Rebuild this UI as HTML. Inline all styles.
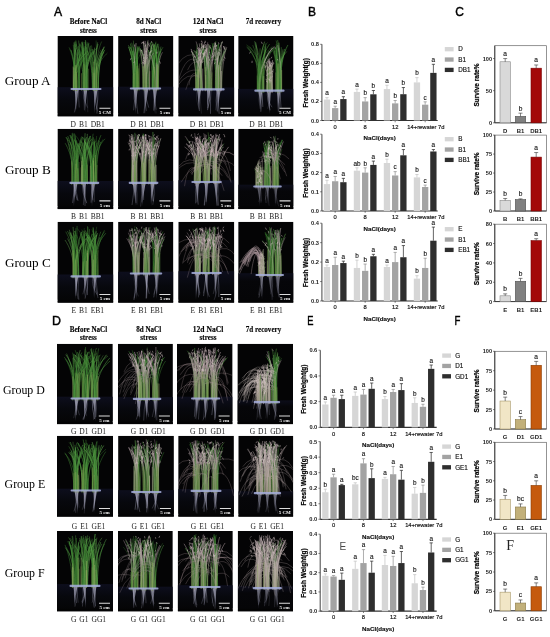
<!DOCTYPE html>
<html><head><meta charset="utf-8"><title>Figure</title>
<style>html,body{margin:0;padding:0;background:#fff;}svg{display:block;}
.s{font-family:"Liberation Sans",Arial,sans-serif}.sb{font-family:"Liberation Sans",Arial,sans-serif;font-weight:bold}
.r{font-family:"Liberation Serif","Times New Roman",serif}.rb{font-family:"Liberation Serif","Times New Roman",serif;font-weight:bold}</style>
</head><body>
<svg width="550" height="637" viewBox="0 0 550 637">
<rect width="550" height="637" fill="#fff"/>
<defs><filter id="bl" x="-5%" y="-5%" width="110%" height="110%"><feGaussianBlur stdDeviation="0.35"/></filter><linearGradient id="lw" x1="0" y1="0" x2="0" y2="1"><stop offset="0" stop-color="#0d0e1d"/><stop offset="0.5" stop-color="#07080d"/><stop offset="1" stop-color="#050506"/></linearGradient><linearGradient id="lw2" x1="0" y1="0" x2="0" y2="1"><stop offset="0" stop-color="#0c0d1a"/><stop offset="0.3" stop-color="#060609"/><stop offset="1" stop-color="#050507"/></linearGradient><linearGradient id="rg" x1="0" y1="0" x2="0" y2="1"><stop offset="0" stop-color="#d6d6ea"/><stop offset="0.5" stop-color="#a9a9c0"/><stop offset="1" stop-color="#6a6a80" stop-opacity="0.5"/></linearGradient></defs>
<text class="s" x="53.9" y="15.8" font-size="12.2" stroke="#000" stroke-width="0.4">A</text>
<text class="s" x="307.9" y="15.9" font-size="12" stroke="#000" stroke-width="0.4">B</text>
<text class="s" x="455.3" y="15.8" font-size="12" stroke="#000" stroke-width="0.4">C</text>
<text class="s" x="52.1" y="324.7" font-size="12.4" stroke="#000" stroke-width="0.4">D</text>
<text class="s" transform="translate(307.2 324.8) scale(0.74 1)" font-size="12.6" stroke="#000" stroke-width="0.4">E</text>
<text class="s" transform="translate(454.4 324.7) scale(0.78 1)" font-size="12.4" stroke="#000" stroke-width="0.4">F</text>
<text class="rb" transform="translate(88.4 24.3) scale(1 1.13)" font-size="7.1" text-anchor="middle" stroke="#000" stroke-width="0.12">Before NaCl</text>
<text class="rb" transform="translate(88.4 32.5) scale(1 1.13)" font-size="7.1" text-anchor="middle" stroke="#000" stroke-width="0.12">stress</text>
<text class="rb" transform="translate(148.7 24.3) scale(1 1.13)" font-size="7.1" text-anchor="middle" stroke="#000" stroke-width="0.12">8d NaCl</text>
<text class="rb" transform="translate(148.7 32.5) scale(1 1.13)" font-size="7.1" text-anchor="middle" stroke="#000" stroke-width="0.12">stress</text>
<text class="rb" transform="translate(208 24.3) scale(1 1.13)" font-size="7.6" text-anchor="middle" stroke="#000" stroke-width="0.12">12d NaCl</text>
<text class="rb" transform="translate(208 32.5) scale(1 1.13)" font-size="7.1" text-anchor="middle" stroke="#000" stroke-width="0.12">stress</text>
<text class="rb" transform="translate(263.5 24.3) scale(1 1.13)" font-size="7.1" text-anchor="middle" stroke="#000" stroke-width="0.12">7d recovery</text>
<text class="rb" transform="translate(88.4 331.7) scale(1 1.13)" font-size="7.1" text-anchor="middle" stroke="#000" stroke-width="0.12">Before NaCl</text>
<text class="rb" transform="translate(88.4 339.9) scale(1 1.13)" font-size="7.1" text-anchor="middle" stroke="#000" stroke-width="0.12">stress</text>
<text class="rb" transform="translate(148.7 331.7) scale(1 1.13)" font-size="7.1" text-anchor="middle" stroke="#000" stroke-width="0.12">8d NaCl</text>
<text class="rb" transform="translate(148.7 339.9) scale(1 1.13)" font-size="7.1" text-anchor="middle" stroke="#000" stroke-width="0.12">stress</text>
<text class="rb" transform="translate(208 331.7) scale(1 1.13)" font-size="7.6" text-anchor="middle" stroke="#000" stroke-width="0.12">12d NaCl</text>
<text class="rb" transform="translate(208 339.9) scale(1 1.13)" font-size="7.1" text-anchor="middle" stroke="#000" stroke-width="0.12">stress</text>
<text class="rb" transform="translate(263.5 331.7) scale(1 1.13)" font-size="7.1" text-anchor="middle" stroke="#000" stroke-width="0.12">7d recovery</text>
<text class="r" x="27.75" y="84.6" font-size="13.2" text-anchor="middle">Group A</text>
<text class="r" x="27.9" y="174" font-size="13.2" text-anchor="middle">Group B</text>
<text class="r" x="27.8" y="267.2" font-size="13.2" text-anchor="middle">Group C</text>
<text class="r" x="23.9" y="393.5" font-size="11.9" text-anchor="middle">Group D</text>
<text class="r" x="24.9" y="488" font-size="11.9" text-anchor="middle">Group E</text>
<text class="r" x="24.65" y="576.5" font-size="11.9" text-anchor="middle">Group F</text>
<clipPath id="c1"><rect x="57.45" y="36" width="55.95" height="80.5"/></clipPath>
<g clip-path="url(#c1)">
<rect x="57.45" y="36" width="55.95" height="80.5" fill="#040405"/>
<rect x="57.45" y="87.2" width="55.95" height="26.3" fill="url(#lw)"/>
<linearGradient id="g1" gradientUnits="userSpaceOnUse" x1="0" y1="89" x2="0" y2="41"><stop offset="0" stop-color="#6f9650"/><stop offset="0.4" stop-color="#8f9c78"/><stop offset="0.58" stop-color="#c2afb0"/><stop offset="1" stop-color="#b29ca4"/></linearGradient>
<g filter="url(#bl)" fill="none" stroke-linecap="round">
<path d="M74.5 89.5C75.7 95 75.1 104.8 75.7 112.8C76.3 104.8 77.3 95 78.5 89.5Z" fill="url(#rg)" stroke="none" opacity="0.6"/>
<path d="M78.6 90Q78.4 98 79.2 107.1" stroke="#b4b4cc" stroke-width="0.7" opacity="0.31"/>
<path d="M75.2 90Q76.7 98.9 75.9 108.9" stroke="#b4b4cc" stroke-width="0.5" opacity="0.41"/>
<path d="M78.5 90Q77.3 100.6 74.4 112.1" stroke="#b4b4cc" stroke-width="0.5" opacity="0.47"/>
<path d="M83.5 89.5C84.6 95 84.5 104.7 85.1 112.7C85.7 104.7 86.2 95 87.4 89.5Z" fill="url(#rg)" stroke="none" opacity="0.6"/>
<path d="M84.3 90Q83.6 99.5 84.4 109.9" stroke="#b4b4cc" stroke-width="0.6" opacity="0.31"/>
<path d="M82.9 90Q82.3 98.2 87.4 107.3" stroke="#b4b4cc" stroke-width="0.6" opacity="0.34"/>
<path d="M86.2 90Q88 100.4 87.8 111.8" stroke="#b4b4cc" stroke-width="0.4" opacity="0.32"/>
<path d="M93.3 89.5C94.6 95 93.8 105.7 94.4 113.7C95 105.7 96.4 95 97.6 89.5Z" fill="url(#rg)" stroke="none" opacity="0.6"/>
<path d="M95.5 90Q93.6 100 97.4 111" stroke="#b4b4cc" stroke-width="0.6" opacity="0.32"/>
<path d="M97.9 90Q98.6 99.1 96.2 109.2" stroke="#b4b4cc" stroke-width="0.7" opacity="0.4"/>
<path d="M96 90Q98 101.1 97 113.2" stroke="#b4b4cc" stroke-width="0.7" opacity="0.41"/>
<path d="M93.7 89C93.9 58.6 96 49.2 97.8 44.2M85.9 89C85.6 63.9 90.8 54.1 94.8 48.9" stroke="#33742c" stroke-width="0.4" opacity="0.82"/>
<path d="M78.2 89C78 63.2 79.1 54.1 79.8 49.3M76 89C75.5 61.2 72.2 52.4 69.2 47.6M86 89C85.9 63.1 85.9 49.7 85.8 42.4M75.1 89C75.1 71 78.4 58 81.1 51" stroke="#33742c" stroke-width="0.5" opacity="0.82"/>
<path d="M92.4 89C92.1 64.9 89.7 56 87.5 51.2M74.1 89C74.2 66.3 75.2 51.9 76 44.2" stroke="#4a923d" stroke-width="0.7" opacity="0.82"/>
<path d="M77.8 89C77.4 69.6 82.4 57.8 86.1 51.5M94.1 89C94.5 67.4 99.2 55.3 103.4 48.8M87 89C86.7 66.4 89 53.1 90.7 46" stroke="#4a923d" stroke-width="0.5" opacity="0.82"/>
<path d="M74.6 89C75.1 67.3 74.2 51.4 73.8 42.8M87.5 89C87.1 63.9 86 49.9 84.8 42.3" stroke="#64a651" stroke-width="0.4" opacity="0.82"/>
<path d="M75.7 89C75.3 62.1 81.6 53.5 86.4 48.8M73.9 89C74.2 69 79.9 54.4 84.8 46.5M94 89C93.8 69.8 99.9 57 104.7 50.1M76.4 89C76.5 64.1 77.9 55.4 79.2 50.7M74.1 89C74.5 73.3 81.6 60.9 87.7 54.2M96.4 89C96.2 66.6 100.4 57.1 103.7 51.9M83.5 89C83.4 64.9 90.9 53.9 97 48" stroke="#3e8631" stroke-width="0.6" opacity="0.82"/>
<path d="M93.7 89C93.3 71.2 90.3 57.9 87.6 50.7M92.9 89C92.7 68 97.2 56.3 100.8 50M96.6 89C97 57.3 96.3 46.6 96.1 40.9M86.6 89C86.3 59.2 87 49.2 87.4 43.9" stroke="#438a36" stroke-width="0.4" opacity="0.82"/>
<path d="M75.4 89C75.3 69.5 73 57.1 71.1 50.4" stroke="#438a36" stroke-width="0.7" opacity="0.82"/>
<path d="M76.3 89C76.2 65.1 75.7 54.5 75.3 48.8M73.6 89C73.8 64.7 80.5 57.3 86.1 53.3M84.5 89C84.6 67.3 83 51.3 81.7 42.7M96 89C96.4 69.8 100.3 55 103.9 47" stroke="#64a651" stroke-width="0.6" opacity="0.82"/>
<path d="M73.7 89C73.8 66.8 74.5 50.9 75.1 42.3M95.1 89C95.3 63.2 93.8 54.3 92.8 49.6" stroke="#64a651" stroke-width="0.7" opacity="0.82"/>
<path d="M83 89C82.7 60.8 80.6 51.4 78.7 46.4M82.4 89C82.1 65.9 88.7 56.3 93.8 51.1M87.5 89C87.6 67.7 84.7 51.9 82.5 43.4M86 89C86.4 56.2 85.9 46.4 85.8 41.1M98.6 89C98.6 64.1 94.4 54.2 90.9 48.8" stroke="#33742c" stroke-width="0.6" opacity="0.82"/>
<path d="M78.4 89C78.5 59.2 77 47.2 75.9 40.8M97.7 89C97.5 68 101.2 56.7 104.1 50.7" stroke="#3e8631" stroke-width="0.7" opacity="0.82"/>
<path d="M95.6 89C95.6 58.2 98.9 47.6 101.5 41.9M73.7 89C73.4 65.5 80.4 53.7 85.9 47.4M95 89C94.6 67.3 101.6 58.2 107.1 53.3M83.7 89C83.3 61.1 85.4 52.1 86.7 47.3" stroke="#57a048" stroke-width="0.4" opacity="0.82"/>
<path d="M94.4 89C94.8 65 96.1 50.5 97.6 42.7M84.8 89C85.1 68.2 90 57.5 94.3 51.8M98.4 89C98.3 64.7 101.3 56.7 103.7 52.4M85.2 89C85.1 68.9 88.6 58.4 91.5 52.7M94.2 89C94 66.3 96.2 52.2 97.9 44.6M75.2 89C75 62.5 77.8 50.7 79.9 44.3M95 89C94.6 65.3 99.3 54.9 102.9 49.3M94.4 89C94.6 68.6 94.4 55.2 94.5 48" stroke="#64a651" stroke-width="0.5" opacity="0.82"/>
<path d="M75.7 89C75.9 69 72.4 55.9 69.7 48.9M85.5 89C85.3 60.4 87.5 49.3 89.1 43.3M77.8 89C78 65.2 82.7 51.8 86.7 44.6" stroke="#3e8631" stroke-width="0.4" opacity="0.82"/>
<path d="M86.5 89C86.3 63.5 83.5 52 81 45.8" stroke="#438a36" stroke-width="0.6" opacity="0.82"/>
<path d="M84 89C84.1 67.3 82.8 52.8 81.8 45M75.7 89C75.9 67.6 74.4 53 73.3 45.2M73.4 89C73.2 60.2 74.3 48.1 75 41.5M86.9 89C86.7 68.3 80.5 52.3 75.3 43.7M84.3 89C84.2 64.5 83.6 50 83 42.2M92.4 89C92.9 61.6 92 51.4 91.6 45.9" stroke="#3e8631" stroke-width="0.5" opacity="0.82"/>
<path d="M92.7 89C93 62.8 90.1 49.6 87.9 42.6M98.2 89C98.6 60.1 101.7 51.7 104.5 47.1M83.6 89C83.7 64.6 78.8 51.9 74.8 45" stroke="#57a048" stroke-width="0.5" opacity="0.82"/>
<path d="M85.1 89C84.7 67.1 83.5 50.8 82.2 42M79.6 89C79.7 64 77.2 55.2 75.3 50.4M86.5 89C86.6 57.1 85.9 46.2 85.4 40.4" stroke="#57a048" stroke-width="0.6" opacity="0.82"/>
<path d="M79.1 89C78.7 66 81.8 54.7 84 48.7M85 89C85.4 63.6 82.1 50.6 79.8 43.6" stroke="#438a36" stroke-width="0.5" opacity="0.82"/>
<path d="M87 89C87.4 67.8 87.6 52.2 88 43.8M79.6 89C80.1 57.9 79.1 46.8 78.7 40.9" stroke="#4a923d" stroke-width="0.6" opacity="0.82"/>
<path d="M93.6 89C94.1 68.1 91.9 56.1 90.4 49.7M96.7 89C96.8 70.3 93.1 58.6 90.2 52.3" stroke="#33742c" stroke-width="0.7" opacity="0.82"/>
<path d="M76.8 90.5V74.5" stroke="#6a9142" stroke-width="0.55" opacity="0.85"/>
<path d="M76.6 90.5V65" stroke="#6a9142" stroke-width="0.55" opacity="0.85"/>
<path d="M73.9 90.5V68" stroke="#9cb068" stroke-width="0.55" opacity="0.85"/>
<path d="M75.4 90.5V65.6" stroke="#9cb068" stroke-width="0.55" opacity="0.85"/>
<path d="M76.4 90.5V72.4" stroke="#7f9f50" stroke-width="0.55" opacity="0.85"/>
<path d="M73.2 90.5V66.9" stroke="#9cb068" stroke-width="0.55" opacity="0.85"/>
<path d="M84.2 90.5V62.1" stroke="#55843c" stroke-width="0.55" opacity="0.85"/>
<path d="M88.6 90.5V69.1" stroke="#55843c" stroke-width="0.55" opacity="0.85"/>
<path d="M85.9 90.5V65.6" stroke="#55843c" stroke-width="0.55" opacity="0.85"/>
<path d="M84 90.5V64.5" stroke="#7f9f50" stroke-width="0.55" opacity="0.85"/>
<path d="M81.6 90.5V73.6" stroke="#7f9f50" stroke-width="0.55" opacity="0.85"/>
<path d="M87 90.5V69.8" stroke="#55843c" stroke-width="0.55" opacity="0.85"/>
<path d="M93.5 90.5V62.1" stroke="#7f9f50" stroke-width="0.55" opacity="0.85"/>
<path d="M96.6 90.5V66.9" stroke="#7f9f50" stroke-width="0.55" opacity="0.85"/>
<path d="M95.4 90.5V70" stroke="#55843c" stroke-width="0.55" opacity="0.85"/>
<path d="M94 90.5V73.1" stroke="#9cb068" stroke-width="0.55" opacity="0.85"/>
<path d="M92.9 90.5V67.5" stroke="#55843c" stroke-width="0.55" opacity="0.85"/>
<path d="M96.9 90.5V63.6" stroke="#7f9f50" stroke-width="0.55" opacity="0.85"/>
<rect x="70.47" y="87.9" width="31.02" height="2.2" rx="1" fill="#a6aedc" opacity="0.85"/>
</g>
<rect x="57.45" y="114.3" width="55.95" height="2.2" fill="#030304"/>
<line x1="99.4" y1="108.2" x2="110.4" y2="108.2" stroke="#dcdcdc" stroke-width="1.1"/>
<text class="rb" x="104.9" y="113.9" font-size="5" text-anchor="middle" fill="#f2f2f2">5 CM</text>
</g>
<text class="r" x="87.7" y="126.5" font-size="7.5" text-anchor="middle" fill="#222" word-spacing="1.1">D B1 DB1</text>
<clipPath id="c2"><rect x="118.1" y="36" width="55.3" height="80.5"/></clipPath>
<g clip-path="url(#c2)">
<rect x="118.1" y="36" width="55.3" height="80.5" fill="#040405"/>
<rect x="118.1" y="86.7" width="55.3" height="26.8" fill="url(#lw)"/>
<linearGradient id="g2" gradientUnits="userSpaceOnUse" x1="0" y1="88.5" x2="0" y2="41"><stop offset="0" stop-color="#6f9650"/><stop offset="0.4" stop-color="#8f9c78"/><stop offset="0.58" stop-color="#c2afb0"/><stop offset="1" stop-color="#b29ca4"/></linearGradient>
<g filter="url(#bl)" fill="none" stroke-linecap="round">
<path d="M133.6 89C134.9 94.5 134.9 105.9 135.5 113.9C136.1 105.9 136.7 94.5 138 89Z" fill="url(#rg)" stroke="none" opacity="0.6"/>
<path d="M134.4 89.5Q135.3 99.2 133.7 109.9" stroke="#b4b4cc" stroke-width="0.6" opacity="0.47"/>
<path d="M135.7 89.5Q135.9 100.9 137.8 113.4" stroke="#b4b4cc" stroke-width="0.7" opacity="0.35"/>
<path d="M134 89.5Q132.3 98.2 136.3 107.9" stroke="#b4b4cc" stroke-width="0.5" opacity="0.3"/>
<path d="M144.1 89C145.4 94.5 144.6 105.9 145.2 113.9C145.8 105.9 147.2 94.5 148.5 89Z" fill="url(#rg)" stroke="none" opacity="0.6"/>
<path d="M143.8 89.5Q144.2 99.6 146.6 110.7" stroke="#b4b4cc" stroke-width="0.5" opacity="0.4"/>
<path d="M146.2 89.5Q144.7 97.9 148.6 107.3" stroke="#b4b4cc" stroke-width="0.7" opacity="0.38"/>
<path d="M144.7 89.5Q145.8 100.7 144.1 112.8" stroke="#b4b4cc" stroke-width="0.7" opacity="0.49"/>
<path d="M153.1 89C154.3 94.5 153.9 105.6 154.5 113.6C155.1 105.6 156 94.5 157.2 89Z" fill="url(#rg)" stroke="none" opacity="0.6"/>
<path d="M153.4 89.5Q154.7 99.3 153.8 110.2" stroke="#b4b4cc" stroke-width="0.8" opacity="0.41"/>
<path d="M153.8 89.5Q154.1 99 156.1 109.4" stroke="#b4b4cc" stroke-width="0.6" opacity="0.38"/>
<path d="M154 89.5Q155.5 100.9 156 113.2" stroke="#b4b4cc" stroke-width="0.4" opacity="0.33"/>
<path d="M155.5 88.5C155.7 59.8 157.4 50.3 158.9 45.1" stroke="#64a651" stroke-width="0.4" opacity="0.82"/>
<path d="M156.8 88.5C156.8 67.8 152 56.2 148.1 49.9M136.7 88.5C136.5 61.5 133.2 52.3 130.3 47.4M145.9 88.5C145.9 57 144.6 48.1 143.6 43.3M148.8 88.5C148.7 64.7 150.2 52.5 151.3 45.9M135.3 88.5C135.4 63.4 134.2 53.1 133.3 47.5" stroke="#4a923d" stroke-width="0.6" opacity="0.82"/>
<path d="M143.2 88.5C142.8 64 141.1 55.1 139.4 50.3M145.5 88.5C145.4 63.7 146.7 49.5 147.6 41.8M135.3 88.5C135 63.2 136.8 53.3 137.9 47.9M152 88.5C152.1 59.7 153.1 50.3 154.1 45.3" stroke="#438a36" stroke-width="0.6" opacity="0.82"/>
<path d="M152 88.5C152.5 69.6 150.7 58.8 149.6 53" stroke="#33742c" stroke-width="0.6" opacity="0.82"/>
<path d="M145.6 88.5C145.6 66 149.9 53.2 153.4 46.3M137.5 88.5C137.4 69.7 134.2 58.3 131.5 52.2M146.4 88.5C146.2 60.5 142.4 51.8 139.1 47.1M152.9 88.5C152.6 68.5 158.3 54.9 162.8 47.5" stroke="#4a923d" stroke-width="0.5" opacity="0.82"/>
<path d="M133.1 88.5C132.8 64.4 136.2 54 138.8 48.4M157.4 88.5C157 66.6 155.7 52.1 154.4 44.3M136.6 88.5C136.7 67.7 137 54 137.4 46.7M138.6 88.5C138.5 65.1 136.4 53.6 134.6 47.4" stroke="#3e8631" stroke-width="0.7" opacity="0.82"/>
<path d="M135.7 88.5C135.3 69.5 132.4 56.4 129.7 49.3M147.6 88.5C147.8 63.6 150 51.8 151.9 45.4M147.2 88.5C146.9 62.8 143.4 53.4 140.3 48.3M152.8 88.5C152.7 63.3 155 55.2 156.9 50.9M138.5 88.5C138.4 63.7 135.8 55.4 133.6 51" stroke="#3e8631" stroke-width="0.6" opacity="0.82"/>
<path d="M134.1 88.5C134.2 61.6 132.2 50.5 130.7 44.6M156.5 88.5C156.1 68 158.9 54.3 160.9 46.9M135.8 88.5C136 61.1 133.5 49.4 131.7 43.1M134.3 88.5C134.2 55.4 133.8 46 133.4 41" stroke="#57a048" stroke-width="0.5" opacity="0.82"/>
<path d="M137.6 88.5C137.8 57.6 136.7 48.8 136 44M133.4 88.5C133 67.3 138.9 55.4 143.3 49.1M137.4 88.5C137.6 69.8 133.4 58.6 130.1 52.5" stroke="#3e8631" stroke-width="0.4" opacity="0.82"/>
<path d="M133.8 88.5C134.2 65.3 130.8 52.5 128.5 45.6M148.9 88.5C148.8 67.8 143.9 55.5 139.7 48.9M146.9 88.5C146.6 64.5 147.9 55.6 148.7 50.8M158.3 88.5C158.5 65.9 159.9 55 161.1 49.2" stroke="#64a651" stroke-width="0.5" opacity="0.82"/>
<path d="M158 88.5C158.3 59.9 154.6 48.2 151.8 41.9M153 88.5C152.7 62.2 155.6 50.4 157.7 44M138.2 88.5C137.8 69 136.5 55.9 135.2 48.9M134.9 88.5C135.3 70.2 133.8 57.9 132.9 51.3" stroke="#438a36" stroke-width="0.7" opacity="0.82"/>
<path d="M153.8 88.5C154.2 58.9 153.7 49.2 153.6 44" stroke="#64a651" stroke-width="0.7" opacity="0.82"/>
<path d="M154.5 88.5C154.1 66.1 152.3 53.7 150.4 47.1" stroke="#438a36" stroke-width="0.5" opacity="0.82"/>
<path d="M133.7 88.5C134.1 62.1 130.9 52.6 128.6 47.4M157.6 88.5C157.5 62 156.5 49.7 155.5 43.1M152.8 88.5C153 58.7 151.7 48.2 150.8 42.5" stroke="#57a048" stroke-width="0.6" opacity="0.82"/>
<path d="M152.5 88.5C152.3 64.7 155.6 51.4 158.1 44.3M137 88.5C137.4 62.9 133 52.6 129.8 47M158 88.5C158.3 62.8 158.4 52.6 158.8 47M155.3 88.5C155.6 62.6 152.7 50.2 150.5 43.5M155.5 88.5C155.9 71.4 158 58.3 160.1 51.3" stroke="#4a923d" stroke-width="0.7" opacity="0.82"/>
<path d="M155.5 88.5C155.9 59 155.7 48 155.9 42M132.8 88.5C132.5 59.7 131.6 49.3 130.6 43.7" stroke="#3e8631" stroke-width="0.5" opacity="0.82"/>
<path d="M136.9 88.5C136.8 66.3 137.7 53.7 138.3 47M152.9 88.5C153.4 68.9 153.9 53.5 154.8 45.2" stroke="#64a651" stroke-width="0.6" opacity="0.82"/>
<path d="M157.5 88.5C157.5 64.8 156.6 54.8 155.9 49.5" stroke="#57a048" stroke-width="0.7" opacity="0.82"/>
<path d="M134.2 88.5C134.5 64.3 137.3 52.6 139.9 46.2" stroke="#4a923d" stroke-width="0.4" opacity="0.82"/>
<path d="M146.2 88.5C146.4 61.3 145.6 48.3 145.1 41.3" stroke="url(#g2)" stroke-width="0.7" opacity="0.82"/>
<path d="M149.4 88.5C149.7 65.2 147.1 55.2 145.1 49.8M145.5 88.5C145.9 66.8 146.9 52.7 148.1 45.1" stroke="url(#g2)" stroke-width="0.4" opacity="0.82"/>
<path d="M155.8 88.5C155.3 70.3 152.3 58.6 149.3 52.4M143.2 88.5C143.1 63.5 144.5 51.2 145.6 44.6M157.5 88.5C157.3 63.4 160.1 56.4 162.3 52.6M143.4 88.5C143 67.5 146.1 51 148.3 42.2M145 88.5C144.6 63.4 146.7 52.6 148.1 46.8M146.1 88.5C146.1 68.3 149.7 52.8 152.6 44.4M145.8 88.5C145.6 66.8 149.9 57.9 153.3 53.2M146.3 88.5C146.2 65.1 144.9 50.5 143.7 42.7M147.9 88.5C148.2 68.1 147 55.3 146.3 48.3" stroke="url(#g2)" stroke-width="0.5" opacity="0.82"/>
<path d="M143.2 88.5C143.3 62.3 141.4 53.9 140 49.3M133.6 88.5C133.9 66.8 134.9 51.6 136 43.4M145.4 88.5C145.4 63.8 143.3 55.1 141.6 50.3M144.6 88.5C144.6 57.6 146.4 46.5 148 40.6M144.8 88.5C144.6 64.7 144.1 49.5 143.5 41.3" stroke="url(#g2)" stroke-width="0.6" opacity="0.82"/>
<path d="M134.5 44.9l0.1 1.5M131.1 58.3l-0.6 1.5M134.2 61.9l-0.4 0.8M143.5 60.5l0.7 0.9M142.5 62.6l-0.4 0.7M142.6 42.3l0.4 0.6M147.3 57.1l-0.6 1.5M146.6 51.1l-0.8 0.8M141.3 50.3l0.5 0.8M147.6 55l0.6 1M145.7 45.1l-0.4 1M143.9 54.3l0.2 0.8M149.1 44.9l0.7 1.5M142.2 42.4l-0.4 1.2M150.4 51.6l-0.4 1.5M143.3 42.1l0.7 1.2M151.5 41.6l0.2 0.8M143.4 62.3l0.5 1.6M148.9 43.5l-0.2 1.4M149 54.2l0.7 0.9M144.2 57.1l-0.4 1.5M157 52.1l-0.1 1.2M159.7 61.6l0.6 1.6M151.6 50.6l-0.6 1.6" stroke="#d2c2c2" stroke-width="0.7" opacity="0.7"/>
<path d="M137.4 90V71.9" stroke="#6a9142" stroke-width="0.55" opacity="0.85"/>
<path d="M137.8 90V66" stroke="#7f9f50" stroke-width="0.55" opacity="0.85"/>
<path d="M134.2 90V73.8" stroke="#7f9f50" stroke-width="0.55" opacity="0.85"/>
<path d="M136.6 90V66.2" stroke="#6a9142" stroke-width="0.55" opacity="0.85"/>
<path d="M139.3 90V63.9" stroke="#6a9142" stroke-width="0.55" opacity="0.85"/>
<path d="M138.8 90V68.8" stroke="#6a9142" stroke-width="0.55" opacity="0.85"/>
<path d="M149.8 90V71.6" stroke="#9aa07e" stroke-width="0.55" opacity="0.85"/>
<path d="M143.5 90V66.2" stroke="#55843c" stroke-width="0.55" opacity="0.85"/>
<path d="M146.4 90V72.5" stroke="#9aa07e" stroke-width="0.55" opacity="0.85"/>
<path d="M149.4 90V60.6" stroke="#a89c90" stroke-width="0.55" opacity="0.85"/>
<path d="M145.1 90V64.5" stroke="#6a9142" stroke-width="0.55" opacity="0.85"/>
<path d="M143.2 90V66.8" stroke="#9cb068" stroke-width="0.55" opacity="0.85"/>
<path d="M156.8 90V64.9" stroke="#9aa07e" stroke-width="0.55" opacity="0.85"/>
<path d="M156.4 90V63" stroke="#a89c90" stroke-width="0.55" opacity="0.85"/>
<path d="M152.6 90V70.6" stroke="#55843c" stroke-width="0.55" opacity="0.85"/>
<path d="M154.4 90V67.1" stroke="#9cb068" stroke-width="0.55" opacity="0.85"/>
<path d="M157.7 90V64.7" stroke="#9cb068" stroke-width="0.55" opacity="0.85"/>
<path d="M158.2 90V66.8" stroke="#7f9f50" stroke-width="0.55" opacity="0.85"/>
<rect x="129.8" y="87.4" width="31.36" height="2.2" rx="1" fill="#a6aedc" opacity="0.85"/>
</g>
<rect x="118.1" y="114.3" width="55.3" height="2.2" fill="#030304"/>
<line x1="159.4" y1="108.2" x2="170.4" y2="108.2" stroke="#dcdcdc" stroke-width="1.1"/>
<text class="rb" x="164.9" y="113.9" font-size="5" text-anchor="middle" fill="#f2f2f2">5 cm</text>
</g>
<text class="r" x="147.3" y="126.5" font-size="7.5" text-anchor="middle" fill="#222" word-spacing="1.1">D B1 DB1</text>
<clipPath id="c3"><rect x="178.3" y="36" width="56" height="80.5"/></clipPath>
<g clip-path="url(#c3)">
<rect x="178.3" y="36" width="56" height="80.5" fill="#040405"/>
<rect x="178.3" y="87.5" width="56" height="26" fill="url(#lw)"/>
<linearGradient id="g3" gradientUnits="userSpaceOnUse" x1="0" y1="89.3" x2="0" y2="41"><stop offset="0" stop-color="#6f9650"/><stop offset="0.4" stop-color="#8f9c78"/><stop offset="0.58" stop-color="#c2afb0"/><stop offset="1" stop-color="#b29ca4"/></linearGradient>
<g filter="url(#bl)" fill="none" stroke-linecap="round">
<path d="M197 89.8C198.2 95.3 198.3 103.8 198.9 111.8C199.5 103.8 199.8 95.3 201.1 89.8Z" fill="url(#rg)" stroke="none" opacity="0.6"/>
<path d="M199.6 90.3Q197.7 99.9 199.5 110.6" stroke="#b4b4cc" stroke-width="0.6" opacity="0.45"/>
<path d="M200.4 90.3Q200 101.2 201.4 113.2" stroke="#b4b4cc" stroke-width="0.4" opacity="0.34"/>
<path d="M196.9 90.3Q195.1 99.1 199.2 108.8" stroke="#b4b4cc" stroke-width="0.4" opacity="0.3"/>
<path d="M206.8 89.8C207.8 95.3 206.6 104.3 207.2 112.3C207.8 104.3 209.2 95.3 210.3 89.8Z" fill="url(#rg)" stroke="none" opacity="0.6"/>
<path d="M210.9 90.3Q210.4 101.4 210.5 113.4" stroke="#b4b4cc" stroke-width="0.7" opacity="0.46"/>
<path d="M209.4 90.3Q211.2 98.5 207.9 107.7" stroke="#b4b4cc" stroke-width="0.7" opacity="0.41"/>
<path d="M209.4 90.3Q210.8 99.5 207.7 109.6" stroke="#b4b4cc" stroke-width="0.7" opacity="0.44"/>
<path d="M216.5 89.8C217.8 95.3 217.2 105.6 217.8 113.6C218.4 105.6 219.5 95.3 220.8 89.8Z" fill="url(#rg)" stroke="none" opacity="0.6"/>
<path d="M218.3 90.3Q217.7 101.4 219.1 113.4" stroke="#b4b4cc" stroke-width="0.7" opacity="0.45"/>
<path d="M216.5 90.3Q217 99.5 215.6 109.8" stroke="#b4b4cc" stroke-width="0.4" opacity="0.38"/>
<path d="M216.8 90.3Q215.2 100.2 217.2 111" stroke="#b4b4cc" stroke-width="0.7" opacity="0.46"/>
<path d="M205.9 89.3C205.7 65 204.5 52.2 203.3 45.3M207.8 89.3C208 66.6 208.5 52.4 209 44.8" stroke="#64a651" stroke-width="0.5" opacity="0.82"/>
<path d="M207.4 89.3C207.2 60.9 207.2 52.8 207 48.4M215.6 89.3C215.1 64.7 215.6 49.6 215.7 41.5M217.1 89.3C217.3 60 217.7 49.8 218.1 44.3M216.9 89.3C217.2 63.7 218.9 54 220.6 48.8" stroke="#438a36" stroke-width="0.6" opacity="0.82"/>
<path d="M217.7 89.3C217.5 67.3 214.6 51.7 212.1 43.3M208.1 89.3C208.4 58 212.2 48.8 215.5 43.8M210.1 89.3C210.6 63.6 205.9 56.1 202.5 52" stroke="#3e8631" stroke-width="0.5" opacity="0.82"/>
<path d="M200 89.3C200.1 63.1 203.8 53.2 207 47.8" stroke="#4a923d" stroke-width="0.4" opacity="0.82"/>
<path d="M208.4 89.3C208.9 60.6 211.2 49.5 213.6 43.6M201.4 89.3C201.5 64.6 200.7 54.9 200.1 49.7" stroke="#57a048" stroke-width="0.6" opacity="0.82"/>
<path d="M209.5 89.3C209.3 68.9 204.4 55.7 200.2 48.6M197.2 89.3C197.5 65 195.1 56.8 193.3 52.5" stroke="#4a923d" stroke-width="0.5" opacity="0.82"/>
<path d="M201.9 89.3C202 65.9 197.6 55.9 194 50.5" stroke="#64a651" stroke-width="0.7" opacity="0.82"/>
<path d="M216.2 89.3C216.3 63.3 212.9 52.8 210.3 47.2M217.4 89.3C217.6 63.1 218 50.9 218.5 44.3M197.2 89.3C196.9 61.4 200.8 52.7 203.8 48.1" stroke="#4a923d" stroke-width="0.7" opacity="0.82"/>
<path d="M211.3 89.3C211.1 67.8 205.2 56.5 200.2 50.4M207.8 89.3C207.4 69.9 206.1 57.8 204.7 51.3" stroke="#438a36" stroke-width="0.5" opacity="0.82"/>
<path d="M207 89.3C207 63.6 208.6 51.9 209.8 45.7M197.5 89.3C197.1 71.5 197.6 58.1 197.7 50.9M206.2 89.3C206 61.6 203.7 52.7 201.7 47.9M216.9 89.3C217.1 57.5 219.7 47.5 221.9 42.2" stroke="#4a923d" stroke-width="0.6" opacity="0.82"/>
<path d="M198.3 89.3C198.3 62.8 197.2 54.9 196.4 50.7M197 89.3C196.8 70.7 194.1 58.6 191.8 52" stroke="#33742c" stroke-width="0.7" opacity="0.82"/>
<path d="M205.7 89.3C205.3 64.2 203.2 51.2 201.1 44.2M219.3 89.3C219.2 70.4 222.5 57.8 225.1 51.1" stroke="#64a651" stroke-width="0.6" opacity="0.82"/>
<path d="M198 89.3C197.7 66.2 202.7 52.8 206.5 45.6M195.9 89.3C196.3 61.2 196.6 50.5 197.1 44.7M217.6 89.3C217.9 64.9 222.4 55 226.3 49.6M218.5 89.3C219 66.1 216.5 51.9 214.9 44.2" stroke="#57a048" stroke-width="0.5" opacity="0.82"/>
<path d="M208.1 89.3C208.3 64.9 205 53 202.5 46.6" stroke="#33742c" stroke-width="0.4" opacity="0.82"/>
<path d="M200.2 89.3C199.9 70.1 198.2 57.5 196.6 50.8M219 89.3C218.8 63.9 220.4 55.2 221.6 50.5" stroke="#33742c" stroke-width="0.6" opacity="0.82"/>
<path d="M217.6 89.3C218 72.3 221.1 58.9 224 51.7M205.5 89.3C205.1 61.9 208.2 53.1 210.5 48.3M216.2 89.3C215.8 64.7 216.8 52.1 217.3 45.3" stroke="#33742c" stroke-width="0.5" opacity="0.82"/>
<path d="M216.9 89.3C216.9 69.6 221.6 55.5 225.5 47.9" stroke="#3e8631" stroke-width="0.4" opacity="0.82"/>
<path d="M196 89.3C196.2 65.8 193.4 55.1 191.2 49.3M206.2 89.3C206.4 58.6 206.6 49.5 206.9 44.6M220.8 89.3C220.7 68.2 221.1 51.6 221.4 42.6M215.9 89.3C216 59.2 218.6 50.1 220.8 45.2M201.1 89.3C201.5 65.4 200.3 55.4 199.6 50M202.1 89.3C201.9 68.6 196.2 57.4 191.4 51.3M211.4 89.3C211.6 65.8 213 53.1 214.3 46.3M198 89.3C198.3 64.6 202.9 54.2 206.9 48.5M209.9 89.3C209.9 67.5 205.3 51.9 201.4 43.5M200.5 89.3C200.2 65.5 201.5 50.1 202.2 41.9M196.7 89.3C196.2 71.8 201.9 58.7 206.2 51.6" stroke="url(#g3)" stroke-width="0.7" opacity="0.82"/>
<path d="M198.4 89.3C198.3 70.5 199.3 56.1 200 48.4M207.8 89.3C208.3 62 207.8 49.5 207.7 42.8M219.9 89.3C219.7 68.4 217 58.1 214.5 52.6M201.4 89.3C201.2 60.6 200.2 49.7 199.3 43.8M209.5 89.3C210 65.1 207.3 51.6 205.5 44.4M218.6 89.3C218.3 65.5 216.6 51.6 215 44.1M210.1 89.3C209.7 61.1 213 49.5 215.4 43.2M197.8 89.3C197.6 69.4 198.5 56.7 199.2 49.9M196.7 89.3C197.1 61 200.4 52.5 203.4 47.8" stroke="url(#g3)" stroke-width="0.6" opacity="0.82"/>
<path d="M210.4 89.3C210.3 60.6 209.4 50.1 208.5 44.5M205.8 89.3C205.5 65.8 204.2 57.8 202.9 53.4M209.4 89.3C209.6 61.8 206.7 50.8 204.5 44.9M197.3 89.3C197.2 67.1 198 54.7 198.5 48M198 89.3C198.4 70.4 203.1 56.6 207.2 49.2M221.3 89.3C221.5 62.4 223.3 52.2 224.9 46.7M216.2 89.3C216.7 64.5 215.1 52.3 214.1 45.7M217.9 89.3C217.4 66.6 222.7 54.5 226.7 47.9" stroke="url(#g3)" stroke-width="0.4" opacity="0.82"/>
<path d="M200.9 89.3C200.5 59.9 198.3 48.2 196.2 41.9M221 89.3C221.4 66.6 217.8 52.7 215.2 45.1M209.1 89.3C208.9 65.8 213.1 56.5 216.3 51.5M215.4 89.3C215 64 218.4 54.7 220.9 49.7M221.8 89.3C221.9 70.3 224.2 55.3 226.2 47.3" stroke="url(#g3)" stroke-width="0.5" opacity="0.82"/>
<path d="M200.8 63.6Q192.2 58.2 187.7 69.7M198.4 77Q191.7 67 189 84.8M198.2 61Q186.4 52.2 178.5 80.1M200.3 71Q185.2 65.3 174.2 89.5M218 60.6Q210.1 55.2 206.3 70.6M198 55.6Q186.2 51.5 178.5 63.3M199.6 77Q186.6 71.5 177.6 85.8M199.1 75.8Q190.5 71.3 185.9 89.4" stroke="#9c8c90" stroke-width="0.4" opacity="0.7"/>
<path d="M193.6 59.9l0.3 0.8M201.5 41l-0.1 0.6M200.8 55.9l-0.6 1.6M204.4 53.4l-0.1 1.2M198.6 53.9l0.1 0.7M195.8 51.5l0.7 1.6M199.8 52.7l0.8 1.4M195.7 56.5l-0.6 0.6M196.7 61.3l0.3 0.9M200.4 49.9l-0.5 1.3M201.4 47.3l-0.1 0.7M194.4 56.3l0.7 0.9M199.8 59.3l-0.3 1.1M198.2 47.7l-0.6 1.1M203.6 45.3l-0.3 1M199.2 48.6l-0.8 1.5M204.8 42.2l-0.4 1.3M204.5 55.2l-0.7 1.4M198.8 57.2l-0.5 1.4M201.4 52.2l-0.6 0.9M204.9 46.8l0 0.9M205.4 49.5l0.2 1.4M210.1 54.7l0.7 0.7M210.2 47.2l0.4 1M211.9 56.6l-0.3 0.7M203.7 45.8l-0.6 1.5M210 45.8l-0.2 1.2M209.4 59.2l0.4 1.5M205.2 41.1l0.1 1.2M202.9 53.8l0.4 1M202.9 61.4l-0.7 1.3M206.2 50.2l-0.1 0.9M209.5 52.1l0 0.9M203.9 44.4l0.2 0.9M208.4 56.9l0.4 1.1M203 46.5l0.6 0.8M204 46.2l-0.7 1.5M203.6 52.8l-0.3 1.1M205.2 52.1l-0.5 0.9M212.8 56.1l-0.3 1.1M213.4 54.9l0.5 1.1M215 42.4l-0.1 1.2M216.4 45.3l-0.2 1.4M216.5 59l-0.8 0.9M216.7 45.4l-0.3 0.7M219 52.2l0.4 0.9M223.7 59.6l0.2 0.6M218.5 42.7l0.4 1.1M215.4 48.6l-0.5 0.6M224.4 56.9l0.6 1.5M219.9 53.7l-0.5 1.6M212.9 53.3l-0.1 1.1M223.4 46.3l0.5 0.8M224.3 48l0.5 1.4M219.2 49.5l0.3 0.8M215.5 43.7l0.2 1.3M215 62.7l-0.6 1.1M223.9 46.7l0.1 1.5M222.4 41.7l0 1.3M218.4 53.2l-0.8 0.6" stroke="#d2c2c2" stroke-width="0.7" opacity="0.7"/>
<path d="M202.7 90.8V69" stroke="#b8aca4" stroke-width="0.55" opacity="0.85"/>
<path d="M197.8 90.8V68.7" stroke="#6a9142" stroke-width="0.55" opacity="0.85"/>
<path d="M199.2 90.8V69.7" stroke="#a89c90" stroke-width="0.55" opacity="0.85"/>
<path d="M200.8 90.8V66.6" stroke="#9aa07e" stroke-width="0.55" opacity="0.85"/>
<path d="M195.7 90.8V72.5" stroke="#9cb068" stroke-width="0.55" opacity="0.85"/>
<path d="M198.7 90.8V69.1" stroke="#9cb068" stroke-width="0.55" opacity="0.85"/>
<path d="M212 90.8V72.8" stroke="#7f9f50" stroke-width="0.55" opacity="0.85"/>
<path d="M211 90.8V62.8" stroke="#9aa07e" stroke-width="0.55" opacity="0.85"/>
<path d="M208.6 90.8V68.6" stroke="#9aa07e" stroke-width="0.55" opacity="0.85"/>
<path d="M205.7 90.8V75.2" stroke="#9aa07e" stroke-width="0.55" opacity="0.85"/>
<path d="M205.1 90.8V67.6" stroke="#9cb068" stroke-width="0.55" opacity="0.85"/>
<path d="M209 90.8V69" stroke="#55843c" stroke-width="0.55" opacity="0.85"/>
<path d="M217 90.8V66.6" stroke="#b8aca4" stroke-width="0.55" opacity="0.85"/>
<path d="M218 90.8V67.2" stroke="#7f9f50" stroke-width="0.55" opacity="0.85"/>
<path d="M220.6 90.8V66.7" stroke="#b8aca4" stroke-width="0.55" opacity="0.85"/>
<path d="M219.4 90.8V62.9" stroke="#6a9142" stroke-width="0.55" opacity="0.85"/>
<path d="M221.5 90.8V71.3" stroke="#b8aca4" stroke-width="0.55" opacity="0.85"/>
<path d="M218.5 90.8V65.3" stroke="#b8aca4" stroke-width="0.55" opacity="0.85"/>
<rect x="193.02" y="88.2" width="31.6" height="2.2" rx="1" fill="#a6aedc" opacity="0.85"/>
</g>
<rect x="178.3" y="114.3" width="56" height="2.2" fill="#030304"/>
<line x1="220.3" y1="108.2" x2="231.3" y2="108.2" stroke="#dcdcdc" stroke-width="1.1"/>
<text class="rb" x="225.8" y="113.9" font-size="5" text-anchor="middle" fill="#f2f2f2">5 cm</text>
</g>
<text class="r" x="206.9" y="126.5" font-size="7.5" text-anchor="middle" fill="#222" word-spacing="1.1">D B1 DB1</text>
<clipPath id="c4"><rect x="238.2" y="36" width="55.3" height="80.5"/></clipPath>
<g clip-path="url(#c4)">
<rect x="238.2" y="36" width="55.3" height="80.5" fill="#040405"/>
<rect x="238.2" y="88.9" width="55.3" height="24.6" fill="url(#lw)"/>
<linearGradient id="g4" gradientUnits="userSpaceOnUse" x1="0" y1="90.7" x2="0" y2="41"><stop offset="0" stop-color="#6f9650"/><stop offset="0.4" stop-color="#8f9c78"/><stop offset="0.58" stop-color="#c2afb0"/><stop offset="1" stop-color="#b29ca4"/></linearGradient>
<g filter="url(#bl)" fill="none" stroke-linecap="round">
<path d="M258.3 91.2C259.5 96.7 259.8 104.7 260.4 112.7C261 104.7 261.1 96.7 262.4 91.2Z" fill="url(#rg)" stroke="none" opacity="0.6"/>
<path d="M261.8 91.7Q262.5 98.6 262.8 106.5" stroke="#b4b4cc" stroke-width="0.7" opacity="0.47"/>
<path d="M259.1 91.7Q258.1 99.6 260 108.5" stroke="#b4b4cc" stroke-width="0.5" opacity="0.31"/>
<path d="M262.1 91.7Q262.5 101 260.9 111.4" stroke="#b4b4cc" stroke-width="0.8" opacity="0.31"/>
<path d="M267.2 91.2C268.4 96.7 269.1 105.9 269.7 113.9C270.3 105.9 269.9 96.7 271.1 91.2Z" fill="url(#rg)" stroke="none" opacity="0.6"/>
<path d="M268.1 91.7Q266.6 100.3 270 109.9" stroke="#b4b4cc" stroke-width="0.8" opacity="0.41"/>
<path d="M269.9 91.7Q271.3 99.5 267.9 108.3" stroke="#b4b4cc" stroke-width="0.6" opacity="0.31"/>
<path d="M267.3 91.7Q266.4 98.8 271.8 106.9" stroke="#b4b4cc" stroke-width="0.6" opacity="0.43"/>
<path d="M276.7 91.2C277.8 96.7 277.4 105.4 278 113.4C278.6 105.4 279.3 96.7 280.4 91.2Z" fill="url(#rg)" stroke="none" opacity="0.6"/>
<path d="M280.6 91.7Q279.7 101 278.5 111.4" stroke="#b4b4cc" stroke-width="0.7" opacity="0.39"/>
<path d="M279 91.7Q277 99.6 279.5 108.5" stroke="#b4b4cc" stroke-width="0.4" opacity="0.41"/>
<path d="M279.9 91.7Q280.5 99 281 107.3" stroke="#b4b4cc" stroke-width="0.7" opacity="0.42"/>
<path d="M280.7 90.7C281 66.2 279.7 51.1 278.9 43M259.6 90.7C259.6 67.1 257.4 51.3 255.7 42.7M280 90.7C280.1 72.9 282.4 59.5 284.4 52.3" stroke="#64a651" stroke-width="0.7" opacity="0.82"/>
<path d="M257.5 90.7C257.5 59.7 255.9 47.9 254.7 41.5M277.6 90.7C277.2 63.5 275.9 55.4 274.5 51.1M279.4 90.7C278.9 68 279.5 55.2 279.5 48.4M263.2 90.7C262.7 70.6 254.5 55.7 247.4 47.7M278.5 90.7C278.2 64.3 274.8 54.4 271.8 49" stroke="#57a048" stroke-width="0.5" opacity="0.82"/>
<path d="M267.6 90.7C267.8 78.9 270.1 70.9 272.1 66.6M281.1 90.7C280.9 62.3 282.1 54 282.9 49.6" stroke="#64a651" stroke-width="0.5" opacity="0.82"/>
<path d="M259.8 90.7C259.8 67 266.4 56.7 271.7 51.2M272.1 90.7C271.7 75.7 270.8 67.4 269.6 62.9" stroke="#33742c" stroke-width="0.7" opacity="0.82"/>
<path d="M262.8 90.7C262.9 69.5 259 53.5 255.9 44.9" stroke="#64a651" stroke-width="0.4" opacity="0.82"/>
<path d="M257.4 90.7C257 60.8 265.5 51.8 272.1 46.9M262 90.7C262.2 62.5 264.1 50.2 265.8 43.6M263.1 90.7C263 67.3 255.8 54.1 249.8 47M279.4 90.7C279 67.7 282.9 56.1 285.8 49.8M280.1 90.7C280 68.7 276.9 55.4 274.4 48.2" stroke="#33742c" stroke-width="0.6" opacity="0.82"/>
<path d="M278.6 90.7C278.8 66.9 283.6 52.9 287.7 45.4M258.3 90.7C258.8 64.5 264.4 51.5 269.3 44.5" stroke="#4a923d" stroke-width="0.7" opacity="0.82"/>
<path d="M278.4 90.7C278.3 58.3 277.5 47.3 276.7 41.3" stroke="#33742c" stroke-width="0.4" opacity="0.82"/>
<path d="M263.5 90.7C263.1 59.9 264.8 50.4 265.8 45.2" stroke="#438a36" stroke-width="0.4" opacity="0.82"/>
<path d="M263.2 90.7C263 66.8 268.4 55.5 272.7 49.5M260.5 90.7C260.5 68.5 256.3 53.6 252.9 45.5" stroke="#438a36" stroke-width="0.5" opacity="0.82"/>
<path d="M276.7 90.7C277 70.3 276.7 56.7 276.7 49.4M281.1 90.7C281.3 66.9 279.2 49.7 277.7 40.4M280.7 90.7C280.9 67.4 279.5 54.9 278.4 48.2M259 90.7C259.1 61.5 252.6 51.9 247.4 46.8M259.1 90.7C258.8 67.8 259.7 55.4 260.1 48.8M278.4 90.7C278.9 70.4 275.6 55.7 273.4 47.7M259.3 90.7C259.1 59.4 261.8 49.8 263.9 44.6" stroke="#438a36" stroke-width="0.6" opacity="0.82"/>
<path d="M276.2 90.7C276.6 62.5 276.2 50.9 276.2 44.6M278.1 90.7C277.8 71.6 281.7 57.1 284.6 49.3M281.1 90.7C281 60.7 281.2 52.2 281.3 47.6" stroke="#4a923d" stroke-width="0.6" opacity="0.82"/>
<path d="M277 90.7C277.4 69.5 276.8 54.4 276.6 46.2M258.4 90.7C258.3 67.1 265.9 55.1 272 48.7" stroke="#438a36" stroke-width="0.7" opacity="0.82"/>
<path d="M257.5 90.7C257.2 68.6 261.4 51.3 264.5 42M263.4 90.7C263.4 67.2 264.7 53.9 265.8 46.8M277.5 90.7C277.2 64.6 282.4 56.4 286.4 51.9" stroke="#64a651" stroke-width="0.6" opacity="0.82"/>
<path d="M280.3 90.7C280.2 68.5 277.4 55.1 275.1 47.9M271 90.7C270.8 77.8 269 71.1 267.4 67.4" stroke="#4a923d" stroke-width="0.5" opacity="0.82"/>
<path d="M276.4 90.7C276.1 67.3 274.9 55 273.6 48.3M261.8 90.7C262.1 70.1 265.7 57.5 268.9 50.8" stroke="#3e8631" stroke-width="0.5" opacity="0.82"/>
<path d="M257.7 90.7C257.9 59.7 262.9 48.7 267.2 42.8M279.3 90.7C278.9 57.7 277.6 46.6 276.1 40.7" stroke="#33742c" stroke-width="0.5" opacity="0.82"/>
<path d="M262.9 90.7C263.4 58.9 254 50 246.8 45.1" stroke="#3e8631" stroke-width="0.4" opacity="0.82"/>
<path d="M281 90.7C280.9 69 279.2 52.5 277.8 43.6" stroke="#57a048" stroke-width="0.4" opacity="0.82"/>
<path d="M260 90.7C259.8 71.8 263.1 57.5 265.6 49.9" stroke="#57a048" stroke-width="0.7" opacity="0.82"/>
<path d="M267.8 90.7C268.1 76 267.8 71.2 267.8 68.6M269.1 90.7C269.4 76.3 269.8 68.2 270.4 63.8M266.2 90.7C266.6 71.6 267.5 63.5 268.5 59.1M272 90.7C272 71.9 269.9 65 268.2 61.3M269.3 90.7C269.6 71.3 271.6 65.7 273.4 62.6M258.5 90.7C258.3 68.9 266.9 54.5 273.8 46.8M270.4 90.7C270.1 75.8 269.6 70.5 269 67.6" stroke="url(#g4)" stroke-width="0.5" opacity="0.82"/>
<path d="M259.4 90.7C259.7 68.3 266.5 55.2 272.3 48.2M269.2 90.7C269.1 73.5 269.4 63.9 269.7 58.7M268.9 90.7C269.4 81.6 267.8 74.4 267 70.6" stroke="url(#g4)" stroke-width="0.7" opacity="0.82"/>
<path d="M272.3 90.7C271.8 76.6 269.1 68.9 266.4 64.8M267.5 90.7C267.5 73.3 268 64.6 268.4 60M267.6 90.7C267.9 77.1 268.7 71.1 269.6 67.8M268.4 90.7C268 72 271.4 66.5 273.8 63.5M281.5 90.7C281.1 68.1 279.5 53.4 277.8 45.5M267.9 90.7C268.3 73.8 265.8 67.9 264 64.6M270.4 90.7C270 73 269.8 65.1 269.3 60.8M267.3 90.7C267.5 74.8 269.8 68.1 271.9 64.5M270.2 90.7C270.1 72.3 271.8 66.2 273.1 63M271.4 90.7C271.9 77.7 272.5 72.4 273.3 69.5M269.7 90.7C270 78.4 270.2 68.7 270.7 63.5M266.3 90.7C266.6 78.7 269.7 74.3 272.4 71.9M272.1 90.7C271.7 76.5 268.6 69.1 265.7 65.1" stroke="url(#g4)" stroke-width="0.6" opacity="0.82"/>
<path d="M267 90.7C266.7 73.3 268.7 65.6 270.1 61.5" stroke="url(#g4)" stroke-width="0.4" opacity="0.82"/>
<path d="M252.1 61.2l-0.1 1.4M250.4 52l-0.7 1.2M261.5 42.1l0.6 1.4M271.9 70.9l-0.5 1.4M266.6 75.1l0.3 0.6M269.4 79l0 1.4M267.3 61.6l-0.5 0.9M270.8 61.8l-0.5 1M272.4 71.1l0.4 0.7M270.5 65.2l0.2 1.4M269.7 81.6l0.3 1.2M271.5 63.3l-0.7 0.9M270.7 73.4l0.7 0.7M266 62.7l0.6 1.2M271.1 65l-0.3 0.7M268.5 66.9l-0.1 0.8M272.3 63.4l-0.8 0.8M270.3 76.7l-0.5 1.3M267 81.5l0.3 0.7M270.7 72.3l0.6 0.7M271.2 77l-0.7 1.5M272.7 62.3l-0.8 0.6M268.7 78.8l0.3 0.7M268.4 73.6l-0.3 0.7M270 68.1l-0.6 1.3M267.9 73.3l0 1.6M267.5 69.1l-0.3 1.4M269.6 79.2l0.2 1.6M266 79.2l0.6 1M270.9 80.3l0.2 0.9M272.4 60.4l0.2 1.3M271.4 62.8l-0.2 1M269.4 72.7l-0.6 1.5M268 78.7l0.8 1.3M270 65.1l-0.7 1.5M272.3 76l0.1 0.9M265.6 66.2l-0.4 1.3M266.6 81.1l0.3 0.7M270.9 79.9l-0.2 1.4M277.5 59.3l0.2 0.7M271.7 57.2l-0.4 0.9M274.8 47.1l0.8 1.3" stroke="#d2c2c2" stroke-width="0.7" opacity="0.7"/>
<path d="M261.2 92.2V74.6" stroke="#55843c" stroke-width="0.55" opacity="0.85"/>
<path d="M264.1 92.2V76.6" stroke="#55843c" stroke-width="0.55" opacity="0.85"/>
<path d="M263.4 92.2V76.4" stroke="#9aa07e" stroke-width="0.55" opacity="0.85"/>
<path d="M262.7 92.2V70.2" stroke="#6a9142" stroke-width="0.55" opacity="0.85"/>
<path d="M263.8 92.2V63.1" stroke="#55843c" stroke-width="0.55" opacity="0.85"/>
<path d="M257.2 92.2V75.8" stroke="#55843c" stroke-width="0.55" opacity="0.85"/>
<path d="M272.4 92.2V73.4" stroke="#a89c90" stroke-width="0.55" opacity="0.85"/>
<path d="M272.1 92.2V64.6" stroke="#b8aca4" stroke-width="0.55" opacity="0.85"/>
<path d="M270.2 92.2V69.6" stroke="#a89c90" stroke-width="0.55" opacity="0.85"/>
<path d="M271.6 92.2V65.7" stroke="#b8aca4" stroke-width="0.55" opacity="0.85"/>
<path d="M267.3 92.2V63.8" stroke="#b8aca4" stroke-width="0.55" opacity="0.85"/>
<path d="M268.5 92.2V69.6" stroke="#55843c" stroke-width="0.55" opacity="0.85"/>
<path d="M277.8 92.2V63.4" stroke="#6a9142" stroke-width="0.55" opacity="0.85"/>
<path d="M275.8 92.2V72.9" stroke="#7f9f50" stroke-width="0.55" opacity="0.85"/>
<path d="M277.9 92.2V67.1" stroke="#55843c" stroke-width="0.55" opacity="0.85"/>
<path d="M279.8 92.2V64" stroke="#55843c" stroke-width="0.55" opacity="0.85"/>
<path d="M281.7 92.2V70.5" stroke="#9cb068" stroke-width="0.55" opacity="0.85"/>
<path d="M278.1 92.2V64" stroke="#9cb068" stroke-width="0.55" opacity="0.85"/>
<rect x="254.32" y="89.6" width="30.25" height="2.2" rx="1" fill="#a6aedc" opacity="0.85"/>
</g>
<rect x="238.2" y="114.3" width="55.3" height="2.2" fill="#030304"/>
<line x1="279.5" y1="108.2" x2="290.5" y2="108.2" stroke="#dcdcdc" stroke-width="1.1"/>
<text class="rb" x="285" y="113.9" font-size="5" text-anchor="middle" fill="#f2f2f2">5 CM</text>
</g>
<text class="r" x="266.4" y="126.5" font-size="7.5" text-anchor="middle" fill="#222" word-spacing="1.1">D B1 DB1</text>
<clipPath id="c5"><rect x="57.45" y="128.8" width="55.95" height="80.4"/></clipPath>
<g clip-path="url(#c5)">
<rect x="57.45" y="128.8" width="55.95" height="80.4" fill="#040405"/>
<rect x="57.45" y="181" width="55.95" height="25.2" fill="url(#lw)"/>
<linearGradient id="g5" gradientUnits="userSpaceOnUse" x1="0" y1="182.8" x2="0" y2="133.8"><stop offset="0" stop-color="#6f9650"/><stop offset="0.4" stop-color="#8f9c78"/><stop offset="0.58" stop-color="#c2afb0"/><stop offset="1" stop-color="#b29ca4"/></linearGradient>
<g filter="url(#bl)" fill="none" stroke-linecap="round">
<path d="M73.3 183.3C74.5 188.8 73.3 198.5 73.9 206.5C74.5 198.5 76.2 188.8 77.4 183.3Z" fill="url(#rg)" stroke="none" opacity="0.6"/>
<path d="M76.7 183.8Q75.3 191.6 77.9 200.5" stroke="#b4b4cc" stroke-width="0.6" opacity="0.48"/>
<path d="M74.3 183.8Q74.1 192.7 72.7 202.6" stroke="#b4b4cc" stroke-width="0.8" opacity="0.4"/>
<path d="M74.1 183.8Q74.1 191.3 77.1 199.7" stroke="#b4b4cc" stroke-width="0.8" opacity="0.38"/>
<path d="M82.5 183.3C83.6 188.8 84.6 197.2 85.2 205.2C85.8 197.2 85 188.8 86.1 183.3Z" fill="url(#rg)" stroke="none" opacity="0.6"/>
<path d="M83.5 183.8Q84.8 193.8 83.4 204.7" stroke="#b4b4cc" stroke-width="0.6" opacity="0.38"/>
<path d="M85 183.8Q84.5 194.2 85 205.6" stroke="#b4b4cc" stroke-width="0.7" opacity="0.35"/>
<path d="M82.3 183.8Q81.9 192.8 86.6 202.8" stroke="#b4b4cc" stroke-width="0.8" opacity="0.42"/>
<path d="M91.5 183.3C92.6 188.8 91.4 198.7 92 206.7C92.6 198.7 94 188.8 95 183.3Z" fill="url(#rg)" stroke="none" opacity="0.6"/>
<path d="M94.3 183.8Q94.1 192.2 94.3 201.7" stroke="#b4b4cc" stroke-width="0.6" opacity="0.39"/>
<path d="M91.6 183.8Q90.9 191.4 92.9 199.9" stroke="#b4b4cc" stroke-width="0.8" opacity="0.37"/>
<path d="M92.1 183.8Q91.4 192.5 91.1 202.3" stroke="#b4b4cc" stroke-width="0.7" opacity="0.41"/>
<path d="M96 182.8C96.4 159.3 96.3 144.4 96.6 136.4M85.5 182.8C85.7 161.6 85 148.9 84.6 142.1M92.9 182.8C93.3 161.4 93.6 148.3 94.2 141.2M91.9 182.8C91.7 164.7 90 151.6 88.4 144.5M86.4 182.8C86.3 150.5 80.6 141.1 75.8 136" stroke="#33742c" stroke-width="0.5" opacity="0.82"/>
<path d="M92.1 182.8C91.8 158 95.7 146.5 98.7 140.4M82.4 182.8C82.5 162.1 85.4 149.4 87.8 142.5M86.9 182.8C87.1 159.8 83 149.9 79.8 144.5" stroke="#57a048" stroke-width="0.4" opacity="0.82"/>
<path d="M78 182.8C78.3 150 75.1 139.1 72.8 133.2M86.2 182.8C86.4 162 85.4 147.1 84.8 139.1M95.8 182.8C95.5 155.1 94 145.1 92.4 139.7M78.2 182.8C77.7 151.7 79.9 142.1 81.4 136.9M93 182.8C92.6 158 91.6 144.1 90.5 136.6" stroke="#3e8631" stroke-width="0.6" opacity="0.82"/>
<path d="M94.9 182.8C95.2 151.4 98.2 141.1 100.8 135.6" stroke="#3e8631" stroke-width="0.7" opacity="0.82"/>
<path d="M72.7 182.8C73.1 155.1 71.7 146.8 70.8 142.4M87.2 182.8C87 154 87.3 141.2 87.3 134.3M91.3 182.8C91.3 156.8 89.9 145 88.7 138.7M75.9 182.8C76.2 160.1 77.2 149.4 78.3 143.6M72.8 182.8C73.2 162.6 69.5 146.6 66.8 137.9" stroke="#64a651" stroke-width="0.6" opacity="0.82"/>
<path d="M84.5 182.8C84.8 157.8 79 146.4 74.6 140.3M87.1 182.8C86.9 155.4 84.3 147 81.9 142.5M94.1 182.8C93.8 159.1 90 148.7 86.6 143M83.7 182.8C84 158.7 84.5 142.4 85.1 133.6M83.7 182.8C83.4 153.9 85.3 143.2 86.6 137.5M85.7 182.8C86 165.4 81.7 152.1 78.5 144.9M85.2 182.8C85.2 158.9 89.5 148 93 142.1" stroke="#57a048" stroke-width="0.6" opacity="0.82"/>
<path d="M92.1 182.8C92.4 161.5 89.4 150.2 87.1 144.1M96.4 182.8C96.5 160.5 98.6 148.7 100.4 142.3M96.4 182.8C96.1 157.7 94.7 144.7 93.4 137.6M91.7 182.8C92.2 157.3 86.7 144.1 82.6 137.1M77.7 182.8C77.3 149.9 76 139.5 74.6 133.9" stroke="#4a923d" stroke-width="0.6" opacity="0.82"/>
<path d="M75 182.8C74.6 156.4 71.1 143.5 67.9 136.5" stroke="#438a36" stroke-width="0.7" opacity="0.82"/>
<path d="M78.4 182.8C78.5 154.5 76.4 141.7 74.7 134.8M87 182.8C87.4 162.2 84.1 148.2 81.7 140.6" stroke="#3e8631" stroke-width="0.4" opacity="0.82"/>
<path d="M73.4 182.8C73.7 160.9 69 149.7 65.4 143.6M78.3 182.8C77.8 156.7 74.2 142.9 70.9 135.4M77.8 182.8C78.2 160.8 74.2 145 71.2 136.5M78.3 182.8C78.6 155.4 71.5 143.6 66 137.3" stroke="#438a36" stroke-width="0.6" opacity="0.82"/>
<path d="M74.5 182.8C74.1 156 78.8 143.9 82.4 137.4M72.4 182.8C72.6 162.2 74.4 148.3 76.1 140.8" stroke="#64a651" stroke-width="0.5" opacity="0.82"/>
<path d="M81.7 182.8C81.3 153.8 87.2 144.2 91.7 139M94.6 182.8C94.1 160.4 90 150.3 86.3 144.8" stroke="#57a048" stroke-width="0.5" opacity="0.82"/>
<path d="M81.3 182.8C81.3 161.7 83.6 149.2 85.4 142.5" stroke="#64a651" stroke-width="0.7" opacity="0.82"/>
<path d="M74.2 182.8C73.7 156.1 76.3 148.2 77.9 144M95.7 182.8C95.6 155.6 99.6 145.3 102.8 139.8M93.5 182.8C94 155.8 95.1 147.8 96.4 143.5M95.9 182.8C96.1 158.8 89.6 147.1 84.4 140.7" stroke="#3e8631" stroke-width="0.5" opacity="0.82"/>
<path d="M76 182.8C76.1 155.6 79.9 144.2 83 138.1M84.7 182.8C84.7 153.8 90.7 145.5 95.7 141.1M90.2 182.8C90 159.9 98.2 146.4 104.8 139.1M82 182.8C82.4 156.8 83.9 144.7 85.4 138.3" stroke="#438a36" stroke-width="0.5" opacity="0.82"/>
<path d="M82.9 182.8C82.7 158.9 86.9 144.2 90.2 136.3M76.5 182.8C76.3 158.5 72.9 143.5 70 135.4M92.2 182.8C92.6 163.5 93.7 149.8 94.9 142.3M75.1 182.8C75.4 159.9 73.5 143 72.2 133.9" stroke="#4a923d" stroke-width="0.7" opacity="0.82"/>
<path d="M75.3 182.8C75.5 165.4 78.1 151.7 80.3 144.3M93.5 182.8C93.4 154.7 94.3 144.5 95 139.1M83.1 182.8C82.6 160.5 79.5 147.8 76.5 140.9M94.5 182.8C94.9 158.7 97.3 147.5 99.5 141.4M91 182.8C91.4 157.1 88.8 147.2 86.9 141.9" stroke="#4a923d" stroke-width="0.4" opacity="0.82"/>
<path d="M82.8 182.8C82.5 157.5 82 146.8 81.4 141.1M83.8 182.8C83.9 158 87.1 143.9 89.9 136.3M90.8 182.8C90.7 150.8 92.1 139.9 93.1 134.1" stroke="#4a923d" stroke-width="0.5" opacity="0.82"/>
<path d="M82 182.8C82 159.9 79.2 149.5 76.9 143.9M86.9 182.8C86.9 164.3 89.5 150.4 91.7 142.9" stroke="#438a36" stroke-width="0.4" opacity="0.82"/>
<path d="M74.6 182.8C75 163.3 80.6 148 85.5 139.7M91.4 182.8C91.2 157 87.6 146.8 84.5 141.3" stroke="#64a651" stroke-width="0.4" opacity="0.82"/>
<path d="M72.6 182.8C72.2 158.6 77.1 147.6 80.8 141.7" stroke="#33742c" stroke-width="0.4" opacity="0.82"/>
<path d="M72.5 182.8C72.7 160 70.7 149.6 69.2 144.1M84 182.8C84 161 79 147.2 75 139.7" stroke="#33742c" stroke-width="0.7" opacity="0.82"/>
<path d="M74.8 182.8C75 159.4 73.6 145.5 72.5 138M77.7 182.8C77.9 158.2 75.9 146.1 74.3 139.6" stroke="#33742c" stroke-width="0.6" opacity="0.82"/>
<path d="M75.8 184.3V164.4" stroke="#7f9f50" stroke-width="0.55" opacity="0.85"/>
<path d="M77.8 184.3V168.6" stroke="#7f9f50" stroke-width="0.55" opacity="0.85"/>
<path d="M79.1 184.3V162.4" stroke="#55843c" stroke-width="0.55" opacity="0.85"/>
<path d="M71.6 184.3V161.5" stroke="#6a9142" stroke-width="0.55" opacity="0.85"/>
<path d="M76.2 184.3V159.8" stroke="#7f9f50" stroke-width="0.55" opacity="0.85"/>
<path d="M71.9 184.3V162.5" stroke="#6a9142" stroke-width="0.55" opacity="0.85"/>
<path d="M87.4 184.3V164.9" stroke="#6a9142" stroke-width="0.55" opacity="0.85"/>
<path d="M84 184.3V168.6" stroke="#6a9142" stroke-width="0.55" opacity="0.85"/>
<path d="M82.2 184.3V165.3" stroke="#9cb068" stroke-width="0.55" opacity="0.85"/>
<path d="M81.7 184.3V161.3" stroke="#9cb068" stroke-width="0.55" opacity="0.85"/>
<path d="M82.2 184.3V157.3" stroke="#9cb068" stroke-width="0.55" opacity="0.85"/>
<path d="M81 184.3V167.7" stroke="#6a9142" stroke-width="0.55" opacity="0.85"/>
<path d="M93.6 184.3V158.4" stroke="#7f9f50" stroke-width="0.55" opacity="0.85"/>
<path d="M90.3 184.3V166.1" stroke="#9cb068" stroke-width="0.55" opacity="0.85"/>
<path d="M95.6 184.3V155.4" stroke="#7f9f50" stroke-width="0.55" opacity="0.85"/>
<path d="M97 184.3V165.3" stroke="#7f9f50" stroke-width="0.55" opacity="0.85"/>
<path d="M93.9 184.3V159.4" stroke="#55843c" stroke-width="0.55" opacity="0.85"/>
<path d="M93.5 184.3V161" stroke="#9cb068" stroke-width="0.55" opacity="0.85"/>
<rect x="69.35" y="181.7" width="29.9" height="2.2" rx="1" fill="#a6aedc" opacity="0.85"/>
</g>
<rect x="57.45" y="207" width="55.95" height="2.2" fill="#030304"/>
<line x1="99.4" y1="200.9" x2="110.4" y2="200.9" stroke="#dcdcdc" stroke-width="1.1"/>
<text class="rb" x="104.9" y="206.6" font-size="5" text-anchor="middle" fill="#f2f2f2">5 cm</text>
</g>
<text class="r" x="87.7" y="218.9" font-size="7.5" text-anchor="middle" fill="#222" word-spacing="1.1">B B1 BB1</text>
<clipPath id="c6"><rect x="118.1" y="128.8" width="55.3" height="80.4"/></clipPath>
<g clip-path="url(#c6)">
<rect x="118.1" y="128.8" width="55.3" height="80.4" fill="#040405"/>
<rect x="118.1" y="181" width="55.3" height="25.2" fill="url(#lw)"/>
<linearGradient id="g6" gradientUnits="userSpaceOnUse" x1="0" y1="182.8" x2="0" y2="133.8"><stop offset="0" stop-color="#6f9650"/><stop offset="0.4" stop-color="#8f9c78"/><stop offset="0.58" stop-color="#c2afb0"/><stop offset="1" stop-color="#b29ca4"/></linearGradient>
<g filter="url(#bl)" fill="none" stroke-linecap="round">
<path d="M132.6 183.3C133.9 188.8 135 198.1 135.6 206.1C136.2 198.1 135.5 188.8 136.8 183.3Z" fill="url(#rg)" stroke="none" opacity="0.6"/>
<path d="M136 183.8Q137.9 193.5 137 204.2" stroke="#b4b4cc" stroke-width="0.5" opacity="0.37"/>
<path d="M133.8 183.8Q134.1 193.7 132.1 204.6" stroke="#b4b4cc" stroke-width="0.8" opacity="0.34"/>
<path d="M137.1 183.8Q135.7 192.7 136 202.6" stroke="#b4b4cc" stroke-width="0.7" opacity="0.38"/>
<path d="M141.5 183.3C142.7 188.8 141.9 198.2 142.5 206.2C143.1 198.2 144.4 188.8 145.6 183.3Z" fill="url(#rg)" stroke="none" opacity="0.6"/>
<path d="M141.4 183.8Q142.5 194.5 140.7 206.2" stroke="#b4b4cc" stroke-width="0.6" opacity="0.36"/>
<path d="M141.9 183.8Q142.4 192.4 141.7 202" stroke="#b4b4cc" stroke-width="0.4" opacity="0.43"/>
<path d="M144.9 183.8Q142.9 191.2 143.6 199.6" stroke="#b4b4cc" stroke-width="0.5" opacity="0.48"/>
<path d="M150.3 183.3C151.6 188.8 150.5 198.2 151.1 206.2C151.7 198.2 153.2 188.8 154.4 183.3Z" fill="url(#rg)" stroke="none" opacity="0.6"/>
<path d="M154 183.8Q155.9 193.6 152.9 204.4" stroke="#b4b4cc" stroke-width="0.7" opacity="0.31"/>
<path d="M152.8 183.8Q151.5 191.9 153.4 201" stroke="#b4b4cc" stroke-width="0.7" opacity="0.4"/>
<path d="M154 183.8Q152.3 191.9 153 200.9" stroke="#b4b4cc" stroke-width="0.7" opacity="0.47"/>
<path d="M132 182.8C132.1 155.4 132.1 141.8 132.2 134.5" stroke="#57a048" stroke-width="0.5" opacity="0.82"/>
<path d="M150.9 182.8C151.2 158.7 156.2 146.2 160.5 139.5" stroke="#33742c" stroke-width="0.6" opacity="0.82"/>
<path d="M143 182.8C142.9 150.9 143.1 140.8 143.2 135.3" stroke="#33742c" stroke-width="0.5" opacity="0.82"/>
<path d="M135.8 182.8C136.1 157.8 132.6 149.4 129.9 144.9M132.1 182.8C132.2 157 136.8 148.7 140.6 144.3M151.5 182.8C151.3 155.6 147.5 145.2 144.2 139.7" stroke="#64a651" stroke-width="0.5" opacity="0.82"/>
<path d="M152.1 182.8C152.6 155.7 148.6 147.1 145.6 142.4M151.7 182.8C151.5 157.6 150.5 147.3 149.5 141.7" stroke="#4a923d" stroke-width="0.5" opacity="0.82"/>
<path d="M134.4 182.8C134.2 163.5 138.4 151 141.6 144.3" stroke="#33742c" stroke-width="0.4" opacity="0.82"/>
<path d="M152.9 182.8C153.2 157.5 152.7 147.5 152.5 142M155.3 182.8C155.5 153.1 154.9 143.1 154.5 137.7" stroke="#438a36" stroke-width="0.7" opacity="0.82"/>
<path d="M134.3 182.8C134.8 151.2 134.7 139.5 134.9 133.2M144.2 182.8C144.1 156 143.6 141.7 143.1 134" stroke="#57a048" stroke-width="0.6" opacity="0.82"/>
<path d="M135.3 182.8C134.9 153.8 133.7 144.6 132.4 139.7M135.6 182.8C136 156.8 139.4 145.3 142.5 139.1M144.7 182.8C144.2 151.6 144 140.3 143.5 134.2" stroke="#3e8631" stroke-width="0.6" opacity="0.82"/>
<path d="M144.8 182.8C144.3 161 148.3 148.6 151.2 142" stroke="#57a048" stroke-width="0.4" opacity="0.82"/>
<path d="M145.6 182.8C145.7 164.9 142.8 151.5 140.4 144.3" stroke="#438a36" stroke-width="0.6" opacity="0.82"/>
<path d="M135.7 182.8C135.5 161 137.4 144.4 138.9 135.4" stroke="#64a651" stroke-width="0.7" opacity="0.82"/>
<path d="M135.2 182.8C135.7 158.9 136.8 143.2 138.1 134.7M153.3 182.8C153.7 160.2 153.1 145.4 153 137.5" stroke="#438a36" stroke-width="0.5" opacity="0.82"/>
<path d="M153.6 182.8C153.7 159.8 153.2 141.9 152.9 132.3" stroke="#57a048" stroke-width="0.7" opacity="0.82"/>
<path d="M143.3 182.8C143.5 157.5 146.8 147.8 149.6 142.6" stroke="#3e8631" stroke-width="0.5" opacity="0.82"/>
<path d="M152.5 182.8C152.9 161.1 150.7 149.9 149.2 143.8" stroke="#4a923d" stroke-width="0.6" opacity="0.82"/>
<path d="M135.3 182.8C135.6 153.3 132.2 144.3 129.7 139.5M135.6 182.8C135.3 160.4 131.6 149 128.3 142.9M140.7 182.8C141.1 154.8 144 142 146.6 135.1M133.6 182.8C133.8 151.3 132.2 141.6 131.1 136.3M131.9 182.8C131.9 156.4 133.7 146.8 135.2 141.6M152.7 182.8C152.9 158.1 150.5 144.1 148.7 136.5M152.5 182.8C152.5 157.6 155.8 147.1 158.5 141.5M131.6 182.8C132.1 160.9 132.5 149.7 133.3 143.6M144.5 182.8C144.6 161.2 146.2 150.4 147.5 144.5M132.7 182.8C132.2 152 133.4 142.6 134.1 137.5M153 182.8C152.8 156.2 152 147.7 151.3 143.1M152.4 182.8C152.2 155.1 152.7 143.8 152.9 137.7M146 182.8C145.6 157.5 146.5 146.9 147 141.2M132.1 182.8C132.1 152.1 130.8 142.4 129.8 137.1M142.4 182.8C142.4 162.4 146.4 151.7 149.8 146M145.8 182.8C146.1 165.7 140.1 153.1 135.4 146.4M144.4 182.8C144.6 157.6 145.8 146.4 146.9 140.3" stroke="url(#g6)" stroke-width="0.5" opacity="0.82"/>
<path d="M131.8 182.8C131.8 157 136.4 145.7 140.1 139.6M134.7 182.8C134.5 160.7 139 145.3 142.6 137.1M149.2 182.8C149.5 154.9 149.7 144.7 150 139.2M134.4 182.8C134.2 155 136.3 143.2 137.9 136.9M151.7 182.8C151.8 152.6 151.4 142.3 151.2 136.8M154.9 182.8C154.6 163.2 150.4 151.1 146.6 144.6" stroke="url(#g6)" stroke-width="0.7" opacity="0.82"/>
<path d="M144.8 182.8C144.5 160.1 146.7 149 148.3 143M137.4 182.8C137.7 153.2 136.6 141.1 135.9 134.6M143.2 182.8C143.3 160.7 143 144.8 142.8 136.2M145.8 182.8C146.2 159.8 148.2 146.1 150.3 138.8" stroke="url(#g6)" stroke-width="0.4" opacity="0.82"/>
<path d="M149.9 182.8C149.8 164.7 152.7 151.4 155 144.1M145.3 182.8C144.9 154.9 145.4 142 145.4 135M142.2 182.8C141.8 155.2 143.4 142.5 144.4 135.7M153.9 182.8C153.7 158.4 156.5 145.4 158.6 138.3M143.2 182.8C142.9 159.7 138.9 151 135.3 146.3M155.1 182.8C155.3 161 149.8 145.8 145.5 137.6M149.3 182.8C149.8 154 147.6 145 146.2 140.2M143.3 182.8C143.4 150.9 140.1 141.5 137.5 136.4M151.5 182.8C151.5 165.7 155.7 152.6 159.2 145.5M143.4 182.8C143 154.8 143.2 143 143 136.6M141.2 182.8C141 152.8 143.9 143.2 146 138.1M132.8 182.8C133.2 155.2 137.9 146.1 142.2 141.2M145.5 182.8C145.6 152.3 144.3 142.2 143.4 136.8M154.7 182.8C154.4 161.7 158 146.6 160.8 138.5M144.4 182.8C144.5 161.3 146.5 150.5 148.2 144.8M142.3 182.8C142.2 155.9 141.8 147.1 141.4 142.3M134.4 182.8C134.8 158.8 132.5 144 131 136M136.9 182.8C136.5 156.5 133.9 142.1 131.5 134.4M151.6 182.8C151.3 157.6 155.1 143.4 157.9 135.7M133 182.8C132.6 158.5 133 143.3 132.9 135.1M150.9 182.8C150.5 156.2 149.2 147.9 147.8 143.3" stroke="url(#g6)" stroke-width="0.6" opacity="0.82"/>
<path d="M129.6 140.4l-0.3 1.3M139.5 147.9l0.6 0.9M139.8 145l0.4 0.8M138.5 136.6l-0.4 1.2M133.9 141.2l0.7 0.8M129.4 149.1l-0.2 0.9M139.2 134.4l-0.1 0.6M132.4 141.6l-0.5 1.5M139.9 142.8l0 0.6M133.8 148.7l-0.5 0.8M131.9 155.5l0.3 0.8M129.1 135.1l0.5 1M139 134.7l0.6 1.1M139.5 140.4l-0.3 0.8M137.4 145.3l-0.7 0.7M130.4 144.8l-0.1 1.4M135.7 151.9l0.3 0.7M135.8 147.8l0.4 0.6M134.3 152.1l-0.5 1.5M131.1 141.3l0.4 0.9M136.2 140.4l-0.7 1M133.5 155l0.4 1.1M129.9 142.7l-0.6 1.1M131.9 138.1l-0.3 1.1M140.1 153.1l0 0.7M135.8 154.7l-0.1 0.9M146.3 148.6l0.4 1.3M138.2 135l-0.7 0.8M142.7 140.4l0.2 0.8M147.6 145.5l-0.7 1.1M145.9 134.4l-0.4 1.3M139 146.6l0.4 1.1M140.6 153.8l-0.4 0.9M143.5 151.3l-0.2 1.1M141 137.2l-0.5 1.1M148.7 142.4l-0.5 1.5M139.1 139.2l-0.6 0.9M141.3 147.6l-0.2 0.7M142.9 137l-0.1 1.3M146.4 145.7l-0.5 0.8M139 147.5l-0.4 0.8M143.3 144.4l0.2 1.3M145.9 144.2l-0.1 1.4M145.7 151.1l-0.5 1M142.8 135.3l0 1.3M145.3 134.4l0.1 0.7M145.9 137.2l-0.1 1.5M147.4 142.6l-0.5 1.3M145.5 154.4l-0.4 1.2M143.7 137.6l0 1.2M148.4 135.6l0.8 0.7M138 137.7l-0.5 1.4M149.3 149.1l0.8 1.2M154.3 134.7l-0.7 1.5M153.4 149l0.7 1.2M153.1 153l0.1 0.7M148.2 146.9l-0.3 1.1M149.8 145.2l-0.1 1.2M147.4 140.3l0.7 1.3M148.5 143.9l0.1 0.6M150.6 144.8l0.7 1.5M156.9 144.6l0.5 1.1M148.5 148.7l0.1 1.5M156.4 136.4l0.6 1.4M155.9 145.5l0.2 0.9M149.6 136l0.3 0.7M155.1 144.9l-0.8 1.3M154.1 152.6l-0.4 1.5M157.1 143.1l-0.8 0.7M151.6 142.3l-0.1 1.2M148.6 152.8l0 1M154.9 138.1l0.7 1.3M148.8 152.5l-0.1 1.1M154.9 137.9l0.6 1.1M157.5 146l0.7 0.8M156 137.8l-0.8 1.5M154.2 148.6l0.4 0.7M151.1 154.8l-0.7 0.7" stroke="#d2c2c2" stroke-width="0.7" opacity="0.7"/>
<path d="M133.1 184.3V157" stroke="#b8aca4" stroke-width="0.55" opacity="0.85"/>
<path d="M136.5 184.3V161.4" stroke="#a89c90" stroke-width="0.55" opacity="0.85"/>
<path d="M134.7 184.3V161.5" stroke="#7f9f50" stroke-width="0.55" opacity="0.85"/>
<path d="M136.2 184.3V160.4" stroke="#a89c90" stroke-width="0.55" opacity="0.85"/>
<path d="M133.5 184.3V165.4" stroke="#b8aca4" stroke-width="0.55" opacity="0.85"/>
<path d="M132.5 184.3V160.4" stroke="#b8aca4" stroke-width="0.55" opacity="0.85"/>
<path d="M143.5 184.3V163.3" stroke="#9aa07e" stroke-width="0.55" opacity="0.85"/>
<path d="M144.8 184.3V159.2" stroke="#9aa07e" stroke-width="0.55" opacity="0.85"/>
<path d="M144.5 184.3V162.1" stroke="#7f9f50" stroke-width="0.55" opacity="0.85"/>
<path d="M142.3 184.3V165.1" stroke="#6a9142" stroke-width="0.55" opacity="0.85"/>
<path d="M144.4 184.3V161.8" stroke="#9aa07e" stroke-width="0.55" opacity="0.85"/>
<path d="M142.4 184.3V161.7" stroke="#7f9f50" stroke-width="0.55" opacity="0.85"/>
<path d="M148.8 184.3V159.7" stroke="#9cb068" stroke-width="0.55" opacity="0.85"/>
<path d="M156.1 184.3V165.1" stroke="#b8aca4" stroke-width="0.55" opacity="0.85"/>
<path d="M154.2 184.3V166.7" stroke="#9aa07e" stroke-width="0.55" opacity="0.85"/>
<path d="M151.4 184.3V164" stroke="#9cb068" stroke-width="0.55" opacity="0.85"/>
<path d="M153 184.3V161.6" stroke="#a89c90" stroke-width="0.55" opacity="0.85"/>
<path d="M155.8 184.3V165.4" stroke="#9aa07e" stroke-width="0.55" opacity="0.85"/>
<rect x="128.69" y="181.7" width="29.7" height="2.2" rx="1" fill="#a6aedc" opacity="0.85"/>
</g>
<rect x="118.1" y="207" width="55.3" height="2.2" fill="#030304"/>
<line x1="159.4" y1="200.9" x2="170.4" y2="200.9" stroke="#dcdcdc" stroke-width="1.1"/>
<text class="rb" x="164.9" y="206.6" font-size="5" text-anchor="middle" fill="#f2f2f2">5 cm</text>
</g>
<text class="r" x="147.3" y="218.9" font-size="7.5" text-anchor="middle" fill="#222" word-spacing="1.1">B B1 BB1</text>
<clipPath id="c7"><rect x="178.3" y="128.8" width="56" height="80.4"/></clipPath>
<g clip-path="url(#c7)">
<rect x="178.3" y="128.8" width="56" height="80.4" fill="#040405"/>
<rect x="178.3" y="180.2" width="56" height="26" fill="url(#lw)"/>
<linearGradient id="g7" gradientUnits="userSpaceOnUse" x1="0" y1="182" x2="0" y2="133.8"><stop offset="0" stop-color="#6f9650"/><stop offset="0.4" stop-color="#8f9c78"/><stop offset="0.58" stop-color="#c2afb0"/><stop offset="1" stop-color="#b29ca4"/></linearGradient>
<g filter="url(#bl)" fill="none" stroke-linecap="round">
<path d="M195.2 182.5C196.5 188 197 197.7 197.6 205.7C198.2 197.7 198.2 188 199.4 182.5Z" fill="url(#rg)" stroke="none" opacity="0.6"/>
<path d="M196.5 183Q196.4 192.5 195.5 203" stroke="#b4b4cc" stroke-width="0.8" opacity="0.31"/>
<path d="M196 183Q194.3 192.1 196.5 202.2" stroke="#b4b4cc" stroke-width="0.4" opacity="0.49"/>
<path d="M197.5 183Q197 193.1 198.3 204.3" stroke="#b4b4cc" stroke-width="0.6" opacity="0.45"/>
<path d="M204.4 182.5C205.5 188 205.9 197.2 206.5 205.2C207.1 197.2 207.1 188 208.2 182.5Z" fill="url(#rg)" stroke="none" opacity="0.6"/>
<path d="M205.3 183Q206.3 193.4 204.2 204.8" stroke="#b4b4cc" stroke-width="0.5" opacity="0.48"/>
<path d="M207.8 183Q207.7 191.8 206.1 201.5" stroke="#b4b4cc" stroke-width="0.8" opacity="0.32"/>
<path d="M206.1 183Q205.9 193.6 204.5 205.2" stroke="#b4b4cc" stroke-width="0.8" opacity="0.37"/>
<path d="M213.9 182.5C215 188 216 197.3 216.6 205.3C217.2 197.3 216.6 188 217.8 182.5Z" fill="url(#rg)" stroke="none" opacity="0.6"/>
<path d="M218.3 183Q219.7 193.6 217.7 205.1" stroke="#b4b4cc" stroke-width="0.5" opacity="0.32"/>
<path d="M215.6 183Q215.9 193.7 216.9 205.4" stroke="#b4b4cc" stroke-width="0.6" opacity="0.45"/>
<path d="M217.7 183Q216.1 193.6 218.3 205.2" stroke="#b4b4cc" stroke-width="0.7" opacity="0.43"/>
<path d="M214.8 182C215 158.3 208.5 150.4 203.3 146.1M209.4 182C209.3 149.4 208.7 138.6 208.2 132.8M194.2 182C193.7 160 199.9 147.8 204.6 141.3" stroke="#64a651" stroke-width="0.5" opacity="0.82"/>
<path d="M214.4 182C214.7 161.4 211.7 145.7 209.4 137.3" stroke="#4a923d" stroke-width="0.6" opacity="0.82"/>
<path d="M199.4 182C199.8 158.2 203.7 146 207.3 139.5M213.4 182C213.9 158 216.3 145.5 218.6 138.7" stroke="#438a36" stroke-width="0.5" opacity="0.82"/>
<path d="M204.1 182C203.7 154.2 210.9 145.9 216.5 141.4" stroke="#3e8631" stroke-width="0.5" opacity="0.82"/>
<path d="M208.1 182C207.8 159.2 211.2 149.8 213.7 144.7" stroke="#33742c" stroke-width="0.5" opacity="0.82"/>
<path d="M209.5 182C209.1 155 202 147.3 195.9 143.2M213.2 182C213.2 158.8 208.8 145.5 205.2 138.4" stroke="#4a923d" stroke-width="0.4" opacity="0.82"/>
<path d="M194.5 182C194.8 155.2 202.7 143.6 209.4 137.3" stroke="#57a048" stroke-width="0.6" opacity="0.82"/>
<path d="M214.9 182C214.7 151.9 216.6 142.6 218.1 137.6" stroke="#57a048" stroke-width="0.5" opacity="0.82"/>
<path d="M215.4 182C215 157.1 215.1 146.4 214.8 140.6" stroke="#33742c" stroke-width="0.7" opacity="0.82"/>
<path d="M199.5 182C199.2 154.7 192.4 144.9 186.6 139.6" stroke="#3e8631" stroke-width="0.4" opacity="0.82"/>
<path d="M200.2 182C200.1 156.1 200.4 145.4 200.6 139.6" stroke="#64a651" stroke-width="0.6" opacity="0.82"/>
<path d="M214.2 182C213.8 163.7 219.5 150.8 223.8 143.8" stroke="#33742c" stroke-width="0.6" opacity="0.82"/>
<path d="M198.5 182C198.1 158.6 191.3 144.2 185.3 136.5M216 182C216.3 156.9 215.8 144.9 215.6 138.5M216.5 182C216.4 159.7 216.1 148.1 215.7 141.9M209.1 182C209.3 153.2 212 145 214.3 140.6M197.8 182C198.1 158.7 191.5 149.5 186.4 144.5M194.5 182C194.9 161 198 145 200.8 136.3M208.5 182C208.7 159.5 213.2 146.4 217.2 139.3M208.7 182C208.7 159.1 204 148.3 200.1 142.6M207 182C206.5 154.8 206.5 145.9 206.1 141M205.9 182C205.6 157.1 205.4 142.3 205 134.4M207.5 182C207.8 160.3 201.8 149.3 197 143.3M195.3 182C195.4 162.7 192.3 151.5 189.8 145.4M205.2 182C205.6 163.2 201.6 151.4 198.6 145M199.2 182C199 158.8 198.3 144.6 197.6 136.9M199.1 182C199.4 159.7 191.3 151.6 184.9 147.2M196.1 182C196.5 149.2 195.4 139.1 194.8 133.6M195.9 182C196 159 202.5 148.1 208 142.2M194.2 182C194.5 158 199.8 145 204.3 138M215.2 182C214.9 157.9 218.6 148.9 221.4 144.1M212.9 182C212.6 154.4 214.5 141.1 215.9 134M200.3 182C200.5 158.9 204.5 149.2 208 144M198.1 182C197.7 152.7 198.7 144.1 199.3 139.5M218.6 182C218.4 159.9 220.5 147 222.1 140" stroke="url(#g7)" stroke-width="0.5" opacity="0.82"/>
<path d="M215.7 182C215.3 158.4 210 149.2 205.3 144.2M216.1 182C216.6 156 214.7 142.6 213.5 135.4M203.3 182C203.7 163.6 198.2 152.6 194.1 146.8M206 182C206 152.1 204.8 140 203.8 133.5M197.9 182C198 158.2 203.4 148.2 207.9 142.8M203.3 182C203.7 161.3 199.1 147.2 195.7 139.7M205.5 182C205.8 162.1 200.1 147 195.6 138.8" stroke="url(#g7)" stroke-width="0.4" opacity="0.82"/>
<path d="M200.5 182C200.5 152.7 199.9 141.8 199.4 135.9M205.5 182C205.5 160.8 199.1 148.6 193.8 142M199.6 182C199.9 161 204.8 149.5 209 143.2M217.6 182C217.8 164.5 223.6 153.3 228.4 147.2M208.7 182C208.6 160.2 211.3 144.5 213.3 136M215.3 182C215.1 164.2 213.1 150.9 211.3 143.8M215.7 182C215.4 154.5 216.3 144.4 216.8 139M208.9 182C209.2 160.4 212.9 145.1 216.1 136.9M205.2 182C205 151.1 205.8 140.8 206.2 135.3M216.5 182C216.3 154.6 216.5 143.8 216.5 138M200.5 182C200.6 157.2 192.8 148.5 186.5 143.8M200.2 182C200.4 153 203.8 144.8 206.8 140.4M216.3 182C216.7 155.3 216.7 147 216.9 142.5M208.9 182C208.6 157.5 201.4 144.2 195.3 137M214.7 182C214.2 158 219.1 149.3 222.8 144.5M214.5 182C214.3 156.7 218.8 149.4 222.3 145.5" stroke="url(#g7)" stroke-width="0.6" opacity="0.82"/>
<path d="M217.8 182C218.3 158.5 212.4 148.9 207.9 143.7M209.3 182C209.1 162.5 211.4 149.6 213.2 142.7M206 182C205.7 160.7 203.9 149.4 202.2 143.4M213.4 182C213.6 157.2 217.3 144.9 220.4 138.2M203.8 182C204 155.4 208.8 142.7 212.9 135.9M198.7 182C199.1 156.5 197.2 144.3 196 137.7M208.8 182C209.2 158.7 202.4 144.5 197.2 136.9M195.9 182C195.6 157.3 193.8 146.9 192.1 141.3M197.6 182C197.4 156.7 202.9 145.9 207.2 140.2M213.5 182C213.1 159.9 216.6 144.2 219.2 135.7" stroke="url(#g7)" stroke-width="0.7" opacity="0.82"/>
<path d="M215.7 160.8Q225.4 153.3 231 182.1M207 152.5Q214.3 146.9 217.5 163.3M207.8 149Q199.3 141.8 194.7 171M199.3 150.7Q212.5 145.8 221.8 162.8M204.8 163.2Q219.4 155.9 230.1 180.1M198 164.1Q210.9 155.1 219.8 182.9M204.6 168.7Q216.3 163 224 190.4M199.3 152.5Q207.3 146.9 211.2 174.2M198 148.8Q210.6 141.7 219.2 160.4M216.3 149.5Q204.8 139.8 197.4 169.9M195.8 169.4Q188.2 161.7 184.6 185.8M215.8 157.6Q204.2 147.6 196.7 170.9M207.5 166.9Q192.4 161.1 181.4 181.9M208.2 170Q220 160.9 227.8 177.3M217.6 153.5Q230.3 147.5 239.1 160.8M195.8 161Q182.6 155.4 173.4 174.7M214.9 162.1Q227.9 156.9 236.9 168.5M217.6 157.6Q206.2 151.2 198.8 160.5M197.6 150.9Q189.6 144.5 185.7 159.2M216 168.1Q203.7 158.5 195.5 185.5M215.5 152.8Q201.7 145.5 192 174.7M216.8 156.2Q225.6 146.5 230.3 170.6M216.1 163.1Q201.4 153.8 190.7 172.7M215.3 153.8Q230.4 147.6 241.6 161.1M198.9 164.3Q185.2 158.4 175.4 172.3M208.2 151Q216.7 146.4 221.2 156M196.7 166.9Q211.3 158.1 222 175.4M206.9 165.8Q214.8 157.9 218.7 172.2M215.9 166.3Q201.6 159.7 191.3 173.6M206.1 153.3Q218.3 145.2 226.4 164.1" stroke="#a89498" stroke-width="0.4" opacity="0.7"/>
<path d="M192.1 153.4l0.6 1.3M197.3 146.8l0.4 0.7M204.2 155.6l-0.3 1.1M202.7 140l-0.2 1.4M195.3 153.7l-0.3 1.5M192.5 137l0.6 0.8M197.2 137.9l-0.6 1.1M189.1 153.5l-0.7 1.5M198.3 133.9l-0.5 0.9M193 148.1l-0.7 0.7M202.7 144.4l0.7 1.4M203.6 138.3l-0.7 1.1M191.8 146.5l0.6 1M191.7 144.1l-0.3 1.6M205.8 138.7l0.5 0.6M200 142.9l-0.2 1.1M197 143.5l0.6 0.7M190.9 144.9l0.2 0.7M189.8 141.3l-0.5 1.2M200.8 148.2l0.6 1.4M204.7 141.8l0.3 0.8M196.4 138.1l0 0.8M199.9 153.4l-0.2 1.3M201.8 146.4l0.3 1M191.7 148.3l-0.5 1.1M193.7 145l-0.1 1.5M191.6 134.6l-0.4 1.3M197.5 148.1l-0.7 0.7M190 141.5l-0.2 1M189.3 145.5l-0.5 1.5M198 148.2l-0.3 0.7M189 153.6l0 0.7M203.7 148.3l-0.7 1.2M206.9 145.7l0 1.5M210.8 154.1l-0.6 0.6M212.3 150.9l-0.8 1.1M212.6 154.1l0.2 1.1M214.4 140l0.8 0.8M210.9 138.3l0.7 0.9M198.6 151.9l0.3 0.9M210.6 153.9l-0.5 1.1M204.8 154.6l-0.2 0.6M213.8 150.5l0.7 0.7M213.8 155.1l-0.2 1.2M198.1 148.3l-0.8 1.4M203.6 150l-0.2 1.5M201.7 143.7l-0.4 1.3M200.5 155.5l0.5 1.5M200.4 141l0.4 0.8M197.9 143.2l-0.1 0.9M202.5 141.5l-0.1 0.9M210.7 134.5l0.2 1.3M209.7 140.1l0.7 0.6M204.6 142.9l0.7 1.5M202.8 149.8l0.8 1.4M206.2 144.1l0 0.8M202.4 145.1l0.1 1M209.6 147l0.8 0.7M208 153.8l-0.2 1.5M197.7 149.5l0.5 1.4M211.7 149.1l-0.8 1.5M200.8 148.4l0.2 0.6M197.4 138.3l0.7 0.7M204 145.9l-0.8 1M223.1 147.2l-0.5 0.9M211.6 150.7l-0.2 0.7M219.9 152.6l0.4 0.9M211.5 135.8l0.6 1.5M212.2 140.3l0.3 0.9M213.8 153.3l0.3 1.4M224.6 136l0.1 0.8M207.9 143.5l0.2 1.5M219.5 138.9l0.4 1.5M213.1 148.7l0.6 1.6M223.1 153.3l-0.3 0.8M210.8 140.8l-0.5 1M223.9 151.2l0.5 1.2M221.5 149.2l0.1 1.5M210.2 137.9l0.4 0.8M213.9 144.8l-0.7 0.9M211.7 151.3l-0.5 1.3M218 154.5l-0.5 1M220.2 147.6l0.1 1M218.9 136.7l0.1 1M217.4 154l0 1.4M218.3 154.7l0.7 0.7M216.3 135l0.4 1.5M217.8 139l0.4 0.7M224.8 153.1l-0.3 1.1M217.3 151.6l-0.4 0.8M219.6 134.4l-0.4 0.8M211 134.5l-0.6 0.7M217.4 135.2l-0.2 0.6M207.9 151.7l-0.5 1.6M208.5 142.7l0.4 1.5M223.8 134.4l0.4 0.8" stroke="#d2c2c2" stroke-width="0.7" opacity="0.7"/>
<path d="M199.4 183.5V162.5" stroke="#b8aca4" stroke-width="0.55" opacity="0.85"/>
<path d="M196.6 183.5V155.9" stroke="#9cb068" stroke-width="0.55" opacity="0.85"/>
<path d="M195.7 183.5V161.1" stroke="#b8aca4" stroke-width="0.55" opacity="0.85"/>
<path d="M194.6 183.5V167.4" stroke="#a89c90" stroke-width="0.55" opacity="0.85"/>
<path d="M199.8 183.5V157.7" stroke="#9aa07e" stroke-width="0.55" opacity="0.85"/>
<path d="M198.1 183.5V164.5" stroke="#9cb068" stroke-width="0.55" opacity="0.85"/>
<path d="M204.4 183.5V156.8" stroke="#9cb068" stroke-width="0.55" opacity="0.85"/>
<path d="M208.2 183.5V163.2" stroke="#9aa07e" stroke-width="0.55" opacity="0.85"/>
<path d="M209.1 183.5V155.5" stroke="#9aa07e" stroke-width="0.55" opacity="0.85"/>
<path d="M206.9 183.5V162" stroke="#a89c90" stroke-width="0.55" opacity="0.85"/>
<path d="M205.8 183.5V165.9" stroke="#7f9f50" stroke-width="0.55" opacity="0.85"/>
<path d="M207.3 183.5V165" stroke="#9aa07e" stroke-width="0.55" opacity="0.85"/>
<path d="M215.5 183.5V157" stroke="#b8aca4" stroke-width="0.55" opacity="0.85"/>
<path d="M213.5 183.5V161.4" stroke="#b8aca4" stroke-width="0.55" opacity="0.85"/>
<path d="M216.4 183.5V164.7" stroke="#9cb068" stroke-width="0.55" opacity="0.85"/>
<path d="M219.2 183.5V164.1" stroke="#a89c90" stroke-width="0.55" opacity="0.85"/>
<path d="M214.4 183.5V163.8" stroke="#a89c90" stroke-width="0.55" opacity="0.85"/>
<path d="M218.7 183.5V167.7" stroke="#9aa07e" stroke-width="0.55" opacity="0.85"/>
<rect x="191.34" y="180.9" width="30.48" height="2.2" rx="1" fill="#a6aedc" opacity="0.85"/>
</g>
<rect x="178.3" y="207" width="56" height="2.2" fill="#030304"/>
<line x1="220.3" y1="200.9" x2="231.3" y2="200.9" stroke="#dcdcdc" stroke-width="1.1"/>
<text class="rb" x="225.8" y="206.6" font-size="5" text-anchor="middle" fill="#f2f2f2">5 cm</text>
</g>
<text class="r" x="206.9" y="218.9" font-size="7.5" text-anchor="middle" fill="#222" word-spacing="1.1">B B1 BB1</text>
<clipPath id="c8"><rect x="238.2" y="128.8" width="55.3" height="80.4"/></clipPath>
<g clip-path="url(#c8)">
<rect x="238.2" y="128.8" width="55.3" height="80.4" fill="#040405"/>
<rect x="238.2" y="184.7" width="55.3" height="21.5" fill="url(#lw2)"/>
<linearGradient id="g8" gradientUnits="userSpaceOnUse" x1="0" y1="186.5" x2="0" y2="133.8"><stop offset="0" stop-color="#6f9650"/><stop offset="0.4" stop-color="#8f9c78"/><stop offset="0.58" stop-color="#c2afb0"/><stop offset="1" stop-color="#b29ca4"/></linearGradient>
<g filter="url(#bl)" fill="none" stroke-linecap="round">
<path d="M257.1 187C258.4 192.5 259.2 198.5 259.8 206.5C260.4 198.5 260 192.5 261.3 187Z" fill="url(#rg)" stroke="none" opacity="0.36"/>
<path d="M260.5 187.5Q261.2 193.8 261.5 201.1" stroke="#b4b4cc" stroke-width="0.8" opacity="0.21"/>
<path d="M261 187.5Q261.6 194.1 258.6 201.7" stroke="#b4b4cc" stroke-width="0.4" opacity="0.24"/>
<path d="M257.9 187.5Q259.4 194.5 261 202.5" stroke="#b4b4cc" stroke-width="0.5" opacity="0.26"/>
<path d="M265.8 187C266.8 192.5 267.6 198.7 268.2 206.7C268.8 198.7 268.2 192.5 269.2 187Z" fill="url(#rg)" stroke="none" opacity="0.36"/>
<path d="M268.5 187.5Q267.5 192.9 265.4 199.3" stroke="#b4b4cc" stroke-width="0.7" opacity="0.21"/>
<path d="M266.2 187.5Q264.5 194.5 266 202.6" stroke="#b4b4cc" stroke-width="0.8" opacity="0.26"/>
<path d="M267.4 187.5Q267.5 195.9 269.3 205.4" stroke="#b4b4cc" stroke-width="0.4" opacity="0.2"/>
<path d="M273.9 187C275.1 192.5 275.2 198.3 275.8 206.3C276.4 198.3 276.5 192.5 277.7 187Z" fill="url(#rg)" stroke="none" opacity="0.36"/>
<path d="M273.7 187.5Q275.3 194.6 275.4 202.7" stroke="#b4b4cc" stroke-width="0.5" opacity="0.23"/>
<path d="M276.5 187.5Q274.9 196.2 278.5 206" stroke="#b4b4cc" stroke-width="0.6" opacity="0.22"/>
<path d="M275.8 187.5Q275.1 195.2 277.1 203.8" stroke="#b4b4cc" stroke-width="0.4" opacity="0.2"/>
<path d="M265.7 186.5C265.9 161.6 269.5 150.1 272.7 144" stroke="#33742c" stroke-width="0.7" opacity="0.82"/>
<path d="M269.3 186.5C269.5 164.2 270.4 155.3 271.2 150.5M268.3 186.5C268.7 163.5 266.1 153.2 264.3 147.7M277.3 186.5C277.6 165.6 272.2 154.4 268.1 148.3" stroke="#4a923d" stroke-width="0.5" opacity="0.82"/>
<path d="M268.6 186.5C268.5 156.6 268.8 146.4 268.9 140.9" stroke="#33742c" stroke-width="0.4" opacity="0.82"/>
<path d="M275.3 186.5C274.9 159.2 277.9 148.5 280.1 142.8M277.7 186.5C277.9 160.3 274.8 152.2 272.4 147.9M269.7 186.5C270 164.9 268.6 151.7 267.6 144.6" stroke="#438a36" stroke-width="0.6" opacity="0.82"/>
<path d="M274.7 186.5C275.2 167.1 271.6 154 269 146.9M269.6 186.5C269.1 158.4 269.1 147 268.8 140.8" stroke="#64a651" stroke-width="0.6" opacity="0.82"/>
<path d="M277.5 186.5C277.3 165.9 279.8 155.1 281.8 149.3M268.4 186.5C268.1 164.5 269.2 149.6 269.9 141.6" stroke="#3e8631" stroke-width="0.5" opacity="0.82"/>
<path d="M266.7 186.5C266.5 162.5 265 150.1 263.6 143.4M264.4 186.5C264.9 165.8 266.8 150.2 268.8 141.8" stroke="#57a048" stroke-width="0.7" opacity="0.82"/>
<path d="M266.7 186.5C267 168.2 264.5 159.1 262.7 154.2M265 186.5C265.1 166.4 265.5 152.5 266 145M267.5 186.5C268 168.3 266.8 156.8 266.2 150.7M264.6 186.5C264.6 160.6 266 147.8 267.1 140.9M269.4 186.5C269.4 165 267.2 155.3 265.4 150M278.9 186.5C279.2 161.8 276 145.8 273.6 137.1" stroke="#438a36" stroke-width="0.5" opacity="0.82"/>
<path d="M274.9 186.5C274.9 160.6 279 147.5 282.4 140.4" stroke="#57a048" stroke-width="0.6" opacity="0.82"/>
<path d="M258.1 186.5C258.5 177.6 256.3 172.7 254.7 170M277.6 186.5C277.1 158.3 276.4 150.2 275.4 145.8" stroke="#438a36" stroke-width="0.4" opacity="0.82"/>
<path d="M275 186.5C274.6 162.3 278.8 147.7 281.9 139.9M276.3 186.5C276.7 163.9 275.8 145.9 275.3 136.2M276.1 186.5C276.3 167.1 272.1 152.7 268.8 144.9" stroke="#57a048" stroke-width="0.4" opacity="0.82"/>
<path d="M269.1 186.5C269.4 163 267.5 152.4 266.1 146.6" stroke="#33742c" stroke-width="0.6" opacity="0.82"/>
<path d="M265.2 186.5C265.4 168.3 266.4 155.7 267.4 148.8M259.3 186.5C259.5 175.9 259.8 172.7 260.2 171" stroke="#3e8631" stroke-width="0.6" opacity="0.82"/>
<path d="M268.1 186.5C267.8 166.1 266.7 150.7 265.4 142.3" stroke="#64a651" stroke-width="0.4" opacity="0.82"/>
<path d="M276.5 186.5C276.2 165.7 279.3 149.7 281.5 141" stroke="#33742c" stroke-width="0.5" opacity="0.82"/>
<path d="M278 186.5C278.1 159.9 277.9 148.7 277.7 142.7" stroke="#4a923d" stroke-width="0.4" opacity="0.82"/>
<path d="M261.6 186.5C261.2 176.6 259.4 173.4 257.6 171.7M260.1 186.5C260.5 177.4 258.5 173.6 257.2 171.5M274 186.5C274.2 160.2 273.6 147 273.4 140M270 186.5C270.2 162.6 268.1 152.4 266.6 146.8M256.3 186.5C256.6 174.9 256.9 167.9 257.5 164.2M265.2 186.5C264.8 163.9 264.8 156.5 264.4 152.5M266 186.5C265.9 169.3 267.2 156.3 268.1 149.4M278 186.5C278.4 164.8 274.7 149.5 272.1 141.3M264.7 186.5C264.5 166.5 267.7 154 270.2 147.3" stroke="url(#g8)" stroke-width="0.4" opacity="0.82"/>
<path d="M267.2 186.5C267.3 165.1 268.2 151.5 269 144.2M256.4 186.5C256.7 172.9 258.8 168.2 260.7 165.7M260 186.5C260.4 173.7 259 168.9 258.1 166.3M256.3 186.5C256.6 174.7 258 170.9 259.5 168.8M259.6 186.5C259.5 174.9 258.3 171.6 257.3 169.9M261.6 186.5C261.3 174.6 257.8 170.7 254.7 168.5M260.4 186.5C260 174.7 259 167.6 257.8 163.8M262.4 186.5C262.2 177.7 262 171.5 261.7 168.2M261.8 186.5C261.9 177.1 258.2 172.1 255.2 169.4M270.1 186.5C269.6 165.1 268.9 149.8 267.9 141.5M260.9 186.5C261.1 176.3 260.7 170.5 260.5 167.4M257.1 186.5C257.4 174 258.5 168.6 259.6 165.8" stroke="url(#g8)" stroke-width="0.5" opacity="0.82"/>
<path d="M267.7 186.5C267.5 169.2 265 157.9 262.8 151.8M278.4 186.5C278.2 155.2 275.8 143.2 273.7 136.7M258.2 186.5C258.4 176 259.5 170.9 260.6 168.2M256.8 186.5C256.9 173.7 258.2 164.7 259.3 159.8M274 186.5C274.1 157.7 275.8 149.2 277.2 144.6M275.7 186.5C275.7 164.6 279.8 149.9 283.2 141.9M260.6 186.5C261 177.2 259.2 171 258 167.7M257.7 186.5C257.9 178.6 259.8 174.1 261.5 171.7M275 186.5C274.6 160.1 275.7 150.1 276.2 144.7M261.6 186.5C262.1 176.6 258.7 171.9 256.2 169.4M275 186.5C275.4 159.5 273.7 148.5 272.6 142.6M273.2 186.5C273.1 167.9 272.2 154.5 271.3 147.2M261.4 186.5C261.5 179.2 258.5 174.9 256.1 172.6M274.7 186.5C274.9 160.3 272.5 149.8 270.7 144.2M256.1 186.5C255.8 169.2 257.4 164 258.4 161.2M261.6 186.5C261.4 173.3 260.8 166.9 260.1 163.4" stroke="url(#g8)" stroke-width="0.6" opacity="0.82"/>
<path d="M258.5 186.5C258.4 177.7 260.5 172.9 262.2 170.4M276.8 186.5C276.9 168.2 272.8 155.1 269.6 148M273.3 186.5C273.7 159.9 276.9 151.5 279.9 147" stroke="url(#g8)" stroke-width="0.7" opacity="0.82"/>
<path d="M260.9 159.1Q274.9 152 284.9 164.6M266.3 164.8Q275.3 156.7 280.3 178.8M260 157.3Q274.3 151.1 284.7 171.9M258.5 171.8Q267.9 165 273.4 188.8M268.7 154.5Q280.8 149.8 288.9 158.8M273.9 153.7Q265.6 148.8 261.3 157.5M267 155.4Q278.8 149.9 286.6 175.8M257.6 174.5Q265.8 166.6 269.9 177.8" stroke="#a89498" stroke-width="0.4" opacity="0.7"/>
<path d="M257.9 182.4l0 0.8M256.8 182.3l0.1 0.8M257.4 177.2l-0.3 0.7M257 170l0.4 1.5M259.8 180.8l-0.7 0.9M262.3 172.8l0 1M260.7 172.8l0.6 1M258.1 168.4l-0.4 1.3M260.2 178.8l-0.7 1.3M259.5 173.6l-0.6 1M257.9 164.7l0.5 0.8M260.9 177.8l0.2 1.4M261.2 172.9l0.3 0.7M259.6 181l0.4 1.2M257.3 170.5l0 1.3M260 161.7l0 1.3M257.7 182.3l0.8 0.7M260.1 181.5l0.4 1.1M261.6 172.4l0.5 1.6M259.4 179.5l0 1.6M258.8 166.1l0.6 0.9M257.5 175.6l0.3 1.1M256.6 167.8l0.7 0.8M261 174.4l-0.7 1.5M260.5 170.3l0.2 1.3M261.8 181.9l-0.8 0.8M258.3 176.3l-0.1 1.3M256.2 168.5l-0.7 0.8M258.8 162.9l0.1 1.3M259.6 175.9l0.8 1.2M261.7 172.8l0.6 1.5M260.9 177.3l-0.6 1.6M262 161l-0.2 0.6M256.4 167.3l0.6 1.3M264.4 161.6l0.6 0.6M265.4 155.8l-0.5 0.8M267 153.2l0 0.7M268.9 147.1l-0.3 1.5M266.3 160.2l-0.4 0.8M266.4 156l0.3 1.5M271.1 156.2l-0.6 1M265.1 159.7l0 1.5M268.6 156l0.2 1M268 160.6l0.3 1.4M268.6 148l0.3 0.9M270.4 160.5l-0.2 0.9M270.7 149.3l0.5 1.3M269.4 145.3l0.5 0.7M267.8 153.1l0.8 1M264 155.5l0.6 0.7M270.9 152.6l0.2 0.9M264.6 141.7l-0.6 1.4M271.1 146.8l0.1 1.3M270.4 156.7l-0.7 1.3M269.6 141.7l-0.1 1.2M269.2 159l0.6 1.1M270 156.6l0.3 1.5M265.5 144.1l-0.3 1.1M270 146.7l-0.1 1.3M268.5 148.4l-0.3 1.6M279.9 153.5l0.7 1.4M280.4 145.3l0.3 1.5M278.9 156.2l0.7 0.8M276.5 146.6l-0.6 1.6M271 141.7l-0.1 0.8M273.3 154.1l0.4 0.6M276.4 141.8l0.5 1.1M275.7 148l0.4 1.3M278.7 145.5l-0.5 0.7M278.3 144.2l-0.8 0.9M271 149.7l0.6 1.3M276 152.4l0.1 0.9M274.5 140.8l0.5 0.7M271.8 157.4l0.4 1.4M270.5 137.2l0.8 0.8M277.9 138.5l-0.1 0.7" stroke="#d2c2c2" stroke-width="0.7" opacity="0.7"/>
<path d="M262.2 188V159.2" stroke="#b8aca4" stroke-width="0.55" opacity="0.85"/>
<path d="M258.2 188V166.7" stroke="#b8aca4" stroke-width="0.55" opacity="0.85"/>
<path d="M255.8 188V166.9" stroke="#9aa07e" stroke-width="0.55" opacity="0.85"/>
<path d="M260.8 188V167.2" stroke="#b8aca4" stroke-width="0.55" opacity="0.85"/>
<path d="M262.8 188V167.2" stroke="#9aa07e" stroke-width="0.55" opacity="0.85"/>
<path d="M256.3 188V165.9" stroke="#a89c90" stroke-width="0.55" opacity="0.85"/>
<path d="M267.8 188V160.2" stroke="#55843c" stroke-width="0.55" opacity="0.85"/>
<path d="M270.3 188V168.1" stroke="#9aa07e" stroke-width="0.55" opacity="0.85"/>
<path d="M266.3 188V169.6" stroke="#55843c" stroke-width="0.55" opacity="0.85"/>
<path d="M270.9 188V166.3" stroke="#b8aca4" stroke-width="0.55" opacity="0.85"/>
<path d="M263.8 188V170.1" stroke="#a89c90" stroke-width="0.55" opacity="0.85"/>
<path d="M265.5 188V170.6" stroke="#6a9142" stroke-width="0.55" opacity="0.85"/>
<path d="M272.5 188V164.4" stroke="#9aa07e" stroke-width="0.55" opacity="0.85"/>
<path d="M274.3 188V164.9" stroke="#7f9f50" stroke-width="0.55" opacity="0.85"/>
<path d="M275.5 188V162" stroke="#55843c" stroke-width="0.55" opacity="0.85"/>
<path d="M277.6 188V167" stroke="#9aa07e" stroke-width="0.55" opacity="0.85"/>
<path d="M273.7 188V166.2" stroke="#6a9142" stroke-width="0.55" opacity="0.85"/>
<path d="M277.9 188V165.8" stroke="#6a9142" stroke-width="0.55" opacity="0.85"/>
<rect x="253.21" y="185.4" width="28.59" height="2.2" rx="1" fill="#a6aedc" opacity="0.85"/>
</g>
<rect x="238.2" y="207" width="55.3" height="2.2" fill="#030304"/>
<line x1="279.5" y1="200.9" x2="290.5" y2="200.9" stroke="#dcdcdc" stroke-width="1.1"/>
<text class="rb" x="285" y="206.6" font-size="5" text-anchor="middle" fill="#f2f2f2">5 cm</text>
</g>
<text class="r" x="266.4" y="218.9" font-size="7.5" text-anchor="middle" fill="#222" word-spacing="1.1">B B1 BB1</text>
<clipPath id="c9"><rect x="57.45" y="221.8" width="55.95" height="81"/></clipPath>
<g clip-path="url(#c9)">
<rect x="57.45" y="221.8" width="55.95" height="81" fill="#040405"/>
<rect x="57.45" y="274.5" width="55.95" height="25.3" fill="url(#lw)"/>
<linearGradient id="g9" gradientUnits="userSpaceOnUse" x1="0" y1="276.3" x2="0" y2="226.8"><stop offset="0" stop-color="#6f9650"/><stop offset="0.4" stop-color="#8f9c78"/><stop offset="0.58" stop-color="#c2afb0"/><stop offset="1" stop-color="#b29ca4"/></linearGradient>
<g filter="url(#bl)" fill="none" stroke-linecap="round">
<path d="M74.5 276.8C75.7 282.3 74.9 291.4 75.5 299.4C76.1 291.4 77.2 282.3 78.4 276.8Z" fill="url(#rg)" stroke="none" opacity="0.6"/>
<path d="M76.3 277.3Q77.1 285.8 76.1 295.3" stroke="#b4b4cc" stroke-width="0.6" opacity="0.42"/>
<path d="M76.3 277.3Q75.7 287.5 78 298.7" stroke="#b4b4cc" stroke-width="0.5" opacity="0.5"/>
<path d="M78.8 277.3Q77.5 288 78.8 299.6" stroke="#b4b4cc" stroke-width="0.5" opacity="0.42"/>
<path d="M83.6 276.8C84.7 282.3 84 289.8 84.6 297.8C85.2 289.8 86.1 282.3 87.2 276.8Z" fill="url(#rg)" stroke="none" opacity="0.6"/>
<path d="M87 277.3Q88.2 287.2 85.2 298.2" stroke="#b4b4cc" stroke-width="0.7" opacity="0.4"/>
<path d="M87.9 277.3Q87.5 285.5 87.3 294.7" stroke="#b4b4cc" stroke-width="0.7" opacity="0.48"/>
<path d="M85 277.3Q86 285.1 83 293.9" stroke="#b4b4cc" stroke-width="0.5" opacity="0.41"/>
<path d="M93.1 276.8C94.2 282.3 93.5 290.3 94.1 298.3C94.7 290.3 95.7 282.3 96.7 276.8Z" fill="url(#rg)" stroke="none" opacity="0.6"/>
<path d="M92.7 277.3Q90.9 285.7 97.4 295.1" stroke="#b4b4cc" stroke-width="0.8" opacity="0.3"/>
<path d="M95.8 277.3Q96.5 284.9 97.6 293.5" stroke="#b4b4cc" stroke-width="0.7" opacity="0.36"/>
<path d="M94.1 277.3Q95.2 287 97.9 297.6" stroke="#b4b4cc" stroke-width="0.7" opacity="0.34"/>
<path d="M74.2 276.3C73.8 250.6 71.5 237.3 69.4 230.1M93.1 276.3C93.4 255.8 96.8 243.9 99.9 237.5M74 276.3C74.5 256.8 69.1 246 65.2 240.3M74.8 276.3C75.1 255.6 70.9 244.7 67.7 238.9M91.9 276.3C92 250.9 90.3 242.4 89 237.9" stroke="#64a651" stroke-width="0.5" opacity="0.82"/>
<path d="M75.3 276.3C75.5 246.2 75.5 234.8 75.8 228.6M95.7 276.3C96.2 251.3 100.5 237.8 104.3 230.5M93.9 276.3C94 254 95.2 241.7 96.4 235.1M96.7 276.3C96.9 251.8 89.7 238.7 84 231.6M83.6 276.3C84.1 253.4 78.8 239.1 74.8 231.4M94.8 276.3C94.7 251.6 90.2 239.5 86.4 233M85 276.3C85.2 256.7 86.1 243.5 87.1 236.4" stroke="#33742c" stroke-width="0.6" opacity="0.82"/>
<path d="M96 276.3C95.6 249.4 90.6 240 86.1 235M78.3 276.3C78 247.4 76.2 237 74.5 231.4M77.7 276.3C77.4 252.7 82 241.1 85.6 234.9M75 276.3C75 252.9 70 239.3 65.9 232M97.1 276.3C97.3 254.6 95 239.5 93.2 231.4M82.3 276.3C82.6 257.3 88.4 244.8 93.4 238M88.5 276.3C88.2 253 89.1 237.6 89.6 229.3M94.6 276.3C94.4 252.3 97.9 239.1 100.7 232M97.7 276.3C98 253.3 91.1 239 85.8 231.4" stroke="#4a923d" stroke-width="0.5" opacity="0.82"/>
<path d="M93.8 276.3C94.1 249.6 100.2 239.2 105.5 233.6M86.4 276.3C86.1 252.1 90.6 242.9 94 237.9M92.7 276.3C92.7 255 89 240.8 86 233.2" stroke="#4a923d" stroke-width="0.7" opacity="0.82"/>
<path d="M94.6 276.3C94.7 256.5 93 242 91.7 234.2M73.4 276.3C73.7 250.2 74 240.3 74.5 234.9M78.6 276.3C78.4 247.1 75.6 238.2 73.2 233.3M86.6 276.3C86.7 251.5 84.5 238.2 82.8 231M98.1 276.3C98.5 252.4 94.8 237.7 92.1 229.7" stroke="#3e8631" stroke-width="0.5" opacity="0.82"/>
<path d="M76.5 276.3C76.4 251.6 82 242.7 86.5 237.9" stroke="#64a651" stroke-width="0.4" opacity="0.82"/>
<path d="M87.3 276.3C87.2 243.1 81.9 233.8 77.5 228.8M86.6 276.3C86.8 250.9 91.5 239.1 95.4 232.8" stroke="#4a923d" stroke-width="0.4" opacity="0.82"/>
<path d="M95.6 276.3C95.5 252.5 91.8 241.2 88.7 235.2M75.7 276.3C75.4 254.2 78.8 240.1 81.4 232.5" stroke="#57a048" stroke-width="0.7" opacity="0.82"/>
<path d="M83.9 276.3C84.3 249.7 86.6 241.7 88.9 237.3M82.4 276.3C82.7 249 83.9 237 85.1 230.6M73.5 276.3C73.9 255.6 72.2 240.8 71 232.9M74.2 276.3C74.2 245.1 73.6 233.5 73.1 227.3M83 276.3C83.2 257.3 90.3 242.9 96.3 235.1M74.5 276.3C74.2 251.4 81.8 242 87.8 237" stroke="#64a651" stroke-width="0.6" opacity="0.82"/>
<path d="M76.5 276.3C76.8 252.3 76.8 235.4 77.1 226.3M83.4 276.3C83.5 256.5 84 242.1 84.5 234.3M85.4 276.3C85.4 252.4 82.9 242.8 80.9 237.7" stroke="#3e8631" stroke-width="0.6" opacity="0.82"/>
<path d="M82.5 276.3C82.9 245.2 83.5 234.3 84.3 228.4M85.2 276.3C85.6 248.9 82.4 239 80.2 233.6M87.4 276.3C87.1 253 84.4 237.9 81.9 229.7" stroke="#33742c" stroke-width="0.4" opacity="0.82"/>
<path d="M87 276.3C87.3 252.8 90 243.1 92.4 237.8" stroke="#33742c" stroke-width="0.5" opacity="0.82"/>
<path d="M75.7 276.3C76 247.1 72.2 238.3 69.4 233.6" stroke="#57a048" stroke-width="0.4" opacity="0.82"/>
<path d="M94.7 276.3C94.3 250.4 93.8 235.9 93.1 228.1M87.2 276.3C87.5 251.8 87.4 235.4 87.6 226.6" stroke="#4a923d" stroke-width="0.6" opacity="0.82"/>
<path d="M85.4 276.3C85.3 247.6 89.5 238.6 92.9 233.8" stroke="#3e8631" stroke-width="0.7" opacity="0.82"/>
<path d="M95.3 276.3C95.5 244.4 94.1 233.6 93.2 227.7M84.8 276.3C84.8 255.3 83 241.7 81.5 234.3M76.7 276.3C76.7 253 71.7 238.9 67.6 231.3" stroke="#438a36" stroke-width="0.6" opacity="0.82"/>
<path d="M75 276.3C75 251.5 72.5 242.5 70.5 237.7M92.3 276.3C92.3 251.2 94.8 240.8 96.9 235.2M83.5 276.3C83.9 251.7 82.7 242 82 236.7M87.2 276.3C87.1 251.9 91.9 243.3 95.7 238.7" stroke="#57a048" stroke-width="0.5" opacity="0.82"/>
<path d="M85.9 276.3C85.4 253.5 83.3 239.5 81.2 231.9M88.4 276.3C88.8 242.7 88.2 232.9 88 227.6M95.6 276.3C96 251.2 91.6 241.8 88.3 236.8M95.1 276.3C95 246.8 100.2 237 104.5 231.8M73.7 276.3C73.6 248.3 74.7 237.2 75.5 231.2M79 276.3C78.8 250.9 75.3 241.1 72.3 235.8" stroke="#438a36" stroke-width="0.5" opacity="0.82"/>
<path d="M78.5 276.3C78.9 250.2 73.8 238.8 69.9 232.6M92.3 276.3C92.6 247.5 95.2 238.4 97.5 233.5M95.1 276.3C95.2 255.9 95.7 239.9 96.2 231.3M73.8 276.3C73.5 258.4 80.9 246.1 86.8 239.4M94 276.3C93.8 252.4 89.9 243.7 86.6 239" stroke="#57a048" stroke-width="0.6" opacity="0.82"/>
<path d="M93.1 276.3C93.1 248.1 95 234.5 96.7 227.1M73.5 276.3C73.7 250.2 73.8 240.9 74.1 236" stroke="#3e8631" stroke-width="0.4" opacity="0.82"/>
<path d="M74 276.3C74 247.9 75.3 240 76.3 235.8" stroke="#33742c" stroke-width="0.7" opacity="0.82"/>
<path d="M73.7 277.8V250.8" stroke="#7f9f50" stroke-width="0.55" opacity="0.85"/>
<path d="M72.8 277.8V250.8" stroke="#6a9142" stroke-width="0.55" opacity="0.85"/>
<path d="M76.9 277.8V250.5" stroke="#7f9f50" stroke-width="0.55" opacity="0.85"/>
<path d="M73 277.8V253.7" stroke="#7f9f50" stroke-width="0.55" opacity="0.85"/>
<path d="M76.2 277.8V260.3" stroke="#6a9142" stroke-width="0.55" opacity="0.85"/>
<path d="M75.4 277.8V259.9" stroke="#7f9f50" stroke-width="0.55" opacity="0.85"/>
<path d="M83 277.8V261.9" stroke="#7f9f50" stroke-width="0.55" opacity="0.85"/>
<path d="M87.4 277.8V253.2" stroke="#9cb068" stroke-width="0.55" opacity="0.85"/>
<path d="M87.6 277.8V250.9" stroke="#9cb068" stroke-width="0.55" opacity="0.85"/>
<path d="M87.1 277.8V261.5" stroke="#55843c" stroke-width="0.55" opacity="0.85"/>
<path d="M86.3 277.8V261.2" stroke="#9cb068" stroke-width="0.55" opacity="0.85"/>
<path d="M85.1 277.8V259.7" stroke="#55843c" stroke-width="0.55" opacity="0.85"/>
<path d="M92.2 277.8V250.7" stroke="#9cb068" stroke-width="0.55" opacity="0.85"/>
<path d="M95.5 277.8V254.5" stroke="#55843c" stroke-width="0.55" opacity="0.85"/>
<path d="M94.1 277.8V250.5" stroke="#55843c" stroke-width="0.55" opacity="0.85"/>
<path d="M93.6 277.8V260" stroke="#9cb068" stroke-width="0.55" opacity="0.85"/>
<path d="M95.2 277.8V255.2" stroke="#7f9f50" stroke-width="0.55" opacity="0.85"/>
<path d="M98 277.8V250.8" stroke="#6a9142" stroke-width="0.55" opacity="0.85"/>
<rect x="70.47" y="275.2" width="30.46" height="2.2" rx="1" fill="#a6aedc" opacity="0.85"/>
</g>
<rect x="57.45" y="300.6" width="55.95" height="2.2" fill="#030304"/>
<line x1="99.4" y1="294.5" x2="110.4" y2="294.5" stroke="#dcdcdc" stroke-width="1.1"/>
<text class="rb" x="104.9" y="300.2" font-size="5" text-anchor="middle" fill="#f2f2f2">5 cm</text>
</g>
<text class="r" x="87.7" y="312.6" font-size="7.5" text-anchor="middle" fill="#222" word-spacing="1.1">E B1 EB1</text>
<clipPath id="c10"><rect x="118.1" y="221.8" width="55.3" height="81"/></clipPath>
<g clip-path="url(#c10)">
<rect x="118.1" y="221.8" width="55.3" height="81" fill="#040405"/>
<rect x="118.1" y="271.7" width="55.3" height="28.1" fill="url(#lw)"/>
<linearGradient id="g10" gradientUnits="userSpaceOnUse" x1="0" y1="273.5" x2="0" y2="226.8"><stop offset="0" stop-color="#6f9650"/><stop offset="0.4" stop-color="#8f9c78"/><stop offset="0.58" stop-color="#c2afb0"/><stop offset="1" stop-color="#b29ca4"/></linearGradient>
<g filter="url(#bl)" fill="none" stroke-linecap="round">
<path d="M134 274C135.1 279.5 135.8 291.6 136.4 299.6C137 291.6 136.5 279.5 137.6 274Z" fill="url(#rg)" stroke="none" opacity="0.6"/>
<path d="M134.3 274.5Q133 284.8 138.3 296" stroke="#b4b4cc" stroke-width="0.5" opacity="0.3"/>
<path d="M137.1 274.5Q138.4 285.7 134.3 297.9" stroke="#b4b4cc" stroke-width="0.5" opacity="0.47"/>
<path d="M136.2 274.5Q135.8 286.5 134 299.5" stroke="#b4b4cc" stroke-width="0.7" opacity="0.45"/>
<path d="M144.3 274C145.5 279.5 146.5 290.7 147.1 298.7C147.7 290.7 147.1 279.5 148.3 274Z" fill="url(#rg)" stroke="none" opacity="0.6"/>
<path d="M146.1 274.5Q147.6 285.8 146 298.1" stroke="#b4b4cc" stroke-width="0.7" opacity="0.38"/>
<path d="M147.4 274.5Q145.5 283.5 149.1 293.5" stroke="#b4b4cc" stroke-width="0.7" opacity="0.35"/>
<path d="M147.5 274.5Q145.6 285.8 146.5 298" stroke="#b4b4cc" stroke-width="0.8" opacity="0.41"/>
<path d="M154.3 274C155.5 279.5 156.1 291.1 156.7 299.1C157.3 291.1 157.1 279.5 158.2 274Z" fill="url(#rg)" stroke="none" opacity="0.6"/>
<path d="M158.7 274.5Q157.5 283.8 153.8 294.2" stroke="#b4b4cc" stroke-width="0.4" opacity="0.42"/>
<path d="M158.4 274.5Q157.8 283.4 156.8 293.3" stroke="#b4b4cc" stroke-width="0.6" opacity="0.36"/>
<path d="M156.7 274.5Q156.4 285.2 153.8 297" stroke="#b4b4cc" stroke-width="0.6" opacity="0.46"/>
<path d="M132.9 273.5C132.7 241 134 231.6 134.9 226.6" stroke="#3e8631" stroke-width="0.4" opacity="0.82"/>
<path d="M153.2 273.5C152.9 253.4 158.5 239.4 162.9 231.9" stroke="#4a923d" stroke-width="0.5" opacity="0.82"/>
<path d="M156.8 273.5C156.8 251 156.7 236 156.5 227.9" stroke="#438a36" stroke-width="0.6" opacity="0.82"/>
<path d="M138.3 273.5C138.3 247.4 137.2 234.4 136.3 227.4" stroke="#3e8631" stroke-width="0.5" opacity="0.82"/>
<path d="M144.6 273.5C144.6 248.6 144.2 235.6 143.8 228.5M145.4 273.5C145 249.5 141.9 240.8 139 236.1M158.7 273.5C158.3 247.5 157.2 235.3 156 228.7" stroke="#64a651" stroke-width="0.5" opacity="0.82"/>
<path d="M145.2 273.5C145.6 249.5 143.1 238.8 141.5 233.1M134 273.5C134.5 248.6 131.2 241.6 128.9 237.8M147.8 273.5C148.2 244.1 149 233.3 149.9 227.5M146.7 273.5C147.2 253.5 142.2 243 138.6 237.3" stroke="#4a923d" stroke-width="0.6" opacity="0.82"/>
<path d="M153.1 273.5C152.7 247.4 152.7 239.5 152.4 235.3M154.5 273.5C154.4 249.1 155.5 234.9 156.3 227.2" stroke="#438a36" stroke-width="0.4" opacity="0.82"/>
<path d="M138 273.5C138.2 254.3 133.3 242.4 129.5 236M146.8 273.5C146.9 250.5 143.5 237.5 140.8 230.6M157.5 273.5C157.2 251.9 157 240.9 156.6 235M154.6 273.5C154.9 255.5 152.8 243.4 151.4 236.9" stroke="#3e8631" stroke-width="0.6" opacity="0.82"/>
<path d="M133.2 273.5C132.9 250 132.7 236.2 132.2 228.9M155.1 273.5C154.7 257.8 160 245.9 164 239.5" stroke="#57a048" stroke-width="0.6" opacity="0.82"/>
<path d="M159.3 273.5C159.7 245.8 157.5 237.4 156 232.9M157.3 273.5C157.7 247.9 152.6 240.4 148.7 236.3M133.7 273.5C133.6 248.8 139.4 240.3 144 235.8" stroke="#4a923d" stroke-width="0.7" opacity="0.82"/>
<path d="M146.3 273.5C146.5 254 142.4 240 139.2 232.5" stroke="#33742c" stroke-width="0.5" opacity="0.82"/>
<path d="M146.4 273.5C146.5 253 148.6 242.6 150.3 237" stroke="#4a923d" stroke-width="0.4" opacity="0.82"/>
<path d="M158.1 273.5C158.4 256.5 160.8 243.7 163 236.8" stroke="#438a36" stroke-width="0.5" opacity="0.82"/>
<path d="M153.3 273.5C153.7 254.5 154 242.3 154.6 235.8" stroke="#3e8631" stroke-width="0.7" opacity="0.82"/>
<path d="M148.5 273.5C148.1 247 147.1 234.3 145.9 227.5" stroke="#33742c" stroke-width="0.7" opacity="0.82"/>
<path d="M155.6 273.5C155.1 249.5 159.3 241 162.4 236.4" stroke="#57a048" stroke-width="0.5" opacity="0.82"/>
<path d="M144.1 273.5C144.6 252.1 148.3 238.9 151.7 231.7" stroke="#64a651" stroke-width="0.4" opacity="0.82"/>
<path d="M145.6 273.5C145.4 253.3 148.1 238.5 150 230.6" stroke="#438a36" stroke-width="0.7" opacity="0.82"/>
<path d="M134.6 273.5C134.5 243 137.2 234.5 139.3 229.9M146.4 273.5C146.1 252.7 143.1 243.3 140.4 238.2M134.6 273.5C134.8 257.7 131.3 245.6 128.7 239.1M133.9 273.5C134 250.7 139.1 239.5 143.4 233.5M155.8 273.5C155.8 251.4 158.6 239.8 161 233.5M134.2 273.5C134 254.7 135.6 242.5 136.7 235.9" stroke="url(#g10)" stroke-width="0.7" opacity="0.82"/>
<path d="M149.2 273.5C149.4 249.4 148.2 236.8 147.4 230M134.8 273.5C134.9 253.6 132.6 241.3 130.7 234.6M133.5 273.5C133.8 248.1 131.4 236.2 129.6 229.7M157.3 273.5C157.3 244.9 159.3 235.8 161 230.9M145.5 273.5C145.9 249.2 150.7 238.8 155 233.2M136 273.5C135.9 251.4 135.1 239.8 134.5 233.5M157.7 273.5C158 250.8 157.7 236.7 157.8 229.1M138.6 273.5C138.8 254.2 140.3 240.3 141.6 232.8M148.9 273.5C149 252.1 143.8 243.6 139.6 239M144.5 273.5C144.9 248.8 145.7 234.9 146.6 227.4M135.5 273.5C136 247.8 138.9 239.8 141.7 235.5M135.1 273.5C135.4 248.7 134.1 241.3 133.2 237.3M156.1 273.5C156.2 251.1 159.9 242.6 163.1 238M148.6 273.5C148.9 245.6 149.1 236 149.4 230.9M138.4 273.5C138.7 244.2 136.8 234.9 135.4 229.9M155.5 273.5C155.4 244.5 155.8 233.2 156.1 227.2M133.9 273.5C134.1 249.2 131 238.8 128.6 233.1M158.6 273.5C158.8 248.6 154.4 239.4 150.9 234.5M134.9 273.5C134.9 253.7 130.5 244 126.9 238.7" stroke="url(#g10)" stroke-width="0.5" opacity="0.82"/>
<path d="M157.2 273.5C157.5 248.2 155.6 235 154.3 227.9M148.2 273.5C148.1 250.4 147 235.6 146 227.7M138.7 273.5C138.4 250.6 134.7 242.3 131.5 237.8M144.8 273.5C144.7 255.2 144.8 242.6 144.7 235.8M136.6 273.5C136.5 254.2 141.1 239 144.8 230.8M137.5 273.5C137.6 254 136.1 242.4 135 236.1M154.8 273.5C155.1 252.7 160 240.4 164.3 233.8M138.8 273.5C138.9 248.6 141.6 239.6 143.9 234.7M148.3 273.5C148 251.5 148.4 236.2 148.6 227.9M143.7 273.5C144.1 250.5 150 237.7 155.2 230.8" stroke="url(#g10)" stroke-width="0.6" opacity="0.82"/>
<path d="M146.3 273.5C146.7 245.6 149.5 235.4 152 230M145.3 273.5C144.9 247.2 148.8 238.5 151.6 233.9M137 273.5C137.4 252.2 134.5 237.7 132.4 229.9M156.9 273.5C156.7 247.4 154.5 239.1 152.6 234.7M147.2 273.5C146.7 250.4 149.4 238.5 151.1 232.1M158.1 273.5C158.2 254 161.8 242.7 164.9 236.6M156.7 273.5C157.1 253.5 154.2 239.5 152.1 232" stroke="url(#g10)" stroke-width="0.4" opacity="0.82"/>
<path d="M133.8 235.7l-0.3 1.5M132.9 238.8l0.3 1.1M141.8 227.1l-0.3 1.1M134.8 229.4l-0.4 1.1M135.6 232.5l-0.1 0.8M140.6 239.4l-0.8 1.1M131.1 230.2l0.6 0.7M130.2 230.4l-0.6 0.7M136.1 242.5l-0.3 1.5M139.8 231.1l0.1 0.7M131.8 238.7l-0.5 1.6M132.9 234.7l-0.3 0.8M137.4 241.9l-0.1 1.1M136.7 227.8l0.6 1.2M132.9 245.2l-0.4 0.9M136.3 232.2l-0.3 1.6M140.1 241.3l0.3 1.1M131.9 228.7l0 1.3M137.8 230.1l-0.2 0.9M130.7 235.4l-0.3 1.4M136.9 241.6l-0.3 0.6M133.1 244.8l0.3 1.1M140.9 242.1l-0.5 1M135.1 242l-0.1 0.8M145 228.6l0.2 1M142.6 247.3l0.7 0.6M144.5 243.7l-0.2 1.3M146.5 244l-0.2 0.6M144.7 247.1l0 1M143.4 243.7l-0.1 1M151.7 247.1l0 0.8M152.2 235.2l0.3 0.9M140.4 236.9l0.8 0.7M143.8 241.7l-0.8 1M142.7 246l0.6 1M149.1 233.1l0.8 1.5M148.8 230.2l0.7 1.2M148.4 233.1l0 0.6M144.5 246.6l0.7 1M142.3 233.3l-0.3 0.6M147.5 240.1l0.3 1.5M146.7 238.8l0.5 1M151.9 233.3l0.6 1.3M147.3 232.1l0.4 0.7M150.1 248.2l-0.5 1.6M150.1 234.1l-0.3 0.8M145.2 230l0.1 0.6M140.7 236.8l0.6 1.3M155.9 239.9l0 1.2M161.6 234.1l-0.7 1.1M157.7 229.1l0.5 1.5M154.3 236.3l-0.4 1.2M151.8 237.7l0.1 1M152.7 233.8l0.5 1.5M159.1 235.9l0.8 0.7M156.6 234.5l-0.2 1M162.5 237.9l-0.7 1.2M150.5 245.1l0.1 1.5M160.3 242.6l-0.3 1.4M154.4 248.2l0.6 0.8M161.9 245.4l-0.1 1M159.5 240.2l-0.5 1.2M158.2 231.8l0.8 0.7M151.4 240.2l0.7 1.2M152.7 239l-0.6 1.1M159.3 232.7l0.2 0.9M156.5 245.5l0.6 1.5M157.4 243.9l-0.1 1.5M152.3 236.4l-0.1 1.3M160.8 233.8l0.7 0.9M155.3 232.3l0.2 1M151.1 241.2l-0.1 0.8" stroke="#d2c2c2" stroke-width="0.7" opacity="0.7"/>
<path d="M135.1 275V247.7" stroke="#9aa07e" stroke-width="0.55" opacity="0.85"/>
<path d="M135.5 275V252.4" stroke="#b8aca4" stroke-width="0.55" opacity="0.85"/>
<path d="M139.1 275V252" stroke="#9cb068" stroke-width="0.55" opacity="0.85"/>
<path d="M137.2 275V252.8" stroke="#9aa07e" stroke-width="0.55" opacity="0.85"/>
<path d="M138.1 275V255.6" stroke="#a89c90" stroke-width="0.55" opacity="0.85"/>
<path d="M138.9 275V253.3" stroke="#b8aca4" stroke-width="0.55" opacity="0.85"/>
<path d="M149 275V257.3" stroke="#9aa07e" stroke-width="0.55" opacity="0.85"/>
<path d="M149.7 275V246.4" stroke="#b8aca4" stroke-width="0.55" opacity="0.85"/>
<path d="M144.9 275V253.6" stroke="#6a9142" stroke-width="0.55" opacity="0.85"/>
<path d="M143.6 275V258.2" stroke="#55843c" stroke-width="0.55" opacity="0.85"/>
<path d="M143.6 275V252.5" stroke="#b8aca4" stroke-width="0.55" opacity="0.85"/>
<path d="M146.9 275V251" stroke="#55843c" stroke-width="0.55" opacity="0.85"/>
<path d="M155.4 275V257.1" stroke="#6a9142" stroke-width="0.55" opacity="0.85"/>
<path d="M158.1 275V257.8" stroke="#a89c90" stroke-width="0.55" opacity="0.85"/>
<path d="M159.9 275V253.3" stroke="#55843c" stroke-width="0.55" opacity="0.85"/>
<path d="M155.9 275V245.9" stroke="#7f9f50" stroke-width="0.55" opacity="0.85"/>
<path d="M155.4 275V250.6" stroke="#b8aca4" stroke-width="0.55" opacity="0.85"/>
<path d="M155.7 275V254.4" stroke="#6a9142" stroke-width="0.55" opacity="0.85"/>
<rect x="129.8" y="272.4" width="32.46" height="2.2" rx="1" fill="#a6aedc" opacity="0.85"/>
</g>
<rect x="118.1" y="300.6" width="55.3" height="2.2" fill="#030304"/>
<line x1="159.4" y1="294.5" x2="170.4" y2="294.5" stroke="#dcdcdc" stroke-width="1.1"/>
<text class="rb" x="164.9" y="300.2" font-size="5" text-anchor="middle" fill="#f2f2f2">5 cm</text>
</g>
<text class="r" x="147.3" y="312.6" font-size="7.5" text-anchor="middle" fill="#222" word-spacing="1.1">E B1 EB1</text>
<clipPath id="c11"><rect x="178.3" y="221.8" width="56" height="81"/></clipPath>
<g clip-path="url(#c11)">
<rect x="178.3" y="221.8" width="56" height="81" fill="#040405"/>
<rect x="178.3" y="271.2" width="56" height="28.6" fill="url(#lw)"/>
<linearGradient id="g11" gradientUnits="userSpaceOnUse" x1="0" y1="273" x2="0" y2="226.8"><stop offset="0" stop-color="#6f9650"/><stop offset="0.4" stop-color="#8f9c78"/><stop offset="0.58" stop-color="#c2afb0"/><stop offset="1" stop-color="#b29ca4"/></linearGradient>
<g filter="url(#bl)" fill="none" stroke-linecap="round">
<path d="M195.2 273.5C196.5 279 195.4 291.7 196 299.7C196.6 291.7 198.2 279 199.5 273.5Z" fill="url(#rg)" stroke="none" opacity="0.6"/>
<path d="M196.8 274Q197.9 283 199.8 293" stroke="#b4b4cc" stroke-width="0.7" opacity="0.36"/>
<path d="M197.9 274Q197.6 284 199.6 294.9" stroke="#b4b4cc" stroke-width="0.8" opacity="0.32"/>
<path d="M197.2 274Q199.1 285 198.5 297" stroke="#b4b4cc" stroke-width="0.7" opacity="0.38"/>
<path d="M204.5 273.5C205.6 279 206.9 291.5 207.5 299.5C208.1 291.5 207 279 208.1 273.5Z" fill="url(#rg)" stroke="none" opacity="0.6"/>
<path d="M206.3 274Q204.8 284.7 209.2 296.5" stroke="#b4b4cc" stroke-width="0.6" opacity="0.45"/>
<path d="M205.9 274Q205.5 284.3 203.6 295.7" stroke="#b4b4cc" stroke-width="0.7" opacity="0.44"/>
<path d="M206.6 274Q205 282.9 203.5 292.9" stroke="#b4b4cc" stroke-width="0.4" opacity="0.42"/>
<path d="M213.9 273.5C215 279 214.7 290.6 215.3 298.6C215.9 290.6 216.6 279 217.8 273.5Z" fill="url(#rg)" stroke="none" opacity="0.6"/>
<path d="M218 274Q219.4 286.2 214.3 299.5" stroke="#b4b4cc" stroke-width="0.5" opacity="0.36"/>
<path d="M217.9 274Q219.5 284.8 218.8 296.7" stroke="#b4b4cc" stroke-width="0.8" opacity="0.37"/>
<path d="M215.7 274Q216.8 283.4 213.3 293.7" stroke="#b4b4cc" stroke-width="0.5" opacity="0.34"/>
<path d="M213.3 273C213.3 251.9 215.8 241.5 217.8 235.9" stroke="#57a048" stroke-width="0.4" opacity="0.82"/>
<path d="M203.8 273C203.3 248.3 209.7 241.1 214.4 237.3M203.7 273C203.3 246.6 206.5 235.3 208.9 229.1M199.9 273C199.8 248.7 199.8 239.1 199.6 233.9M207.6 273C207.5 251.9 207.8 238.8 208 231.7M213.5 273C213 252.3 213.1 236.2 212.8 227.5" stroke="#4a923d" stroke-width="0.6" opacity="0.82"/>
<path d="M198.1 273C198 249.8 195.3 236.4 193 229.2M216.1 273C216.2 249 210.2 237.3 205.4 231M204.7 273C204.5 242.8 205.3 233.9 205.8 229.1M215.6 273C215.6 255.9 214.4 242.6 213.4 235.5M198.1 273C198.6 245 201.1 237.2 203.5 232.9" stroke="#4a923d" stroke-width="0.5" opacity="0.82"/>
<path d="M214.4 273C214.1 251.8 210.4 238.5 207.1 231.3" stroke="#57a048" stroke-width="0.6" opacity="0.82"/>
<path d="M215.2 273C214.8 243.2 214.9 232.5 214.6 226.7M204.7 273C204.3 253.8 201.6 241.7 199.1 235.2M198.7 273C199 245.8 200.1 238.1 201.2 233.9" stroke="#438a36" stroke-width="0.5" opacity="0.82"/>
<path d="M213.2 273C213.1 252.2 211 242 209.2 236.6M196 273C196.5 253.9 200.4 240.5 204 233.3" stroke="#3e8631" stroke-width="0.6" opacity="0.82"/>
<path d="M196.1 273C195.8 246.1 195.4 235.7 194.9 230.2" stroke="#33742c" stroke-width="0.4" opacity="0.82"/>
<path d="M218 273C218.1 247.2 211 236.5 205.3 230.7M205.6 273C205.4 246.5 207 238 208.1 233.4" stroke="#64a651" stroke-width="0.4" opacity="0.82"/>
<path d="M205.9 273C205.7 253.7 209.3 238.6 212 230.4" stroke="#438a36" stroke-width="0.6" opacity="0.82"/>
<path d="M198.4 273C198.3 247.5 197.7 234.8 197.1 228" stroke="#64a651" stroke-width="0.5" opacity="0.82"/>
<path d="M208.8 273C208.8 247.5 208 239.8 207.3 235.7" stroke="#64a651" stroke-width="0.6" opacity="0.82"/>
<path d="M213.1 273C213.1 243.6 214.6 233.3 215.8 227.8" stroke="#4a923d" stroke-width="0.7" opacity="0.82"/>
<path d="M216.1 273C215.8 244.9 211.2 235.1 207.2 229.8" stroke="#57a048" stroke-width="0.5" opacity="0.82"/>
<path d="M197.1 273C197 254.2 201.7 239.4 205.5 231.4M200.4 273C200.7 246.9 202 236 203.3 230.1M212.9 273C213.3 245.9 215.6 238.3 217.8 234.2M203.7 273C203.5 254.2 202.5 242.3 201.6 235.9M195.7 273C195.2 249 190.7 240.8 186.6 236.4M204.7 273C204.9 249 204.3 237.7 203.9 231.6M197.6 273C197.2 250.7 200.5 236.3 203 228.6M213.8 273C213.8 253 216.5 239.9 218.6 232.8M205.9 273C205.4 253.4 208.4 241 210.5 234.3M200.2 273C200.1 245.8 204.1 237.1 207.3 232.4M197.6 273C197.5 253.3 191.4 242 186.3 235.9M197.6 273C197.6 249.8 193.9 238.2 190.8 231.9M208.4 273C208.4 251.3 209.3 235.7 209.9 227.2M203.5 273C203.2 250.1 208.1 242.1 211.9 237.8" stroke="url(#g11)" stroke-width="0.6" opacity="0.82"/>
<path d="M197.4 273C197.4 254.1 191.9 240.3 187.3 232.9M208.8 273C209 252.4 207.6 236.5 206.6 228M206.1 273C206.2 250.5 209 242.2 211.4 237.8M196.7 273C196.5 252.1 203.5 242.4 209 237.2M204.3 273C204.7 248.8 204.7 239.8 205.1 234.9M215.9 273C215.9 254.1 213 242 210.7 235.5M208.9 273C208.8 251.3 202.2 241.8 196.6 236.8M214.5 273C214.1 253.4 217.9 239.3 220.7 231.7M195.9 273C195.7 249.5 195.8 236.3 195.7 229.3M196.1 273C196 252.6 191.6 242.9 187.9 237.7M204.7 273C204.4 250.8 209 239.7 212.5 233.7M216.7 273C216.8 243.6 214.8 233.9 213.2 228.7M197.8 273C197.5 248.6 201.3 241.8 204.1 238.1" stroke="url(#g11)" stroke-width="0.4" opacity="0.82"/>
<path d="M212.8 273C212.8 251.3 209.2 242.7 206.2 238.1M204.1 273C204.5 252.5 203.5 239.1 202.9 231.8M218.5 273C218.6 246.4 218.4 233.8 218.3 227M214.6 273C214.2 249.8 213 241.7 211.8 237.3M199.6 273C199.3 249.2 196.2 237.5 193.4 231.1M203.6 273C203.2 243.4 204.7 233 205.6 227.3M199.7 273C199.8 245.6 198.3 235.4 197.2 230M206.1 273C206.1 250 207.8 238.8 209.1 232.7M213.9 273C213.4 252.9 213.5 241.8 213.2 235.8M196.1 273C196 252.2 198.9 240.4 201.2 234.1M205.2 273C205.3 254.3 211.6 243.6 216.7 237.8" stroke="url(#g11)" stroke-width="0.5" opacity="0.82"/>
<path d="M217.1 273C216.9 253.9 219.3 242.6 221 236.4M208.9 273C208.6 249.3 210.9 238.2 212.6 232.2M203.8 273C203.3 255 207 243.1 209.6 236.7M213.1 273C213.5 252.4 213.7 237.3 214.1 229.2M213.5 273C213.2 249.9 218.1 239.5 221.9 233.9M195.8 273C195.4 246.4 196 236.4 196.1 231M218.1 273C217.8 252.5 220.5 243.7 222.5 238.9M195.2 273C195.6 244.9 198.4 234.8 201 229.4M213.1 273C213 250.1 213.2 240 213.4 234.6" stroke="url(#g11)" stroke-width="0.7" opacity="0.82"/>
<path d="M199.1 256.2Q205.5 251.4 207.8 270.6M214 249.3Q206.7 244.4 203.5 251.5M205.8 254.2Q219 245.1 228.3 273.8M205.6 245Q194.2 237.8 186.7 258.8M197.7 242.4Q188.2 237 182.7 263.1M205.9 258.7Q216.3 249.9 222.6 271.7M216.7 251Q227.9 243.9 235.1 255.4M198.9 243.6Q185.4 239.1 175.9 262.1M196.8 243.2Q186.9 239.1 181 251.6M205.9 240.4Q194.7 235.1 187.5 262.4M196.2 250.3Q207.8 241.9 215.3 267.6M195.9 241.6Q188.7 236 185.6 250.5M204.7 241.4Q191.7 234.2 182.8 250M207.9 243.7Q219.5 236.5 227.1 247.2M206.6 247.6Q214.8 243.1 219 249.9M216.1 257.1Q203.6 250.8 195 275.8M217.8 255.6Q207.6 249.5 201.3 261.6M214.8 256.9Q229.1 250.7 239.4 272.4M198.2 259.5Q210.9 251.3 219.5 272.8M214.2 261Q222.4 257 226.7 269.2M199.2 241.2Q183.7 234.7 172.3 248.4M205.4 240.2Q195.6 231.2 189.8 246M206.4 255.9Q195.2 250.9 188 260.1M206.7 255.5Q195 245.9 187.4 277.2M208.3 257.6Q193.8 251.2 183.4 262M205.4 239.9Q219.3 231.1 229.1 242.9M205.2 239.2Q193.7 230.1 186.3 248M205.4 257.2Q213.6 247.9 217.8 271.8M207.2 257.5Q196.2 247.8 189.2 264M205 243.6Q215.2 238.2 221.4 256.8" stroke="#a89498" stroke-width="0.4" opacity="0.7"/>
<path d="M193.1 235.9l-0.3 1.5M192.1 236.9l0.7 1.2M199.9 241.3l0.3 0.6M202 227.8l0.2 1.5M199.4 239.8l0 1.5M190.8 245.5l0.3 1.1M201.5 229.6l0.7 1.5M199.7 228.4l-0.4 1.3M190.5 236l-0.6 1.4M191.2 234l-0.2 1M195.5 237.2l0.6 1.2M201.5 239l-0.5 1.5M193.7 241.6l-0.5 1.2M198.5 237.1l0.7 0.8M196.8 244.9l-0.3 1M196 229l-0.5 1.3M200.6 237.1l0.7 0.8M196.6 245.3l-0.2 1.1M205.2 245.1l0.7 1.6M195.6 241.2l0 1.1M202.2 229l0.6 1.6M194.3 230.3l0.8 0.6M200.4 228.4l0.4 1.5M189.3 229.8l0.2 0.9M192.6 248.7l-0.6 0.7M196.3 228.9l-0.2 1.2M209.2 239.2l0.4 1.4M200.9 228.6l0.8 1.5M212 242l0.6 1M208 239.7l-0.6 0.9M209.1 240.5l-0.3 1.1M202.6 230.5l0.2 0.7M202.4 243l0.7 1.1M200.3 241.3l0.1 1.4M210.7 243.4l0 0.7M206.5 248.6l-0.3 1.1M208.6 238.8l0.5 1.4M202.7 242.1l0.1 1.3M209.4 228.2l0.1 1.6M203.9 239l0.5 1.4M205 240.3l-0.1 1.3M210.3 229.6l-0.6 1.6M205 239.6l0.3 1.3M201.9 248.8l-0.3 1.6M210.9 246.6l-0.7 1.5M199.5 237.3l-0.6 1.3M199.6 234.3l-0.7 1.5M202.7 234.2l0.4 0.9M203.5 237.8l0.6 0.8M214 227.2l0.2 1.3M214 240.4l0.7 0.8M206.4 243.6l-0.6 1M220.8 230.2l-0.1 1.3M217 239.1l-0.1 1.1M213.9 227.9l0.6 1.3M223.1 229.5l0.6 1.4M223.2 230.3l0.6 1M213.9 243.6l0.3 0.6M218.4 236.7l0.5 1.5M215.6 237.1l-0.1 0.8M214.5 243.8l-0.4 1.4M216.5 238.4l0.2 0.9M211.1 233.2l-0.5 0.8M220.8 246.8l0 1M223.6 227.1l-0.6 1.1M213.3 234.5l0.8 1.2M219.7 235.4l-0.3 1.4M211 230.2l-0.1 1.2M215.5 234l0.7 0.7M209.5 234.7l-0.6 1.2M217.6 227.8l-0.1 0.8M221.8 236l-0.2 1.6M213.2 244.2l0.4 1.3M216.4 237.4l-0.6 0.8M210.5 247.9l0.1 1.2M221 244.9l-0.7 1M221.7 246.3l0.1 0.8M209.5 239.8l0.3 0.9" stroke="#d2c2c2" stroke-width="0.7" opacity="0.7"/>
<path d="M199.5 274.5V257.9" stroke="#a89c90" stroke-width="0.55" opacity="0.85"/>
<path d="M198.6 274.5V255.2" stroke="#9aa07e" stroke-width="0.55" opacity="0.85"/>
<path d="M200.2 274.5V258.7" stroke="#a89c90" stroke-width="0.55" opacity="0.85"/>
<path d="M195.9 274.5V254.5" stroke="#a89c90" stroke-width="0.55" opacity="0.85"/>
<path d="M199.7 274.5V258.1" stroke="#b8aca4" stroke-width="0.55" opacity="0.85"/>
<path d="M195.1 274.5V258.1" stroke="#a89c90" stroke-width="0.55" opacity="0.85"/>
<path d="M202.8 274.5V247.1" stroke="#b8aca4" stroke-width="0.55" opacity="0.85"/>
<path d="M208.9 274.5V245.7" stroke="#9aa07e" stroke-width="0.55" opacity="0.85"/>
<path d="M208.8 274.5V258.9" stroke="#7f9f50" stroke-width="0.55" opacity="0.85"/>
<path d="M205.2 274.5V248.6" stroke="#b8aca4" stroke-width="0.55" opacity="0.85"/>
<path d="M204.8 274.5V254.1" stroke="#6a9142" stroke-width="0.55" opacity="0.85"/>
<path d="M208.1 274.5V248.1" stroke="#55843c" stroke-width="0.55" opacity="0.85"/>
<path d="M219.2 274.5V256.3" stroke="#9aa07e" stroke-width="0.55" opacity="0.85"/>
<path d="M218.4 274.5V253" stroke="#b8aca4" stroke-width="0.55" opacity="0.85"/>
<path d="M216.9 274.5V249.8" stroke="#a89c90" stroke-width="0.55" opacity="0.85"/>
<path d="M212.5 274.5V253.2" stroke="#a89c90" stroke-width="0.55" opacity="0.85"/>
<path d="M218.4 274.5V251.5" stroke="#a89c90" stroke-width="0.55" opacity="0.85"/>
<path d="M213.1 274.5V249.1" stroke="#b8aca4" stroke-width="0.55" opacity="0.85"/>
<rect x="191.34" y="271.9" width="30.48" height="2.2" rx="1" fill="#a6aedc" opacity="0.85"/>
</g>
<rect x="178.3" y="300.6" width="56" height="2.2" fill="#030304"/>
<line x1="220.3" y1="294.5" x2="231.3" y2="294.5" stroke="#dcdcdc" stroke-width="1.1"/>
<text class="rb" x="225.8" y="300.2" font-size="5" text-anchor="middle" fill="#f2f2f2">5 cm</text>
</g>
<text class="r" x="206.9" y="312.6" font-size="7.5" text-anchor="middle" fill="#222" word-spacing="1.1">E B1 EB1</text>
<clipPath id="c12"><rect x="238.2" y="221.8" width="55.3" height="81"/></clipPath>
<g clip-path="url(#c12)">
<rect x="238.2" y="221.8" width="55.3" height="81" fill="#040405"/>
<rect x="238.2" y="273.2" width="55.3" height="26.6" fill="url(#lw2)"/>
<linearGradient id="g12" gradientUnits="userSpaceOnUse" x1="0" y1="275" x2="0" y2="226.8"><stop offset="0" stop-color="#6f9650"/><stop offset="0.4" stop-color="#8f9c78"/><stop offset="0.58" stop-color="#c2afb0"/><stop offset="1" stop-color="#b29ca4"/></linearGradient>
<g filter="url(#bl)" fill="none" stroke-linecap="round">
<path d="M259.6 275.5C260.7 281 261.5 291.8 262.1 299.8C262.7 291.8 262.2 281 263.3 275.5Z" fill="url(#rg)" stroke="none" opacity="0.42"/>
<path d="M262.1 276Q260.4 284.9 258.6 294.8" stroke="#b4b4cc" stroke-width="0.7" opacity="0.24"/>
<path d="M262.9 276Q261.8 286.1 259 297.2" stroke="#b4b4cc" stroke-width="0.8" opacity="0.33"/>
<path d="M262.4 276Q263.5 285.5 261.6 295.9" stroke="#b4b4cc" stroke-width="0.7" opacity="0.23"/>
<path d="M268.4 275.5C269.5 281 270.8 290.5 271.4 298.5C272 290.5 271 281 272.1 275.5Z" fill="url(#rg)" stroke="none" opacity="0.42"/>
<path d="M268.7 276Q269.3 285.9 272.9 296.7" stroke="#b4b4cc" stroke-width="0.6" opacity="0.23"/>
<path d="M272.6 276Q274 284.5 270.6 293.9" stroke="#b4b4cc" stroke-width="0.5" opacity="0.23"/>
<path d="M272 276Q273.2 287.2 272.1 299.4" stroke="#b4b4cc" stroke-width="0.6" opacity="0.28"/>
<path d="M275.8 275.5C277.1 281 277.7 290.7 278.3 298.7C278.9 290.7 278.9 281 280.2 275.5Z" fill="url(#rg)" stroke="none" opacity="0.42"/>
<path d="M279.3 276Q277.4 286 279.5 297" stroke="#b4b4cc" stroke-width="0.7" opacity="0.22"/>
<path d="M277 276Q275.3 286 279.2 297.1" stroke="#b4b4cc" stroke-width="0.5" opacity="0.33"/>
<path d="M275.8 276Q276.9 283.9 278.2 292.9" stroke="#b4b4cc" stroke-width="0.6" opacity="0.24"/>
<path d="M281.1 275C280.9 245.7 278.6 235.6 276.5 230.1M275.5 275C275.7 248.9 278.2 235.8 280.3 228.8M273 275C273.2 243.5 271.5 234.3 270.2 229.4" stroke="#4a923d" stroke-width="0.5" opacity="0.82"/>
<path d="M276.7 275C276.6 245.6 277.9 235.7 278.9 230.4M275.8 275C276.2 249.4 276 241.4 276.1 237M271.4 275C271.3 257 269.5 243.3 268 236" stroke="#33742c" stroke-width="0.4" opacity="0.82"/>
<path d="M277.7 275C277.7 254.6 280 244.1 281.8 238.4M279.1 275C279.2 257.4 276.4 245.2 274.1 238.6" stroke="#57a048" stroke-width="0.7" opacity="0.82"/>
<path d="M275 275C275 255.9 276.3 241.5 277.3 233.8M277.2 275C277.1 256.3 274.3 245.4 272 239.6" stroke="#57a048" stroke-width="0.4" opacity="0.82"/>
<path d="M269.8 275C269.5 252.8 267.2 239.7 265.1 232.7M272.7 275C272.2 246.6 272.5 236.9 272.4 231.7" stroke="#33742c" stroke-width="0.6" opacity="0.82"/>
<path d="M270.5 275C270.6 253.4 271.7 243.4 272.6 238M280.1 275C280 253.4 276.5 237.8 273.6 229.5M278.2 275C278.3 250.2 275.4 242.2 273.2 237.9" stroke="#438a36" stroke-width="0.6" opacity="0.82"/>
<path d="M280.3 275C280 250.6 277.2 238.1 274.6 231.4M272.3 275C272.5 255.7 273.7 241.2 274.8 233.4" stroke="#438a36" stroke-width="0.4" opacity="0.82"/>
<path d="M271.9 275C272.4 252.1 271.9 242.4 271.9 237.3M273.4 275C273.3 247.4 270.1 238.7 267.4 234M272.2 275C272.5 254.1 269.8 238.6 267.8 230.2M269.7 275C269.6 250.2 272.7 242.9 275.1 239M273.3 275C273.2 253.1 270.1 242 267.4 236.1" stroke="#33742c" stroke-width="0.5" opacity="0.82"/>
<path d="M276.6 275C276.3 257.6 273.8 245.7 271.6 239.3" stroke="#64a651" stroke-width="0.5" opacity="0.82"/>
<path d="M271 275C271.4 252.1 268.1 239.4 265.7 232.5" stroke="#3e8631" stroke-width="0.4" opacity="0.82"/>
<path d="M277.2 275C276.7 251.7 278 240.3 278.6 234.2M268 275C268 244.9 269.4 234.3 270.4 228.5M272.8 275C272.8 247.2 274 238.1 274.9 233.1" stroke="#33742c" stroke-width="0.7" opacity="0.82"/>
<path d="M273.1 275C272.9 251.7 271.2 235.9 269.7 227.5" stroke="#57a048" stroke-width="0.5" opacity="0.82"/>
<path d="M277.1 275C277.2 256.1 281.7 241.8 285.4 234.1" stroke="#64a651" stroke-width="0.6" opacity="0.82"/>
<path d="M279 275C278.7 256.7 279.6 243.6 280.1 236.6M271.5 275C272 252.6 266.6 244.8 262.5 240.7" stroke="#3e8631" stroke-width="0.6" opacity="0.82"/>
<path d="M271.7 275C272.2 254.8 274.7 242.7 277.1 236.2" stroke="#4a923d" stroke-width="0.6" opacity="0.82"/>
<path d="M273.3 275C273.4 252.3 269.2 240.4 265.8 234" stroke="#3e8631" stroke-width="0.7" opacity="0.82"/>
<path d="M261.8 275C262.1 264.7 261.5 256.8 261.2 252.5M259.3 275C259.2 264.9 262.2 259.5 264.5 256.6M272 275C272.1 247.2 275.1 238.2 277.6 233.4M259.7 275C259.7 264.7 261.4 258.7 262.7 255.5M278.6 275C278.2 253.6 282.1 243.4 285 237.8M276.6 275C276.7 247.9 277.8 237.9 278.7 232.6M280 275C280.2 255.8 279.3 240.7 278.7 232.6M277.3 275C277.5 247.4 277.7 236.8 278 231.1M261.4 275C261.3 269.7 259.9 267 258.7 265.6M264.4 275C264.8 267.4 260.8 264.3 257.9 262.7M262.1 275C262.4 266.9 260.2 263.3 258.6 261.4M259.8 275C260.1 265.9 260.6 262.2 261.2 260.1M269.6 275C270.1 245.7 270.7 234.1 271.5 227.9M259 275C259.4 263.2 259.9 256.8 260.6 253.3" stroke="url(#g12)" stroke-width="0.5" opacity="0.82"/>
<path d="M264.6 275C264.4 260.2 262.9 255.6 261.6 253.1M258.6 275C258.5 267 258.6 264.1 258.6 262.5M259 275C258.6 267.1 260.7 264.2 262.2 262.6M278.4 275C278.3 244.9 279.7 234.2 280.7 228.4M260.7 275C260.7 267.1 261.3 263.3 261.8 261.2M260.2 275C260.2 267.8 260.4 264.5 260.6 262.7M260.3 275C260.7 268.8 260.8 264.5 261.3 262.2" stroke="url(#g12)" stroke-width="0.7" opacity="0.82"/>
<path d="M260.7 275C260.6 267.5 261 262.3 261.3 259.4M260.5 275C260.6 267.2 262.7 261.7 264.5 258.7M261.8 275C261.8 268.5 263.6 264.8 265 262.8M281.1 275C280.7 244.5 277.9 235.6 275.2 230.8M263.6 275C263.2 270.8 264.4 268.5 265.1 267.2M259.7 275C259.6 268.3 261.3 265.8 262.7 264.5M273.4 275C273.6 254.1 267.4 246 262.5 241.6M262.6 275C262.8 266.8 260.8 263 259.3 261M260.8 275C260.4 266.5 262.6 261.2 264.1 258.4" stroke="url(#g12)" stroke-width="0.6" opacity="0.82"/>
<path d="M275.5 275C275.7 250.1 273.3 239.5 271.5 233.7M268.5 275C268.8 252.3 272.7 239.5 276.2 232.5M260.2 275C260.5 269.9 258.8 266.9 257.7 265.3" stroke="url(#g12)" stroke-width="0.4" opacity="0.82"/>
<path d="M263.4 275C264 245.2 254.4 244 243.3 263.2M261.1 275C261.6 248.9 252.1 247.9 242.9 261.3M260.7 275C261 242.7 251.7 241.4 240.3 269.4M262 275C261.9 239.6 253 238.1 247.9 261.9M262.1 275C261.6 247.4 253.1 246.3 242.9 263.9M263.3 275C262.9 247.2 254.3 246.1 246.4 265.3M260.4 275C261.2 246.9 251.4 245.7 246.9 265.9M261.6 275C261.3 244.3 252.6 243.1 244.8 262M260.6 275C261.2 247.1 251.6 246 239.7 273.4M263.9 275C263.3 240.2 254.9 238.8 244.9 265.1M262.6 275C263 245.8 253.6 244.6 241.7 261.7M259.3 275C258.5 245.5 250.3 244.3 244.6 264.7M263 275C263.9 242.3 254 241 248 266.7M259.9 275C260.3 241 250.9 239.6 240.1 269.3M263 275C262.7 249 254 248 248.3 261.4M259.2 275C259.5 242.6 250.2 241.3 239 270.5M263.1 275C262.6 241.9 254.1 240.6 243.5 262.7M260.2 275C260 241.6 251.2 240.2 248.1 261M262.5 275C263.1 248.2 253.5 247.2 250.1 261.2M261.2 275C260.9 242.9 252.2 241.6 240.2 262.5M259.7 275C260.5 246.8 250.7 245.7 244.4 263.4M263.9 275C264.8 243.1 254.9 241.8 251.2 273.7" stroke="#a89498" stroke-width="0.5" opacity="0.8"/>
<path d="M260.7 262.5l-0.5 1.3M259.6 261.5l0.3 1.4M260.2 261.3l-0.8 1.3M259.2 256.4l0.7 1.6M263.6 262.7l0.2 1.5M263.2 274.1l0.5 1.4M263.4 258.6l-0.2 1.1M260.8 255l-0.7 0.7M262.8 268.4l0.3 1.5M263.6 261.3l0.3 1.4M263 266.4l0.5 1.3M260 266.9l0.1 0.9M262.8 255.2l-0.1 1.5M260.6 253.8l0.3 1.1M260.4 268.2l-0.5 0.7M262.2 257.8l0.1 0.9M263.1 260.6l0.7 0.9M261.7 263.4l0.3 0.8M261.1 257l0.4 1.5M263.1 256.7l0.4 1M261.8 253.9l-0.2 0.8M260.7 273.7l0.2 1M262 255.1l0.2 1.1M259.3 275.7l0.1 1.5M259.7 263.2l-0.3 1.6M263.5 266.1l0.3 1.2M260.1 257.6l-0.2 1.6M264.1 270.8l-0.4 1.4M262.6 267.6l0.6 1.2M263 255.9l-0.3 1M259.5 263.4l-0.7 0.7M259.1 262.6l-0.2 1.2M260.9 272.5l0.1 1M262.8 253.8l-0.7 1.4M259.7 270.3l0.7 1.4M262.1 266.6l0.6 0.9M260.9 268.3l0.7 0.9M262.6 254.8l-0.4 0.6M261.4 265.2l-0.4 1.5M260.8 270.7l0.8 0.6M268.5 231.5l0.3 1.5M266 242.5l0.7 1.3M265.6 228l0.7 1.4M275.7 230.4l0.4 0.7M272.3 243l-0.4 0.7M272.7 234l0.8 1.1M271.1 243.7l-0.3 1.6M268.8 237.7l0.2 1.6M265.6 244l-0.3 1.5M267.6 246.8l0.3 0.6M277.8 230l0.4 1.6M281.6 235.4l0.5 0.8M274.8 249.1l0.6 1.2M277.6 246.8l0.4 1.5M275.1 232.6l0.1 1.4M276.2 238.4l-0.8 0.9M277.8 242.2l-0.5 1.1M281.2 249.5l-0.2 0.6M277.7 242.6l-0.6 1M279.6 243l0 1.5" stroke="#d2c2c2" stroke-width="0.7" opacity="0.7"/>
<path d="M263.3 276.5V249.4" stroke="#b8aca4" stroke-width="0.55" opacity="0.85"/>
<path d="M263.7 276.5V259.2" stroke="#9aa07e" stroke-width="0.55" opacity="0.85"/>
<path d="M261.6 276.5V258.8" stroke="#9aa07e" stroke-width="0.55" opacity="0.85"/>
<path d="M260.8 276.5V260.6" stroke="#9aa07e" stroke-width="0.55" opacity="0.85"/>
<path d="M260.2 276.5V253" stroke="#a89c90" stroke-width="0.55" opacity="0.85"/>
<path d="M262.6 276.5V250.9" stroke="#9aa07e" stroke-width="0.55" opacity="0.85"/>
<path d="M268.8 276.5V250.3" stroke="#b8aca4" stroke-width="0.55" opacity="0.85"/>
<path d="M267.3 276.5V261" stroke="#a89c90" stroke-width="0.55" opacity="0.85"/>
<path d="M272.8 276.5V249.9" stroke="#9aa07e" stroke-width="0.55" opacity="0.85"/>
<path d="M269.9 276.5V257.6" stroke="#6a9142" stroke-width="0.55" opacity="0.85"/>
<path d="M271.4 276.5V259" stroke="#55843c" stroke-width="0.55" opacity="0.85"/>
<path d="M267.6 276.5V249.8" stroke="#7f9f50" stroke-width="0.55" opacity="0.85"/>
<path d="M280.9 276.5V255.7" stroke="#a89c90" stroke-width="0.55" opacity="0.85"/>
<path d="M277.5 276.5V248.3" stroke="#a89c90" stroke-width="0.55" opacity="0.85"/>
<path d="M275.3 276.5V250.5" stroke="#6a9142" stroke-width="0.55" opacity="0.85"/>
<path d="M280.2 276.5V256.4" stroke="#a89c90" stroke-width="0.55" opacity="0.85"/>
<path d="M277.1 276.5V255.6" stroke="#6a9142" stroke-width="0.55" opacity="0.85"/>
<path d="M281 276.5V253.7" stroke="#6a9142" stroke-width="0.55" opacity="0.85"/>
<rect x="255.43" y="273.9" width="28.59" height="2.2" rx="1" fill="#a6aedc" opacity="0.85"/>
</g>
<rect x="238.2" y="300.6" width="55.3" height="2.2" fill="#030304"/>
<line x1="279.5" y1="294.5" x2="290.5" y2="294.5" stroke="#dcdcdc" stroke-width="1.1"/>
<text class="rb" x="285" y="300.2" font-size="5" text-anchor="middle" fill="#f2f2f2">5 cm</text>
</g>
<text class="r" x="266.4" y="312.6" font-size="7.5" text-anchor="middle" fill="#222" word-spacing="1.1">E B1 EB1</text>
<clipPath id="c13"><rect x="57" y="343.8" width="55.8" height="80.5"/></clipPath>
<g clip-path="url(#c13)">
<rect x="57" y="343.8" width="55.8" height="80.5" fill="#040405"/>
<rect x="57" y="396.7" width="55.8" height="24.6" fill="url(#lw)"/>
<linearGradient id="g13" gradientUnits="userSpaceOnUse" x1="0" y1="398.5" x2="0" y2="348.8"><stop offset="0" stop-color="#6f9650"/><stop offset="0.4" stop-color="#8f9c78"/><stop offset="0.58" stop-color="#c2afb0"/><stop offset="1" stop-color="#b29ca4"/></linearGradient>
<g filter="url(#bl)" fill="none" stroke-linecap="round">
<path d="M74.4 399C75.7 404.5 75.1 413.2 75.7 421.2C76.3 413.2 77.4 404.5 78.7 399Z" fill="url(#rg)" stroke="none" opacity="0.6"/>
<path d="M76.1 399.5Q75.9 406.7 79.4 414.9" stroke="#b4b4cc" stroke-width="0.6" opacity="0.32"/>
<path d="M75.5 399.5Q77 406.6 76.3 414.7" stroke="#b4b4cc" stroke-width="0.7" opacity="0.45"/>
<path d="M77.2 399.5Q76.8 408.1 73.7 417.8" stroke="#b4b4cc" stroke-width="0.5" opacity="0.31"/>
<path d="M83.3 399C84.6 404.5 83.7 412.7 84.3 420.7C84.9 412.7 86.3 404.5 87.6 399Z" fill="url(#rg)" stroke="none" opacity="0.6"/>
<path d="M87 399.5Q88.3 408.8 83 419.1" stroke="#b4b4cc" stroke-width="0.7" opacity="0.42"/>
<path d="M86.7 399.5Q87.9 409 83.6 419.4" stroke="#b4b4cc" stroke-width="0.6" opacity="0.41"/>
<path d="M84.1 399.5Q84.2 407.1 86.6 415.8" stroke="#b4b4cc" stroke-width="0.4" opacity="0.37"/>
<path d="M92.4 399C93.6 404.5 94.8 413.5 95.4 421.5C96 413.5 95.2 404.5 96.3 399Z" fill="url(#rg)" stroke="none" opacity="0.6"/>
<path d="M94.3 399.5Q96.3 408.9 93.7 419.4" stroke="#b4b4cc" stroke-width="0.6" opacity="0.35"/>
<path d="M92.2 399.5Q92 408.6 94.4 418.6" stroke="#b4b4cc" stroke-width="0.8" opacity="0.49"/>
<path d="M95.9 399.5Q97.1 407.7 95.8 416.8" stroke="#b4b4cc" stroke-width="0.8" opacity="0.34"/>
<path d="M74.5 398.5C74.7 376 77.6 359.4 80.1 350.4M86.6 398.5C86.2 378.9 79.5 365.6 73.8 358.5" stroke="#64a651" stroke-width="0.6" opacity="0.82"/>
<path d="M91.6 398.5C91.3 380.8 101.6 368.1 109.7 361.3M84.7 398.5C85 372.4 93.3 361.2 100.3 355.2M96 398.5C95.5 367 97.5 355.1 98.6 348.8M86.9 398.5C86.6 369 86.7 360.6 86.6 356" stroke="#3e8631" stroke-width="0.6" opacity="0.82"/>
<path d="M92.7 398.5C92.9 371.4 88.5 360.6 85.1 354.8M94.1 398.5C94.5 373.8 100.8 361.6 106.3 355.1M87.4 398.5C87 369.5 86.8 360 86.3 355M77.9 398.5C77.6 377.6 78.3 364.8 78.6 358M74.5 398.5C74.7 368.4 69.8 359.7 66 355M86.6 398.5C87 370.1 80.1 360.2 74.8 354.8" stroke="#64a651" stroke-width="0.7" opacity="0.82"/>
<path d="M94.4 398.5C94.4 378.1 86.6 363 80.3 354.8M91.8 398.5C91.3 370.6 100.5 361.3 107.6 356.3M74.5 398.5C74.1 372 69.1 362.6 64.6 357.6M94.3 398.5C94.6 374 92.8 357.5 91.6 348.7" stroke="#4a923d" stroke-width="0.6" opacity="0.82"/>
<path d="M83.2 398.5C83.2 372.3 80.2 359.6 77.8 352.7M95.5 398.5C95.5 378.7 103.2 365.3 109.6 358.2M88.5 398.5C88.6 375.5 91.3 364.2 93.6 358.1M77.6 398.5C77.6 379 76.5 363.7 75.6 355.4M76.8 398.5C77 377.4 78.7 365.3 80.2 358.7M82.3 398.5C82.5 377 85.6 364.8 88.4 358.2M78.5 398.5C78 379.8 75.8 365.2 73.6 357.3" stroke="#57a048" stroke-width="0.6" opacity="0.82"/>
<path d="M79.4 398.5C79 374.5 84.1 360.2 88 352.5M84.5 398.5C84.9 374.5 87.6 362.2 90.2 355.5M74 398.5C74.4 372.3 78.2 359.7 81.6 352.9" stroke="#3e8631" stroke-width="0.7" opacity="0.82"/>
<path d="M94.3 398.5C94.1 370.1 91.6 358.3 89.4 352M87.9 398.5C87.4 371.9 87.7 359.3 87.5 352.6M78.3 398.5C78.5 377.5 76 363.3 74.1 355.7M95.4 398.5C95.3 375.1 93.6 362.2 92.1 355.2M77.7 398.5C77.7 374.8 83.8 362.7 88.8 356.2" stroke="#4a923d" stroke-width="0.5" opacity="0.82"/>
<path d="M87.2 398.5C87 375.9 86.5 362.4 85.9 355.1M75.8 398.5C75.6 375.3 74.1 360.8 72.7 353M95.4 398.5C95.8 371.2 93 357.5 91 350.2M74.2 398.5C74.5 378 76.8 365.1 79 358.2" stroke="#3e8631" stroke-width="0.5" opacity="0.82"/>
<path d="M92.7 398.5C92.4 378.2 93.6 362.8 94.3 354.6M73.9 398.5C74.3 379.8 69.8 367.3 66.5 360.5M88.3 398.5C87.9 371.8 85.6 362 83.5 356.7M84.8 398.5C84.4 372.4 83.5 363.7 82.3 359M78.1 398.5C77.9 375.5 84.2 363.2 89.3 356.5" stroke="#33742c" stroke-width="0.5" opacity="0.82"/>
<path d="M74.8 398.5C74.9 377.8 81.2 365.3 86.5 358.7M85.3 398.5C85.2 373.3 91.6 364.7 96.9 360.1M76.9 398.5C76.8 375.4 72.2 364.9 68.4 359.2" stroke="#438a36" stroke-width="0.5" opacity="0.82"/>
<path d="M95.2 398.5C95.2 375 92.6 364.3 90.4 358.6" stroke="#438a36" stroke-width="0.4" opacity="0.82"/>
<path d="M96.5 398.5C96.5 371.3 87 360.8 79.2 355.2M92.8 398.5C93 375.7 98.6 365.1 103.3 359.5" stroke="#33742c" stroke-width="0.4" opacity="0.82"/>
<path d="M91.6 398.5C91.1 379.5 88.7 365.1 86.3 357.4M82.9 398.5C82.7 375.4 78.7 359.2 75.3 350.5M75.6 398.5C76 377.8 70 365.7 65.4 359.2M91.5 398.5C91.2 367.5 92.7 355.9 93.7 349.7M76.3 398.5C76.4 377.5 76.7 361.2 77.1 352.4M73.9 398.5C74.1 379.2 73.3 365.6 72.7 358.3" stroke="#33742c" stroke-width="0.6" opacity="0.82"/>
<path d="M96.8 398.5C96.7 376.6 94.3 361.1 92.3 352.8M97.3 398.5C97.1 374.1 98.3 361.9 99.1 355.4" stroke="#438a36" stroke-width="0.7" opacity="0.82"/>
<path d="M83.7 398.5C84.1 369.9 84.6 356.4 85.3 349.1M88.1 398.5C88.6 378 93 363.9 96.9 356.4M75.3 398.5C75 377.8 70.6 362.3 66.8 353.9M78.2 398.5C78.5 376.6 80.2 362.8 81.9 355.4M73.9 398.5C73.4 378.7 83.9 367.2 92.1 361.1M91.9 398.5C91.4 378.8 95.2 366 97.9 359.1" stroke="#57a048" stroke-width="0.5" opacity="0.82"/>
<path d="M96.9 398.5C96.7 368.8 96.4 357.7 96 351.7M88.5 398.5C88.8 379.5 91.8 364.9 94.4 357.1M94.7 398.5C94.6 375.9 92.6 358.6 90.9 349.3" stroke="#64a651" stroke-width="0.5" opacity="0.82"/>
<path d="M95.2 398.5C95.2 370.3 99.5 360.7 103.1 355.6M82.9 398.5C82.8 371.3 86.1 358.7 88.8 351.9M85.8 398.5C86.2 373.3 79.4 361.5 74.1 355.1" stroke="#57a048" stroke-width="0.4" opacity="0.82"/>
<path d="M83 398.5C83.5 363.6 84.5 353.1 85.6 347.4M85 398.5C84.8 377 85.6 360.1 86 351M91.5 398.5C91.2 364.8 94.1 354.2 96.3 348.4M88.5 398.5C89 375.9 92.6 361.4 96 353.5M73.8 398.5C73.3 373 73.7 360.9 73.7 354.3" stroke="#438a36" stroke-width="0.6" opacity="0.82"/>
<path d="M88 398.5C88.4 372.8 89.7 362.2 91.1 356.5" stroke="#3e8631" stroke-width="0.4" opacity="0.82"/>
<path d="M78.6 400V373.4" stroke="#6a9142" stroke-width="0.55" opacity="0.85"/>
<path d="M72.7 400V376.9" stroke="#9cb068" stroke-width="0.55" opacity="0.85"/>
<path d="M79.6 400V372.5" stroke="#7f9f50" stroke-width="0.55" opacity="0.85"/>
<path d="M76.1 400V373.2" stroke="#7f9f50" stroke-width="0.55" opacity="0.85"/>
<path d="M77 400V374.5" stroke="#7f9f50" stroke-width="0.55" opacity="0.85"/>
<path d="M73.1 400V377.4" stroke="#55843c" stroke-width="0.55" opacity="0.85"/>
<path d="M82.1 400V373.4" stroke="#6a9142" stroke-width="0.55" opacity="0.85"/>
<path d="M83.2 400V370.9" stroke="#7f9f50" stroke-width="0.55" opacity="0.85"/>
<path d="M87.7 400V375.3" stroke="#9cb068" stroke-width="0.55" opacity="0.85"/>
<path d="M89 400V381.7" stroke="#55843c" stroke-width="0.55" opacity="0.85"/>
<path d="M84 400V372.9" stroke="#55843c" stroke-width="0.55" opacity="0.85"/>
<path d="M87.8 400V374.7" stroke="#7f9f50" stroke-width="0.55" opacity="0.85"/>
<path d="M91.9 400V372.5" stroke="#9cb068" stroke-width="0.55" opacity="0.85"/>
<path d="M92.8 400V374.7" stroke="#7f9f50" stroke-width="0.55" opacity="0.85"/>
<path d="M97 400V382.9" stroke="#6a9142" stroke-width="0.55" opacity="0.85"/>
<path d="M97.5 400V382.4" stroke="#6a9142" stroke-width="0.55" opacity="0.85"/>
<path d="M98.1 400V376.4" stroke="#9cb068" stroke-width="0.55" opacity="0.85"/>
<path d="M91 400V375.6" stroke="#7f9f50" stroke-width="0.55" opacity="0.85"/>
<rect x="70.53" y="397.4" width="29.86" height="2.2" rx="1" fill="#a6aedc" opacity="0.85"/>
</g>
<rect x="57" y="422.1" width="55.8" height="2.2" fill="#030304"/>
<line x1="98.8" y1="416" x2="109.8" y2="416" stroke="#dcdcdc" stroke-width="1.1"/>
<text class="rb" x="104.3" y="421.7" font-size="5" text-anchor="middle" fill="#f2f2f2">5 cm</text>
</g>
<text class="r" x="88.5" y="433.6" font-size="7.5" text-anchor="middle" fill="#222" word-spacing="1.1">G D1 GD1</text>
<clipPath id="c14"><rect x="117.9" y="343.8" width="55" height="80.5"/></clipPath>
<g clip-path="url(#c14)">
<rect x="117.9" y="343.8" width="55" height="80.5" fill="#040405"/>
<rect x="117.9" y="397.1" width="55" height="24.2" fill="url(#lw)"/>
<linearGradient id="g14" gradientUnits="userSpaceOnUse" x1="0" y1="398.9" x2="0" y2="348.8"><stop offset="0" stop-color="#6f9650"/><stop offset="0.4" stop-color="#8f9c78"/><stop offset="0.58" stop-color="#c2afb0"/><stop offset="1" stop-color="#b29ca4"/></linearGradient>
<g filter="url(#bl)" fill="none" stroke-linecap="round">
<path d="M136.6 399.4C137.9 404.9 138.7 412.3 139.3 420.3C139.9 412.3 139.7 404.9 141 399.4Z" fill="url(#rg)" stroke="none" opacity="0.6"/>
<path d="M140.8 399.9Q139 407.6 139.8 416.3" stroke="#b4b4cc" stroke-width="0.6" opacity="0.41"/>
<path d="M137.9 399.9Q136.7 407.4 138 415.9" stroke="#b4b4cc" stroke-width="0.8" opacity="0.49"/>
<path d="M138.6 399.9Q140.5 409 136.4 419.2" stroke="#b4b4cc" stroke-width="0.6" opacity="0.42"/>
<path d="M144.6 399.4C145.7 404.9 146 412.8 146.6 420.8C147.2 412.8 147.3 404.9 148.4 399.4Z" fill="url(#rg)" stroke="none" opacity="0.6"/>
<path d="M145.7 399.9Q143.8 409.5 143.7 420.1" stroke="#b4b4cc" stroke-width="0.5" opacity="0.5"/>
<path d="M146.3 399.9Q145.7 407 148.3 415.1" stroke="#b4b4cc" stroke-width="0.5" opacity="0.38"/>
<path d="M146.1 399.9Q147.5 407.8 148.5 416.7" stroke="#b4b4cc" stroke-width="0.5" opacity="0.35"/>
<path d="M153.5 399.4C154.6 404.9 155 413 155.6 421C156.2 413 156 404.9 157.1 399.4Z" fill="url(#rg)" stroke="none" opacity="0.6"/>
<path d="M157.2 399.9Q156.3 409.4 156.8 419.9" stroke="#b4b4cc" stroke-width="0.6" opacity="0.4"/>
<path d="M157.5 399.9Q157 408.1 154.6 417.3" stroke="#b4b4cc" stroke-width="0.5" opacity="0.34"/>
<path d="M153.7 399.9Q155.5 407.8 152.4 416.7" stroke="#b4b4cc" stroke-width="0.5" opacity="0.41"/>
<path d="M144.7 398.9C144.9 380.4 143.9 366.5 143.1 359M148.5 398.9C148.1 376.1 147 362.7 145.8 355.4" stroke="#57a048" stroke-width="0.4" opacity="0.82"/>
<path d="M147.3 398.9C147.5 371.1 144.7 357.3 142.6 349.9M155.9 398.9C155.9 369.9 160.6 361.8 164.5 357.4M140.9 398.9C141.2 376.7 136.1 359.7 132.3 350.6M148.8 398.9C148.9 374.6 153.6 365.6 157.6 360.7" stroke="#33742c" stroke-width="0.6" opacity="0.82"/>
<path d="M155.3 398.9C155.7 380.4 159.5 366.1 163 358.4" stroke="#57a048" stroke-width="0.7" opacity="0.82"/>
<path d="M141.3 398.9C140.9 377.5 138.2 364.7 135.6 357.9M140.1 398.9C140.4 374.6 134 359.7 129 351.6M156.1 398.9C156.2 372.1 152.3 359.6 149.1 352.9M154.6 398.9C154.8 378.3 157.3 366.2 159.6 359.7" stroke="#3e8631" stroke-width="0.6" opacity="0.82"/>
<path d="M139.1 398.9C138.8 380.5 142.7 367 145.6 359.8M143.9 398.9C143.8 379.2 139.6 368.2 136 362.3" stroke="#33742c" stroke-width="0.4" opacity="0.82"/>
<path d="M139 398.9C138.9 378.2 138.4 364.8 137.8 357.6M139.5 398.9C139.8 368.4 135.8 358.3 132.8 352.9" stroke="#3e8631" stroke-width="0.5" opacity="0.82"/>
<path d="M147.9 398.9C147.7 377 142.7 366.3 138.5 360.6M156.4 398.9C156.8 368.9 152.4 360.2 149.1 355.5" stroke="#438a36" stroke-width="0.6" opacity="0.82"/>
<path d="M157.8 398.9C157.8 366.5 158.1 357.5 158.4 352.6M157.4 398.9C157.5 370.9 150.4 362.8 144.7 358.5" stroke="#33742c" stroke-width="0.5" opacity="0.82"/>
<path d="M147.2 398.9C147.5 375.3 147.3 357.3 147.3 347.7" stroke="#3e8631" stroke-width="0.4" opacity="0.82"/>
<path d="M141.9 398.9C141.4 367.7 145.9 358.7 149.2 353.9M139.8 398.9C139.7 377.9 144.2 366 147.8 359.5" stroke="#64a651" stroke-width="0.5" opacity="0.82"/>
<path d="M147 398.9C146.8 371.4 143.7 362.5 141 357.7" stroke="#57a048" stroke-width="0.5" opacity="0.82"/>
<path d="M141.6 398.9C141.2 368.6 146 358.3 149.5 352.7M140.4 398.9C140.1 374.2 138.5 360.1 137 352.5" stroke="#4a923d" stroke-width="0.5" opacity="0.82"/>
<path d="M154.7 398.9C154.6 373.9 148.9 364.3 144.1 359.2M143.4 398.9C143.6 378.4 144 362.8 144.5 354.5M146.3 398.9C146.2 372.5 145.3 362.7 144.5 357.4M156.9 398.9C156.8 377.1 161.6 366.9 165.3 361.4" stroke="#438a36" stroke-width="0.5" opacity="0.82"/>
<path d="M157.2 398.9C157.6 380.3 151 367.8 145.9 361M141.3 398.9C141.4 376.7 141.1 363.4 141 356.2M153.8 398.9C154.1 372.6 155.9 358.3 157.6 350.6" stroke="#57a048" stroke-width="0.6" opacity="0.82"/>
<path d="M138.9 398.9C139 371.2 136.7 363.3 134.8 359.1" stroke="#64a651" stroke-width="0.7" opacity="0.82"/>
<path d="M148.1 398.9C148.5 378.8 142.3 364.1 137.6 356.2" stroke="#3e8631" stroke-width="0.7" opacity="0.82"/>
<path d="M152.6 398.9C152.2 369.1 156.6 360 159.8 355.1" stroke="#64a651" stroke-width="0.4" opacity="0.82"/>
<path d="M139.1 398.9C139.5 374.2 133.1 361.2 128.2 354.1M154.5 398.9C154.5 376.3 150.7 364.3 147.5 357.9M146.7 398.9C146.8 371.6 150.4 363.4 153.4 359M144.2 398.9C143.9 376.8 141.4 360.3 139 351.4M145 398.9C145.2 373.8 144.5 360.4 144 353.1M153.4 398.9C153 367.9 156.4 357.5 158.8 352M144.1 398.9C143.9 378.2 143.3 364.8 142.6 357.5M155.5 398.9C155.5 370.3 155 361.4 154.6 356.6M148.2 398.9C147.9 374.8 147.6 358 147.1 349M141.6 398.9C141.9 369.1 135.4 359.3 130.2 354M157.1 398.9C157.3 371.4 150.8 362 145.7 356.9M145.5 398.9C145.6 375.3 150 362.3 153.7 355.3M141.3 398.9C141.6 372.8 134.7 364.3 129.4 359.7M155 398.9C154.6 374.2 155.3 360.7 155.5 353.4M147.3 398.9C146.9 371.7 144 359.3 141.3 352.6" stroke="url(#g14)" stroke-width="0.5" opacity="0.82"/>
<path d="M140.8 398.9C140.7 378.2 134.4 363.9 129.2 356.3M144.4 398.9C144.1 369.4 140.5 358.3 137.3 352.3M157.9 398.9C157.9 372.7 153.6 358.5 150.1 350.9M156.8 398.9C157 375.7 152 363.2 148 356.4M153.2 398.9C152.9 378.6 148.3 367 144.3 360.7" stroke="url(#g14)" stroke-width="0.4" opacity="0.82"/>
<path d="M143.8 398.9C144.1 376.2 142.5 359.7 141.5 350.9M142 398.9C141.7 370.8 135.9 359.3 130.9 353.2M156.6 398.9C156.6 374.3 150.1 360.5 144.8 353.1M136.6 398.9C136.4 373.3 139.4 359 141.7 351.3M149.1 398.9C148.8 373.5 148.5 359.1 148 351.3M139.1 398.9C139.1 376 136.6 360.6 134.6 352.3M140.8 398.9C140.6 373.4 136.2 360.9 132.4 354.2M153.1 398.9C153.1 379.4 157.1 364.4 160.5 356.3" stroke="url(#g14)" stroke-width="0.7" opacity="0.82"/>
<path d="M144.5 398.9C144.5 377 149.6 364.7 153.7 358.1M155.9 398.9C156.1 364.4 155.9 353.3 155.9 347.4M138.5 398.9C138.4 372 143.7 360.1 147.9 353.7M141.3 398.9C141 377.9 135.2 362 130.1 353.5M144.9 398.9C145.1 371.5 143.3 363.4 142.1 359M138.8 398.9C138.3 381.3 145.1 367.5 150.3 360.1M156.1 398.9C156.2 376.9 151.4 364.1 147.4 357.1M146.3 398.9C146.3 369.8 142.8 361 139.9 356.3M139.1 398.9C139.5 373.5 136.6 364.1 134.5 359" stroke="url(#g14)" stroke-width="0.6" opacity="0.82"/>
<path d="M138.9 381.6Q123.9 373.1 112.9 395.3M155.3 375.1Q147.7 370.6 144.2 385.8M140.4 384.8Q130.2 378.8 124 398.6M146.5 372.9Q133.2 363 123.8 387.1M145.6 381.9Q132.5 371.9 123.3 396.2M153.5 378.1Q141.9 372.9 134.4 396.2M146 372.1Q132.5 366.8 123 391.9M145.1 368.1Q132.7 361.1 124.3 373.2M137.2 378.5Q126.5 372.3 119.7 387.5M156.9 372.5Q141.7 366.9 130.6 394.5M138.9 365.5Q129.6 356.8 124.2 371.5M147.7 381.3Q139.6 373.5 135.5 384.9M148.4 382.8Q139.9 373.1 135.4 403.7M145.1 375.2Q134.4 370.9 127.8 385.4M144.8 376Q135.7 368.9 130.6 392.4M144.9 366.9Q137.1 357.5 133.2 387.7M155.1 366.8Q147.3 362.3 143.5 379.3M147.2 371.1Q137.4 365.4 131.6 377.8M139.9 369.7Q125.3 365.4 114.8 388.7M137.6 372.7Q126.7 364.6 119.7 394" stroke="#9c8c90" stroke-width="0.4" opacity="0.7"/>
<path d="M136.3 365l0.6 1.3M145.1 368.1l0.1 0.9M141.5 364.6l0.7 0.7M146.5 370.5l-0.5 1.3M133.3 364.8l0.1 1.4M130.8 356.8l-0.3 1M132.4 363.8l0.5 1.2M141.9 351.4l0.1 0.7M141.2 355l-0.2 1.6M139.7 369.5l-0.5 0.6M146.7 356.1l0 1.3M133.3 365l-0.4 1.2M140.7 364.4l-0.4 1.1M135.2 354.5l0.8 1M146.9 365.1l0.7 1.4M131.8 358.1l0.6 1.3M145.7 369.9l-0.5 0.9M153.4 355.2l-0.4 1M151.6 354.2l0.4 1M142.5 359.6l0.2 1.4M151 359.7l0.3 1.6M145.2 366.4l0.3 1.5M143.3 363.9l-0.2 1.5M150.7 361l-0.7 1.6M143.7 359.9l0.1 1.1M149.6 352.5l-0.1 1.6M144.6 359.8l0.1 0.9M152.5 351.2l0.4 1.2M151.8 369.3l-0.3 1.1M152.7 353.8l-0.2 1.1M151.1 362.9l-0.7 1.3M138.7 357.6l0.1 1.4M153 356.8l-0.7 1.2M161.5 359.5l0.6 1M161.9 354.2l-0.2 1.4M150.1 365.7l0.3 0.7M162.5 355.6l0.1 1.4M155.5 362.9l-0.7 0.7M159.6 367.5l-0.7 1.4M160.7 352.9l-0.4 1.1M149.2 363.4l0.3 0.7M151.2 357.8l0.5 1.4M154.3 364.1l0.3 1M151 353.6l0 1.3M161.3 352.1l-0.8 1.2M157.6 362.3l-0.1 1.3M159.4 353.2l0.5 0.9M155.7 359.7l-0.4 1.6" stroke="#d2c2c2" stroke-width="0.7" opacity="0.7"/>
<path d="M141.7 400.4V382.7" stroke="#9aa07e" stroke-width="0.55" opacity="0.85"/>
<path d="M142 400.4V379.4" stroke="#6a9142" stroke-width="0.55" opacity="0.85"/>
<path d="M139.6 400.4V375.9" stroke="#6a9142" stroke-width="0.55" opacity="0.85"/>
<path d="M140.1 400.4V376" stroke="#7f9f50" stroke-width="0.55" opacity="0.85"/>
<path d="M138.6 400.4V377" stroke="#b8aca4" stroke-width="0.55" opacity="0.85"/>
<path d="M139.3 400.4V380.9" stroke="#9cb068" stroke-width="0.55" opacity="0.85"/>
<path d="M149.5 400.4V378.4" stroke="#9cb068" stroke-width="0.55" opacity="0.85"/>
<path d="M146.4 400.4V371" stroke="#a89c90" stroke-width="0.55" opacity="0.85"/>
<path d="M143.9 400.4V378.5" stroke="#9aa07e" stroke-width="0.55" opacity="0.85"/>
<path d="M147.3 400.4V379.8" stroke="#b8aca4" stroke-width="0.55" opacity="0.85"/>
<path d="M144.5 400.4V379.8" stroke="#6a9142" stroke-width="0.55" opacity="0.85"/>
<path d="M143.3 400.4V383.5" stroke="#55843c" stroke-width="0.55" opacity="0.85"/>
<path d="M159 400.4V384" stroke="#9cb068" stroke-width="0.55" opacity="0.85"/>
<path d="M153.8 400.4V377.3" stroke="#55843c" stroke-width="0.55" opacity="0.85"/>
<path d="M155.9 400.4V375.7" stroke="#55843c" stroke-width="0.55" opacity="0.85"/>
<path d="M152.9 400.4V378.3" stroke="#7f9f50" stroke-width="0.55" opacity="0.85"/>
<path d="M154.6 400.4V371.5" stroke="#9aa07e" stroke-width="0.55" opacity="0.85"/>
<path d="M157.9 400.4V383.7" stroke="#9cb068" stroke-width="0.55" opacity="0.85"/>
<rect x="132.8" y="397.8" width="28.5" height="2.2" rx="1" fill="#a6aedc" opacity="0.85"/>
</g>
<rect x="117.9" y="422.1" width="55" height="2.2" fill="#030304"/>
<line x1="158.9" y1="416" x2="169.9" y2="416" stroke="#dcdcdc" stroke-width="1.1"/>
<text class="rb" x="164.4" y="421.7" font-size="5" text-anchor="middle" fill="#f2f2f2">5 cm</text>
</g>
<text class="r" x="148.2" y="433.6" font-size="7.5" text-anchor="middle" fill="#222" word-spacing="1.1">G D1 GD1</text>
<clipPath id="c15"><rect x="177" y="343.8" width="55.6" height="80.5"/></clipPath>
<g clip-path="url(#c15)">
<rect x="177" y="343.8" width="55.6" height="80.5" fill="#040405"/>
<rect x="177" y="396.7" width="55.6" height="24.6" fill="url(#lw)"/>
<linearGradient id="g15" gradientUnits="userSpaceOnUse" x1="0" y1="398.5" x2="0" y2="348.8"><stop offset="0" stop-color="#6f9650"/><stop offset="0.4" stop-color="#8f9c78"/><stop offset="0.58" stop-color="#c2afb0"/><stop offset="1" stop-color="#b29ca4"/></linearGradient>
<g filter="url(#bl)" fill="none" stroke-linecap="round">
<path d="M195.3 399C196.3 404.5 196 412.6 196.6 420.6C197.2 412.6 197.7 404.5 198.7 399Z" fill="url(#rg)" stroke="none" opacity="0.6"/>
<path d="M198.6 399.5Q199.7 408.8 198.5 419.1" stroke="#b4b4cc" stroke-width="0.6" opacity="0.4"/>
<path d="M196.9 399.5Q195 407.5 194.4 416.4" stroke="#b4b4cc" stroke-width="0.5" opacity="0.45"/>
<path d="M195.4 399.5Q194.7 408.4 195.3 418.4" stroke="#b4b4cc" stroke-width="0.5" opacity="0.48"/>
<path d="M203.5 399C204.6 404.5 205 412.9 205.6 420.9C206.2 412.9 206.1 404.5 207.2 399Z" fill="url(#rg)" stroke="none" opacity="0.6"/>
<path d="M207.6 399.5Q208.4 409.4 202.8 420.2" stroke="#b4b4cc" stroke-width="0.5" opacity="0.3"/>
<path d="M207.2 399.5Q208.2 407.8 205.2 417.2" stroke="#b4b4cc" stroke-width="0.5" opacity="0.46"/>
<path d="M205.4 399.5Q204.3 408.8 203.4 419" stroke="#b4b4cc" stroke-width="0.5" opacity="0.36"/>
<path d="M212.4 399C213.5 404.5 214.7 412.6 215.3 420.6C215.9 412.6 215 404.5 216.1 399Z" fill="url(#rg)" stroke="none" opacity="0.6"/>
<path d="M216.3 399.5Q216.3 409 214.7 419.5" stroke="#b4b4cc" stroke-width="0.8" opacity="0.38"/>
<path d="M215.3 399.5Q214.8 408.3 214.8 418" stroke="#b4b4cc" stroke-width="0.7" opacity="0.46"/>
<path d="M211.8 399.5Q213.7 406.6 211.9 414.7" stroke="#b4b4cc" stroke-width="0.6" opacity="0.5"/>
<path d="M195.1 398.5C195.4 373.2 192 361.9 189.5 355.8" stroke="#4a923d" stroke-width="0.6" opacity="0.82"/>
<path d="M197.6 398.5C197.2 366.4 192 356.5 187.5 351.1" stroke="#57a048" stroke-width="0.5" opacity="0.82"/>
<path d="M208.1 398.5C207.8 378.4 199.5 364.9 192.5 357.6M205.2 398.5C205.7 373.3 202.9 359.8 201.1 352.5" stroke="#64a651" stroke-width="0.4" opacity="0.82"/>
<path d="M212.8 398.5C212.4 376.1 220.1 365 226.1 359" stroke="#438a36" stroke-width="0.4" opacity="0.82"/>
<path d="M204.3 398.5C204.2 369.1 202 359.3 200.1 354M195.8 398.5C195.9 374.8 195.2 357.6 194.7 348.3M196.1 398.5C195.7 374.6 200.8 365 204.7 359.9" stroke="#57a048" stroke-width="0.6" opacity="0.82"/>
<path d="M216.5 398.5C216.1 370.8 213.6 362.1 211.3 357.3" stroke="#33742c" stroke-width="0.4" opacity="0.82"/>
<path d="M207.1 398.5C206.8 372.3 208.2 361 209.2 354.9" stroke="#33742c" stroke-width="0.7" opacity="0.82"/>
<path d="M216 398.5C216.4 374.9 209.2 365.4 203.7 360.3" stroke="#3e8631" stroke-width="0.6" opacity="0.82"/>
<path d="M203.1 398.5C203.3 376.6 211.3 364.8 217.9 358.5" stroke="#438a36" stroke-width="0.7" opacity="0.82"/>
<path d="M214.1 398.5C213.6 372.4 215.7 363.5 217 358.7" stroke="#4a923d" stroke-width="0.5" opacity="0.82"/>
<path d="M204.3 398.5C204.3 377.9 197.8 364.9 192.5 357.9" stroke="#57a048" stroke-width="0.4" opacity="0.82"/>
<path d="M196.7 398.5C196.5 372.8 201.6 363 205.6 357.7" stroke="#33742c" stroke-width="0.5" opacity="0.82"/>
<path d="M212.2 398.5C212.3 374.9 214.9 358.8 217.2 350.1" stroke="#438a36" stroke-width="0.5" opacity="0.82"/>
<path d="M214.8 398.5C214.4 375.5 221.5 364 227.1 357.9" stroke="#438a36" stroke-width="0.6" opacity="0.82"/>
<path d="M199.5 398.5C199.9 371.2 196.7 359.4 194.4 353" stroke="#64a651" stroke-width="0.5" opacity="0.82"/>
<path d="M207.1 398.5C207.6 369.1 201.7 358.5 197.3 352.9" stroke="#3e8631" stroke-width="0.7" opacity="0.82"/>
<path d="M207.5 398.5C207.7 376 212.8 364.9 217 358.9M195.8 398.5C195.8 379.9 193.4 366.3 191.3 359M213.2 398.5C213.1 371.6 210.5 358.8 208.3 351.9M211.9 398.5C212 372.1 218 361.7 223 356.2M196.4 398.5C196.4 365.6 197.5 354.4 198.5 348.3M214.5 398.5C214.2 375.4 215 357.6 215.4 348M198.4 398.5C198.7 376 194.6 360.6 191.5 352.3M213.8 398.5C213.6 369.5 213 361.3 212.3 356.8M212.1 398.5C212.6 374.3 219.5 364.2 225.6 358.7M207 398.5C206.7 379.1 206.9 364.3 206.7 356.3M198.3 398.5C198.6 378.1 200.2 364.4 201.8 357M195.2 398.5C195.4 367.4 194.8 356.8 194.5 351.1M214.4 398.5C214.5 374.3 212.1 358.5 210.2 350M211.2 398.5C210.9 373.5 212.9 356.9 214.2 348M212.7 398.5C212.3 376.6 213.7 364 214.4 357.2M194.9 398.5C195.2 374.8 195.1 361 195.3 353.6" stroke="url(#g15)" stroke-width="0.6" opacity="0.82"/>
<path d="M211.3 398.5C211.1 375.2 218.2 364.8 223.7 359.1M199.3 398.5C199.5 371.1 204.4 361.2 208.6 355.9M203.7 398.5C204.2 378.8 198.6 366.2 194.4 359.5M211.6 398.5C211.3 380.4 208.5 367.7 206 360.8M206.8 398.5C207.1 366.4 204 356.1 201.8 350.5M206.9 398.5C206.8 373.9 209.2 364.1 211.1 358.8M204.8 398.5C204.6 372.1 199.4 360.3 194.9 354M198.5 398.5C198.4 374.1 204.7 359.9 209.8 352.2M194.2 398.5C194.3 380.2 202.2 368.4 208.7 362.1M202.4 398.5C202.6 374.3 197.8 365.2 194 360.2M216.7 398.5C216.3 377.4 221.5 363.7 225.4 356.3M196.9 398.5C197.2 377.3 192.2 361.5 188.4 353M205 398.5C204.7 365.8 203.6 354.5 202.5 348.4M194.9 398.5C194.5 375.7 192.4 361.3 190.3 353.6M200.2 398.5C200.1 374.2 203.7 364.9 206.6 359.9M211.8 398.5C212.1 370.3 216.5 360.5 220.3 355.3M203.1 398.5C202.7 366.9 197.3 357.7 192.6 352.8M198.9 398.5C198.6 370.7 200.7 358.2 202.1 351.5M204.3 398.5C204.1 373.5 202.1 362.2 200.3 356.2M207.2 398.5C207.3 376.4 206.6 360.4 206 351.8M196 398.5C195.8 371.6 198.2 357.5 200.1 349.9M199 398.5C199.4 367.5 198 356.5 197.1 350.7M203.3 398.5C203 376.3 207.7 360.4 211.3 351.8M214.2 398.5C213.8 376.4 212.1 364.1 210.4 357.4" stroke="url(#g15)" stroke-width="0.5" opacity="0.82"/>
<path d="M202.6 398.5C202.8 364.2 204.2 353.1 205.5 347.2M195.2 398.5C195.5 378.6 200.8 363.8 205.5 355.8M214.9 398.5C215.1 371.5 219.7 362.7 223.7 358M207.5 398.5C207.7 371.3 207.2 360.8 207 355.1M213.7 398.5C213.8 368.9 217.4 358.2 220.4 352.5M204 398.5C203.8 374.4 210.3 362.5 215.4 356.1M202.9 398.5C203.1 371.6 206.4 363.6 209.3 359.2M213.9 398.5C213.7 378.2 210 365.6 206.8 358.8M211.8 398.5C211.9 373.8 210 358 208.5 349.5M196.1 398.5C195.6 374.3 193.9 364.1 192.1 358.6" stroke="url(#g15)" stroke-width="0.7" opacity="0.82"/>
<path d="M194.5 398.5C194.6 377.9 196.4 362.6 197.9 354.3M215.9 398.5C216.1 372 208.8 360.1 202.9 353.7M207.5 398.5C207.8 371.8 202.7 361 198.8 355.1" stroke="url(#g15)" stroke-width="0.4" opacity="0.82"/>
<path d="M215.3 374.4Q227.9 370 236.5 378.7M196.8 365.7Q183.1 358.7 173.4 375.9M198.3 382.4Q188.2 376.4 182.1 398.4M206.9 378.8Q194.4 374.1 185.9 392.2M204 371.8Q194.4 365.1 188.8 386.2M197.1 375.5Q183 369.5 172.8 389M197 369.1Q210.9 359.9 220.8 385.4M195.9 382.9Q187.2 376.7 182.4 392.3M214 379.2Q199.9 370.5 189.9 391.5M195.4 368.6Q186.2 360.7 180.9 388.9M196.7 371.8Q206.4 363.7 212.1 382.7M205.1 383.7Q216.1 375.4 223.1 403M212.7 365.9Q222.5 356.6 228.2 383M216 366.8Q206.6 360.8 201.1 370.1M197.3 367.5Q183.2 360.2 173.1 370.5M213.2 385.9Q226.4 378.2 235.6 403.2M213.8 366.7Q203 358.3 196.2 376.6M196.8 365.4Q185.8 359.1 178.8 370.4M196.6 385.3Q182.8 379.2 173 401.5M214.4 378.6Q222.7 371.7 226.9 397M205.4 365.6Q190.9 356.9 180.3 374.5M197.2 366.7Q207.6 361.8 214.1 380.4M206 383.4Q220.4 378.3 230.8 396.9M212.9 381.3Q222.3 372.3 227.6 400.3M215.3 364.8Q223.3 355.6 227.3 384.4M195.8 377.3Q207.3 372.5 214.9 390M213.8 367.6Q221 359.3 224.3 374.7M196 374.9Q205.7 369.6 211.4 379.4M212.6 368.8Q203.6 359.7 198.5 379.3M213.6 376.4Q202.7 367.2 195.8 381.6" stroke="#a89498" stroke-width="0.4" opacity="0.7"/>
<path d="M190 356.5l-0.5 1.4M200.5 361.8l0.3 1.1M201.3 349l-0.6 0.6M194.2 358.3l-0.8 1M197.1 361.8l0.3 0.7M198.8 364.9l0.4 1.5M197.8 360.3l0.3 1.3M195.6 369.1l0 1.4M202.2 351.5l0 0.6M189.7 352.9l0.1 1.1M192.9 352.8l-0.6 1.4M194.6 368.5l-0.7 1.6M203.7 370l-0.1 1M199.1 365.5l0.4 1.3M197.6 369.2l0.7 1.4M205.7 350.7l0.8 1.2M197.3 351.4l0.8 1.4M194 352.7l0.5 1M202.6 369.2l0.2 0.8M199.3 365.3l0 1.4M194.1 357.2l-0.7 1.4M199.2 355.6l-0.5 1.5M201.9 368.7l0.6 1.5M192.9 349.7l-0.7 1.3M204.2 353.1l0 1.5M205.1 348.8l0.7 1.5M205.6 369.5l0.1 1.3M209.8 366.5l0.3 0.8M197.5 370.3l-0.2 1M203.8 364.2l0.2 1.1M202.1 369.4l0.3 1.4M202.6 370.8l0.2 1M197.6 357.6l0.5 1M196.5 358.3l-0.5 1.3M205.1 350.4l-0.3 0.7M212.2 351.8l0.6 1.6M208.9 350.9l0.6 1.5M211.9 362.7l0.6 0.9M212.5 365l-0.5 1.2M197.8 359.7l-0.1 0.6M212.3 355.3l-0.2 1.5M203.5 369.4l-0.2 1.3M212.6 362.7l-0.2 0.9M207.2 358.5l0.7 1.1M208.9 354.3l0.4 0.8M206.8 361.2l-0.7 0.9M200.1 363.1l-0.7 1.1M196.6 353.5l-0.8 1.6M197.4 369.2l-0.4 0.8M203 355.8l0.3 1.3M198.7 351.7l0.2 0.8M196.9 355.8l-0.8 0.9M218.1 360.2l-0.7 0.8M214.5 350l-0.6 0.9M212.7 359.7l0 1.6M214 351.9l0 1.3M213.9 363.3l0.5 1.4M212.7 366l0.1 1.1M222.4 363.3l-0.4 1.2M216 365.1l0 0.8M206.5 350.1l-0.7 1.2M213 355.7l-0.3 1.4M209.4 350.1l0.6 1.1M206.5 356.4l-0.4 1.2M211.7 365.4l-0.8 1M213.3 360.2l-0.2 1.6M219.6 366.3l0 1.4M215.5 355.5l-0.5 1M218.5 349.4l0.2 1M217.3 360.9l0.7 1.1M210.2 359.9l-0.3 1.6M217.8 350.5l0.8 1.4M205.7 356.4l0.8 0.7M213.7 370.5l0.4 0.9M209 349.9l-0.7 0.6M213.7 351.3l0.7 1.4M213.3 348.9l0 1.5M219.5 367.6l-0.2 0.6" stroke="#d2c2c2" stroke-width="0.7" opacity="0.7"/>
<path d="M199.2 400V384.1" stroke="#b8aca4" stroke-width="0.55" opacity="0.85"/>
<path d="M193.8 400V376.2" stroke="#b8aca4" stroke-width="0.55" opacity="0.85"/>
<path d="M197.1 400V381.3" stroke="#9aa07e" stroke-width="0.55" opacity="0.85"/>
<path d="M199.3 400V375.7" stroke="#9aa07e" stroke-width="0.55" opacity="0.85"/>
<path d="M199.8 400V380.7" stroke="#9aa07e" stroke-width="0.55" opacity="0.85"/>
<path d="M198.2 400V377.9" stroke="#a89c90" stroke-width="0.55" opacity="0.85"/>
<path d="M202.6 400V371.9" stroke="#9cb068" stroke-width="0.55" opacity="0.85"/>
<path d="M207.8 400V375" stroke="#7f9f50" stroke-width="0.55" opacity="0.85"/>
<path d="M201.9 400V379.1" stroke="#55843c" stroke-width="0.55" opacity="0.85"/>
<path d="M201.7 400V371.3" stroke="#9aa07e" stroke-width="0.55" opacity="0.85"/>
<path d="M208.6 400V379.7" stroke="#7f9f50" stroke-width="0.55" opacity="0.85"/>
<path d="M207.1 400V377.4" stroke="#6a9142" stroke-width="0.55" opacity="0.85"/>
<path d="M212.5 400V383" stroke="#b8aca4" stroke-width="0.55" opacity="0.85"/>
<path d="M216.7 400V371.9" stroke="#b8aca4" stroke-width="0.55" opacity="0.85"/>
<path d="M216.4 400V376" stroke="#b8aca4" stroke-width="0.55" opacity="0.85"/>
<path d="M214.6 400V376" stroke="#9aa07e" stroke-width="0.55" opacity="0.85"/>
<path d="M215.4 400V379.3" stroke="#b8aca4" stroke-width="0.55" opacity="0.85"/>
<path d="M217.2 400V379.2" stroke="#6a9142" stroke-width="0.55" opacity="0.85"/>
<rect x="191.02" y="397.4" width="29.24" height="2.2" rx="1" fill="#a6aedc" opacity="0.85"/>
</g>
<rect x="177" y="422.1" width="55.6" height="2.2" fill="#030304"/>
<line x1="218.6" y1="416" x2="229.6" y2="416" stroke="#dcdcdc" stroke-width="1.1"/>
<text class="rb" x="224.1" y="421.7" font-size="5" text-anchor="middle" fill="#f2f2f2">5 cm</text>
</g>
<text class="r" x="207.6" y="433.6" font-size="7.5" text-anchor="middle" fill="#222" word-spacing="1.1">G D1 GD1</text>
<clipPath id="c16"><rect x="237.4" y="343.8" width="55.6" height="80.5"/></clipPath>
<g clip-path="url(#c16)">
<rect x="237.4" y="343.8" width="55.6" height="80.5" fill="#040405"/>
<rect x="237.4" y="400.4" width="55.6" height="20.9" fill="url(#lw2)"/>
<linearGradient id="g16" gradientUnits="userSpaceOnUse" x1="0" y1="402.2" x2="0" y2="348.8"><stop offset="0" stop-color="#a09c86"/><stop offset="0.35" stop-color="#bcb0a8"/><stop offset="1" stop-color="#c4b2b6"/></linearGradient>
<g filter="url(#bl)" fill="none" stroke-linecap="round">
<path d="M257.7 402.7C258.9 408.2 259 412.7 259.6 420.7C260.2 412.7 260.4 408.2 261.5 402.7Z" fill="url(#rg)" stroke="none" opacity="0.36"/>
<path d="M258.5 403.2Q257.4 409.7 257.9 417.1" stroke="#b4b4cc" stroke-width="0.6" opacity="0.28"/>
<path d="M257.9 403.2Q259.5 410.4 261.1 418.6" stroke="#b4b4cc" stroke-width="0.8" opacity="0.28"/>
<path d="M258.9 403.2Q257 410.8 256.7 419.4" stroke="#b4b4cc" stroke-width="0.4" opacity="0.26"/>
<path d="M264.7 402.7C266 408.2 266.8 412.2 267.4 420.2C268 412.2 267.7 408.2 269 402.7Z" fill="url(#rg)" stroke="none" opacity="0.36"/>
<path d="M267.7 403.2Q268.7 408.4 269.5 414.6" stroke="#b4b4cc" stroke-width="0.7" opacity="0.19"/>
<path d="M265.7 403.2Q267.6 410.1 266 418" stroke="#b4b4cc" stroke-width="0.4" opacity="0.24"/>
<path d="M269.3 403.2Q270.1 408.3 269.1 414.4" stroke="#b4b4cc" stroke-width="0.5" opacity="0.23"/>
<path d="M271.9 402.7C273.2 408.2 275 411.7 275.6 419.7C276.2 411.7 275 408.2 276.3 402.7Z" fill="url(#rg)" stroke="none" opacity="0.36"/>
<path d="M276 403.2Q276.8 410.7 274.6 419.2" stroke="#b4b4cc" stroke-width="0.8" opacity="0.29"/>
<path d="M273.3 403.2Q273.6 409.3 276.9 416.3" stroke="#b4b4cc" stroke-width="0.6" opacity="0.21"/>
<path d="M275.9 403.2Q276.9 409.7 274.8 417.1" stroke="#b4b4cc" stroke-width="0.7" opacity="0.23"/>
<path d="M264.6 402.2C265 389.7 264.4 379.8 264.3 374.4M275.2 402.2C275.1 379.6 276.6 362.8 277.7 353.8" stroke="#64a651" stroke-width="0.6" opacity="0.82"/>
<path d="M261.8 402.2C261.9 383.4 260.1 377.1 258.8 373.8M273.6 402.2C274.1 372.7 277.9 363.6 281.4 358.6" stroke="#33742c" stroke-width="0.6" opacity="0.82"/>
<path d="M275.7 402.2C275.8 376.8 276.3 364.2 276.8 357.4M266 402.2C266.3 380.7 267.4 370 268.6 364.2M275.8 402.2C275.9 378.2 271.4 363.3 267.8 355.2" stroke="#3e8631" stroke-width="0.5" opacity="0.82"/>
<path d="M274.2 402.2C274.2 375.9 275.2 364.4 276 358.2M275 402.2C274.7 371.1 276.4 359.1 277.5 352.7" stroke="#64a651" stroke-width="0.5" opacity="0.82"/>
<path d="M273.4 402.2C273.4 368.8 274.2 358.4 274.8 352.7M272.7 402.2C272.7 377.6 275.3 363 277.5 355.1" stroke="#4a923d" stroke-width="0.4" opacity="0.82"/>
<path d="M275.3 402.2C275.1 375.2 277.8 363.9 279.9 357.8" stroke="#4a923d" stroke-width="0.5" opacity="0.82"/>
<path d="M271.2 402.2C271.3 375.6 275.4 363.2 278.8 356.5M277.1 402.2C277.1 380.7 274.6 366 272.5 358.1" stroke="#438a36" stroke-width="0.6" opacity="0.82"/>
<path d="M274.7 402.2C274.7 381.9 277 366.3 278.8 357.9M275.9 402.2C276.4 370.4 274.7 357.9 273.7 351.1" stroke="#33742c" stroke-width="0.5" opacity="0.82"/>
<path d="M272.3 402.2C272.2 376.6 270.3 360.2 268.6 351.4M273.3 402.2C273.3 379.2 276.4 364.7 278.9 356.9" stroke="#4a923d" stroke-width="0.6" opacity="0.82"/>
<path d="M274.5 402.2C274.4 374.2 274 362 273.6 355.4M274.5 402.2C274.5 370.5 270.1 361.6 266.4 356.9" stroke="#57a048" stroke-width="0.6" opacity="0.82"/>
<path d="M274.3 402.2C274.4 365 275.4 354.7 276.3 349.1M263.8 402.2C264.1 385.9 266.4 376 268.4 370.7" stroke="#3e8631" stroke-width="0.7" opacity="0.82"/>
<path d="M276 402.2C276.2 373 271.4 363.7 267.6 358.7" stroke="#438a36" stroke-width="0.7" opacity="0.82"/>
<path d="M264.6 402.2C264.8 385.5 266.2 374.5 267.5 368.7" stroke="#438a36" stroke-width="0.4" opacity="0.82"/>
<path d="M262.8 402.2C263 387.3 263.7 378.5 264.5 373.8M276.4 402.2C276.1 375.6 274 358.3 272 348.9" stroke="#64a651" stroke-width="0.4" opacity="0.82"/>
<path d="M264.5 402.2C264.9 382.3 267.6 373.1 270.2 368.1" stroke="#3e8631" stroke-width="0.6" opacity="0.82"/>
<path d="M276.7 402.2C276.3 377.5 277.6 364.3 278.4 357.2M261.7 402.2C261.5 386.5 259 380.4 256.8 377.1" stroke="#57a048" stroke-width="0.7" opacity="0.82"/>
<path d="M266.6 402.2C266.7 386.1 263.8 377.2 261.6 372.5M264.5 402.2C264.6 380.4 264.9 374 265.2 370.5M266.7 402.2C266.5 387.2 266.3 377.3 265.9 371.9M257.3 402.2C256.8 388.7 257.8 380.5 258.3 376.2M260.9 402.2C261 389.9 256.7 380.2 253.2 375M263.8 402.2C263.8 380.9 268.3 371.3 272 366.2M261.3 402.2C261.3 388.1 258.8 381.8 256.7 378.4M259.4 402.2C258.9 389.7 256.8 385 254.7 382.4M259.6 402.2C259.5 390 258.1 384.5 256.8 381.5M266.8 402.2C266.6 389.3 269.7 379.4 272.1 374.1M269 402.2C268.6 386.5 270 378 270.8 373.4M274.1 402.2C273.8 376.3 277.9 366.2 281 360.7M262.8 402.2C262.9 386.1 261.6 381.6 260.6 379.1M262.1 402.2C262.2 388.1 259.2 381.4 256.8 377.8M268.9 402.2C269.2 385.4 270.1 374.1 271.1 368M273.1 402.2C272.8 371.4 269.9 358.6 267.3 351.7" stroke="url(#g16)" stroke-width="0.5" opacity="0.82"/>
<path d="M261.6 402.2C261.3 386.3 258.8 378.9 256.5 374.9M269.8 402.2C270.1 380.8 267.6 370.4 265.8 364.7M257.9 402.2C258 383.7 256.3 377.2 254.9 373.7M260.7 402.2C261.1 389.5 263.2 382.4 265.2 378.6M265.8 402.2C265.9 385.3 264.8 371.9 263.9 364.7M269.3 402.2C269.4 386.6 266 374.8 263.3 368.5" stroke="url(#g16)" stroke-width="0.4" opacity="0.82"/>
<path d="M261 402.2C261.4 385.2 259.6 375.2 258.5 369.9M269.1 402.2C269.4 381.2 268.3 372.1 267.6 367.2M257.8 402.2C257.5 385.8 258 377.5 258.2 373.1M259.1 402.2C258.7 391.1 259.9 383.5 260.6 379.3M259.8 402.2C259.9 390.5 262 384.9 263.9 381.9M275.9 402.2C275.8 372.2 270.9 360.9 266.8 354.8M260.2 402.2C259.9 383.4 259.9 377.2 259.7 373.8M258.4 402.2C258.3 390.6 262.4 382.9 265.7 378.7M265.7 402.2C265.5 389.5 264 379.8 262.6 374.5M266.9 402.2C267 384.4 262.7 373.8 259.3 368.1M257.9 402.2C258.3 392.1 258.2 384.4 258.4 380.2M269.1 402.2C268.8 388.8 264.2 379.7 260.3 374.8M266.2 402.2C266.4 384.7 264.3 372.1 262.7 365.4M265.7 402.2C265.6 381.8 270.6 372.7 274.6 367.8M267.5 402.2C267.5 386 270.9 375.9 273.7 370.4" stroke="url(#g16)" stroke-width="0.6" opacity="0.82"/>
<path d="M269.1 402.2C269.1 378.3 271.1 371 272.7 367.1M258.1 402.2C257.9 380.7 260.1 374.3 261.8 370.9M266.3 402.2C266.3 382.2 267 370.4 267.5 364M257.6 402.2C257.8 387.5 262 381.5 265.5 378.2M260.8 402.2C260.9 387.2 263.8 378.2 266.3 373.4M257 402.2C257.5 386.3 257.4 376 257.6 370.5" stroke="url(#g16)" stroke-width="0.7" opacity="0.82"/>
<path d="M258.5 381.4Q249.4 376.8 244.4 392.6M266.8 376.9Q258.2 367.7 253.6 386.7M259.7 371.4Q249.8 365.1 243.9 386.2M259.9 383.7Q252 377.2 248 398.5M274.9 383.4Q267.2 374.7 263.6 398.8M266.9 381.4Q252 374.5 241 393M259.9 389.4Q249.9 381.2 243.8 401M258.3 382.9Q246.1 374.3 237.8 396.4M266 388.2Q254.6 382.5 247.3 392M275.2 378.3Q262.7 368.4 254.1 392.7M261.3 377.2Q248.3 373.1 239.3 384.9M275.3 373.7Q264.7 367.2 258.1 387.3M272.2 379.1Q263.5 374.7 258.7 382.9M266.3 387.1Q258.1 382 254 400.2M259.6 374.7Q249.4 368 243.2 383.3M266.7 379.6Q254.9 372.1 247.1 387M268.7 387Q260.7 380.4 256.8 408.1M274.9 378.8Q263.6 370.2 256.4 396.5M275.6 372.2Q266.5 367.4 261.4 375.5M259.4 371.1Q249 365.3 242.7 379.5M267 384.1Q257.6 374.9 252.2 402.3M259.1 389.2Q249.3 382.6 243.5 395.2M273.2 390Q262.2 383.5 255.2 401.4M272.7 387.4Q266.4 377.9 264.1 395.6M259.4 383.2Q251 377.9 246.6 386.4M258.6 374Q250.9 369.2 247.1 395.3M258 383.2Q250 375.4 245.9 400.4M266.3 384.1Q254.5 375.8 246.8 402.7M274.8 390.2Q267.2 382.4 263.6 393.5M273.6 368.6Q264.3 360.2 259 371.9M275.1 376.3Q259.8 371.7 248.5 380.3M260.6 382.7Q248 374.6 239.5 402.7M274.7 386.9Q265.4 379.2 260.2 408.5M265.3 381.6Q251.8 374.1 242.4 395.9M273.6 373.4Q261.1 365.3 252.6 377.9M272.8 380.6Q264.2 372.5 259.6 388.8M258.8 385.9Q247 381 239.1 392.7M273.6 372.7Q260.5 365.9 251.3 376.4M266.7 373.1Q252.4 363.9 242.1 378M260 380.7Q249.9 375.7 243.9 401.5M275.4 372.2Q267.6 366.2 263.8 387.7M272.3 375.1Q261.9 368.4 255.5 394.7M259.3 379.4Q245.2 374 235.1 388.2M274.5 380Q263.5 374.1 256.6 388M260.6 382Q250.2 374.2 243.9 394.9M267.7 388.4Q258.6 379.9 253.5 408.4M260.9 381.3Q247.4 376.6 238 399.1M266.3 384.7Q258.3 375.7 254.3 404.7M274.8 380.9Q262.2 373.5 253.5 394.1M268 369.3Q256.2 362.3 248.3 374.2M258.6 379.9Q249.1 372.2 243.7 394.5M273 385.7Q259 375.9 249.1 389.2M260.2 371Q251.5 361.8 246.8 385.4M268.7 376Q255 370.7 245.3 391.5M257.9 381.4Q248.8 374.8 243.7 397.3M267.4 379.5Q259.3 374.1 255.1 382.4M275.4 387.9Q263.4 380.3 255.4 395.9M260.1 378.5Q248.6 373.2 241.1 391M273.7 370.9Q259.5 364.8 249.2 392.4M259.2 383.5Q249.2 376.2 243.2 401.1" stroke="#c0b2b0" stroke-width="0.4" opacity="0.7"/>
<path d="M264.6 392.7l0 1M264.7 391.9l-0.6 0.8M263.9 386l0.7 1.3M261 389.8l-0.3 1M256.6 386.6l-0.3 0.6M264.5 392.6l-0.3 1M257.8 376.5l0.8 1.2M254.7 385.5l0.5 1.4M254.9 391.8l-0.3 0.7M257.6 386.2l0.5 1M257.6 382.2l-0.6 0.9M264.7 377.8l-0.3 0.9M254.7 383.6l-0.5 0.8M264.6 380.1l0 1M256.5 379.9l0.1 1M258 373.8l-0.6 1M256.9 375.3l0.4 1.3M264.3 390.9l-0.5 0.8M265 390.8l0.6 0.8M256.5 389.5l0.7 1M261.4 374.2l-0.5 0.8M259.2 378.2l-0.6 1.4M255.4 391.2l0 1.3M259.4 371l0.4 1.5M255.5 392l-0.4 0.7M263.1 389l0.5 1M254.5 392.4l-0.7 1.2M258.2 375.2l-0.7 0.8M262 377l0.3 0.7M261.4 387.6l0.3 0.7M254.6 382l0 0.7M262.3 385.8l-0.2 0.8M264.1 373.6l-0.5 1.6M261.9 375.1l0.3 1M263.1 384.8l-0.5 1M264.4 382.6l0.3 1.5M269.3 368.5l-0.8 1.1M268.5 381.2l0.5 0.9M263 374.4l-0.2 1.3M264 372.8l0.5 0.8M269.9 365.2l-0.6 1.4M268.1 380.1l-0.2 0.7M271.7 383.1l0.7 0.9M261.8 385.6l0.2 1.2M261.6 375.1l0.4 1.3M261.5 380.6l-0.3 0.8M262.6 381.7l-0.6 1.2M267.4 384l-0.1 1.6M263.3 378l0.8 1.1M271.5 374.7l0.4 1.3M268.2 369.2l-0.1 1.6M266.8 374.9l-0.4 0.8M265.1 381.8l0.2 0.9M271.1 365.2l-0.2 1.6M264.4 381l0.6 1.6M271.5 382.2l0 0.8M267.1 366.7l0.3 0.8M270.4 370.6l-0.3 1.2M262.9 381.4l-0.5 1.2M261.7 383.4l-0.6 1.4M261.8 366.9l0.4 1.5M266.8 367.4l-0.2 1M263.5 367.6l-0.5 0.9M271.9 380.3l0.5 0.7M269 375.3l0.6 1.4M264.4 383.9l0 1.2M265.7 382.9l0.7 1M265.2 366.7l0.1 1M276.5 362.4l-0.6 1.5M271.9 364.5l-0.6 1.3M278 364.3l-0.4 1.6M272.6 349.8l0.4 0.7M278.6 360.5l0.5 1.2M269 370.3l-0.1 1.2" stroke="#d2c2c2" stroke-width="0.7" opacity="0.7"/>
<path d="M259.9 403.7V379.2" stroke="#9aa07e" stroke-width="0.55" opacity="0.85"/>
<path d="M260.3 403.7V375.9" stroke="#a89c90" stroke-width="0.55" opacity="0.85"/>
<path d="M256.8 403.7V385.4" stroke="#a89c90" stroke-width="0.55" opacity="0.85"/>
<path d="M259.4 403.7V381.7" stroke="#b8aca4" stroke-width="0.55" opacity="0.85"/>
<path d="M259.8 403.7V379.6" stroke="#9aa07e" stroke-width="0.55" opacity="0.85"/>
<path d="M260.5 403.7V375.4" stroke="#55843c" stroke-width="0.55" opacity="0.85"/>
<path d="M270.4 403.7V387.9" stroke="#a89c90" stroke-width="0.55" opacity="0.85"/>
<path d="M269.3 403.7V381" stroke="#b8aca4" stroke-width="0.55" opacity="0.85"/>
<path d="M269.7 403.7V386.9" stroke="#b8aca4" stroke-width="0.55" opacity="0.85"/>
<path d="M268.6 403.7V387.4" stroke="#b8aca4" stroke-width="0.55" opacity="0.85"/>
<path d="M263.4 403.7V382.6" stroke="#b8aca4" stroke-width="0.55" opacity="0.85"/>
<path d="M263.6 403.7V386.4" stroke="#a89c90" stroke-width="0.55" opacity="0.85"/>
<path d="M274.5 403.7V381.3" stroke="#7f9f50" stroke-width="0.55" opacity="0.85"/>
<path d="M276.9 403.7V387.7" stroke="#7f9f50" stroke-width="0.55" opacity="0.85"/>
<path d="M275.5 403.7V387.3" stroke="#7f9f50" stroke-width="0.55" opacity="0.85"/>
<path d="M271.9 403.7V386.8" stroke="#7f9f50" stroke-width="0.55" opacity="0.85"/>
<path d="M274.5 403.7V379" stroke="#7f9f50" stroke-width="0.55" opacity="0.85"/>
<path d="M274.7 403.7V374.6" stroke="#55843c" stroke-width="0.55" opacity="0.85"/>
<rect x="253.64" y="401.1" width="26.46" height="2.2" rx="1" fill="#a6aedc" opacity="0.85"/>
</g>
<rect x="237.4" y="422.1" width="55.6" height="2.2" fill="#030304"/>
<line x1="279" y1="416" x2="290" y2="416" stroke="#dcdcdc" stroke-width="1.1"/>
<text class="rb" x="284.5" y="421.7" font-size="5" text-anchor="middle" fill="#f2f2f2">5 cm</text>
</g>
<text class="r" x="267.2" y="433.6" font-size="7.5" text-anchor="middle" fill="#222" word-spacing="1.1">G D1 GD1</text>
<clipPath id="c17"><rect x="57" y="435.8" width="56" height="81"/></clipPath>
<g clip-path="url(#c17)">
<rect x="57" y="435.8" width="56" height="81" fill="#040405"/>
<rect x="57" y="488.7" width="56" height="25.1" fill="url(#lw)"/>
<linearGradient id="g17" gradientUnits="userSpaceOnUse" x1="0" y1="490.5" x2="0" y2="440.8"><stop offset="0" stop-color="#6f9650"/><stop offset="0.4" stop-color="#8f9c78"/><stop offset="0.58" stop-color="#c2afb0"/><stop offset="1" stop-color="#b29ca4"/></linearGradient>
<g filter="url(#bl)" fill="none" stroke-linecap="round">
<path d="M74.4 491C75.7 496.5 77.2 506.2 77.8 514.2C78.4 506.2 77.5 496.5 78.8 491Z" fill="url(#rg)" stroke="none" opacity="0.6"/>
<path d="M77.7 491.5Q77.9 500.8 74.1 511.1" stroke="#b4b4cc" stroke-width="0.7" opacity="0.37"/>
<path d="M77.4 491.5Q77.5 498.9 79.1 507.3" stroke="#b4b4cc" stroke-width="0.4" opacity="0.34"/>
<path d="M75.4 491.5Q76.1 501.4 75.7 512.4" stroke="#b4b4cc" stroke-width="0.6" opacity="0.38"/>
<path d="M83.2 491C84.3 496.5 83.9 504.1 84.5 512.1C85.1 504.1 85.7 496.5 86.8 491Z" fill="url(#rg)" stroke="none" opacity="0.6"/>
<path d="M84.7 491.5Q86.1 501.8 84.3 513" stroke="#b4b4cc" stroke-width="0.4" opacity="0.34"/>
<path d="M85.1 491.5Q83.4 499.4 84.4 508.3" stroke="#b4b4cc" stroke-width="0.7" opacity="0.45"/>
<path d="M86.9 491.5Q86.3 499.9 82.4 509.4" stroke="#b4b4cc" stroke-width="0.5" opacity="0.38"/>
<path d="M93.1 491C94.3 496.5 93.4 505.3 94 513.3C94.6 505.3 95.9 496.5 97.1 491Z" fill="url(#rg)" stroke="none" opacity="0.6"/>
<path d="M95.6 491.5Q94.9 500.9 92.9 511.2" stroke="#b4b4cc" stroke-width="0.6" opacity="0.49"/>
<path d="M95.6 491.5Q94.6 499.9 94 509.4" stroke="#b4b4cc" stroke-width="0.6" opacity="0.45"/>
<path d="M95.3 491.5Q94.8 498.9 93.3 507.4" stroke="#b4b4cc" stroke-width="0.4" opacity="0.49"/>
<path d="M87.7 490.5C88 465 86.7 448.8 85.9 440.1M87 490.5C86.9 464.7 84.9 448.5 83.2 439.8M95.6 490.5C95.5 470.1 91.6 454.1 88.4 445.5M92.3 490.5C92.3 459.5 94.7 448.4 96.7 442.4M82.2 490.5C82.2 472.1 89.7 459.5 95.7 452.7M97 490.5C97.1 468.1 95.4 453.8 94.1 446.1M73.9 490.5C73.9 470.4 69 459.2 65 453.1" stroke="#438a36" stroke-width="0.6" opacity="0.82"/>
<path d="M74.4 490.5C74.5 468.6 73.6 451.4 73 442.1" stroke="#64a651" stroke-width="0.4" opacity="0.82"/>
<path d="M85.3 490.5C85 469 90.8 456.6 95.3 449.9M96.5 490.5C96.3 461 95.9 452 95.4 447.2" stroke="#4a923d" stroke-width="0.4" opacity="0.82"/>
<path d="M85.9 490.5C85.6 466.4 88.9 456.7 91.3 451.5M95.6 490.5C95.5 467 96.4 450.3 97 441.3" stroke="#33742c" stroke-width="0.7" opacity="0.82"/>
<path d="M82.7 490.5C82.6 467.3 78.5 457.3 75.1 451.8M95.4 490.5C94.9 467.6 98.8 453.1 101.6 445.3M87.4 490.5C87.2 471 81.9 455.7 77.4 447.5M82.9 490.5C82.6 471.7 79 457.7 75.9 450.1" stroke="#4a923d" stroke-width="0.7" opacity="0.82"/>
<path d="M95.5 490.5C95.9 462.5 93.3 450.6 91.4 444.2M94.9 490.5C94.9 471.8 100.8 458.9 105.6 451.9M76.2 490.5C76.4 468.4 72.6 457.7 69.6 452" stroke="#33742c" stroke-width="0.6" opacity="0.82"/>
<path d="M95.4 490.5C95.4 465.1 89.1 452.3 84 445.5M75.9 490.5C75.7 466.6 80.7 453.5 84.7 446.4" stroke="#64a651" stroke-width="0.5" opacity="0.82"/>
<path d="M97.6 490.5C97.6 463.8 92.4 455.4 88.1 450.9M78 490.5C77.8 470.5 74.2 457.2 71.1 450M85.5 490.5C85.1 460.4 89.3 451.2 92.4 446.3M87.9 490.5C88.4 467.3 92.6 456 96.4 449.9M93.1 490.5C92.7 470.8 94.9 456.1 96.3 448.2" stroke="#438a36" stroke-width="0.4" opacity="0.82"/>
<path d="M92.6 490.5C92.2 462.3 89.8 450.4 87.5 443.9" stroke="#3e8631" stroke-width="0.7" opacity="0.82"/>
<path d="M74.4 490.5C74.8 468.2 75.1 455.8 75.6 449.1M83 490.5C83.3 466.1 84.1 451.1 84.9 443M84.4 490.5C84 472.4 78.7 459 74 451.7M85.7 490.5C85.7 467.8 90 453.4 93.5 445.7M73.6 490.5C73.4 468.5 74.7 455.3 75.6 448.1M76.1 490.5C76.3 463.7 78.6 455.9 80.6 451.8" stroke="#4a923d" stroke-width="0.5" opacity="0.82"/>
<path d="M85.3 490.5C84.9 472.5 79.4 459.7 74.6 452.8M93.8 490.5C94.2 462 95.1 453.4 96.2 448.7M75.7 490.5C75.4 464.3 80.5 455.1 84.5 450.1M79.7 490.5C79.8 459.7 74 448.6 69.3 442.6" stroke="#57a048" stroke-width="0.4" opacity="0.82"/>
<path d="M97.1 490.5C96.9 462.3 94.5 449.4 92.3 442.5M92.5 490.5C92.7 467.4 98.6 453.4 103.5 445.9" stroke="#64a651" stroke-width="0.7" opacity="0.82"/>
<path d="M83.8 490.5C84.1 469.1 84.8 456.7 85.6 450M83.9 490.5C83.9 467.2 84.2 451.7 84.4 443.4M95.7 490.5C95.9 469.4 94.8 456.7 94.2 449.9" stroke="#3e8631" stroke-width="0.6" opacity="0.82"/>
<path d="M84.2 490.5C84.7 463.7 88.2 453.8 91.5 448.4M77 490.5C77 467.6 73.4 457.5 70.5 452.1M78.6 490.5C79 464.6 73.3 456.9 69 452.8" stroke="#64a651" stroke-width="0.6" opacity="0.82"/>
<path d="M95.1 490.5C95.1 465.2 94.4 452.4 93.7 445.5M97.9 490.5C98.3 462.5 98 453.1 98.1 448M75.2 490.5C74.7 469.1 73.1 457.5 71.4 451.2M77.6 490.5C77.6 468 73.7 451.3 70.5 442.4M86.7 490.5C87 459.6 81.6 448.5 77.4 442.5M87.9 490.5C87.8 472.1 91.9 458.3 95.1 450.8" stroke="#4a923d" stroke-width="0.6" opacity="0.82"/>
<path d="M87.8 490.5C87.8 465.3 82.6 451.2 78.3 443.7M76.2 490.5C75.8 464.3 79.4 456.3 81.9 452.1" stroke="#438a36" stroke-width="0.7" opacity="0.82"/>
<path d="M92 490.5C91.8 463 99.6 454.1 105.7 449.4M76.1 490.5C75.7 461.8 77.3 449.8 78.4 443.4" stroke="#33742c" stroke-width="0.5" opacity="0.82"/>
<path d="M83 490.5C83.4 468.4 88.3 452.4 92.6 443.8" stroke="#33742c" stroke-width="0.4" opacity="0.82"/>
<path d="M78.1 490.5C78.6 466.2 73.1 453.5 68.9 446.7M73.8 490.5C74 460.6 75.4 449.3 76.7 443.2M77 490.5C76.6 458.2 82.1 448.7 86.3 443.6" stroke="#3e8631" stroke-width="0.5" opacity="0.82"/>
<path d="M83.1 490.5C82.9 469.3 89.1 456.7 94.1 449.9M74.9 490.5C74.7 464.8 76.8 454.9 78.4 449.6" stroke="#3e8631" stroke-width="0.4" opacity="0.82"/>
<path d="M82.7 490.5C82.5 461.1 85.8 452 88.4 447.2M95 490.5C95.5 465.3 93.9 455.8 93 450.7M75.3 490.5C75.3 464.5 75.1 452 74.9 445.2" stroke="#57a048" stroke-width="0.5" opacity="0.82"/>
<path d="M85.6 490.5C85.3 460.6 87.9 450.3 89.7 444.8M98.1 490.5C98.4 463.1 98.6 451.8 99 445.8M96.9 490.5C97 466.8 90.2 455.6 84.7 449.6" stroke="#57a048" stroke-width="0.7" opacity="0.82"/>
<path d="M76.9 490.5C76.6 464.6 80.1 452 82.6 445.2M75.4 490.5C75.4 461.3 75.4 452.4 75.5 447.6M94.8 490.5C94.8 463.9 93.5 454 92.4 448.7" stroke="#57a048" stroke-width="0.6" opacity="0.82"/>
<path d="M95 490.5C94.7 463.4 95.2 453.7 95.4 448.4M76.5 490.5C76 470.3 70.6 459.9 65.7 454.3" stroke="#438a36" stroke-width="0.5" opacity="0.82"/>
<path d="M75.7 492V472.5" stroke="#9cb068" stroke-width="0.55" opacity="0.85"/>
<path d="M78 492V468.5" stroke="#6a9142" stroke-width="0.55" opacity="0.85"/>
<path d="M78.3 492V475.3" stroke="#9cb068" stroke-width="0.55" opacity="0.85"/>
<path d="M77.5 492V473.9" stroke="#7f9f50" stroke-width="0.55" opacity="0.85"/>
<path d="M75 492V470.1" stroke="#6a9142" stroke-width="0.55" opacity="0.85"/>
<path d="M73.9 492V473.5" stroke="#7f9f50" stroke-width="0.55" opacity="0.85"/>
<path d="M81.8 492V473" stroke="#7f9f50" stroke-width="0.55" opacity="0.85"/>
<path d="M83.1 492V464.7" stroke="#7f9f50" stroke-width="0.55" opacity="0.85"/>
<path d="M83.8 492V468" stroke="#7f9f50" stroke-width="0.55" opacity="0.85"/>
<path d="M83.2 492V464.9" stroke="#6a9142" stroke-width="0.55" opacity="0.85"/>
<path d="M85.9 492V467.6" stroke="#6a9142" stroke-width="0.55" opacity="0.85"/>
<path d="M81.9 492V470.3" stroke="#7f9f50" stroke-width="0.55" opacity="0.85"/>
<path d="M92.8 492V468.7" stroke="#6a9142" stroke-width="0.55" opacity="0.85"/>
<path d="M97 492V474.8" stroke="#55843c" stroke-width="0.55" opacity="0.85"/>
<path d="M94.3 492V475.3" stroke="#7f9f50" stroke-width="0.55" opacity="0.85"/>
<path d="M97.8 492V476.3" stroke="#6a9142" stroke-width="0.55" opacity="0.85"/>
<path d="M93.6 492V469" stroke="#55843c" stroke-width="0.55" opacity="0.85"/>
<path d="M92.6 492V467.6" stroke="#7f9f50" stroke-width="0.55" opacity="0.85"/>
<rect x="70.6" y="489.4" width="30.48" height="2.2" rx="1" fill="#a6aedc" opacity="0.85"/>
</g>
<rect x="57" y="514.6" width="56" height="2.2" fill="#030304"/>
<line x1="99" y1="508.5" x2="110" y2="508.5" stroke="#dcdcdc" stroke-width="1.1"/>
<text class="rb" x="104.5" y="514.2" font-size="5" text-anchor="middle" fill="#f2f2f2">5 cm</text>
</g>
<text class="r" x="88.5" y="528.6" font-size="7.5" text-anchor="middle" fill="#222" word-spacing="1.1">G E1 GE1</text>
<clipPath id="c18"><rect x="118.1" y="435.8" width="55.8" height="81"/></clipPath>
<g clip-path="url(#c18)">
<rect x="118.1" y="435.8" width="55.8" height="81" fill="#040405"/>
<rect x="118.1" y="490.2" width="55.8" height="23.6" fill="url(#lw)"/>
<linearGradient id="g18" gradientUnits="userSpaceOnUse" x1="0" y1="492" x2="0" y2="440.8"><stop offset="0" stop-color="#6f9650"/><stop offset="0.4" stop-color="#8f9c78"/><stop offset="0.58" stop-color="#c2afb0"/><stop offset="1" stop-color="#b29ca4"/></linearGradient>
<g filter="url(#bl)" fill="none" stroke-linecap="round">
<path d="M134.9 492.5C136.2 498 137.3 504.3 137.9 512.3C138.5 504.3 137.9 498 139.2 492.5Z" fill="url(#rg)" stroke="none" opacity="0.6"/>
<path d="M139.4 493Q138.6 500.7 137 509.5" stroke="#b4b4cc" stroke-width="0.7" opacity="0.33"/>
<path d="M137 493Q136.3 500.6 135.1 509.3" stroke="#b4b4cc" stroke-width="0.8" opacity="0.45"/>
<path d="M135.4 493Q137.3 501.8 139.8 511.6" stroke="#b4b4cc" stroke-width="0.7" opacity="0.39"/>
<path d="M144.4 492.5C145.7 498 147.4 506.2 148 514.2C148.6 506.2 147.4 498 148.7 492.5Z" fill="url(#rg)" stroke="none" opacity="0.6"/>
<path d="M145.5 493Q147.3 502 146.5 512" stroke="#b4b4cc" stroke-width="0.5" opacity="0.46"/>
<path d="M146.7 493Q145.5 499.9 146.4 507.8" stroke="#b4b4cc" stroke-width="0.5" opacity="0.41"/>
<path d="M147.9 493Q147.4 499.9 146.9 507.9" stroke="#b4b4cc" stroke-width="0.7" opacity="0.46"/>
<path d="M153.3 492.5C154.6 498 155 505.5 155.6 513.5C156.2 505.5 156.3 498 157.6 492.5Z" fill="url(#rg)" stroke="none" opacity="0.6"/>
<path d="M157.1 493Q157.5 500.1 152.5 508.1" stroke="#b4b4cc" stroke-width="0.8" opacity="0.31"/>
<path d="M156.2 493Q156.1 501.1 154.2 510.1" stroke="#b4b4cc" stroke-width="0.5" opacity="0.44"/>
<path d="M154.2 493Q154.6 500.3 158.4 508.7" stroke="#b4b4cc" stroke-width="0.5" opacity="0.37"/>
<path d="M149.6 492C150.1 464.8 143.9 455.2 139.3 450M157 492C156.6 463.1 156.8 453.7 156.6 448.6M133.9 492C134.1 470.3 134.4 455.1 134.9 446.9" stroke="#3e8631" stroke-width="0.7" opacity="0.82"/>
<path d="M144.6 492C144.4 467.3 141.5 457.7 139 452.5M139.9 492C139.5 467.1 135.7 452.7 132.3 444.9M154.8 492C154.4 469.8 151 455.5 148 447.8" stroke="#4a923d" stroke-width="0.5" opacity="0.82"/>
<path d="M145.3 492C145.4 465.5 148.3 455.6 150.7 450.4M149.3 492C149 467.8 146.1 455.3 143.5 448.6M154.9 492C154.5 461 157.3 451.9 159.3 447" stroke="#57a048" stroke-width="0.5" opacity="0.82"/>
<path d="M153.1 492C153 470.1 153 456.4 152.9 449M147.9 492C147.7 459.8 147.7 448.7 147.5 442.7M155.5 492C155.8 456.9 156.2 446.6 156.8 441.1M137 492C136.6 460.6 139.3 451.5 141.3 446.6M157.8 492C157.8 469 158.5 452.9 159 444.2" stroke="#438a36" stroke-width="0.5" opacity="0.82"/>
<path d="M144.8 492C145 456 146.6 445.6 148.1 440" stroke="#33742c" stroke-width="0.7" opacity="0.82"/>
<path d="M147.9 492C147.5 460.5 143 449.7 139 443.9M156.6 492C157 472.1 152.5 458.9 149.2 451.8M155.9 492C155.6 466 158.2 456.9 160.2 451.9M155 492C154.7 463.5 155 451.4 155 444.8" stroke="#438a36" stroke-width="0.4" opacity="0.82"/>
<path d="M138 492C138.1 464.3 137.5 452.4 137.1 445.9M136.2 492C136 465.1 135.7 449.2 135.2 440.7" stroke="#64a651" stroke-width="0.7" opacity="0.82"/>
<path d="M149.6 492C149.1 463.5 147.6 452.2 146.1 446.1M137.8 492C138.2 466.4 136.7 452.7 135.8 445.3M149.3 492C149.5 463.3 145.6 449.6 142.6 442.3" stroke="#438a36" stroke-width="0.6" opacity="0.82"/>
<path d="M149 492C148.6 465.2 147.1 455.2 145.5 449.8M140.1 492C140.5 473.5 141.6 459 142.7 451.2" stroke="#64a651" stroke-width="0.5" opacity="0.82"/>
<path d="M148.2 492C148.3 468.5 148 454.3 147.9 446.6M136.6 492C137 468.1 133.7 455.6 131.3 448.9M137.2 492C137.6 470.6 139.1 456.3 140.6 448.6" stroke="#4a923d" stroke-width="0.4" opacity="0.82"/>
<path d="M144.9 492C144.9 472.2 145.1 457.1 145.3 448.9" stroke="#3e8631" stroke-width="0.6" opacity="0.82"/>
<path d="M154.5 492C154 469.2 155.6 452.8 156.6 443.9M138.8 492C139.3 471 138.2 455.2 137.8 446.7" stroke="#64a651" stroke-width="0.6" opacity="0.82"/>
<path d="M139.1 492C139.2 469.5 139.9 453.9 140.5 445.4M148.1 492C148.5 471.8 144.5 458.9 141.6 451.9M156.2 492C156.2 471.8 160.3 459.3 163.7 452.6" stroke="#33742c" stroke-width="0.6" opacity="0.82"/>
<path d="M137 492C136.9 460 136.9 448.8 136.8 442.8" stroke="#33742c" stroke-width="0.4" opacity="0.82"/>
<path d="M158.6 492C158.1 464.2 159.5 454.7 160.2 449.7M136.5 492C136 464.8 140.8 457.1 144.3 452.9" stroke="#57a048" stroke-width="0.4" opacity="0.82"/>
<path d="M156.9 492C156.9 459.2 155.1 448.9 153.6 443.3" stroke="#33742c" stroke-width="0.5" opacity="0.82"/>
<path d="M158.6 492C158.4 463.5 156.4 448.1 154.5 439.8M146.4 492C146.9 464.6 147.4 450.9 148.2 443.5M146.7 492C147.1 463.2 146.4 447.7 146.2 439.3M156.2 492C156.2 462.4 157.5 452.8 158.6 447.6M143.6 492C143.6 463.4 149.3 455.4 153.9 451" stroke="url(#g18)" stroke-width="0.4" opacity="0.82"/>
<path d="M134.4 492C133.9 467.3 137.9 451.7 140.8 443.2M147.9 492C147.4 467 144.4 456.3 141.5 450.6M134.4 492C134.7 465.2 135.1 454.9 135.7 449.4M145.1 492C145.1 469.2 141.4 455.1 138.3 447.5M155.3 492C155.7 465.5 158.5 454.6 161.1 448.7M136.6 492C136.9 466.3 134.2 454.8 132.2 448.5M135.8 492C136 464.7 139.3 453.6 142.2 447.6M143.5 492C143.2 466.1 141 453 139 445.9M144.8 492C144.4 472.9 142.8 458.6 141.2 450.9M157 492C156.7 464.3 154.4 455.2 152.3 450.3M149.4 492C149.8 465.8 145.7 452.7 142.7 445.6" stroke="url(#g18)" stroke-width="0.6" opacity="0.82"/>
<path d="M135.4 492C135.5 460.8 137.1 448.3 138.5 441.5M139.3 492C139.3 462.9 134.9 454.7 131.3 450.3M149.5 492C149.3 469.2 143.5 458.1 138.5 452.2M158.6 492C159 469.3 157.4 457 156.5 450.4M138.4 492C138.1 465.4 133.2 453.7 128.9 447.4M152.8 492C152.8 462.6 154.5 451.1 155.8 445M139.6 492C139.8 464.5 134.9 454.7 131.1 449.4M148.4 492C148.1 462.3 147.7 448.3 147 440.8M152.8 492C153.3 470.7 153.3 457.2 153.7 449.9M157.4 492C157.6 463.2 153.2 452.5 149.8 446.8M136.3 492C136.1 466.8 137.6 451.9 138.6 443.8" stroke="url(#g18)" stroke-width="0.5" opacity="0.82"/>
<path d="M136.7 492C136.3 465.4 137.6 451.6 138.2 444.2M137.7 492C137.5 470 132.8 455.7 128.8 448M157.8 492C158 470.3 158.7 453.2 159.4 444M158.2 492C158.7 460.3 158.9 450.2 159.5 444.8M147.2 492C147.6 472.6 150.6 460.1 153.3 453.4M156.8 492C156.4 470.4 157.6 453.5 158.2 444.5" stroke="url(#g18)" stroke-width="0.7" opacity="0.82"/>
<path d="M139.3 451.9l0.7 1.1M138.2 441l-0.3 1.4M141.5 446.9l0.1 1.4M141.3 450.6l0.4 1.4M141.9 461.5l-0.2 1.6M141.4 456.7l-0.3 1.2M134.1 446.5l0.8 1M132.1 453.3l-0.2 1.5M131.9 446.9l0 1.2M137.4 440.8l-0.1 0.9M141.1 446.1l0.5 1.1M136.4 462.7l-0.5 1M139.3 454.3l-0.2 1M137.2 462.6l0.6 0.7M140.1 460.1l0.8 1.1M138.9 453.5l-0.2 0.8M136.6 457.9l0.7 0.7M134 447.4l0.6 1M142.7 457.9l-0.3 1.5M142.8 456.4l-0.5 1.5M148.6 452.2l0.4 0.8M151.9 453.4l0.3 0.9M151.1 441.3l-0.2 0.7M148.2 445.9l0.8 0.7M147.8 450.7l-0.3 1M142.7 453.6l-0.7 1.1M147.6 442.3l-0.5 1.4M151.2 444.5l-0.2 1.2M144.7 460.8l-0.4 0.6M150.5 458.8l0.5 1.1M143 456.8l-0.1 1.2M144.4 444.8l0 1.1M145 455.8l0.5 0.8M143.3 442.1l0.3 0.7M148.9 460l0 1.6M152.2 453.1l-0.1 1.2M156.3 447.2l-0.7 1.4M152 446.7l0.3 0.9M157.5 448.9l0.5 1.1M159.8 460.7l0.5 1.4M150.3 451.6l-0.2 1.5M156.2 447.6l-0.7 1.3M156.6 452.2l0.4 0.9M156.6 452.4l0.8 0.9M158.9 461.7l0.5 1.3M151.3 461.4l-0.1 1M160.5 455.4l-0.4 0.7M161.1 452.1l0.4 1.4M160.8 447.6l0.3 1.2M153.3 445.2l0.2 1.2M151.9 446.1l-0.4 1.4M151 456.8l0.4 0.7M151.4 443.4l-0.2 1.3M151.3 460.3l0.4 1.1" stroke="#d2c2c2" stroke-width="0.7" opacity="0.7"/>
<path d="M134.7 493.5V468.7" stroke="#55843c" stroke-width="0.55" opacity="0.85"/>
<path d="M137.1 493.5V466.8" stroke="#a89c90" stroke-width="0.55" opacity="0.85"/>
<path d="M133.8 493.5V466.5" stroke="#a89c90" stroke-width="0.55" opacity="0.85"/>
<path d="M138.6 493.5V468.1" stroke="#55843c" stroke-width="0.55" opacity="0.85"/>
<path d="M138.7 493.5V473" stroke="#6a9142" stroke-width="0.55" opacity="0.85"/>
<path d="M134.7 493.5V471" stroke="#a89c90" stroke-width="0.55" opacity="0.85"/>
<path d="M143.9 493.5V466.9" stroke="#6a9142" stroke-width="0.55" opacity="0.85"/>
<path d="M146.1 493.5V470.9" stroke="#55843c" stroke-width="0.55" opacity="0.85"/>
<path d="M149.7 493.5V476" stroke="#9cb068" stroke-width="0.55" opacity="0.85"/>
<path d="M148.7 493.5V465.5" stroke="#55843c" stroke-width="0.55" opacity="0.85"/>
<path d="M143 493.5V467.7" stroke="#6a9142" stroke-width="0.55" opacity="0.85"/>
<path d="M149.5 493.5V476.1" stroke="#b8aca4" stroke-width="0.55" opacity="0.85"/>
<path d="M152.3 493.5V467.2" stroke="#b8aca4" stroke-width="0.55" opacity="0.85"/>
<path d="M156.8 493.5V477" stroke="#55843c" stroke-width="0.55" opacity="0.85"/>
<path d="M156.1 493.5V464.3" stroke="#6a9142" stroke-width="0.55" opacity="0.85"/>
<path d="M154.1 493.5V469" stroke="#9aa07e" stroke-width="0.55" opacity="0.85"/>
<path d="M157.7 493.5V468.2" stroke="#55843c" stroke-width="0.55" opacity="0.85"/>
<path d="M157.8 493.5V467.9" stroke="#9cb068" stroke-width="0.55" opacity="0.85"/>
<rect x="131.07" y="490.9" width="30.41" height="2.2" rx="1" fill="#a6aedc" opacity="0.85"/>
</g>
<rect x="118.1" y="514.6" width="55.8" height="2.2" fill="#030304"/>
<line x1="159.9" y1="508.5" x2="170.9" y2="508.5" stroke="#dcdcdc" stroke-width="1.1"/>
<text class="rb" x="165.4" y="514.2" font-size="5" text-anchor="middle" fill="#f2f2f2">5 cm</text>
</g>
<text class="r" x="148.2" y="528.6" font-size="7.5" text-anchor="middle" fill="#222" word-spacing="1.1">G E1 GE1</text>
<clipPath id="c19"><rect x="178.2" y="435.8" width="55.7" height="81"/></clipPath>
<g clip-path="url(#c19)">
<rect x="178.2" y="435.8" width="55.7" height="81" fill="#040405"/>
<rect x="178.2" y="489.1" width="55.7" height="24.7" fill="url(#lw)"/>
<linearGradient id="g19" gradientUnits="userSpaceOnUse" x1="0" y1="490.9" x2="0" y2="440.8"><stop offset="0" stop-color="#6f9650"/><stop offset="0.4" stop-color="#8f9c78"/><stop offset="0.58" stop-color="#c2afb0"/><stop offset="1" stop-color="#b29ca4"/></linearGradient>
<g filter="url(#bl)" fill="none" stroke-linecap="round">
<path d="M194.7 491.4C195.8 496.9 194.6 505.3 195.2 513.3C195.8 505.3 197.3 496.9 198.5 491.4Z" fill="url(#rg)" stroke="none" opacity="0.6"/>
<path d="M197.9 491.9Q196.2 502.1 197 513.2" stroke="#b4b4cc" stroke-width="0.4" opacity="0.46"/>
<path d="M196.6 491.9Q196 501.5 196.2 512.2" stroke="#b4b4cc" stroke-width="0.4" opacity="0.47"/>
<path d="M194.4 491.9Q195.3 500.7 193.7 510.5" stroke="#b4b4cc" stroke-width="0.6" opacity="0.38"/>
<path d="M203.4 491.4C204.7 496.9 206.2 505.3 206.8 513.3C207.4 505.3 206.3 496.9 207.6 491.4Z" fill="url(#rg)" stroke="none" opacity="0.6"/>
<path d="M204.7 491.9Q204.4 501.1 204 511.4" stroke="#b4b4cc" stroke-width="0.8" opacity="0.48"/>
<path d="M204.4 491.9Q205 500.2 207.2 509.5" stroke="#b4b4cc" stroke-width="0.6" opacity="0.33"/>
<path d="M207.1 491.9Q206.2 499.5 202.8 508.1" stroke="#b4b4cc" stroke-width="0.5" opacity="0.4"/>
<path d="M213.5 491.4C214.7 496.9 214.5 505.4 215.1 513.4C215.7 505.4 216.3 496.9 217.6 491.4Z" fill="url(#rg)" stroke="none" opacity="0.6"/>
<path d="M215.6 491.9Q217.6 500.3 213.8 509.7" stroke="#b4b4cc" stroke-width="0.6" opacity="0.32"/>
<path d="M214.7 491.9Q213 498.9 214.9 506.9" stroke="#b4b4cc" stroke-width="0.5" opacity="0.44"/>
<path d="M215.5 491.9Q216.1 499.7 216.5 508.5" stroke="#b4b4cc" stroke-width="0.5" opacity="0.43"/>
<path d="M204.4 490.9C204.6 470.3 208.9 455.7 212.6 447.8" stroke="#438a36" stroke-width="0.6" opacity="0.82"/>
<path d="M212.8 490.9C212.9 460.7 209.7 450.3 207.1 444.7M217.9 490.9C218.2 461.9 216.8 453 215.9 448.3M195.5 490.9C195.8 461.7 192.4 450.6 189.8 444.6M195.5 490.9C195.2 465.2 197.4 449.7 199 441.4" stroke="#4a923d" stroke-width="0.5" opacity="0.82"/>
<path d="M208.5 490.9C208.6 462.6 206.4 450.2 204.7 443.6M202.7 490.9C203 464.3 205.6 452.5 208 446.1" stroke="#3e8631" stroke-width="0.5" opacity="0.82"/>
<path d="M214.1 490.9C214.5 458.2 219.4 448.2 223.8 442.8" stroke="#64a651" stroke-width="0.6" opacity="0.82"/>
<path d="M196 490.9C196.5 459.9 192.8 448.8 190.2 442.9M215.6 490.9C215.2 463.4 213.6 453.5 212.1 448.2" stroke="#57a048" stroke-width="0.7" opacity="0.82"/>
<path d="M216 490.9C215.7 465.2 214.3 454.6 212.9 448.8M216.3 490.9C216 463.2 211.4 450.6 207.4 443.9" stroke="#3e8631" stroke-width="0.4" opacity="0.82"/>
<path d="M206.5 490.9C206.1 467 204.1 451.9 202.2 443.7M195.2 490.9C195.2 458.2 196.4 446.9 197.4 440.9M204.9 490.9C205.1 470.5 208.2 457.3 210.9 450.2M197.9 490.9C197.5 466.9 195.1 456.8 192.9 451.3" stroke="#64a651" stroke-width="0.5" opacity="0.82"/>
<path d="M217.4 490.9C217.8 467.1 218.3 454.5 219 447.8M217.9 490.9C217.5 470.9 211.2 456.9 205.6 449.3" stroke="#4a923d" stroke-width="0.6" opacity="0.82"/>
<path d="M204.6 490.9C204.7 467.4 209.2 456 212.9 449.8" stroke="#3e8631" stroke-width="0.6" opacity="0.82"/>
<path d="M217.5 490.9C217.9 465 217.4 455.4 217.3 450.3M215.4 490.9C214.9 466.7 213.9 450.7 212.7 442.1" stroke="#438a36" stroke-width="0.5" opacity="0.82"/>
<path d="M203.6 490.9C203.7 466.3 198.8 451.7 194.9 443.8M215.7 490.9C216 463 216.1 449.4 216.4 442.1" stroke="#64a651" stroke-width="0.4" opacity="0.82"/>
<path d="M208.3 490.9C208.2 466.8 210.9 454 213 447.1" stroke="#64a651" stroke-width="0.7" opacity="0.82"/>
<path d="M196.5 490.9C196.2 466.2 196.7 453.7 196.9 447" stroke="#33742c" stroke-width="0.6" opacity="0.82"/>
<path d="M204.3 490.9C203.9 463.7 202.8 451.6 201.7 445.1" stroke="#57a048" stroke-width="0.4" opacity="0.82"/>
<path d="M199.1 490.9C199.6 465.4 201.6 457 203.6 452.5" stroke="#33742c" stroke-width="0.5" opacity="0.82"/>
<path d="M205.2 490.9C205.5 463.6 209.2 454.4 212.4 449.5" stroke="#4a923d" stroke-width="0.4" opacity="0.82"/>
<path d="M196.5 490.9C196.5 468.6 194.7 452.7 193.1 444.1" stroke="#33742c" stroke-width="0.7" opacity="0.82"/>
<path d="M216.9 490.9C217.4 470.9 220.2 455.6 222.8 447.4" stroke="#57a048" stroke-width="0.6" opacity="0.82"/>
<path d="M203.5 490.9C203.7 470.3 208.9 455.5 213.3 447.5M216.8 490.9C217.1 471.5 214 457.7 211.7 450.3M196.7 490.9C196.8 462.3 197.1 450.6 197.5 444.2M196.9 490.9C196.4 464 199.9 456.2 202.4 452M208.7 490.9C208.4 467 208.5 456.3 208.3 450.5M217 490.9C217.2 468.9 215.6 456.7 214.5 450.2M213.7 490.9C213.8 465.7 218.1 456.3 221.7 451.2M198.3 490.9C198 461.3 201.7 452.8 204.5 448.3M217.9 490.9C218 462.2 215.7 453.2 214 448.5M193.9 490.9C193.7 469.8 193.8 454.5 193.8 446.3M195.3 490.9C194.9 467.6 193.3 455.2 191.7 448.5M207 490.9C207.2 464.5 203 450.6 199.7 443.2M205.2 490.9C205.4 462.7 201.1 454.4 197.8 450M206.5 490.9C206.4 460.5 204.1 448.4 202.2 441.9" stroke="url(#g19)" stroke-width="0.6" opacity="0.82"/>
<path d="M194.9 490.9C195.1 457.9 195.5 446.7 196.1 440.7M216.5 490.9C216.3 465 215.9 449.2 215.5 440.6M202.6 490.9C202.7 461.8 199 452.1 196.2 446.9M198.9 490.9C198.4 469.4 193.1 458.9 188.5 453.3M194.3 490.9C194.7 466.5 194.2 450.3 194 441.5M215.6 490.9C215.9 471.3 212.8 458.6 210.6 451.8M214.6 490.9C215 464.7 219.1 455.9 222.7 451.2M207.8 490.9C207.6 470.7 212.4 456.4 216.3 448.7M199 490.9C198.7 473.4 204 461.2 208.1 454.6M196.4 490.9C196.3 465.9 202.4 456 207.3 450.7" stroke="url(#g19)" stroke-width="0.4" opacity="0.82"/>
<path d="M208.3 490.9C208.3 467 209.6 457 210.6 451.7M215.2 490.9C215.3 469.8 211.5 456.5 208.5 449.4M213 490.9C213.1 464.8 212.9 453.4 212.9 447.3M205.5 490.9C205.6 471.3 202.1 459.2 199.2 452.6M198.1 490.9C198 466 196.4 449.6 195.1 440.7M213.2 490.9C213.5 460.8 215.6 448.7 217.5 442.1M204.7 490.9C204.7 467.7 203.4 453.4 202.4 445.7M199 490.9C199 457.1 194.9 447.7 191.6 442.7M196.7 490.9C196.5 459.4 196.2 447.5 195.8 441.1M207.4 490.9C207.4 465.5 202.7 456.2 198.9 451.2M203.9 490.9C204.3 469 199.2 457.7 195.3 451.6M194 490.9C193.8 466.1 201.6 457 207.8 452.1M214.2 490.9C214.1 461.5 217.5 450 220.2 443.8M202.4 490.9C202.9 461.8 205.4 452.6 207.8 447.7M195.9 490.9C195.5 463.4 191.4 454 187.8 448.9M199.2 490.9C199.3 469.3 195.9 454.4 193.2 446.3" stroke="url(#g19)" stroke-width="0.5" opacity="0.82"/>
<path d="M214.4 490.9C214.6 472 210.6 458.2 207.5 450.8M204.7 490.9C205.1 466.4 203.4 456.6 202.3 451.3" stroke="url(#g19)" stroke-width="0.7" opacity="0.82"/>
<path d="M196.1 475.9Q183 470.3 173.9 496.8M206 474.5Q192.4 470.3 182.8 483.8M215 478.5Q205.3 470.4 199.5 496.3M204.5 461.1Q192.1 451.8 183.7 476.1M216.4 474.3Q227 467.2 233.6 495.5M204.5 473.7Q197.2 469.5 193.9 495.3M195.7 462.2Q181.8 455.1 172 472.2M197.7 457.6Q209 449.4 216.4 474.3M195.6 468.3Q189.1 462.5 186.6 472.4M216.4 461.8Q202.5 452 192.6 477.4M195.5 470.2Q186.8 464.9 182 476.7M205.2 463.3Q217.3 454.8 225.4 468.2M196.3 472.7Q187.6 467.3 182.8 490.9M205.1 459.9Q216.3 451.2 223.4 474.5M215.5 469.4Q208.3 462.7 205.2 483.6M195.6 458Q206.3 450.8 213 475.6M214.9 463Q204.7 453.3 198.6 466.5M215.4 460.6Q229.7 455.8 240 463.7M194.8 475Q188 468.2 185.2 492.2M196 475.3Q183.8 467.9 175.6 488.3M214.1 457Q200.5 447.3 191 459.9M206 465.5Q197 457.5 192 468M204.1 469.9Q195.2 463.3 190.3 475.6M197.2 465.9Q185.6 458.9 177.9 484.9M197.4 465.4Q204.7 459.9 208 470.6" stroke="#a89498" stroke-width="0.4" opacity="0.7"/>
<path d="M189.5 452.8l0.3 1M194 445l0 0.8M201.9 452.3l0.7 1M192.6 442.3l0.3 0.7M203.1 446.9l0.3 0.6M201.4 462.7l-0.1 1.6M196.8 451.5l-0.3 0.8M194.8 444.1l0.2 1.3M198 447.6l-0.1 0.7M189 459.8l0.7 1M197.9 461.6l0.3 1.1M204.3 453.4l-0.4 0.8M196.9 453.3l-0.2 1M197.2 448.2l0.4 0.9M196.5 449.2l-0.7 0.8M203.9 444.3l0.7 0.9M202.2 447.5l-0.2 1.2M192.8 453.4l0.6 1.2M189.9 461.8l-0.6 1.3M193.9 458.7l-0.7 1.5M194.4 450l-0.8 0.7M198.7 447.8l0.4 1M204.4 453l-0.1 1.3M201.6 445.3l-0.5 1.1M202.3 451.4l-0.1 1.5M213 448.1l0.4 1.1M209.6 462.4l-0.2 1.3M207.6 441.6l0.4 1.1M213.4 446.4l-0.1 1.2M205.3 456.5l0 1.6M205.5 446.3l-0.5 1.1M201.3 459l-0.4 1.4M209.5 462.6l-0.7 1.1M206.8 461.9l-0.4 1.2M210.4 442.3l0 0.6M199.2 455.3l0.4 0.8M208.1 452.5l0.2 0.7M198.1 443.5l0.7 1.4M203.2 460.4l-0.6 0.6M204.8 455.9l-0.2 1.4M206.9 462.6l0.1 1.3M210.7 442.5l-0.6 1.3M211.8 456.5l0.4 0.7M209.3 449.9l0.6 1.1M203.3 453.7l-0.1 1.5M211.5 441.8l0.3 1.3M210.5 452.5l0.4 0.7M206.2 449l0.3 1M212.2 455.7l0 0.7M209.6 442.6l-0.5 1.3M222.7 442.4l-0.6 0.6M211.1 456.9l-0.2 1.5M208.7 448.3l0.6 1M222.5 457.9l0.7 1.2M218.7 444.3l0 1.4M210.3 452.3l-0.2 0.7M218.2 442.7l0.3 0.8M214 445.5l0.1 1.5M210.8 455.4l-0.5 0.8M220.2 462.6l-0.7 1.3M216.7 444.4l-0.5 1.3M208.9 460.6l-0.7 1.3M221.5 456.3l-0.7 0.7M215.8 445.6l0.2 1.4M211.5 455.3l0.2 0.7M219.2 451.8l-0.5 1.5M215 448l-0.8 1.5M219.8 451.1l0.7 1M207.5 451.6l0.5 1.4M217.4 444.1l-0.7 0.7M217.4 457.6l-0.5 1M213.5 443.6l-0.4 1.4" stroke="#d2c2c2" stroke-width="0.7" opacity="0.7"/>
<path d="M199.3 492.4V464.1" stroke="#9aa07e" stroke-width="0.55" opacity="0.85"/>
<path d="M197 492.4V465.9" stroke="#9aa07e" stroke-width="0.55" opacity="0.85"/>
<path d="M199 492.4V464.2" stroke="#7f9f50" stroke-width="0.55" opacity="0.85"/>
<path d="M197.7 492.4V474.2" stroke="#55843c" stroke-width="0.55" opacity="0.85"/>
<path d="M197.2 492.4V464.9" stroke="#6a9142" stroke-width="0.55" opacity="0.85"/>
<path d="M193.3 492.4V466" stroke="#9cb068" stroke-width="0.55" opacity="0.85"/>
<path d="M204.5 492.4V463.5" stroke="#55843c" stroke-width="0.55" opacity="0.85"/>
<path d="M205 492.4V473.8" stroke="#b8aca4" stroke-width="0.55" opacity="0.85"/>
<path d="M207.8 492.4V462.9" stroke="#b8aca4" stroke-width="0.55" opacity="0.85"/>
<path d="M208.8 492.4V463.4" stroke="#9cb068" stroke-width="0.55" opacity="0.85"/>
<path d="M206.5 492.4V470.2" stroke="#55843c" stroke-width="0.55" opacity="0.85"/>
<path d="M206.3 492.4V475.4" stroke="#a89c90" stroke-width="0.55" opacity="0.85"/>
<path d="M215.3 492.4V469.5" stroke="#55843c" stroke-width="0.55" opacity="0.85"/>
<path d="M211.7 492.4V476.3" stroke="#9aa07e" stroke-width="0.55" opacity="0.85"/>
<path d="M213.7 492.4V463.2" stroke="#b8aca4" stroke-width="0.55" opacity="0.85"/>
<path d="M216.5 492.4V470.1" stroke="#6a9142" stroke-width="0.55" opacity="0.85"/>
<path d="M212.9 492.4V473.8" stroke="#6a9142" stroke-width="0.55" opacity="0.85"/>
<path d="M215.7 492.4V465.9" stroke="#a89c90" stroke-width="0.55" opacity="0.85"/>
<rect x="190.58" y="489.8" width="30.94" height="2.2" rx="1" fill="#a6aedc" opacity="0.85"/>
</g>
<rect x="178.2" y="514.6" width="55.7" height="2.2" fill="#030304"/>
<line x1="219.9" y1="508.5" x2="230.9" y2="508.5" stroke="#dcdcdc" stroke-width="1.1"/>
<text class="rb" x="225.4" y="514.2" font-size="5" text-anchor="middle" fill="#f2f2f2">5 cm</text>
</g>
<text class="r" x="207.6" y="528.6" font-size="7.5" text-anchor="middle" fill="#222" word-spacing="1.1">G E1 GE1</text>
<clipPath id="c20"><rect x="238.3" y="435.8" width="55" height="81"/></clipPath>
<g clip-path="url(#c20)">
<rect x="238.3" y="435.8" width="55" height="81" fill="#040405"/>
<rect x="238.3" y="491.3" width="55" height="22.5" fill="url(#lw2)"/>
<linearGradient id="g20" gradientUnits="userSpaceOnUse" x1="0" y1="493.1" x2="0" y2="440.8"><stop offset="0" stop-color="#a09c86"/><stop offset="0.35" stop-color="#bcb0a8"/><stop offset="1" stop-color="#c4b2b6"/></linearGradient>
<g filter="url(#bl)" fill="none" stroke-linecap="round">
<path d="M257.7 493.6C258.9 499.1 258.8 505.9 259.4 513.9C260 505.9 260.6 499.1 261.8 493.6Z" fill="url(#rg)" stroke="none" opacity="0.42"/>
<path d="M258.9 494.1Q257.4 500 260.2 506.9" stroke="#b4b4cc" stroke-width="0.7" opacity="0.25"/>
<path d="M259.2 494.1Q257.9 502.6 258.1 512.1" stroke="#b4b4cc" stroke-width="0.7" opacity="0.34"/>
<path d="M261.3 494.1Q261.2 501.8 257.3 510.5" stroke="#b4b4cc" stroke-width="0.4" opacity="0.23"/>
<path d="M265.5 493.6C266.7 499.1 266.4 504.6 267 512.6C267.6 504.6 268.2 499.1 269.4 493.6Z" fill="url(#rg)" stroke="none" opacity="0.42"/>
<path d="M265.9 494.1Q267.4 502.5 268.5 512" stroke="#b4b4cc" stroke-width="0.5" opacity="0.3"/>
<path d="M267.4 494.1Q266 500.3 268.6 507.5" stroke="#b4b4cc" stroke-width="0.5" opacity="0.21"/>
<path d="M268.3 494.1Q269.2 502.4 265.8 511.6" stroke="#b4b4cc" stroke-width="0.5" opacity="0.32"/>
<path d="M273.2 493.6C274.4 499.1 274.6 505.7 275.2 513.7C275.8 505.7 275.9 499.1 277.1 493.6Z" fill="url(#rg)" stroke="none" opacity="0.42"/>
<path d="M275.6 494.1Q273.9 503.1 277.6 513.1" stroke="#b4b4cc" stroke-width="0.6" opacity="0.27"/>
<path d="M274.1 494.1Q273.3 501.7 276.1 510.4" stroke="#b4b4cc" stroke-width="0.6" opacity="0.31"/>
<path d="M276.6 494.1Q274.7 500.5 276.3 507.9" stroke="#b4b4cc" stroke-width="0.5" opacity="0.23"/>
<path d="M262.9 493.1C263.1 466.5 260.2 454.9 257.9 448.6M276.6 493.1C276.4 465.5 275.5 452.3 274.5 445.2" stroke="#57a048" stroke-width="0.6" opacity="0.82"/>
<path d="M273.1 493.1C272.9 459 273.7 448 274.2 442.1M276.5 493.1C276.7 462.6 278.1 451.3 279.4 445.3" stroke="#4a923d" stroke-width="0.5" opacity="0.82"/>
<path d="M276.9 493.1C276.5 470.2 269.5 454.6 263.4 446.3M262.3 493.1C262.3 462.9 260.6 450.5 259.2 443.9" stroke="#57a048" stroke-width="0.5" opacity="0.82"/>
<path d="M256.8 493.1C256.8 462.1 258.4 447.2 259.7 439.2" stroke="#33742c" stroke-width="0.4" opacity="0.82"/>
<path d="M272.1 493.1C272 466.9 270.4 451.3 269.1 442.9" stroke="#57a048" stroke-width="0.7" opacity="0.82"/>
<path d="M259 493.1C259.2 471 261.5 458.1 263.6 451.1" stroke="#438a36" stroke-width="0.5" opacity="0.82"/>
<path d="M275.2 493.1C275.2 472.5 276.3 457.6 277.2 449.5" stroke="#64a651" stroke-width="0.6" opacity="0.82"/>
<path d="M277.3 493.1C277.3 470.2 272.4 458.6 268.4 452.3" stroke="#57a048" stroke-width="0.4" opacity="0.82"/>
<path d="M272.1 493.1C271.8 462.6 271.5 451.1 270.9 444.9" stroke="#438a36" stroke-width="0.6" opacity="0.82"/>
<path d="M274.9 493.1C274.7 462 269.9 451.2 265.8 445.4" stroke="#3e8631" stroke-width="0.5" opacity="0.82"/>
<path d="M264.3 493.1C263.9 461.1 266.3 450.9 268 445.4" stroke="#33742c" stroke-width="0.6" opacity="0.82"/>
<path d="M276.5 493.1C276.8 465.7 270.8 450.9 266.2 442.9" stroke="#64a651" stroke-width="0.5" opacity="0.82"/>
<path d="M259.1 493.1C258.9 461.5 260 451 260.7 445.3" stroke="#4a923d" stroke-width="0.4" opacity="0.82"/>
<path d="M268.3 493.1C268.2 461.4 269.8 450.3 271 444.3M268.5 493.1C268 466.6 262.1 455.7 257 449.8M258.9 493.1C258.7 464.6 261.8 453.4 264.2 447.3M257.3 493.1C257 466.7 262.1 450.5 266.1 441.8M266.2 493.1C266.5 461.6 268.8 450.7 270.9 444.8M273.6 493.1C273.7 470 268.8 454.3 264.9 445.8M276.5 493.1C276.3 461.1 282 451 286.5 445.6M261.8 493.1C261.8 468.2 255.9 458 251.1 452.5M278.2 493.1C277.7 469.8 273 458.2 268.8 452M268.9 493.1C269.3 463.1 266.1 453.4 263.9 448.1M267.9 493.1C268.3 464.8 260.7 453.3 254.8 447.2M261 493.1C261.1 459 259.3 447.5 257.9 441.3M270.3 493.1C270.2 467.9 268.9 452.5 267.7 444.1M267.3 493.1C266.9 462 270.1 448.5 272.4 441.2M257.3 493.1C256.8 469.5 257.1 454.7 257 446.8M274.6 493.1C274.2 467.5 271.2 455.9 268.5 449.7M256.6 493.1C256.4 465.4 258.4 451 259.9 443.2M262.7 493.1C263.1 470.7 258.6 453.8 255.1 444.8" stroke="url(#g20)" stroke-width="0.5" opacity="0.82"/>
<path d="M270.1 493.1C270.6 462.8 273.2 451.3 275.7 445.1M257.4 493.1C257.7 471 264.8 456.6 270.9 448.9M266.3 493.1C266.4 466 267.3 454.4 268 448.2M268 493.1C267.6 472.3 265.4 458.7 263.3 451.4M257.7 493.1C257.6 473.2 252.4 457.5 248.1 449M256.6 493.1C256.5 466.7 259.7 454.6 262.3 448.1M262.1 493.1C262.5 472.2 254 457.3 247.4 449.4" stroke="url(#g20)" stroke-width="0.4" opacity="0.82"/>
<path d="M264.5 493.1C264.3 472.5 267.6 458.1 270.2 450.4M274.5 493.1C274 460.2 276.3 449.8 277.8 444.3M277.4 493.1C277.2 460 276.7 450.1 276.1 444.8M266.4 493.1C266 468.9 262.8 454.7 259.8 447M270.4 493.1C270.5 466.9 262.6 453.4 256.2 446.2M261.3 493.1C261.7 463.3 259.9 452.2 258.7 446.2M257.4 493.1C256.9 468.3 260.5 452.5 263.1 444M260.1 493.1C260 463 260.9 451.9 261.5 445.9M274.7 493.1C274.2 467.5 275.2 451 275.5 442.2M269.5 493.1C269.7 461.8 265.1 451.3 261.6 445.7M264.9 493.1C265.1 464.8 264.7 449.9 264.6 441.8M275.8 493.1C275.6 465.8 272.5 449.9 269.7 441.3M267.7 493.1C267.5 465.5 265.8 453.2 264.2 446.6M274 493.1C273.6 466.7 270.8 452 268.2 444.1M261 493.1C261.3 463.6 265.1 454.9 268.3 450.2M265.3 493.1C265 469.7 264.9 457 264.5 450.2M273.5 493.1C273.2 462.7 279.9 452.6 285 447.1M275.1 493.1C274.7 465.4 274.2 453 273.5 446.3M259.8 493.1C260.2 466.1 256 456.7 252.9 451.6M269.5 493.1C269.3 463 268.5 451.4 267.7 445.1M264.9 493.1C264.8 466.7 265.1 455.9 265.3 450.1M262.8 493.1C262.6 461.6 260.8 450 259.1 443.7M267.1 493.1C266.9 473.2 269.1 458.4 270.7 450.5M267.5 493.1C267.3 459.7 272.5 449.4 276.6 443.8M273.7 493.1C273.3 466.1 275.3 452 276.7 444.5M258.4 493.1C257.9 463.6 260.8 449.2 262.7 441.4M262.9 493.1C262.7 470.5 264.4 456.9 265.5 449.6" stroke="url(#g20)" stroke-width="0.6" opacity="0.82"/>
<path d="M270.6 493.1C270.9 467.8 269.8 454.3 269.2 447M269.1 493.1C269.2 465.6 264 451.7 259.9 444.2M272.6 493.1C272.4 462.8 272.7 452.4 272.8 446.8M273.4 493.1C273.8 469.5 269.4 458.1 266.1 451.9" stroke="url(#g20)" stroke-width="0.7" opacity="0.82"/>
<path d="M268.6 478.1Q277.6 471 282.6 482.5M268.1 463Q282.7 455.8 293.2 482.7M274.6 469.7Q260.1 465.3 249.6 485.9M266 479.8Q280.7 472.9 291.5 491.9M268.5 479.9Q258 475.4 251.6 493.4M267 467.9Q277.7 462.2 284.4 485.8M268.5 462.4Q260.6 458 256.6 475.8M275 472.9Q265.4 463.9 259.9 485.6M275.7 468.2Q289.6 458.8 299.5 479.1M267.7 464.4Q255.3 454.5 247 481.8M277 466Q262 458.6 251 479.9M277.1 470.7Q262.6 465.1 252 474M258.6 471.6Q249.3 462.1 244.1 490.6M276.6 468.5Q264.7 460.9 256.7 485.1M259.3 463.5Q267.4 458.5 271.5 472.7M260.8 467.3Q249.9 458.7 242.9 475.7M269.2 460.1Q280.2 453.6 287.2 473.1M266.2 475.1Q255 465.8 247.9 488.6M275.4 461.1Q285.9 455.5 292.3 467.4M274.2 467.4Q282.1 460.4 286 489M268.1 465Q256.7 459.4 249.2 475.3M261.4 460.8Q248.9 454.4 240.3 481.4M265.6 465.3Q259.2 456.3 256.9 470.6M265.6 464.9Q256 455.6 250.3 469.7M260.3 460.9Q249.7 456.2 243.1 466.3M259.5 479.6Q252.5 475 249.5 485.3M269.4 477.3Q276.9 467.9 280.3 496.2M268.5 467.2Q275 462.6 277.6 486.4M259.6 469.4Q246.7 462.1 237.7 472.9M260.3 477.3Q271.2 471.3 278.1 487.7M267.8 477Q255.8 468 247.9 494.5M265.5 461.4Q255.5 453 249.6 466.2M259.5 468.4Q248.6 460.6 241.8 476.5M266.6 474.7Q255.8 465.5 248.9 490.4M259 479Q252.1 469.7 249.2 483.3M268.1 477.8Q278.3 471.6 284.5 484M275.5 478.7Q267.1 470.5 262.7 488.8M259.1 471.2Q267.2 461.8 271.3 490.7M274.3 474.3Q288.7 465 299 495.1M260.4 477.4Q247.8 472.3 239.2 494.7M267.3 461.4Q275.3 452.7 279.2 477.5M269 479.8Q253.6 471.7 242.2 496.2M274.1 469.3Q287.7 464.8 297.3 488.2M274.1 460.4Q265.8 452.1 261.5 470.1M269.4 469.3Q278.3 459.5 283.2 486.9" stroke="#b0a0a0" stroke-width="0.4" opacity="0.7"/>
<path d="M263.8 461.8l0.1 1.1M256.2 446.4l-0.5 0.8M264.8 455.8l-0.2 1.6M258.8 442.9l0 1.5M258.1 444.4l0.4 1.6M262.9 458.8l-0.5 1.2M251.4 452.6l-0.5 1.6M255.7 457.4l-0.3 0.8M253.6 459.7l0.1 0.9M264.9 444.6l0.4 1.2M257.8 458.7l-0.4 1.4M260.9 459l0 1.6M261.2 450.6l-0.2 0.8M251.9 455.1l0.4 0.8M265.8 446.3l0.6 0.9M267.8 444.6l0.8 1.2M255.7 456.9l-0.1 1M253.1 458.4l0.5 1.3M256.6 441.9l-0.5 0.9M260.9 460.1l-0.5 0.9M255.9 450l0.5 1M255.2 456.7l-0.2 0.8M259.9 455.6l-0.3 1.3M261.3 456.2l-0.1 1M258.1 447.8l-0.6 1.6M253.6 457.3l0.1 1.5M268.4 457.4l0.6 1.1M267.8 461.7l0.7 0.9M264.8 451.8l0.3 1.4M256.2 456.8l0.6 1.3M271.3 447.2l-0.1 0.8M260.3 445.5l-0.1 1.6M264.5 452.5l-0.2 0.7M266.4 441.3l-0.7 0.8M265.6 450.1l0.1 0.7M258.5 442.5l0.6 1.3M269.3 453.8l-0.3 0.9M274.4 441.7l0.2 0.7M275.4 459.1l-0.1 0.8M274.3 444l0.4 0.7M267.7 446.9l-0.3 1.5M261.8 459.1l-0.6 1.4M268.2 447.4l0.6 0.9M263.7 449.2l0.6 1.6M267.2 455l-0.4 0.9M259.5 455.2l0.5 1.6M263.5 459.9l-0.4 1.6M273.2 447.7l0.1 1.5M261.7 461.5l0.4 1.3M269.1 446.4l0.5 1.2M263.7 459.3l0.3 0.6M259.1 455.3l-0.4 1M265.6 449.8l0.2 1M266.7 443l0 1.5M271.4 451.5l0.3 1M270.9 453.2l-0.7 1.4M267.9 458.6l-0.2 0.9M270 453.6l0.8 1.3M263.6 459.8l-0.4 0.7M269.5 461.5l-0.3 0.8M280.3 445.7l-0.3 0.9M275.3 456.7l0.6 1.3M271.1 457.6l-0.1 1.5M274.4 446.2l-0.2 1.6M275.1 454.7l0.2 1M269.1 460.7l-0.3 1.1M281.2 452.8l-0.5 1M269.9 447.7l0.3 1.6M267.1 460.8l0.8 1.1M273.1 440.8l0.6 1.4M274.4 443.1l0.2 1.4M270.4 442.4l0.3 1.2M283.4 457.8l-0.5 0.8M277.2 456l0.4 0.9M280 458.8l-0.1 1.5M271.8 444.2l-0.8 0.9M270.7 449.3l0.7 1.1M277.5 445.1l0.3 0.7M275 459.4l0.8 0.6M278.3 445.4l-0.1 1.2M270.9 447l0.7 0.8M273 451.6l0.1 1M281.2 449l-0.1 0.9M271.7 455.6l0.1 1.3M272.7 459.8l-0.6 1.1M268.1 445.4l-0.6 1.3M270 460l-0.6 0.7M277.5 456.1l-0.7 1.5M269.8 456.1l-0.3 1M267.6 457.4l0.8 1.5" stroke="#d2c2c2" stroke-width="0.7" opacity="0.7"/>
<path d="M260.5 494.6V474.4" stroke="#b8aca4" stroke-width="0.55" opacity="0.85"/>
<path d="M257.6 494.6V467.5" stroke="#b8aca4" stroke-width="0.55" opacity="0.85"/>
<path d="M263.5 494.6V474.4" stroke="#6a9142" stroke-width="0.55" opacity="0.85"/>
<path d="M260.9 494.6V476.1" stroke="#b8aca4" stroke-width="0.55" opacity="0.85"/>
<path d="M262.2 494.6V468.4" stroke="#b8aca4" stroke-width="0.55" opacity="0.85"/>
<path d="M261.1 494.6V475" stroke="#a89c90" stroke-width="0.55" opacity="0.85"/>
<path d="M266.3 494.6V465.7" stroke="#a89c90" stroke-width="0.55" opacity="0.85"/>
<path d="M270 494.6V469" stroke="#9cb068" stroke-width="0.55" opacity="0.85"/>
<path d="M269.8 494.6V467.3" stroke="#a89c90" stroke-width="0.55" opacity="0.85"/>
<path d="M266.3 494.6V473.1" stroke="#a89c90" stroke-width="0.55" opacity="0.85"/>
<path d="M268.5 494.6V477.4" stroke="#55843c" stroke-width="0.55" opacity="0.85"/>
<path d="M268.2 494.6V465.3" stroke="#a89c90" stroke-width="0.55" opacity="0.85"/>
<path d="M272 494.6V475.6" stroke="#7f9f50" stroke-width="0.55" opacity="0.85"/>
<path d="M278.8 494.6V466.4" stroke="#a89c90" stroke-width="0.55" opacity="0.85"/>
<path d="M274.7 494.6V466.8" stroke="#55843c" stroke-width="0.55" opacity="0.85"/>
<path d="M276.8 494.6V468.2" stroke="#b8aca4" stroke-width="0.55" opacity="0.85"/>
<path d="M275.4 494.6V476.1" stroke="#a89c90" stroke-width="0.55" opacity="0.85"/>
<path d="M276.8 494.6V476" stroke="#b8aca4" stroke-width="0.55" opacity="0.85"/>
<rect x="253.75" y="492" width="27.4" height="2.2" rx="1" fill="#a6aedc" opacity="0.85"/>
</g>
<rect x="238.3" y="514.6" width="55" height="2.2" fill="#030304"/>
<line x1="279.3" y1="508.5" x2="290.3" y2="508.5" stroke="#dcdcdc" stroke-width="1.1"/>
<text class="rb" x="284.8" y="514.2" font-size="5" text-anchor="middle" fill="#f2f2f2">5 CM</text>
</g>
<text class="r" x="267.2" y="528.6" font-size="7.5" text-anchor="middle" fill="#222" word-spacing="1.1">G E1 GE1</text>
<clipPath id="c21"><rect x="57" y="531" width="56" height="80.5"/></clipPath>
<g clip-path="url(#c21)">
<rect x="57" y="531" width="56" height="80.5" fill="#040405"/>
<rect x="57" y="584.1" width="56" height="24.4" fill="url(#lw)"/>
<linearGradient id="g21" gradientUnits="userSpaceOnUse" x1="0" y1="585.9" x2="0" y2="536"><stop offset="0" stop-color="#6f9650"/><stop offset="0.4" stop-color="#8f9c78"/><stop offset="0.58" stop-color="#c2afb0"/><stop offset="1" stop-color="#b29ca4"/></linearGradient>
<g filter="url(#bl)" fill="none" stroke-linecap="round">
<path d="M73.5 586.4C74.7 591.9 73.8 599.3 74.4 607.3C75 599.3 76.3 591.9 77.5 586.4Z" fill="url(#rg)" stroke="none" opacity="0.6"/>
<path d="M77.6 586.9Q77.7 596.1 75.1 606.3" stroke="#b4b4cc" stroke-width="0.6" opacity="0.34"/>
<path d="M76.3 586.9Q77.2 594.1 78.1 602.3" stroke="#b4b4cc" stroke-width="0.7" opacity="0.3"/>
<path d="M74 586.9Q73.4 594.3 76.5 602.6" stroke="#b4b4cc" stroke-width="0.6" opacity="0.4"/>
<path d="M82.7 586.4C83.7 591.9 85.2 600.3 85.8 608.3C86.4 600.3 85.1 591.9 86.2 586.4Z" fill="url(#rg)" stroke="none" opacity="0.6"/>
<path d="M85.1 586.9Q86 593.8 82 601.8" stroke="#b4b4cc" stroke-width="0.5" opacity="0.47"/>
<path d="M82.7 586.9Q83.9 596 82.5 606.1" stroke="#b4b4cc" stroke-width="0.5" opacity="0.45"/>
<path d="M84.7 586.9Q86.4 594.4 82.3 602.9" stroke="#b4b4cc" stroke-width="0.8" opacity="0.37"/>
<path d="M92.7 586.4C93.8 591.9 94.5 598.9 95.1 606.9C95.7 598.9 95.3 591.9 96.4 586.4Z" fill="url(#rg)" stroke="none" opacity="0.6"/>
<path d="M92.8 586.9Q94 595.9 95.5 606" stroke="#b4b4cc" stroke-width="0.7" opacity="0.45"/>
<path d="M95.7 586.9Q95.6 594.1 92.2 602.4" stroke="#b4b4cc" stroke-width="0.4" opacity="0.48"/>
<path d="M92.8 586.9Q91.5 596.6 94.2 607.2" stroke="#b4b4cc" stroke-width="0.7" opacity="0.43"/>
<path d="M97.6 585.9C97.2 558.3 91.1 546.3 85.8 539.9M76.8 585.9C76.8 559.1 74.5 544.2 72.6 536.2M83.7 585.9C83.6 559.8 83.6 543.9 83.5 535.4M96.4 585.9C96.7 561.2 91.3 546.9 87.2 539.3M86.2 585.9C86.1 559.7 88.7 549.3 90.7 543.7M75.1 585.9C74.6 560.1 71.9 549.2 69.4 543.4M93.7 585.9C93.7 561.7 93.8 548.8 94 541.9M72.4 585.9C72.1 565.1 78.5 549.2 83.4 540.7M86.7 585.9C86.7 555.3 83.7 543.4 81.3 536.9M96.4 585.9C96.7 563.2 97.6 551 98.6 544.4" stroke="#33742c" stroke-width="0.5" opacity="0.82"/>
<path d="M84.3 585.9C84.1 554 86 542.3 87.3 535.9M82.7 585.9C82.9 562.1 85.2 546.9 87.4 538.7M82.1 585.9C82.6 562.5 81.9 545.6 81.7 536.5M85.8 585.9C86.3 564.5 79.8 552.3 74.8 545.8M95.5 585.9C95.3 560.8 98.3 549 100.6 542.6" stroke="#57a048" stroke-width="0.7" opacity="0.82"/>
<path d="M93.5 585.9C93.7 560.8 98.1 550 101.8 544.2M72.7 585.9C72.6 554.3 72.5 542.8 72.3 536.6M97 585.9C96.5 564.2 93.4 551.5 90.4 544.7" stroke="#57a048" stroke-width="0.5" opacity="0.82"/>
<path d="M77.5 585.9C77.8 554.1 72.8 543.6 68.9 537.9M73.1 585.9C72.8 560.8 71.8 551 70.8 545.8M94.3 585.9C94.3 556.4 91.2 544.9 88.8 538.6" stroke="#4a923d" stroke-width="0.7" opacity="0.82"/>
<path d="M87.3 585.9C86.9 555.1 86.3 543.1 85.5 536.6M87.3 585.9C87.2 559.6 88.6 551.4 89.6 547" stroke="#64a651" stroke-width="0.6" opacity="0.82"/>
<path d="M82.9 585.9C83.3 559.2 84 546.5 84.9 539.7M83.7 585.9C83.8 562.2 88.7 549.6 92.9 542.9M92.9 585.9C92.5 557.7 92.5 545.6 92.1 539.1M76.2 585.9C75.9 561.1 75.8 544.6 75.6 535.7" stroke="#4a923d" stroke-width="0.5" opacity="0.82"/>
<path d="M78.4 585.9C77.9 553 74.1 543.6 70.6 538.6" stroke="#3e8631" stroke-width="0.5" opacity="0.82"/>
<path d="M96.1 585.9C95.6 563.1 100.7 550.8 104.5 544.1M94.3 585.9C94.4 562.9 89.7 549.2 86 541.7M76.7 585.9C76.4 565.3 77.8 550.5 78.6 542.5M77.1 585.9C77.5 555.9 76.7 544.5 76.3 538.4M85.6 585.9C85.6 559 90.4 548.9 94.4 543.5M86.7 585.9C86.9 563.2 89.2 548.5 91.2 540.6M75.9 585.9C76.1 563.1 73.5 551.7 71.6 545.6M92.1 585.9C91.7 561.7 93.7 544 94.9 534.5M93.8 585.9C94.2 562.2 92.5 552 91.5 546.4M74.8 585.9C74.7 561.4 71.8 549 69.3 542.2" stroke="#438a36" stroke-width="0.6" opacity="0.82"/>
<path d="M72.5 585.9C72.1 566.6 68.4 552.7 65.1 545.2M81.8 585.9C81.4 562.3 87 551.4 91.3 545.6M82.9 585.9C82.6 559.6 86.1 548 88.7 541.8" stroke="#33742c" stroke-width="0.7" opacity="0.82"/>
<path d="M75.6 585.9C75.7 554.9 79.9 543.9 83.4 538M73.3 585.9C73.4 559.4 69.3 551.6 66 547.3" stroke="#33742c" stroke-width="0.6" opacity="0.82"/>
<path d="M97.3 585.9C97.2 561.2 96.4 547 95.7 539.4M92.7 585.9C92.3 556.8 94.1 542.2 95.3 534.4M93.3 585.9C92.9 561.2 91.1 545.4 89.3 536.8M74.1 585.9C74.3 560.3 71.3 548 69 541.4M83.9 585.9C83.6 559.8 87.8 549.9 91.1 544.5M97.4 585.9C97.6 558.6 102.3 546.2 106.2 539.5" stroke="#57a048" stroke-width="0.6" opacity="0.82"/>
<path d="M84.6 585.9C84.2 563.5 89.1 551 92.9 544.3M97.1 585.9C97.2 563.7 90.1 551.2 84.4 544.5M87.4 585.9C87 561.3 86.5 550.8 85.7 545.2M94.2 585.9C94.3 567.1 90.4 552.8 87.3 545.1" stroke="#4a923d" stroke-width="0.4" opacity="0.82"/>
<path d="M94.5 585.9C94.2 557.1 95.7 544.7 96.8 538M92.8 585.9C92.3 553.4 97.7 543.5 101.8 538.1M74.1 585.9C74.5 561.1 69.4 552.6 65.5 548.1" stroke="#64a651" stroke-width="0.5" opacity="0.82"/>
<path d="M84.8 585.9C84.5 564.2 82.1 547.5 79.9 538.5M87.6 585.9C87.9 558.7 91.8 546.3 95.3 539.6" stroke="#64a651" stroke-width="0.7" opacity="0.82"/>
<path d="M76.4 585.9C76.4 558.6 71.5 547.4 67.4 541.5M87.3 585.9C87.5 552.5 83.5 542.3 80.4 536.8M81.5 585.9C81.9 562 81.4 547.4 81.2 539.4" stroke="#33742c" stroke-width="0.4" opacity="0.82"/>
<path d="M83.7 585.9C84 565.7 89.8 554.9 94.7 549.2M78.4 585.9C78.8 564.2 76.6 551.1 75.1 544.1" stroke="#64a651" stroke-width="0.4" opacity="0.82"/>
<path d="M78.4 585.9C77.9 559.6 81.5 549.7 84 544.3M78 585.9C78.1 565.6 78.4 553.2 78.8 546.5M73.9 585.9C74.2 565.4 71.3 550 69.2 541.7" stroke="#3e8631" stroke-width="0.6" opacity="0.82"/>
<path d="M96 585.9C96.2 568.1 90 554.9 85.1 547.8M85.4 585.9C85.7 561.5 84.5 546.2 83.8 538" stroke="#438a36" stroke-width="0.7" opacity="0.82"/>
<path d="M92.9 585.9C93.2 557.3 94.5 548 95.8 543.1" stroke="#438a36" stroke-width="0.4" opacity="0.82"/>
<path d="M78.4 585.9C78.1 558.6 78.4 549 78.4 543.8" stroke="#57a048" stroke-width="0.4" opacity="0.82"/>
<path d="M97.1 585.9C97.6 567.7 92.6 554.2 89 546.8M75.5 585.9C75.7 559 77.7 547 79.5 540.5" stroke="#4a923d" stroke-width="0.6" opacity="0.82"/>
<path d="M79.2 587.4V569.1" stroke="#6a9142" stroke-width="0.55" opacity="0.85"/>
<path d="M73.2 587.4V568.1" stroke="#7f9f50" stroke-width="0.55" opacity="0.85"/>
<path d="M72.1 587.4V564.9" stroke="#55843c" stroke-width="0.55" opacity="0.85"/>
<path d="M72.7 587.4V563.8" stroke="#7f9f50" stroke-width="0.55" opacity="0.85"/>
<path d="M78.1 587.4V558.2" stroke="#9cb068" stroke-width="0.55" opacity="0.85"/>
<path d="M72.6 587.4V567.5" stroke="#9cb068" stroke-width="0.55" opacity="0.85"/>
<path d="M81.1 587.4V558.5" stroke="#9cb068" stroke-width="0.55" opacity="0.85"/>
<path d="M81 587.4V566.8" stroke="#6a9142" stroke-width="0.55" opacity="0.85"/>
<path d="M86.5 587.4V561.3" stroke="#9cb068" stroke-width="0.55" opacity="0.85"/>
<path d="M86 587.4V570.6" stroke="#7f9f50" stroke-width="0.55" opacity="0.85"/>
<path d="M84.9 587.4V560.7" stroke="#55843c" stroke-width="0.55" opacity="0.85"/>
<path d="M86.6 587.4V570.5" stroke="#9cb068" stroke-width="0.55" opacity="0.85"/>
<path d="M92.3 587.4V570.1" stroke="#55843c" stroke-width="0.55" opacity="0.85"/>
<path d="M95.9 587.4V570.1" stroke="#9cb068" stroke-width="0.55" opacity="0.85"/>
<path d="M92.2 587.4V567.7" stroke="#7f9f50" stroke-width="0.55" opacity="0.85"/>
<path d="M94.5 587.4V565.4" stroke="#9cb068" stroke-width="0.55" opacity="0.85"/>
<path d="M93.7 587.4V558.4" stroke="#9cb068" stroke-width="0.55" opacity="0.85"/>
<path d="M91.6 587.4V561.9" stroke="#55843c" stroke-width="0.55" opacity="0.85"/>
<rect x="69.48" y="584.8" width="31.04" height="2.2" rx="1" fill="#a6aedc" opacity="0.85"/>
</g>
<rect x="57" y="609.3" width="56" height="2.2" fill="#030304"/>
<line x1="99" y1="603.2" x2="110" y2="603.2" stroke="#dcdcdc" stroke-width="1.1"/>
<text class="rb" x="104.5" y="608.9" font-size="5" text-anchor="middle" fill="#f2f2f2">5 cm</text>
</g>
<text class="r" x="88.5" y="621.7" font-size="7.5" text-anchor="middle" fill="#222" word-spacing="1.1">G G1 GG1</text>
<clipPath id="c22"><rect x="118" y="531" width="54.8" height="80.5"/></clipPath>
<g clip-path="url(#c22)">
<rect x="118" y="531" width="54.8" height="80.5" fill="#040405"/>
<rect x="118" y="586.7" width="54.8" height="21.8" fill="url(#lw)"/>
<linearGradient id="g22" gradientUnits="userSpaceOnUse" x1="0" y1="588.5" x2="0" y2="536"><stop offset="0" stop-color="#6f9650"/><stop offset="0.4" stop-color="#8f9c78"/><stop offset="0.58" stop-color="#c2afb0"/><stop offset="1" stop-color="#b29ca4"/></linearGradient>
<g filter="url(#bl)" fill="none" stroke-linecap="round">
<path d="M132.4 589C133.6 594.5 133 600.7 133.6 608.7C134.2 600.7 135.2 594.5 136.5 589Z" fill="url(#rg)" stroke="none" opacity="0.6"/>
<path d="M133.9 589.5Q134.2 597.9 133.8 607.3" stroke="#b4b4cc" stroke-width="0.6" opacity="0.33"/>
<path d="M133.6 589.5Q132.4 597.3 136.1 606.2" stroke="#b4b4cc" stroke-width="0.6" opacity="0.37"/>
<path d="M133.1 589.5Q132.3 596.5 135.6 604.6" stroke="#b4b4cc" stroke-width="0.5" opacity="0.42"/>
<path d="M141.8 589C143 594.5 142.8 600 143.4 608C144 600 144.5 594.5 145.7 589Z" fill="url(#rg)" stroke="none" opacity="0.6"/>
<path d="M145.5 589.5Q145.4 595.7 146 602.8" stroke="#b4b4cc" stroke-width="0.7" opacity="0.35"/>
<path d="M141.7 589.5Q142.4 595.9 141.7 603.3" stroke="#b4b4cc" stroke-width="0.5" opacity="0.33"/>
<path d="M142.7 589.5Q144.5 598.2 141.6 607.9" stroke="#b4b4cc" stroke-width="0.7" opacity="0.36"/>
<path d="M150.8 589C151.8 594.5 152.9 600.9 153.5 608.9C154.1 600.9 153.2 594.5 154.3 589Z" fill="url(#rg)" stroke="none" opacity="0.6"/>
<path d="M150.1 589.5Q151.9 595.9 154.1 603.4" stroke="#b4b4cc" stroke-width="0.4" opacity="0.39"/>
<path d="M154.9 589.5Q153.5 595.9 150.6 603.3" stroke="#b4b4cc" stroke-width="0.6" opacity="0.33"/>
<path d="M150.9 589.5Q151.7 596.8 153.3 605.1" stroke="#b4b4cc" stroke-width="0.5" opacity="0.32"/>
<path d="M141.3 588.5C141.6 562 145.2 545.6 148.4 536.8M132.5 588.5C132.4 564.5 138.6 548.7 143.6 540.2M141 588.5C141.4 565.3 144.3 552.6 147.1 545.7M150.2 588.5C149.9 559.8 150.4 545.3 150.6 537.5" stroke="#438a36" stroke-width="0.6" opacity="0.82"/>
<path d="M131.6 588.5C131.2 566.1 131.9 548.5 132.1 539M135.6 588.5C135.8 563.5 136.5 547.6 137.3 539.1M150.1 588.5C149.8 566.4 151.3 550.4 152.2 541.8" stroke="#57a048" stroke-width="0.5" opacity="0.82"/>
<path d="M154.9 588.5C155.2 558.4 159.2 548.8 162.6 543.6M137.5 588.5C138 558.7 140.4 547.1 142.8 540.9M132.3 588.5C132.7 554.2 134.7 544 136.6 538.5" stroke="#438a36" stroke-width="0.4" opacity="0.82"/>
<path d="M155.3 588.5C155.6 563.8 159.8 551.8 163.6 545.3M149.5 588.5C149.7 565.1 148.6 549.1 147.8 540.4" stroke="#4a923d" stroke-width="0.6" opacity="0.82"/>
<path d="M144.1 588.5C144.1 565.2 144.4 548.6 144.6 539.7M136.5 588.5C136.9 557.5 134.1 547.9 132.1 542.7M146.8 588.5C146.5 559.6 146.2 550.7 145.7 545.9M144.8 588.5C144.7 564.8 139.3 548.5 134.9 539.7M134.6 588.5C134.1 552.5 134 542.1 133.5 536.5" stroke="#438a36" stroke-width="0.5" opacity="0.82"/>
<path d="M143.7 588.5C143.9 567.5 147.9 552.1 151.3 543.8M153.6 588.5C153.2 565.5 152.5 552.1 151.6 544.8M131.3 588.5C131.6 560.7 136.3 549.7 140.4 543.7M134.2 588.5C133.9 561.8 134.9 545.4 135.5 536.6" stroke="#4a923d" stroke-width="0.5" opacity="0.82"/>
<path d="M135.8 588.5C135.7 556.9 132.6 546.7 129.9 541.2M153.7 588.5C153.3 560.8 150.4 548 147.8 541.1M141 588.5C141.4 562.8 143.9 548 146.2 540" stroke="#57a048" stroke-width="0.6" opacity="0.82"/>
<path d="M143.9 588.5C143.9 557.2 143.5 548.3 143.2 543.5M131.6 588.5C131.2 562.5 138.7 553.2 144.5 548.2" stroke="#438a36" stroke-width="0.7" opacity="0.82"/>
<path d="M136.8 588.5C137 568.9 129.5 554.8 123.5 547.2M152.1 588.5C152.4 555.8 152.9 546.1 153.6 540.9M135.4 588.5C135.1 561 141.3 551.7 146.1 546.8" stroke="#33742c" stroke-width="0.4" opacity="0.82"/>
<path d="M152.5 588.5C152.8 567.4 154.9 551.5 156.9 542.9" stroke="#4a923d" stroke-width="0.7" opacity="0.82"/>
<path d="M144.8 588.5C145.2 564.6 139.5 549.1 135.3 540.8M137.5 588.5C137.3 558.9 140.3 547.9 142.6 541.9" stroke="#3e8631" stroke-width="0.4" opacity="0.82"/>
<path d="M143.7 588.5C143.8 564.9 138.8 551.2 134.8 543.8M149.5 588.5C149.6 559.7 146.8 547.1 144.7 540.3M135.7 588.5C136 559.8 130.3 547.6 125.8 541M155.7 588.5C155.8 566.8 153.1 552.3 150.9 544.5" stroke="#3e8631" stroke-width="0.6" opacity="0.82"/>
<path d="M135.7 588.5C135.8 559.7 130.9 549.6 126.9 544.1" stroke="#4a923d" stroke-width="0.4" opacity="0.82"/>
<path d="M146.9 588.5C147.2 562.3 147.8 552.5 148.4 547.3M155.7 588.5C155.3 558.7 152.8 548.6 150.4 543.2M152 588.5C152.2 565.7 147.8 552.4 144.3 545.3" stroke="#64a651" stroke-width="0.5" opacity="0.82"/>
<path d="M151.4 588.5C151.4 563 153.3 550.7 154.9 544" stroke="#57a048" stroke-width="0.4" opacity="0.82"/>
<path d="M145.9 588.5C145.6 566.7 148.6 550.3 150.8 541.4" stroke="#64a651" stroke-width="0.6" opacity="0.82"/>
<path d="M135.1 588.5C134.8 563 132.9 552 131 546.1" stroke="#3e8631" stroke-width="0.5" opacity="0.82"/>
<path d="M153.6 588.5C153.8 565.2 148.8 550.7 144.8 542.8" stroke="#33742c" stroke-width="0.5" opacity="0.82"/>
<path d="M136.4 588.5C136.3 567.5 138.5 552 140.1 543.6M154.4 588.5C154.5 563.7 153.3 550.1 152.4 542.8" stroke="#33742c" stroke-width="0.6" opacity="0.82"/>
<path d="M152.2 588.5C152.4 562.6 156.3 551.4 159.7 545.4M153.6 588.5C153.3 564.7 150 548.6 147.1 539.9M142.4 588.5C142.8 566.8 145.5 550.8 148 542.2M132.9 588.5C132.8 562.3 127.9 548.2 123.7 540.7M150 588.5C149.7 562.6 146 552.8 142.7 547.5M133.2 588.5C133 558.1 134.4 547.4 135.3 541.7M140.6 588.5C140.3 563.6 144.5 550 147.7 542.7M137.3 588.5C137 565.2 131 548.6 125.7 539.6M143.2 588.5C143.6 557.9 138.6 547.3 134.9 541.6" stroke="url(#g22)" stroke-width="0.5" opacity="0.82"/>
<path d="M132.2 588.5C132.4 564.7 131.2 548 130.5 539M141.9 588.5C141.5 558 140.7 547.8 139.7 542.3M143.3 588.5C143.8 563.1 144.6 550 145.6 542.9M144.2 588.5C144.1 566 141 549.5 138.3 540.7M132.9 588.5C133.4 560.9 134.6 549.6 135.9 543.5M134.7 588.5C134.3 556.2 137.5 545 139.8 539M141.7 588.5C141.2 567.9 141.3 552.2 141 543.8M152.9 588.5C153.1 563.5 157 552.4 160.4 546.4M151.3 588.5C151.7 566.1 147.7 549.6 144.8 540.7M144.5 588.5C144.7 562.4 147.7 551.2 150.4 545.2" stroke="url(#g22)" stroke-width="0.6" opacity="0.82"/>
<path d="M141.5 588.5C141.4 561.4 138.6 551.6 136.2 546.3M152.7 588.5C153.2 563.6 147.2 548.6 142.7 540.6M154.8 588.5C154.8 570.3 147.3 556.3 141.1 548.8" stroke="url(#g22)" stroke-width="0.4" opacity="0.82"/>
<path d="M142.7 588.5C142.4 558 141.2 545.4 140.1 538.7M154.5 588.5C154.1 562.1 151.6 544.9 149.3 535.7M141 588.5C140.5 563.8 140.6 551.8 140.3 545.3M143.3 588.5C143.1 563.3 146.4 546 148.9 536.6" stroke="url(#g22)" stroke-width="0.7" opacity="0.82"/>
<path d="M151.3 567.9Q140.4 563.7 133.5 579.6M132.7 571.9Q123.9 563.2 119 582.7M134.6 556.4Q121.8 551.4 113.1 569.1M132.8 554.9Q121.9 550.3 115.1 573M133.4 560.6Q119.7 552.9 110.1 579.4M144.2 556.9Q132.3 547.3 124.5 575.1M135.2 576.3Q120.2 571.5 109.3 578.5M150.6 566.1Q137.7 556.3 128.7 587.7M150.9 571.6Q143.4 566.4 139.9 586.1M152.5 556.8Q141.1 551.7 133.6 571.7M133.4 571.5Q125.7 563 122 579.2M153 573.4Q141.4 564 133.8 578.9M134.9 568.4Q126.4 564.4 121.8 581.4M154.4 566.1Q138.6 556.1 126.9 588M143.7 557.1Q132.5 547.7 125.2 578M154 563.9Q140.6 554.1 131.2 575M142.1 575.3Q128.9 570.4 119.8 592.6M134 557.7Q120.6 549.1 111.1 571M151.6 563.9Q140.8 555.5 134.1 572.6M151.5 555.7Q141.2 547.9 134.9 568.7" stroke="#9c8c90" stroke-width="0.4" opacity="0.7"/>
<path d="M129.9 544.3l0.8 1.1M138.9 548.7l0 0.9M132.8 554.5l0.6 0.9M135.2 552.6l0.7 1.3M138.6 537.4l-0.7 1.2M131.6 551.7l0.5 1.4M127.9 550.7l0.2 0.9M135.5 555.8l0.5 0.7M138.5 551.5l0.8 1.6M127 545.2l0.6 1M128.3 557.5l0.6 1.4M133.8 554.9l0 1.1M128.2 547.7l-0.1 1.3M133.1 552.1l0.8 1M135.8 536.3l0.6 0.9M145 547.6l0.7 0.7M150.6 543.7l-0.7 1.3M144.8 554.4l-0.4 1.3M139.6 546.7l-0.1 0.8M144.2 540.5l-0.4 0.6M139.7 552.1l-0.5 1.4M136.7 540.2l0.7 0.6M145.3 549.6l-0.4 1.6M145.7 544.9l0.1 1.1M148.3 545.5l-0.5 1M140 552.8l-0.8 1.5M148.6 540.5l-0.6 1M151.7 543.2l-0.4 1.4M149 536.8l0 0.7M155.5 537.6l0.2 0.8M144.6 536.6l0.3 1.4M149.7 552.4l-0.7 1.6M148.6 544.2l-0.1 1.3M156 553.7l-0.2 1.4M148 542.7l-0.2 1.1M155.5 550.6l-0.3 0.6M152.2 555.3l0.4 0.6M149.5 551.7l0.3 0.8M150.6 540.9l-0.6 1.5M159.6 536.2l-0.5 1.3M156.4 542.5l0.5 0.9M146 544.9l0.5 1.5" stroke="#d2c2c2" stroke-width="0.7" opacity="0.7"/>
<path d="M138.2 590V572.3" stroke="#9cb068" stroke-width="0.55" opacity="0.85"/>
<path d="M131.7 590V568.4" stroke="#6a9142" stroke-width="0.55" opacity="0.85"/>
<path d="M137.5 590V572" stroke="#7f9f50" stroke-width="0.55" opacity="0.85"/>
<path d="M134.9 590V570.6" stroke="#7f9f50" stroke-width="0.55" opacity="0.85"/>
<path d="M132.5 590V572.3" stroke="#6a9142" stroke-width="0.55" opacity="0.85"/>
<path d="M130.8 590V572.5" stroke="#55843c" stroke-width="0.55" opacity="0.85"/>
<path d="M143.5 590V566.8" stroke="#b8aca4" stroke-width="0.55" opacity="0.85"/>
<path d="M141.4 590V572.3" stroke="#9cb068" stroke-width="0.55" opacity="0.85"/>
<path d="M143 590V565.3" stroke="#55843c" stroke-width="0.55" opacity="0.85"/>
<path d="M146.1 590V573.7" stroke="#7f9f50" stroke-width="0.55" opacity="0.85"/>
<path d="M145.6 590V562.7" stroke="#9cb068" stroke-width="0.55" opacity="0.85"/>
<path d="M145.3 590V572.2" stroke="#6a9142" stroke-width="0.55" opacity="0.85"/>
<path d="M152.3 590V567.3" stroke="#9aa07e" stroke-width="0.55" opacity="0.85"/>
<path d="M152.6 590V571.3" stroke="#55843c" stroke-width="0.55" opacity="0.85"/>
<path d="M149.2 590V572.8" stroke="#55843c" stroke-width="0.55" opacity="0.85"/>
<path d="M152.5 590V563.2" stroke="#9cb068" stroke-width="0.55" opacity="0.85"/>
<path d="M150.8 590V573" stroke="#b8aca4" stroke-width="0.55" opacity="0.85"/>
<path d="M151.9 590V562.3" stroke="#7f9f50" stroke-width="0.55" opacity="0.85"/>
<rect x="128.44" y="587.4" width="30.08" height="2.2" rx="1" fill="#a6aedc" opacity="0.85"/>
</g>
<rect x="118" y="609.3" width="54.8" height="2.2" fill="#030304"/>
<line x1="158.8" y1="603.2" x2="169.8" y2="603.2" stroke="#dcdcdc" stroke-width="1.1"/>
<text class="rb" x="164.3" y="608.9" font-size="5" text-anchor="middle" fill="#f2f2f2">5 cm</text>
</g>
<text class="r" x="148.2" y="621.7" font-size="7.5" text-anchor="middle" fill="#222" word-spacing="1.1">G G1 GG1</text>
<clipPath id="c23"><rect x="177.7" y="531" width="55.1" height="80.5"/></clipPath>
<g clip-path="url(#c23)">
<rect x="177.7" y="531" width="55.1" height="80.5" fill="#040405"/>
<rect x="177.7" y="585.2" width="55.1" height="23.3" fill="url(#lw)"/>
<linearGradient id="g23" gradientUnits="userSpaceOnUse" x1="0" y1="587" x2="0" y2="536"><stop offset="0" stop-color="#6f9650"/><stop offset="0.4" stop-color="#8f9c78"/><stop offset="0.58" stop-color="#c2afb0"/><stop offset="1" stop-color="#b29ca4"/></linearGradient>
<g filter="url(#bl)" fill="none" stroke-linecap="round">
<path d="M193.6 587.5C194.7 593 194.3 598.9 194.9 606.9C195.5 598.9 196 593 197 587.5Z" fill="url(#rg)" stroke="none" opacity="0.6"/>
<path d="M193.6 588Q195.1 595.2 193.6 603.4" stroke="#b4b4cc" stroke-width="0.8" opacity="0.32"/>
<path d="M193.1 588Q192.9 596.9 196.4 606.9" stroke="#b4b4cc" stroke-width="0.7" opacity="0.41"/>
<path d="M194.2 588Q194.8 596 196.8 604.9" stroke="#b4b4cc" stroke-width="0.7" opacity="0.38"/>
<path d="M203 587.5C204 593 203.5 598.8 204.1 606.8C204.7 598.8 205.4 593 206.4 587.5Z" fill="url(#rg)" stroke="none" opacity="0.6"/>
<path d="M206.5 588Q206.5 595.7 204.1 604.4" stroke="#b4b4cc" stroke-width="0.7" opacity="0.4"/>
<path d="M203.6 588Q205.4 595.2 201.7 603.3" stroke="#b4b4cc" stroke-width="0.6" opacity="0.38"/>
<path d="M205.2 588Q207.1 594.7 207.1 602.3" stroke="#b4b4cc" stroke-width="0.7" opacity="0.41"/>
<path d="M212.5 587.5C213.8 593 215.1 599.8 215.7 607.8C216.3 599.8 215.5 593 216.7 587.5Z" fill="url(#rg)" stroke="none" opacity="0.6"/>
<path d="M214.5 588Q215 597.6 215 608.2" stroke="#b4b4cc" stroke-width="0.6" opacity="0.38"/>
<path d="M212.2 588Q211 596.5 213.5 606" stroke="#b4b4cc" stroke-width="0.6" opacity="0.49"/>
<path d="M213.7 588Q214.2 594.9 212.2 602.8" stroke="#b4b4cc" stroke-width="0.4" opacity="0.37"/>
<path d="M201.7 587C201.3 559.3 203.9 550.3 205.6 545.4M215.9 587C215.5 561.9 211.2 546 207.3 537.5" stroke="#438a36" stroke-width="0.4" opacity="0.82"/>
<path d="M215.2 587C215 565.6 217.2 552 218.8 544.7M197 587C197.3 563.9 199.9 547.4 202.2 538.6M205 587C205.3 558.3 206.8 547.6 208.3 541.8" stroke="#57a048" stroke-width="0.5" opacity="0.82"/>
<path d="M217.4 587C217 561.8 217.7 550.8 217.9 544.9M204.5 587C204.3 557.5 205.2 547.9 205.8 542.8M194.3 587C194 564.1 195.7 550.3 196.8 542.9" stroke="#4a923d" stroke-width="0.5" opacity="0.82"/>
<path d="M196.3 587C196.2 566.7 190.3 554.9 185.5 548.5M217.3 587C216.9 561.6 216 545.3 215 536.6M216.5 587C216.3 562.8 215.3 550.1 214.3 543.2" stroke="#4a923d" stroke-width="0.7" opacity="0.82"/>
<path d="M198.3 587C198.1 557.9 198.3 546.1 198.3 539.7M196.7 587C196.4 563.4 195.8 546 195.1 536.6M203.1 587C202.8 559.7 208.4 550.9 212.8 546.2" stroke="#64a651" stroke-width="0.6" opacity="0.82"/>
<path d="M205 587C205.1 561.7 205.9 549.9 206.6 543.6M216.8 587C217.1 559.3 215 544 213.6 535.8M213.2 587C213.1 559.7 214.8 543.8 216.1 535.2" stroke="#33742c" stroke-width="0.7" opacity="0.82"/>
<path d="M217.7 587C217.2 560.3 215.2 550.8 213.2 545.7M195.9 587C195.8 559.4 199.8 548.7 203 542.9" stroke="#438a36" stroke-width="0.5" opacity="0.82"/>
<path d="M203.4 587C203.4 565 205.1 549.6 206.4 541.3M205.2 587C205.2 559.8 199.9 551.7 195.6 547.3" stroke="#33742c" stroke-width="0.5" opacity="0.82"/>
<path d="M193.2 587C193.6 554 194.7 541.5 195.9 534.7" stroke="#438a36" stroke-width="0.6" opacity="0.82"/>
<path d="M193.9 587C194 564.5 195.7 550.4 197.1 542.8M202.7 587C202.4 565.9 198.8 554.5 195.5 548.4M198 587C197.8 562.8 196 548.8 194.3 541.3M207.1 587C207.2 560.6 202.9 548.2 199.4 541.5" stroke="#3e8631" stroke-width="0.6" opacity="0.82"/>
<path d="M192.4 587C192.3 562.7 193.5 545 194.4 535.4M194.7 587C194.5 564.4 191.7 552.9 189.3 546.8" stroke="#57a048" stroke-width="0.6" opacity="0.82"/>
<path d="M201.7 587C201.4 556.2 203.1 546.5 204.3 541.3M216.1 587C216.2 550.4 215 540 214.1 534.5" stroke="#438a36" stroke-width="0.7" opacity="0.82"/>
<path d="M213 587C213.2 560.9 209.3 551 206.4 545.6M216 587C215.5 561.4 214.5 546.6 213.3 538.6M198 587C198.2 567.8 202.2 555.2 205.5 548.4" stroke="#57a048" stroke-width="0.4" opacity="0.82"/>
<path d="M212.9 587C212.6 559.3 216.2 551.3 219 546.9" stroke="#64a651" stroke-width="0.5" opacity="0.82"/>
<path d="M216.3 587C216.7 561.5 214.2 546.1 212.5 537.8M194 587C193.9 563.7 188.6 550.9 184.2 544.1M195.7 587C195.7 562 199.8 548.5 203.2 541.2M197.8 587C198.3 555.9 198.5 544.1 199 537.7M216.3 587C216.7 559.1 221 548.8 224.9 543.3M197.6 587C197.3 561.7 193 550.5 189.3 544.4M215.5 587C215 555.4 217.7 543.8 219.5 537.5M215.5 587C216 565.2 213.9 551.1 212.5 543.5M202.6 587C202.6 565 204.8 552.6 206.7 545.9M195.8 587C195.9 562.6 200.9 551.2 205.1 545" stroke="url(#g23)" stroke-width="0.6" opacity="0.82"/>
<path d="M206.7 587C206.8 554.3 205.1 541.7 203.7 534.9M216.5 587C216.2 557.6 216.5 549 216.5 544.4M214.2 587C213.8 561.1 210.4 548.5 207.3 541.7M201.9 587C202 554.4 202.6 541.9 203.1 535.2M195.6 587C196 561.4 200.6 547.9 204.6 540.6M215.2 587C215.2 558.7 218.3 550.2 220.8 545.6M203.8 587C203.4 567.6 209.9 552.2 214.9 543.9M196.7 587C196.3 558.1 202.3 549 206.9 544.1M216.2 587C216.3 565.9 212.8 550.8 209.9 542.7M212.4 587C212.5 565.4 208.1 553.2 204.6 546.6M194.4 587C194.5 561.2 197.6 549.4 200.2 543.1M195.8 587C196.2 565 193.8 552.4 192.1 545.6M215.3 587C215.1 560.6 212.7 546 210.5 538.1M214.6 587C214.2 562.9 213.7 546.7 212.9 537.9M202 587C202.3 562.4 205.7 548.3 208.7 540.7M192.7 587C193.1 564.9 192.6 550.9 192.5 543.3" stroke="url(#g23)" stroke-width="0.5" opacity="0.82"/>
<path d="M201.9 587C201.5 562.2 202.9 547.7 203.6 539.9M205.4 587C205.2 564.1 208.6 549 211.2 540.8M217 587C216.8 561.7 218.8 550.6 220.3 544.6M202.7 587C202.3 564 203.3 549.2 203.7 541.2M204.4 587C204.1 563.4 204.8 547.3 205.1 538.6M196.2 587C196.4 558.5 195.9 545.5 195.7 538.5" stroke="url(#g23)" stroke-width="0.4" opacity="0.82"/>
<path d="M204 587C203.6 565.6 198.7 549.3 194.3 540.6M205.3 587C205.2 560.2 208.7 547 211.5 539.9M197.7 587C198.1 567.9 193.9 553.9 190.9 546.3M207.6 587C207.6 559.7 210.8 550.4 213.5 545.4M207.6 587C207.9 562.7 202.3 552.3 198 546.7M203.8 587C203.5 566.6 201.8 553.7 200.2 546.8" stroke="url(#g23)" stroke-width="0.7" opacity="0.82"/>
<path d="M215.8 564.1Q227.6 554.5 235.3 578M214.4 560.6Q225.6 551.1 232.9 566.1M214.5 553.4Q228 545.2 237.4 564M206.4 572Q214 567.5 217.6 575.3M215.9 557.9Q227.2 552.2 234.5 576.5M216.3 571.1Q202.9 561.3 193.5 591.2M215.2 554.1Q229.3 548.8 239.4 575.7M204 574.2Q211.5 567 215.1 583.9M205.4 561.7Q192.1 556.7 182.8 570.7M197.2 563.7Q186.5 553.8 179.8 584.9M205.7 571.1Q190.5 565.3 179.2 584.2M214.4 563.2Q201.9 553.2 193.5 584.3M214 560.5Q228.1 551.1 238.2 565.2M206.1 560.6Q214.9 554.4 219.7 566M204.2 572.5Q193 568 185.7 583.8M193.4 557.5Q203.1 553.1 208.9 575M204.9 555.2Q193.2 547.4 185.5 561.1M196 556.3Q183.4 549 174.8 559.4M196.5 567.7Q208.4 563.3 216.3 583.1M203.9 567.7Q195.4 559.5 190.9 577.6M195.1 559.7Q180.4 553.4 169.7 571.2M195.1 568.5Q185.6 561.5 180.1 581.2M215.5 574.8Q224.3 570.4 229.1 576.8M213 560Q227.8 553.6 238.6 562M194.1 563.3Q205.7 554.9 213.3 572.3M196.5 558.7Q185.2 554.3 177.8 565.8M206.6 553.7Q196.8 544.9 191.1 569.8M206.1 557.2Q194.8 548.1 187.6 568.9M204.9 556.7Q192.7 550.5 184.5 569.2M214.6 563.8Q223 556.1 227.5 585.6" stroke="#a89498" stroke-width="0.4" opacity="0.7"/>
<path d="M189.4 542.7l0.4 1M191.6 538.3l-0.4 1M196.3 540l-0.8 1.5M195.4 537.7l-0.8 1.5M190.8 552.9l0 1.1M200.1 552.9l-0.1 0.7M193.4 556.8l0.5 1.5M190.9 546.7l0.8 1.3M193 556.6l-0.1 1M198.2 539.9l-0.1 1.3M191.9 543.3l0.2 1M197.9 551l-0.6 1.5M198 550.2l0.1 0.6M199.1 556.6l-0.5 1.5M202 550.2l-0.7 0.6M198.6 536.4l-0.2 0.7M190.2 540l-0.5 0.7M187.7 550l-0.3 0.7M189.5 551.7l0.7 1.1M193.5 547.9l-0.4 1.2M194.5 552.1l-0.4 1.1M190.9 547.4l-0.5 1.4M190.7 543.1l0.3 0.9M192.7 537.4l0.3 1.6M205.2 557l-0.3 1.2M200.7 552.7l0.4 1.6M199.1 543.6l-0.1 1.6M197.7 551.2l-0.4 1.1M207.6 542.9l0.5 1.5M203.2 557.9l0.7 1M199.1 543.8l0.5 1.1M197.9 548.6l-0.1 1.3M201.3 541.6l-0.5 1.2M205.6 549l-0.3 1.6M197.8 553.3l-0.8 1.3M203.7 548.1l0.7 0.7M202.5 541l-0.1 1M204 538l-0.1 1.1M207.6 549.1l0 0.8M201.4 539.4l0 1.1M211.1 548.5l0.2 1.1M196.8 538.2l-0.3 1.1M205.5 538.4l0.4 0.7M196.9 556.5l0.5 1.2M204.5 536.3l0.3 0.9M204.9 543.8l0.3 1.3M203.2 557.1l0.2 0.8M210 540.6l0.5 1.1M214.6 555.6l-0.1 1.3M222.3 550.4l0.3 1.1M219.4 553.5l-0.5 1.3M210.2 554.6l0.6 1M214 554.8l0.4 0.7M220 548l-0.2 1.3M207.6 555.1l-0.8 1.3M213.7 554.8l0.2 1M215.3 555l-0.6 1.2M210.7 552.6l-0.6 1.4M213.3 555.3l-0.3 1.3M218.3 550.2l0.7 1.1M211 548.3l0.6 1M212 539.3l0.1 1.3M207 538.2l0.1 0.7M210.4 544.3l0.3 1.2M210.3 538.6l0.1 1.4M215.3 544l0.5 0.6M209.1 557.4l-0.4 1M212 544.4l0.7 1.5M219.6 550.4l0.6 0.9M206.6 543.5l-0.2 1.5M210.9 539.4l0.8 1.1M208.8 544.8l0 0.9" stroke="#d2c2c2" stroke-width="0.7" opacity="0.7"/>
<path d="M191.6 588.5V563.8" stroke="#9aa07e" stroke-width="0.55" opacity="0.85"/>
<path d="M195.3 588.5V562.5" stroke="#55843c" stroke-width="0.55" opacity="0.85"/>
<path d="M193.1 588.5V571.1" stroke="#a89c90" stroke-width="0.55" opacity="0.85"/>
<path d="M192.8 588.5V560.6" stroke="#55843c" stroke-width="0.55" opacity="0.85"/>
<path d="M191.8 588.5V563.7" stroke="#6a9142" stroke-width="0.55" opacity="0.85"/>
<path d="M195.8 588.5V563.6" stroke="#b8aca4" stroke-width="0.55" opacity="0.85"/>
<path d="M202.8 588.5V569.5" stroke="#6a9142" stroke-width="0.55" opacity="0.85"/>
<path d="M205.3 588.5V568.3" stroke="#55843c" stroke-width="0.55" opacity="0.85"/>
<path d="M201 588.5V560.1" stroke="#6a9142" stroke-width="0.55" opacity="0.85"/>
<path d="M201.2 588.5V559.5" stroke="#a89c90" stroke-width="0.55" opacity="0.85"/>
<path d="M203.8 588.5V562.7" stroke="#9aa07e" stroke-width="0.55" opacity="0.85"/>
<path d="M203.6 588.5V569" stroke="#9aa07e" stroke-width="0.55" opacity="0.85"/>
<path d="M216.4 588.5V573" stroke="#9aa07e" stroke-width="0.55" opacity="0.85"/>
<path d="M215.8 588.5V562.3" stroke="#b8aca4" stroke-width="0.55" opacity="0.85"/>
<path d="M213.6 588.5V572" stroke="#55843c" stroke-width="0.55" opacity="0.85"/>
<path d="M211.5 588.5V567.1" stroke="#b8aca4" stroke-width="0.55" opacity="0.85"/>
<path d="M216.9 588.5V564" stroke="#6a9142" stroke-width="0.55" opacity="0.85"/>
<path d="M211.4 588.5V562.8" stroke="#55843c" stroke-width="0.55" opacity="0.85"/>
<rect x="189.33" y="585.9" width="31.29" height="2.2" rx="1" fill="#a6aedc" opacity="0.85"/>
</g>
<rect x="177.7" y="609.3" width="55.1" height="2.2" fill="#030304"/>
<line x1="218.8" y1="603.2" x2="229.8" y2="603.2" stroke="#dcdcdc" stroke-width="1.1"/>
<text class="rb" x="224.3" y="608.9" font-size="5" text-anchor="middle" fill="#f2f2f2">5 cm</text>
</g>
<text class="r" x="207.6" y="621.7" font-size="7.5" text-anchor="middle" fill="#222" word-spacing="1.1">G G1 GG1</text>
<clipPath id="c24"><rect x="237.7" y="531" width="55.3" height="80.5"/></clipPath>
<g clip-path="url(#c24)">
<rect x="237.7" y="531" width="55.3" height="80.5" fill="#040405"/>
<rect x="237.7" y="586.3" width="55.3" height="22.2" fill="url(#lw2)"/>
<linearGradient id="g24" gradientUnits="userSpaceOnUse" x1="0" y1="588.1" x2="0" y2="536"><stop offset="0" stop-color="#a09c86"/><stop offset="0.35" stop-color="#bcb0a8"/><stop offset="1" stop-color="#c4b2b6"/></linearGradient>
<g filter="url(#bl)" fill="none" stroke-linecap="round">
<path d="M256.6 588.6C257.9 594.1 257.7 601 258.3 609C258.9 601 259.5 594.1 260.8 588.6Z" fill="url(#rg)" stroke="none" opacity="0.42"/>
<path d="M258.4 589.1Q257.4 595.1 259.8 602" stroke="#b4b4cc" stroke-width="0.7" opacity="0.29"/>
<path d="M260.1 589.1Q261.3 596.5 258.5 604.9" stroke="#b4b4cc" stroke-width="0.7" opacity="0.29"/>
<path d="M258 589.1Q256.1 595.9 258.5 603.6" stroke="#b4b4cc" stroke-width="0.4" opacity="0.3"/>
<path d="M265 588.6C266.2 594.1 265.4 598.9 266 606.9C266.6 598.9 267.8 594.1 269 588.6Z" fill="url(#rg)" stroke="none" opacity="0.42"/>
<path d="M266 589.1Q264.9 596.9 264.5 605.8" stroke="#b4b4cc" stroke-width="0.7" opacity="0.26"/>
<path d="M268.7 589.1Q270.3 596.9 268.9 605.6" stroke="#b4b4cc" stroke-width="0.5" opacity="0.27"/>
<path d="M268.7 589.1Q269.8 595.4 264.7 602.7" stroke="#b4b4cc" stroke-width="0.5" opacity="0.33"/>
<path d="M274.1 588.6C275.1 594.1 275.6 600 276.2 608C276.8 600 276.6 594.1 277.6 588.6Z" fill="url(#rg)" stroke="none" opacity="0.42"/>
<path d="M276.2 589.1Q277.3 597.2 277.5 606.2" stroke="#b4b4cc" stroke-width="0.5" opacity="0.26"/>
<path d="M278.2 589.1Q276.4 596.2 277.5 604.3" stroke="#b4b4cc" stroke-width="0.8" opacity="0.35"/>
<path d="M274.8 589.1Q274.1 597.4 274.7 606.8" stroke="#b4b4cc" stroke-width="0.6" opacity="0.27"/>
<path d="M269.8 588.1C269.6 559.1 263.5 547.6 258.4 541.4" stroke="#438a36" stroke-width="0.5" opacity="0.82"/>
<path d="M273.4 588.1C273.1 564.7 277.5 548.2 280.8 539.3" stroke="#64a651" stroke-width="0.6" opacity="0.82"/>
<path d="M278.4 588.1C278.4 564.4 270.8 551.3 264.5 544.2" stroke="#4a923d" stroke-width="0.6" opacity="0.82"/>
<path d="M267.3 588.1C267.2 566.8 262.8 551.3 259.2 543" stroke="#57a048" stroke-width="0.6" opacity="0.82"/>
<path d="M267 588.1C266.5 562.9 271.6 550 275.5 543.1" stroke="#3e8631" stroke-width="0.6" opacity="0.82"/>
<path d="M274.6 588.1C274.6 560.7 278.9 548.8 282.4 542.3" stroke="#64a651" stroke-width="0.5" opacity="0.82"/>
<path d="M275.9 588.1C275.4 566.6 271.7 554.2 268.4 547.5M275.6 588.1C275.4 563.5 273.9 550.5 272.5 543.6" stroke="#4a923d" stroke-width="0.5" opacity="0.82"/>
<path d="M257.3 588.1C257.7 564 264.8 553.1 271 547.2" stroke="#57a048" stroke-width="0.5" opacity="0.82"/>
<path d="M272.8 588.1C273 557.5 277.6 548 281.6 542.9" stroke="#438a36" stroke-width="0.6" opacity="0.82"/>
<path d="M267.2 588.1C266.8 564.1 267 547.2 266.9 538.2M268.6 588.1C268.5 552.6 269.2 541.9 269.6 536.2M261.4 588.1C261.3 558.3 263.1 548.1 264.5 542.6M257.9 588.1C258.2 561 265.2 548.8 271.2 542.3M258.4 588.1C258.6 567 262 550.7 264.9 541.9M260.9 588.1C261.1 552.7 261 542.5 261.1 537M268 588.1C268 564.3 272.3 553.7 275.8 548M264.6 588.1C265.1 562 266.4 550.2 267.8 543.8M273.9 588.1C273.6 561.9 280.4 549.3 285.8 542.5M273.5 588.1C273.4 564.4 271.8 551.2 270.3 544.1M255.9 588.1C256.3 559.6 257.1 547.7 258.1 541.3M258.9 588.1C259.2 558.1 257.4 547 256.2 541.1M276.2 588.1C275.8 560.4 272.7 550.1 269.8 544.6M259.5 588.1C259.4 563.5 254.2 547.5 249.9 538.9M274.7 588.1C274.8 564.4 274 550.3 273.3 542.7M259 588.1C258.7 557.5 259.3 543.2 259.5 535.6M266.6 588.1C266.2 563.9 267.1 545.1 267.6 535M274.1 588.1C274.4 567.6 281 552.1 286.6 543.7M259.2 588.1C258.8 554.9 260.5 544 261.6 538.1" stroke="url(#g24)" stroke-width="0.5" opacity="0.82"/>
<path d="M257.1 588.1C257.3 560.1 256.6 549.6 256.1 544M274.4 588.1C274.6 565.6 278.9 548 282.6 538.5M260.3 588.1C260.3 560.7 259.8 549 259.3 542.7M268.1 588.1C268.4 559.9 274.3 550.8 279.4 545.9M266.1 588.1C266.5 560.3 259.9 547.1 254.9 539.9M275.7 588.1C276.1 562.8 280.7 549.1 284.8 541.7M267 588.1C266.7 567.5 273.3 552.1 278.4 543.7M275.8 588.1C276.2 560.3 280.9 547.2 285 540.2" stroke="url(#g24)" stroke-width="0.7" opacity="0.82"/>
<path d="M266.2 588.1C265.9 557.2 264.2 547.3 262.5 542M256.9 588.1C256.8 562.8 259.6 549.7 261.8 542.6M257.8 588.1C257.4 556.3 261.1 545.3 263.7 539.3M278.7 588.1C278.3 564.4 273.4 550.1 269.1 542.3M275.6 588.1C276.1 561.8 269.5 548.6 264.4 541.4M258.4 588.1C258.6 554.7 260.3 542.3 261.8 535.7M263.9 588.1C263.5 554.3 269.4 543.2 274 537.2M255.9 588.1C255.4 569.3 261.3 555 265.7 547.3M267.9 588.1C267.9 553.8 267.7 543.9 267.6 538.5M258.9 588.1C258.9 566 256.9 549.8 255.3 541.1M274.9 588.1C275.3 561.6 281.1 551.8 286.2 546.5M267.2 588.1C267.1 557.7 265.1 544.7 263.4 537.7M277.9 588.1C277.7 557 273.7 544.7 270.3 538.1M260.6 588.1C261 557.6 258.7 547 257.2 541.2M266.8 588.1C267 564.2 263.4 547 260.7 537.7M258.6 588.1C258.1 561.5 261.2 551.4 263.3 546.1M276.7 588.1C276.8 562.9 281.6 548.1 285.7 540.2M263.9 588.1C264.4 560.6 264.7 544.7 265.3 536.1M269.4 588.1C269.6 561.2 261.2 551.8 254.5 546.8M276.4 588.1C276.1 565.6 272.5 549.9 269.3 541.5M264.3 588.1C264.5 566.9 259.7 552.6 256 544.8M265.4 588.1C265.2 565.1 268.9 552.7 271.8 546M277.7 588.1C277.6 561.9 277.8 547.8 277.8 540.2" stroke="url(#g24)" stroke-width="0.6" opacity="0.82"/>
<path d="M258.4 588.1C258.5 566.3 258.5 550.7 258.5 542.3M264.9 588.1C264.8 564.3 259.8 549.2 255.7 541.1M260.9 588.1C260.6 567.8 256.5 553.3 252.9 545.6M261.8 588.1C262.1 561.2 258.6 549.9 255.9 543.8M266.6 588.1C266.1 560.8 264.4 548.8 262.7 542.3M267.8 588.1C268.2 565.2 272 550.8 275.5 543M260.1 588.1C259.8 559.6 255.8 550 252.3 544.8M274.1 588.1C274.5 564 271.2 552 268.8 545.6M256 588.1C255.5 560.3 256.7 548.4 257.4 542M267.7 588.1C267.2 555.1 268.5 542.2 269.2 535.3M276.7 588.1C276.9 566.7 271.4 551.2 267.1 542.9M273.2 588.1C273.2 563.2 271.9 547.9 270.8 539.7" stroke="url(#g24)" stroke-width="0.4" opacity="0.82"/>
<path d="M277.2 576Q267.5 570.7 261.7 578.2M257.7 562.6Q270.9 554.7 280.1 570.8M276.7 568.5Q283.4 562.7 286.1 577.7M259.3 555.2Q272.6 551.1 282 560.2M258 561.9Q247.6 554 241.2 566.6M267.5 572.7Q281.5 564.5 291.5 588.2M260.4 556.3Q250.5 547.1 244.6 560.8M275.5 567.5Q261.1 562.7 250.7 582.3M267.7 572Q279.5 563.7 287.2 577M266 567.1Q273.9 559.7 277.7 578.7M266.4 571.5Q276.8 563.1 283.2 591.5M266.1 556.2Q276 548.6 282 574.1M260.1 575.9Q269.5 567.6 275 595.2M266.6 570.7Q280.5 561.7 290.4 573.4M258.8 559.6Q273.4 554.8 284.1 571.4M258.2 559.8Q272.3 554.3 282.4 571.1M265 562.8Q255.9 553.7 250.7 581.6M267.9 566.2Q277.5 557 283.2 576.3M277.1 558.4Q266.9 553 260.8 566.4M258.9 564.3Q268.1 559.9 273.3 581.4M268 567.1Q256.7 562.2 249.4 585.6M260 570.7Q266.6 566.4 269.2 591.5M258.6 571.3Q269.3 561.9 276 585.8M276.2 562.5Q264.3 554.1 256.4 576.5M268.1 572.5Q254.6 565.5 245 587.7M257.9 558.1Q250.9 549.4 247.8 567.2M257.1 556.5Q245.6 551.4 238 566.9M257.7 565Q273.1 556.9 284.4 580M267.4 565Q253.6 560 243.8 578.5M275 571.3Q260.9 563.8 250.9 584.6M274.6 563.7Q288.1 558.2 297.6 573.8M266.8 563.7Q257.4 555.3 252 575.6M267.2 555.6Q275.3 546.5 279.3 561.1M276 567.7Q262.2 558.1 252.4 587.5M268.4 556.8Q280.8 546.9 289.3 560.7M258.6 572.7Q245.2 566.9 235.8 594.4M267.2 565.1Q274.5 560 277.8 573.9M276 568.5Q289.9 561.2 299.8 579.9M258.6 575.3Q248.5 566.1 242.5 590.4M275.1 573Q267.5 568 264 588.4M259.4 571Q252.1 562.3 248.7 587.9M267.8 561.4Q277.7 555.2 283.5 578.1M275.3 566.4Q260.9 557 250.4 571.9M257 569.2Q271.4 561.5 281.8 573.1M267.9 565.4Q276.6 557.4 281.3 576.8M275.5 558.9Q268 552.8 264.5 579.9M266.9 569.7Q252 560.8 241.1 586.6M257 555.8Q265.6 547.8 270.1 558.5M277.3 574.8Q285.9 568.2 290.5 592.7M268.4 572.2Q259.6 563 254.8 588.9" stroke="#b0a0a0" stroke-width="0.4" opacity="0.7"/>
<path d="M250 551l0.2 0.8M252.9 547.3l0.6 1.4M254.1 552.9l0.1 0.7M262.8 543.6l0.5 1.4M250.4 549.9l0.5 1M253.8 542.4l-0.4 1M258.6 549.3l-0.5 1M252.7 548.3l0.4 1.2M264.4 547.1l-0.8 0.7M252.6 543l0.3 0.9M260.6 552.9l0.1 1.3M258.8 551.5l0.5 0.7M266.4 546.2l0.7 1.3M251.1 536.6l-0.6 0.7M259.9 544.2l0.7 1.3M255.7 553.3l0.1 1.6M265.5 544.7l-0.4 0.6M250.4 547l0.8 1M251.4 555.4l0.7 1.1M256.5 553.9l-0.2 1.1M264.6 550.3l-0.1 1M266.4 536.5l0.2 1M251.3 550.8l0 1.4M258.5 555l0.7 0.7M254.5 546.7l-0.1 1.5M261.8 551.6l0.4 0.8M254.3 549l0.1 1M260.8 552.9l-0.5 1M257 548.1l0.3 1.4M260.1 540l0 1.3M251.3 544.5l-0.5 0.7M263.7 536.1l-0.4 0.7M273.2 551.9l0.3 1.1M274.4 552.8l0 1.3M275.5 546.7l-0.2 1.5M268 538.8l-0.5 1M267.6 557.7l-0.1 1.5M271.1 556l0.1 1.6M267.9 555.9l0.3 0.9M266.9 541.6l0.1 1M275.9 554.1l-0.4 0.8M273.1 545.4l-0.6 1.3M267.7 548.3l0.6 1.1M270.3 548.5l0.1 1.4M276 540l0 0.6M273.9 537.9l0.3 1.4M272.5 546l0.5 1.1M263.9 548.3l-0.1 1.3M258.4 551.7l-0.7 0.9M274.4 545.5l-0.6 0.6M270 542.4l-0.7 0.8M268 554l-0.6 1.4M260.2 547.3l-0.1 0.9M262.3 540.9l0.5 1.3M269.9 543.1l-0.2 1.2M274 540l0.2 1.4M271.3 557.7l-0.5 1M260.4 538.6l0.7 1.2M267.4 540l0.3 1.1M271.6 539.6l0.3 0.8M275.4 556.5l0.5 0.9M268.9 550.5l0.5 1.6M271.3 555.2l-0.7 1.5M259 547l0.7 1M275.2 544.1l0.5 1.4M278.6 550.1l0.8 0.7M273.5 542.8l0.6 1.2M283.6 549.8l-0.1 0.7M275 549.1l0.7 1.4M274.2 537.9l0.2 1.1M281.5 549.7l0.4 1.5M280.4 537.9l-0.8 1.3M282.7 554l0.8 0.8M275.9 549l0.5 1.1M277.8 547.7l0.4 1.4M281.1 543.9l-0.2 1.5M271.4 544.7l-0.6 0.7M280.9 553.1l-0.1 0.8M267.5 551.2l0.8 1.1M273.4 546.1l0.4 1.4M275.3 551.1l0.1 1.3M275.9 555.2l0.7 0.8M283.4 540.3l-0.1 0.6M278.4 541l0.2 1.5M284.7 553.8l0.7 1.4M273.8 546.1l-0.6 1.4M276.2 545.9l-0.6 1M284 553l0.3 1.2M267.1 557.5l0.6 1.5M273.4 551.9l-0.7 1.4M277.4 545.4l-0.3 1.2M269 556l0.3 1M267.8 550.1l0.6 1.1M267.8 557.6l-0.2 1.4M276.1 548.6l-0.6 1.3M270.1 541.4l-0.3 1.3" stroke="#d2c2c2" stroke-width="0.7" opacity="0.7"/>
<path d="M257 589.6V564.6" stroke="#b8aca4" stroke-width="0.55" opacity="0.85"/>
<path d="M259.1 589.6V564.9" stroke="#a89c90" stroke-width="0.55" opacity="0.85"/>
<path d="M257.6 589.6V564.4" stroke="#9cb068" stroke-width="0.55" opacity="0.85"/>
<path d="M258.2 589.6V570.4" stroke="#a89c90" stroke-width="0.55" opacity="0.85"/>
<path d="M257.7 589.6V566.1" stroke="#9aa07e" stroke-width="0.55" opacity="0.85"/>
<path d="M255.7 589.6V562.1" stroke="#a89c90" stroke-width="0.55" opacity="0.85"/>
<path d="M267.7 589.6V572.9" stroke="#9aa07e" stroke-width="0.55" opacity="0.85"/>
<path d="M267.8 589.6V565.8" stroke="#b8aca4" stroke-width="0.55" opacity="0.85"/>
<path d="M263.8 589.6V562.5" stroke="#7f9f50" stroke-width="0.55" opacity="0.85"/>
<path d="M267.6 589.6V568" stroke="#9aa07e" stroke-width="0.55" opacity="0.85"/>
<path d="M268.9 589.6V562.7" stroke="#b8aca4" stroke-width="0.55" opacity="0.85"/>
<path d="M264.7 589.6V571.7" stroke="#b8aca4" stroke-width="0.55" opacity="0.85"/>
<path d="M276.2 589.6V568.6" stroke="#9aa07e" stroke-width="0.55" opacity="0.85"/>
<path d="M273.3 589.6V570.5" stroke="#a89c90" stroke-width="0.55" opacity="0.85"/>
<path d="M275.4 589.6V562.1" stroke="#b8aca4" stroke-width="0.55" opacity="0.85"/>
<path d="M272.7 589.6V568.4" stroke="#b8aca4" stroke-width="0.55" opacity="0.85"/>
<path d="M279.5 589.6V568" stroke="#a89c90" stroke-width="0.55" opacity="0.85"/>
<path d="M274.5 589.6V563.1" stroke="#b8aca4" stroke-width="0.55" opacity="0.85"/>
<rect x="252.71" y="587" width="29.14" height="2.2" rx="1" fill="#a6aedc" opacity="0.85"/>
</g>
<rect x="237.7" y="609.3" width="55.3" height="2.2" fill="#030304"/>
<line x1="279" y1="603.2" x2="290" y2="603.2" stroke="#dcdcdc" stroke-width="1.1"/>
<text class="rb" x="284.5" y="608.9" font-size="5" text-anchor="middle" fill="#f2f2f2">5 cm</text>
</g>
<text class="r" x="267.2" y="621.7" font-size="7.5" text-anchor="middle" fill="#222" word-spacing="1.1">G G1 GG1</text>
<line x1="321.9" y1="44.3" x2="321.9" y2="120.5" stroke="#555" stroke-width="1.1"/>
<line x1="321.9" y1="120.5" x2="437.7" y2="120.5" stroke="#333" stroke-width="1.2"/>
<line x1="320.1" y1="120.5" x2="321.9" y2="120.5" stroke="#333" stroke-width="0.6"/>
<text class="sb" x="318.9" y="122.5" font-size="5.7" text-anchor="end" fill="#222">0.0</text>
<line x1="320.1" y1="101.45" x2="321.9" y2="101.45" stroke="#333" stroke-width="0.6"/>
<text class="sb" x="318.9" y="103.45" font-size="5.7" text-anchor="end" fill="#222">0.2</text>
<line x1="320.1" y1="82.4" x2="321.9" y2="82.4" stroke="#333" stroke-width="0.6"/>
<text class="sb" x="318.9" y="84.4" font-size="5.7" text-anchor="end" fill="#222">0.4</text>
<line x1="320.1" y1="63.35" x2="321.9" y2="63.35" stroke="#333" stroke-width="0.6"/>
<text class="sb" x="318.9" y="65.35" font-size="5.7" text-anchor="end" fill="#222">0.6</text>
<line x1="320.1" y1="44.3" x2="321.9" y2="44.3" stroke="#333" stroke-width="0.6"/>
<text class="sb" x="318.9" y="46.3" font-size="5.7" text-anchor="end" fill="#222">0.8</text>
<line x1="335.17" y1="120.5" x2="335.17" y2="122.3" stroke="#333" stroke-width="0.6"/>
<text class="s" x="335.17" y="128.6" font-size="5.8" text-anchor="middle" fill="#111" stroke="#111" stroke-width="0.15">0</text>
<rect x="323.8" y="99.55" width="6.3" height="20.95" fill="#d6d6d6"/>
<path d="M326.95 99.55V97.64M325.35 97.64H328.55" stroke="#c0c0c0" stroke-width="0.7" fill="none"/>
<text class="s" x="326.95" y="95.34" font-size="6.4" text-anchor="middle" fill="#111" stroke="#111" stroke-width="0.12">a</text>
<rect x="332.02" y="108.12" width="6.3" height="12.38" fill="#a3a3a3"/>
<path d="M335.17 108.12V106.21M333.57 106.21H336.77" stroke="#8d8d8d" stroke-width="0.7" fill="none"/>
<text class="s" x="335.17" y="103.91" font-size="6.4" text-anchor="middle" fill="#111" stroke="#111" stroke-width="0.12">a</text>
<rect x="340.24" y="99.07" width="6.3" height="21.43" fill="#2e2e2e"/>
<path d="M343.39 99.07V96.69M341.79 96.69H344.99" stroke="#222" stroke-width="0.7" fill="none"/>
<text class="s" x="343.39" y="94.39" font-size="6.4" text-anchor="middle" fill="#111" stroke="#111" stroke-width="0.12">a</text>
<line x1="365.17" y1="120.5" x2="365.17" y2="122.3" stroke="#333" stroke-width="0.6"/>
<text class="s" x="365.17" y="128.6" font-size="5.8" text-anchor="middle" fill="#111" stroke="#111" stroke-width="0.15">8</text>
<rect x="353.8" y="91.93" width="6.3" height="28.57" fill="#d6d6d6"/>
<path d="M356.95 91.93V89.07M355.35 89.07H358.55" stroke="#c0c0c0" stroke-width="0.7" fill="none"/>
<text class="s" x="356.95" y="86.77" font-size="6.4" text-anchor="middle" fill="#111" stroke="#111" stroke-width="0.12">a</text>
<rect x="362.02" y="101.45" width="6.3" height="19.05" fill="#a3a3a3"/>
<path d="M365.17 101.45V97.64M363.57 97.64H366.77" stroke="#8d8d8d" stroke-width="0.7" fill="none"/>
<text class="s" x="365.17" y="95.34" font-size="6.4" text-anchor="middle" fill="#111" stroke="#111" stroke-width="0.12">b</text>
<rect x="370.24" y="94.31" width="6.3" height="26.19" fill="#2e2e2e"/>
<path d="M373.39 94.31V90.5M371.79 90.5H374.99" stroke="#222" stroke-width="0.7" fill="none"/>
<text class="s" x="373.39" y="88.2" font-size="6.4" text-anchor="middle" fill="#111" stroke="#111" stroke-width="0.12">b</text>
<line x1="395.17" y1="120.5" x2="395.17" y2="122.3" stroke="#333" stroke-width="0.6"/>
<text class="s" x="395.17" y="128.6" font-size="5.8" text-anchor="middle" fill="#111" stroke="#111" stroke-width="0.15">12</text>
<rect x="383.8" y="89.07" width="6.3" height="31.43" fill="#d6d6d6"/>
<path d="M386.95 89.07V85.26M385.35 85.26H388.55" stroke="#c0c0c0" stroke-width="0.7" fill="none"/>
<text class="s" x="386.95" y="82.96" font-size="6.4" text-anchor="middle" fill="#111" stroke="#111" stroke-width="0.12">a</text>
<rect x="392.02" y="103.36" width="6.3" height="17.14" fill="#a3a3a3"/>
<path d="M395.17 103.36V100.5M393.57 100.5H396.77" stroke="#8d8d8d" stroke-width="0.7" fill="none"/>
<text class="s" x="395.17" y="98.2" font-size="6.4" text-anchor="middle" fill="#111" stroke="#111" stroke-width="0.12">b</text>
<rect x="400.24" y="94.21" width="6.3" height="26.29" fill="#2e2e2e"/>
<path d="M403.39 94.21V87.54M401.79 87.54H404.99" stroke="#222" stroke-width="0.7" fill="none"/>
<text class="s" x="403.39" y="85.24" font-size="6.4" text-anchor="middle" fill="#111" stroke="#111" stroke-width="0.12">b</text>
<line x1="425.17" y1="120.5" x2="425.17" y2="122.3" stroke="#333" stroke-width="0.6"/>
<text class="s" x="425.97" y="128.6" font-size="5.8" text-anchor="middle" fill="#111" stroke="#111" stroke-width="0.15">14+rewater 7d</text>
<rect x="413.8" y="82.4" width="6.3" height="38.1" fill="#d6d6d6"/>
<path d="M416.95 82.4V77.64M415.35 77.64H418.55" stroke="#c0c0c0" stroke-width="0.7" fill="none"/>
<text class="s" x="416.95" y="75.34" font-size="6.4" text-anchor="middle" fill="#111" stroke="#111" stroke-width="0.12">b</text>
<rect x="422.02" y="104.69" width="6.3" height="15.81" fill="#a3a3a3"/>
<path d="M425.17 104.69V101.83M423.57 101.83H426.77" stroke="#8d8d8d" stroke-width="0.7" fill="none"/>
<text class="s" x="425.17" y="99.53" font-size="6.4" text-anchor="middle" fill="#111" stroke="#111" stroke-width="0.12">c</text>
<rect x="430.24" y="72.88" width="6.3" height="47.62" fill="#2e2e2e"/>
<path d="M433.39 72.88V64.3M431.79 64.3H434.99" stroke="#222" stroke-width="0.7" fill="none"/>
<text class="s" x="433.39" y="62" font-size="6.4" text-anchor="middle" fill="#111" stroke="#111" stroke-width="0.12">a</text>
<text transform="translate(307.5 82.8) rotate(-90)" font-family='"Liberation Sans", Arial, sans-serif' font-size="6.5" font-weight="bold" text-anchor="middle" fill="#000" stroke="#000" stroke-width="0.2">Fresh Weight(g)</text>
<text class="sb" x="379.7" y="140.2" font-size="6.2" text-anchor="middle" fill="#111" stroke="#111" stroke-width="0.15">NaCl(days)</text>
<rect x="444.8" y="47.05" width="8.8" height="4.3" fill="#d6d6d6"/>
<text class="s" x="458.2" y="51.4" font-size="6.3" fill="#111" stroke="#111" stroke-width="0.15">D</text>
<rect x="444.8" y="57.4" width="8.8" height="4.3" fill="#a3a3a3"/>
<text class="s" x="458.2" y="61.75" font-size="6.3" fill="#111" stroke="#111" stroke-width="0.15">B1</text>
<rect x="444.8" y="67.75" width="8.8" height="4.3" fill="#2e2e2e"/>
<text class="s" x="458.2" y="72.1" font-size="6.3" fill="#111" stroke="#111" stroke-width="0.15">DB1</text>
<line x1="321.9" y1="134.2" x2="321.9" y2="211" stroke="#555" stroke-width="1.1"/>
<line x1="321.9" y1="211" x2="437.7" y2="211" stroke="#333" stroke-width="1.2"/>
<line x1="320.1" y1="211" x2="321.9" y2="211" stroke="#333" stroke-width="0.6"/>
<text class="sb" x="318.9" y="213" font-size="5.7" text-anchor="end" fill="#222">0.0</text>
<line x1="320.1" y1="191.8" x2="321.9" y2="191.8" stroke="#333" stroke-width="0.6"/>
<text class="sb" x="318.9" y="193.8" font-size="5.7" text-anchor="end" fill="#222">0.1</text>
<line x1="320.1" y1="172.6" x2="321.9" y2="172.6" stroke="#333" stroke-width="0.6"/>
<text class="sb" x="318.9" y="174.6" font-size="5.7" text-anchor="end" fill="#222">0.2</text>
<line x1="320.1" y1="153.4" x2="321.9" y2="153.4" stroke="#333" stroke-width="0.6"/>
<text class="sb" x="318.9" y="155.4" font-size="5.7" text-anchor="end" fill="#222">0.3</text>
<line x1="320.1" y1="134.2" x2="321.9" y2="134.2" stroke="#333" stroke-width="0.6"/>
<text class="sb" x="318.9" y="136.2" font-size="5.7" text-anchor="end" fill="#222">0.4</text>
<line x1="335.17" y1="211" x2="335.17" y2="212.8" stroke="#333" stroke-width="0.6"/>
<text class="s" x="335.17" y="219.1" font-size="5.8" text-anchor="middle" fill="#111" stroke="#111" stroke-width="0.15">0</text>
<rect x="323.8" y="184.12" width="6.3" height="26.88" fill="#d6d6d6"/>
<path d="M326.95 184.12V180.28M325.35 180.28H328.55" stroke="#c0c0c0" stroke-width="0.7" fill="none"/>
<text class="s" x="326.95" y="177.98" font-size="6.4" text-anchor="middle" fill="#111" stroke="#111" stroke-width="0.12">a</text>
<rect x="332.02" y="181.24" width="6.3" height="29.76" fill="#a3a3a3"/>
<path d="M335.17 181.24V176.44M333.57 176.44H336.77" stroke="#8d8d8d" stroke-width="0.7" fill="none"/>
<text class="s" x="335.17" y="174.14" font-size="6.4" text-anchor="middle" fill="#111" stroke="#111" stroke-width="0.12">a</text>
<rect x="340.24" y="182.2" width="6.3" height="28.8" fill="#2e2e2e"/>
<path d="M343.39 182.2V178.36M341.79 178.36H344.99" stroke="#222" stroke-width="0.7" fill="none"/>
<text class="s" x="343.39" y="176.06" font-size="6.4" text-anchor="middle" fill="#111" stroke="#111" stroke-width="0.12">a</text>
<line x1="365.17" y1="211" x2="365.17" y2="212.8" stroke="#333" stroke-width="0.6"/>
<text class="s" x="365.17" y="219.1" font-size="5.8" text-anchor="middle" fill="#111" stroke="#111" stroke-width="0.15">8</text>
<rect x="353.8" y="170.68" width="6.3" height="40.32" fill="#d6d6d6"/>
<path d="M356.95 170.68V167.8M355.35 167.8H358.55" stroke="#c0c0c0" stroke-width="0.7" fill="none"/>
<text class="s" x="356.95" y="165.5" font-size="6.4" text-anchor="middle" fill="#111" stroke="#111" stroke-width="0.12">ab</text>
<rect x="362.02" y="172.6" width="6.3" height="38.4" fill="#a3a3a3"/>
<path d="M365.17 172.6V167.8M363.57 167.8H366.77" stroke="#8d8d8d" stroke-width="0.7" fill="none"/>
<text class="s" x="365.17" y="165.5" font-size="6.4" text-anchor="middle" fill="#111" stroke="#111" stroke-width="0.12">b</text>
<rect x="370.24" y="164.92" width="6.3" height="46.08" fill="#2e2e2e"/>
<path d="M373.39 164.92V161.08M371.79 161.08H374.99" stroke="#222" stroke-width="0.7" fill="none"/>
<text class="s" x="373.39" y="158.78" font-size="6.4" text-anchor="middle" fill="#111" stroke="#111" stroke-width="0.12">a</text>
<line x1="395.17" y1="211" x2="395.17" y2="212.8" stroke="#333" stroke-width="0.6"/>
<text class="s" x="395.17" y="219.1" font-size="5.8" text-anchor="middle" fill="#111" stroke="#111" stroke-width="0.15">12</text>
<rect x="383.8" y="163" width="6.3" height="48" fill="#d6d6d6"/>
<path d="M386.95 163V159.16M385.35 159.16H388.55" stroke="#c0c0c0" stroke-width="0.7" fill="none"/>
<text class="s" x="386.95" y="156.86" font-size="6.4" text-anchor="middle" fill="#111" stroke="#111" stroke-width="0.12">b</text>
<rect x="392.02" y="175.48" width="6.3" height="35.52" fill="#a3a3a3"/>
<path d="M395.17 175.48V171.64M393.57 171.64H396.77" stroke="#8d8d8d" stroke-width="0.7" fill="none"/>
<text class="s" x="395.17" y="169.34" font-size="6.4" text-anchor="middle" fill="#111" stroke="#111" stroke-width="0.12">c</text>
<rect x="400.24" y="155.32" width="6.3" height="55.68" fill="#2e2e2e"/>
<path d="M403.39 155.32V149.56M401.79 149.56H404.99" stroke="#222" stroke-width="0.7" fill="none"/>
<text class="s" x="403.39" y="147.26" font-size="6.4" text-anchor="middle" fill="#111" stroke="#111" stroke-width="0.12">a</text>
<line x1="425.17" y1="211" x2="425.17" y2="212.8" stroke="#333" stroke-width="0.6"/>
<text class="s" x="425.97" y="219.1" font-size="5.8" text-anchor="middle" fill="#111" stroke="#111" stroke-width="0.15">14+rewater 7d</text>
<rect x="413.8" y="177.4" width="6.3" height="33.6" fill="#d6d6d6"/>
<path d="M416.95 177.4V174.52M415.35 174.52H418.55" stroke="#c0c0c0" stroke-width="0.7" fill="none"/>
<text class="s" x="416.95" y="172.22" font-size="6.4" text-anchor="middle" fill="#111" stroke="#111" stroke-width="0.12">b</text>
<rect x="422.02" y="187" width="6.3" height="24" fill="#a3a3a3"/>
<path d="M425.17 187V185.08M423.57 185.08H426.77" stroke="#8d8d8d" stroke-width="0.7" fill="none"/>
<text class="s" x="425.17" y="182.78" font-size="6.4" text-anchor="middle" fill="#111" stroke="#111" stroke-width="0.12">c</text>
<rect x="430.24" y="151.48" width="6.3" height="59.52" fill="#2e2e2e"/>
<path d="M433.39 151.48V149.56M431.79 149.56H434.99" stroke="#222" stroke-width="0.7" fill="none"/>
<text class="s" x="433.39" y="147.26" font-size="6.4" text-anchor="middle" fill="#111" stroke="#111" stroke-width="0.12">a</text>
<text transform="translate(307.5 173) rotate(-90)" font-family='"Liberation Sans", Arial, sans-serif' font-size="6.5" font-weight="bold" text-anchor="middle" fill="#000" stroke="#000" stroke-width="0.2">Fresh Weight(g)</text>
<text class="sb" x="379.7" y="230.5" font-size="6.2" text-anchor="middle" fill="#111" stroke="#111" stroke-width="0.15">NaCl(days)</text>
<rect x="444.8" y="137.05" width="8.8" height="4.3" fill="#d6d6d6"/>
<text class="s" x="458.2" y="141.4" font-size="6.3" fill="#111" stroke="#111" stroke-width="0.15">B</text>
<rect x="444.8" y="147.4" width="8.8" height="4.3" fill="#a3a3a3"/>
<text class="s" x="458.2" y="151.75" font-size="6.3" fill="#111" stroke="#111" stroke-width="0.15">B1</text>
<rect x="444.8" y="157.75" width="8.8" height="4.3" fill="#2e2e2e"/>
<text class="s" x="458.2" y="162.1" font-size="6.3" fill="#111" stroke="#111" stroke-width="0.15">BB1</text>
<line x1="321.9" y1="223.2" x2="321.9" y2="301" stroke="#555" stroke-width="1.1"/>
<line x1="321.9" y1="301" x2="437.7" y2="301" stroke="#333" stroke-width="1.2"/>
<line x1="320.1" y1="301" x2="321.9" y2="301" stroke="#333" stroke-width="0.6"/>
<text class="sb" x="318.9" y="303" font-size="5.7" text-anchor="end" fill="#222">0.0</text>
<line x1="320.1" y1="281.55" x2="321.9" y2="281.55" stroke="#333" stroke-width="0.6"/>
<text class="sb" x="318.9" y="283.55" font-size="5.7" text-anchor="end" fill="#222">0.1</text>
<line x1="320.1" y1="262.1" x2="321.9" y2="262.1" stroke="#333" stroke-width="0.6"/>
<text class="sb" x="318.9" y="264.1" font-size="5.7" text-anchor="end" fill="#222">0.2</text>
<line x1="320.1" y1="242.65" x2="321.9" y2="242.65" stroke="#333" stroke-width="0.6"/>
<text class="sb" x="318.9" y="244.65" font-size="5.7" text-anchor="end" fill="#222">0.3</text>
<line x1="320.1" y1="223.2" x2="321.9" y2="223.2" stroke="#333" stroke-width="0.6"/>
<text class="sb" x="318.9" y="225.2" font-size="5.7" text-anchor="end" fill="#222">0.4</text>
<line x1="335.17" y1="301" x2="335.17" y2="302.8" stroke="#333" stroke-width="0.6"/>
<text class="s" x="335.17" y="309.1" font-size="5.8" text-anchor="middle" fill="#111" stroke="#111" stroke-width="0.15">0</text>
<rect x="323.8" y="266.96" width="6.3" height="34.04" fill="#d6d6d6"/>
<path d="M326.95 266.96V265.02M325.35 265.02H328.55" stroke="#c0c0c0" stroke-width="0.7" fill="none"/>
<text class="s" x="326.95" y="262.72" font-size="6.4" text-anchor="middle" fill="#111" stroke="#111" stroke-width="0.12">a</text>
<rect x="332.02" y="265.02" width="6.3" height="35.98" fill="#a3a3a3"/>
<path d="M335.17 265.02V257.24M333.57 257.24H336.77" stroke="#8d8d8d" stroke-width="0.7" fill="none"/>
<text class="s" x="335.17" y="254.94" font-size="6.4" text-anchor="middle" fill="#111" stroke="#111" stroke-width="0.12">a</text>
<rect x="340.24" y="263.07" width="6.3" height="37.93" fill="#2e2e2e"/>
<path d="M343.39 263.07V261.13M341.79 261.13H344.99" stroke="#222" stroke-width="0.7" fill="none"/>
<text class="s" x="343.39" y="258.83" font-size="6.4" text-anchor="middle" fill="#111" stroke="#111" stroke-width="0.12">a</text>
<line x1="365.17" y1="301" x2="365.17" y2="302.8" stroke="#333" stroke-width="0.6"/>
<text class="s" x="365.17" y="309.1" font-size="5.8" text-anchor="middle" fill="#111" stroke="#111" stroke-width="0.15">8</text>
<rect x="353.8" y="267.94" width="6.3" height="33.06" fill="#d6d6d6"/>
<path d="M356.95 267.94V260.15M355.35 260.15H358.55" stroke="#c0c0c0" stroke-width="0.7" fill="none"/>
<text class="s" x="356.95" y="257.85" font-size="6.4" text-anchor="middle" fill="#111" stroke="#111" stroke-width="0.12">b</text>
<rect x="362.02" y="270.85" width="6.3" height="30.15" fill="#a3a3a3"/>
<path d="M365.17 270.85V264.05M363.57 264.05H366.77" stroke="#8d8d8d" stroke-width="0.7" fill="none"/>
<text class="s" x="365.17" y="261.75" font-size="6.4" text-anchor="middle" fill="#111" stroke="#111" stroke-width="0.12">b</text>
<rect x="370.24" y="256.26" width="6.3" height="44.74" fill="#2e2e2e"/>
<path d="M373.39 256.26V254.32M371.79 254.32H374.99" stroke="#222" stroke-width="0.7" fill="none"/>
<text class="s" x="373.39" y="252.02" font-size="6.4" text-anchor="middle" fill="#111" stroke="#111" stroke-width="0.12">a</text>
<line x1="395.17" y1="301" x2="395.17" y2="302.8" stroke="#333" stroke-width="0.6"/>
<text class="s" x="395.17" y="309.1" font-size="5.8" text-anchor="middle" fill="#111" stroke="#111" stroke-width="0.15">12</text>
<rect x="383.8" y="266.96" width="6.3" height="34.04" fill="#d6d6d6"/>
<path d="M386.95 266.96V265.02M385.35 265.02H388.55" stroke="#c0c0c0" stroke-width="0.7" fill="none"/>
<text class="s" x="386.95" y="262.72" font-size="6.4" text-anchor="middle" fill="#111" stroke="#111" stroke-width="0.12">a</text>
<rect x="392.02" y="262.1" width="6.3" height="38.9" fill="#a3a3a3"/>
<path d="M395.17 262.1V252.38M393.57 252.38H396.77" stroke="#8d8d8d" stroke-width="0.7" fill="none"/>
<text class="s" x="395.17" y="250.07" font-size="6.4" text-anchor="middle" fill="#111" stroke="#111" stroke-width="0.12">a</text>
<rect x="400.24" y="257.24" width="6.3" height="43.76" fill="#2e2e2e"/>
<path d="M403.39 257.24V245.57M401.79 245.57H404.99" stroke="#222" stroke-width="0.7" fill="none"/>
<text class="s" x="403.39" y="243.27" font-size="6.4" text-anchor="middle" fill="#111" stroke="#111" stroke-width="0.12">a</text>
<line x1="425.17" y1="301" x2="425.17" y2="302.8" stroke="#333" stroke-width="0.6"/>
<text class="s" x="425.97" y="309.1" font-size="5.8" text-anchor="middle" fill="#111" stroke="#111" stroke-width="0.15">14+rewater 7d</text>
<rect x="413.8" y="278.63" width="6.3" height="22.37" fill="#d6d6d6"/>
<path d="M416.95 278.63V275.71M415.35 275.71H418.55" stroke="#c0c0c0" stroke-width="0.7" fill="none"/>
<text class="s" x="416.95" y="273.41" font-size="6.4" text-anchor="middle" fill="#111" stroke="#111" stroke-width="0.12">b</text>
<rect x="422.02" y="267.94" width="6.3" height="33.06" fill="#a3a3a3"/>
<path d="M425.17 267.94V258.21M423.57 258.21H426.77" stroke="#8d8d8d" stroke-width="0.7" fill="none"/>
<text class="s" x="425.17" y="255.91" font-size="6.4" text-anchor="middle" fill="#111" stroke="#111" stroke-width="0.12">b</text>
<rect x="430.24" y="240.7" width="6.3" height="60.3" fill="#2e2e2e"/>
<path d="M433.39 240.7V227.09M431.79 227.09H434.99" stroke="#222" stroke-width="0.7" fill="none"/>
<text class="s" x="433.39" y="224.79" font-size="6.4" text-anchor="middle" fill="#111" stroke="#111" stroke-width="0.12">a</text>
<text transform="translate(307.5 262.5) rotate(-90)" font-family='"Liberation Sans", Arial, sans-serif' font-size="6.5" font-weight="bold" text-anchor="middle" fill="#000" stroke="#000" stroke-width="0.2">Fresh Weight(g)</text>
<text class="sb" x="379.7" y="320.5" font-size="6.2" text-anchor="middle" fill="#111" stroke="#111" stroke-width="0.15">NaCl(days)</text>
<rect x="444.8" y="227.05" width="8.8" height="4.3" fill="#d6d6d6"/>
<text class="s" x="458.2" y="231.4" font-size="6.3" fill="#111" stroke="#111" stroke-width="0.15">E</text>
<rect x="444.8" y="237.4" width="8.8" height="4.3" fill="#a3a3a3"/>
<text class="s" x="458.2" y="241.75" font-size="6.3" fill="#111" stroke="#111" stroke-width="0.15">B1</text>
<rect x="444.8" y="247.75" width="8.8" height="4.3" fill="#2e2e2e"/>
<text class="s" x="458.2" y="252.1" font-size="6.3" fill="#111" stroke="#111" stroke-width="0.15">EB1</text>
<line x1="320.3" y1="350.2" x2="320.3" y2="427.4" stroke="#555" stroke-width="1.1"/>
<line x1="320.3" y1="427.4" x2="436.7" y2="427.4" stroke="#333" stroke-width="1.2"/>
<line x1="318.5" y1="427.4" x2="320.3" y2="427.4" stroke="#333" stroke-width="0.6"/>
<text class="sb" x="317.3" y="429.4" font-size="5.7" text-anchor="end" fill="#222">0.0</text>
<line x1="318.5" y1="401.67" x2="320.3" y2="401.67" stroke="#333" stroke-width="0.6"/>
<text class="sb" x="317.3" y="403.67" font-size="5.7" text-anchor="end" fill="#222">0.2</text>
<line x1="318.5" y1="375.93" x2="320.3" y2="375.93" stroke="#333" stroke-width="0.6"/>
<text class="sb" x="317.3" y="377.93" font-size="5.7" text-anchor="end" fill="#222">0.4</text>
<line x1="318.5" y1="350.2" x2="320.3" y2="350.2" stroke="#333" stroke-width="0.6"/>
<text class="sb" x="317.3" y="352.2" font-size="5.7" text-anchor="end" fill="#222">0.6</text>
<line x1="333.57" y1="427.4" x2="333.57" y2="429.2" stroke="#333" stroke-width="0.6"/>
<text class="s" x="333.57" y="435.5" font-size="5.8" text-anchor="middle" fill="#111" stroke="#111" stroke-width="0.15">0</text>
<rect x="322.2" y="404.5" width="6.3" height="22.9" fill="#d6d6d6"/>
<path d="M325.35 404.5V401.92M323.75 401.92H326.95" stroke="#c0c0c0" stroke-width="0.7" fill="none"/>
<text class="s" x="325.35" y="399.62" font-size="6.4" text-anchor="middle" fill="#111" stroke="#111" stroke-width="0.12">a</text>
<rect x="330.42" y="397.81" width="6.3" height="29.59" fill="#a3a3a3"/>
<path d="M333.57 397.81V395.23M331.97 395.23H335.17" stroke="#8d8d8d" stroke-width="0.7" fill="none"/>
<text class="s" x="333.57" y="392.93" font-size="6.4" text-anchor="middle" fill="#111" stroke="#111" stroke-width="0.12">a</text>
<rect x="338.64" y="399.09" width="6.3" height="28.31" fill="#2e2e2e"/>
<path d="M341.79 399.09V395.23M340.19 395.23H343.39" stroke="#222" stroke-width="0.7" fill="none"/>
<text class="s" x="341.79" y="392.93" font-size="6.4" text-anchor="middle" fill="#111" stroke="#111" stroke-width="0.12">a</text>
<line x1="363.47" y1="427.4" x2="363.47" y2="429.2" stroke="#333" stroke-width="0.6"/>
<text class="s" x="363.47" y="435.5" font-size="5.8" text-anchor="middle" fill="#111" stroke="#111" stroke-width="0.15">8</text>
<rect x="352.1" y="395.88" width="6.3" height="31.52" fill="#d6d6d6"/>
<path d="M355.25 395.88V392.02M353.65 392.02H356.85" stroke="#c0c0c0" stroke-width="0.7" fill="none"/>
<text class="s" x="355.25" y="389.72" font-size="6.4" text-anchor="middle" fill="#111" stroke="#111" stroke-width="0.12">a</text>
<rect x="360.32" y="394.59" width="6.3" height="32.81" fill="#a3a3a3"/>
<path d="M363.47 394.59V389.44M361.87 389.44H365.07" stroke="#8d8d8d" stroke-width="0.7" fill="none"/>
<text class="s" x="363.47" y="387.14" font-size="6.4" text-anchor="middle" fill="#111" stroke="#111" stroke-width="0.12">a</text>
<rect x="368.54" y="388.8" width="6.3" height="38.6" fill="#2e2e2e"/>
<path d="M371.69 388.8V383.01M370.09 383.01H373.29" stroke="#222" stroke-width="0.7" fill="none"/>
<text class="s" x="371.69" y="380.71" font-size="6.4" text-anchor="middle" fill="#111" stroke="#111" stroke-width="0.12">a</text>
<line x1="393.17" y1="427.4" x2="393.17" y2="429.2" stroke="#333" stroke-width="0.6"/>
<text class="s" x="393.17" y="435.5" font-size="5.8" text-anchor="middle" fill="#111" stroke="#111" stroke-width="0.15">12</text>
<rect x="381.8" y="399.09" width="6.3" height="28.31" fill="#d6d6d6"/>
<path d="M384.95 399.09V396.52M383.35 396.52H386.55" stroke="#c0c0c0" stroke-width="0.7" fill="none"/>
<text class="s" x="384.95" y="394.22" font-size="6.4" text-anchor="middle" fill="#111" stroke="#111" stroke-width="0.12">b</text>
<rect x="390.02" y="392.02" width="6.3" height="35.38" fill="#a3a3a3"/>
<path d="M393.17 392.02V389.44M391.57 389.44H394.77" stroke="#8d8d8d" stroke-width="0.7" fill="none"/>
<text class="s" x="393.17" y="387.14" font-size="6.4" text-anchor="middle" fill="#111" stroke="#111" stroke-width="0.12">a</text>
<rect x="398.24" y="390.09" width="6.3" height="37.31" fill="#2e2e2e"/>
<path d="M401.39 390.09V383.65M399.79 383.65H402.99" stroke="#222" stroke-width="0.7" fill="none"/>
<text class="s" x="401.39" y="381.35" font-size="6.4" text-anchor="middle" fill="#111" stroke="#111" stroke-width="0.12">a</text>
<line x1="422.97" y1="427.4" x2="422.97" y2="429.2" stroke="#333" stroke-width="0.6"/>
<text class="s" x="423.77" y="435.5" font-size="5.8" text-anchor="middle" fill="#111" stroke="#111" stroke-width="0.15">14+rewater 7d</text>
<rect x="411.6" y="402.95" width="6.3" height="24.45" fill="#d6d6d6"/>
<path d="M414.75 402.95V397.81M413.15 397.81H416.35" stroke="#c0c0c0" stroke-width="0.7" fill="none"/>
<text class="s" x="414.75" y="395.51" font-size="6.4" text-anchor="middle" fill="#111" stroke="#111" stroke-width="0.12">b</text>
<rect x="419.82" y="406.81" width="6.3" height="20.59" fill="#a3a3a3"/>
<path d="M422.97 406.81V404.24M421.37 404.24H424.57" stroke="#8d8d8d" stroke-width="0.7" fill="none"/>
<text class="s" x="422.97" y="401.94" font-size="6.4" text-anchor="middle" fill="#111" stroke="#111" stroke-width="0.12">b</text>
<rect x="428.04" y="368.86" width="6.3" height="58.54" fill="#2e2e2e"/>
<path d="M431.19 368.86V365M429.59 365H432.79" stroke="#222" stroke-width="0.7" fill="none"/>
<text class="s" x="431.19" y="362.7" font-size="6.4" text-anchor="middle" fill="#111" stroke="#111" stroke-width="0.12">a</text>
<text transform="translate(305.9 389.2) rotate(-90)" font-family='"Liberation Sans", Arial, sans-serif' font-size="6.5" font-weight="bold" text-anchor="middle" fill="#000" stroke="#000" stroke-width="0.2">Fresh Weight(g)</text>
<text class="sb" x="378.2" y="446.5" font-size="6.2" text-anchor="middle" fill="#111" stroke="#111" stroke-width="0.15">NaCl(days)</text>
<rect x="442.2" y="353.45" width="8.8" height="4.3" fill="#d6d6d6"/>
<text class="s" x="455.2" y="357.8" font-size="6.3" fill="#111" stroke="#111" stroke-width="0.15">G</text>
<rect x="442.2" y="363.8" width="8.8" height="4.3" fill="#a3a3a3"/>
<text class="s" x="455.2" y="368.15" font-size="6.3" fill="#111" stroke="#111" stroke-width="0.15">D1</text>
<rect x="442.2" y="374.15" width="8.8" height="4.3" fill="#2e2e2e"/>
<text class="s" x="455.2" y="378.5" font-size="6.3" fill="#111" stroke="#111" stroke-width="0.15">GD1</text>
<line x1="320.2" y1="441.6" x2="320.2" y2="519.3" stroke="#555" stroke-width="1.1"/>
<line x1="320.2" y1="519.3" x2="436.7" y2="519.3" stroke="#333" stroke-width="1.2"/>
<line x1="318.4" y1="519.3" x2="320.2" y2="519.3" stroke="#333" stroke-width="0.6"/>
<text class="sb" x="317.2" y="521.3" font-size="5.7" text-anchor="end" fill="#222">0.0</text>
<line x1="318.4" y1="503.76" x2="320.2" y2="503.76" stroke="#333" stroke-width="0.6"/>
<text class="sb" x="317.2" y="505.76" font-size="5.7" text-anchor="end" fill="#222">0.1</text>
<line x1="318.4" y1="488.22" x2="320.2" y2="488.22" stroke="#333" stroke-width="0.6"/>
<text class="sb" x="317.2" y="490.22" font-size="5.7" text-anchor="end" fill="#222">0.2</text>
<line x1="318.4" y1="472.68" x2="320.2" y2="472.68" stroke="#333" stroke-width="0.6"/>
<text class="sb" x="317.2" y="474.68" font-size="5.7" text-anchor="end" fill="#222">0.3</text>
<line x1="318.4" y1="457.14" x2="320.2" y2="457.14" stroke="#333" stroke-width="0.6"/>
<text class="sb" x="317.2" y="459.14" font-size="5.7" text-anchor="end" fill="#222">0.4</text>
<line x1="318.4" y1="441.6" x2="320.2" y2="441.6" stroke="#333" stroke-width="0.6"/>
<text class="sb" x="317.2" y="443.6" font-size="5.7" text-anchor="end" fill="#222">0.5</text>
<line x1="333.57" y1="519.3" x2="333.57" y2="521.1" stroke="#333" stroke-width="0.6"/>
<text class="s" x="333.57" y="527.4" font-size="5.8" text-anchor="middle" fill="#111" stroke="#111" stroke-width="0.15">0</text>
<rect x="322.2" y="492.26" width="6.3" height="27.04" fill="#d6d6d6"/>
<path d="M325.35 492.26V489.15M323.75 489.15H326.95" stroke="#c0c0c0" stroke-width="0.7" fill="none"/>
<text class="s" x="325.35" y="486.85" font-size="6.4" text-anchor="middle" fill="#111" stroke="#111" stroke-width="0.12">b</text>
<rect x="330.42" y="477.34" width="6.3" height="41.96" fill="#a3a3a3"/>
<path d="M333.57 477.34V474.23M331.97 474.23H335.17" stroke="#8d8d8d" stroke-width="0.7" fill="none"/>
<text class="s" x="333.57" y="471.93" font-size="6.4" text-anchor="middle" fill="#111" stroke="#111" stroke-width="0.12">a</text>
<rect x="338.64" y="485.11" width="6.3" height="34.19" fill="#2e2e2e"/>
<path d="M341.79 485.11V484.33M340.19 484.33H343.39" stroke="#222" stroke-width="0.7" fill="none"/>
<text class="s" x="341.79" y="482.03" font-size="6.4" text-anchor="middle" fill="#111" stroke="#111" stroke-width="0.12">a</text>
<line x1="363.47" y1="519.3" x2="363.47" y2="521.1" stroke="#333" stroke-width="0.6"/>
<text class="s" x="363.47" y="527.4" font-size="5.8" text-anchor="middle" fill="#111" stroke="#111" stroke-width="0.15">8</text>
<rect x="352.1" y="484.33" width="6.3" height="34.96" fill="#d6d6d6"/>
<path d="M355.25 484.33V482.78M353.65 482.78H356.85" stroke="#c0c0c0" stroke-width="0.7" fill="none"/>
<text class="s" x="355.25" y="480.48" font-size="6.4" text-anchor="middle" fill="#111" stroke="#111" stroke-width="0.12">bc</text>
<rect x="360.32" y="463.36" width="6.3" height="55.94" fill="#a3a3a3"/>
<path d="M363.47 463.36V458.69M361.87 458.69H365.07" stroke="#8d8d8d" stroke-width="0.7" fill="none"/>
<text class="s" x="363.47" y="456.39" font-size="6.4" text-anchor="middle" fill="#111" stroke="#111" stroke-width="0.12">a</text>
<rect x="368.54" y="478.12" width="6.3" height="41.18" fill="#2e2e2e"/>
<path d="M371.69 478.12V468.8M370.09 468.8H373.29" stroke="#222" stroke-width="0.7" fill="none"/>
<text class="s" x="371.69" y="466.5" font-size="6.4" text-anchor="middle" fill="#111" stroke="#111" stroke-width="0.12">b</text>
<line x1="393.17" y1="519.3" x2="393.17" y2="521.1" stroke="#333" stroke-width="0.6"/>
<text class="s" x="393.17" y="527.4" font-size="5.8" text-anchor="middle" fill="#111" stroke="#111" stroke-width="0.15">12</text>
<rect x="381.8" y="478.9" width="6.3" height="40.4" fill="#d6d6d6"/>
<path d="M384.95 478.9V477.34M383.35 477.34H386.55" stroke="#c0c0c0" stroke-width="0.7" fill="none"/>
<text class="s" x="384.95" y="475.04" font-size="6.4" text-anchor="middle" fill="#111" stroke="#111" stroke-width="0.12">a</text>
<rect x="390.02" y="474.23" width="6.3" height="45.07" fill="#a3a3a3"/>
<path d="M393.17 474.23V466.46M391.57 466.46H394.77" stroke="#8d8d8d" stroke-width="0.7" fill="none"/>
<text class="s" x="393.17" y="464.16" font-size="6.4" text-anchor="middle" fill="#111" stroke="#111" stroke-width="0.12">a</text>
<rect x="398.24" y="479.67" width="6.3" height="39.63" fill="#2e2e2e"/>
<path d="M401.39 479.67V470.35M399.79 470.35H402.99" stroke="#222" stroke-width="0.7" fill="none"/>
<text class="s" x="401.39" y="468.05" font-size="6.4" text-anchor="middle" fill="#111" stroke="#111" stroke-width="0.12">a</text>
<line x1="422.97" y1="519.3" x2="422.97" y2="521.1" stroke="#333" stroke-width="0.6"/>
<text class="s" x="423.77" y="527.4" font-size="5.8" text-anchor="middle" fill="#111" stroke="#111" stroke-width="0.15">14+rewater 7d</text>
<rect x="411.6" y="493.66" width="6.3" height="25.64" fill="#d6d6d6"/>
<path d="M414.75 493.66V487.44M413.15 487.44H416.35" stroke="#c0c0c0" stroke-width="0.7" fill="none"/>
<text class="s" x="414.75" y="485.14" font-size="6.4" text-anchor="middle" fill="#111" stroke="#111" stroke-width="0.12">b</text>
<rect x="419.82" y="492.88" width="6.3" height="26.42" fill="#a3a3a3"/>
<path d="M422.97 492.88V485.11M421.37 485.11H424.57" stroke="#8d8d8d" stroke-width="0.7" fill="none"/>
<text class="s" x="422.97" y="482.81" font-size="6.4" text-anchor="middle" fill="#111" stroke="#111" stroke-width="0.12">b</text>
<rect x="428.04" y="461.8" width="6.3" height="57.5" fill="#2e2e2e"/>
<path d="M431.19 461.8V452.48M429.59 452.48H432.79" stroke="#222" stroke-width="0.7" fill="none"/>
<text class="s" x="431.19" y="450.18" font-size="6.4" text-anchor="middle" fill="#111" stroke="#111" stroke-width="0.12">a</text>
<text transform="translate(305.8 480.85) rotate(-90)" font-family='"Liberation Sans", Arial, sans-serif' font-size="6.5" font-weight="bold" text-anchor="middle" fill="#000" stroke="#000" stroke-width="0.2">Fresh Weight(g)</text>
<text class="sb" x="378.2" y="538.6" font-size="6.2" text-anchor="middle" fill="#111" stroke="#111" stroke-width="0.15">NaCl(days)</text>
<rect x="442.2" y="444.45" width="8.8" height="4.3" fill="#d6d6d6"/>
<text class="s" x="455.2" y="448.8" font-size="6.3" fill="#111" stroke="#111" stroke-width="0.15">G</text>
<rect x="442.2" y="454.8" width="8.8" height="4.3" fill="#a3a3a3"/>
<text class="s" x="455.2" y="459.15" font-size="6.3" fill="#111" stroke="#111" stroke-width="0.15">E1</text>
<rect x="442.2" y="465.15" width="8.8" height="4.3" fill="#2e2e2e"/>
<text class="s" x="455.2" y="469.5" font-size="6.3" fill="#111" stroke="#111" stroke-width="0.15">GE1</text>
<line x1="320.2" y1="534.2" x2="320.2" y2="611.2" stroke="#555" stroke-width="1.1"/>
<line x1="320.2" y1="611.2" x2="436.7" y2="611.2" stroke="#333" stroke-width="1.2"/>
<line x1="318.4" y1="611.2" x2="320.2" y2="611.2" stroke="#333" stroke-width="0.6"/>
<text class="sb" x="317.2" y="613.2" font-size="5.7" text-anchor="end" fill="#222">0.0</text>
<line x1="318.4" y1="591.95" x2="320.2" y2="591.95" stroke="#333" stroke-width="0.6"/>
<text class="sb" x="317.2" y="593.95" font-size="5.7" text-anchor="end" fill="#222">0.1</text>
<line x1="318.4" y1="572.7" x2="320.2" y2="572.7" stroke="#333" stroke-width="0.6"/>
<text class="sb" x="317.2" y="574.7" font-size="5.7" text-anchor="end" fill="#222">0.2</text>
<line x1="318.4" y1="553.45" x2="320.2" y2="553.45" stroke="#333" stroke-width="0.6"/>
<text class="sb" x="317.2" y="555.45" font-size="5.7" text-anchor="end" fill="#222">0.3</text>
<line x1="318.4" y1="534.2" x2="320.2" y2="534.2" stroke="#333" stroke-width="0.6"/>
<text class="sb" x="317.2" y="536.2" font-size="5.7" text-anchor="end" fill="#222">0.4</text>
<line x1="333.57" y1="611.2" x2="333.57" y2="613" stroke="#333" stroke-width="0.6"/>
<text class="s" x="333.57" y="619.3" font-size="5.8" text-anchor="middle" fill="#111" stroke="#111" stroke-width="0.15">0</text>
<rect x="322.2" y="575.78" width="6.3" height="35.42" fill="#d6d6d6"/>
<path d="M325.35 575.78V573.86M323.75 573.86H326.95" stroke="#c0c0c0" stroke-width="0.7" fill="none"/>
<text class="s" x="325.35" y="571.56" font-size="6.4" text-anchor="middle" fill="#111" stroke="#111" stroke-width="0.12">a</text>
<rect x="330.42" y="576.55" width="6.3" height="34.65" fill="#a3a3a3"/>
<path d="M333.57 576.55V575.59M331.97 575.59H335.17" stroke="#8d8d8d" stroke-width="0.7" fill="none"/>
<text class="s" x="333.57" y="573.29" font-size="6.4" text-anchor="middle" fill="#111" stroke="#111" stroke-width="0.12">a</text>
<rect x="338.64" y="579.82" width="6.3" height="31.38" fill="#2e2e2e"/>
<path d="M341.79 579.82V573.09M340.19 573.09H343.39" stroke="#222" stroke-width="0.7" fill="none"/>
<text class="s" x="341.79" y="570.79" font-size="6.4" text-anchor="middle" fill="#111" stroke="#111" stroke-width="0.12">a</text>
<line x1="363.47" y1="611.2" x2="363.47" y2="613" stroke="#333" stroke-width="0.6"/>
<text class="s" x="363.47" y="619.3" font-size="5.8" text-anchor="middle" fill="#111" stroke="#111" stroke-width="0.15">8</text>
<rect x="352.1" y="568.85" width="6.3" height="42.35" fill="#d6d6d6"/>
<path d="M355.25 568.85V561.15M353.65 561.15H356.85" stroke="#c0c0c0" stroke-width="0.7" fill="none"/>
<text class="s" x="355.25" y="558.85" font-size="6.4" text-anchor="middle" fill="#111" stroke="#111" stroke-width="0.12">a</text>
<rect x="360.32" y="563.08" width="6.3" height="48.12" fill="#a3a3a3"/>
<path d="M363.47 563.08V549.6M361.87 549.6H365.07" stroke="#8d8d8d" stroke-width="0.7" fill="none"/>
<text class="s" x="363.47" y="547.3" font-size="6.4" text-anchor="middle" fill="#111" stroke="#111" stroke-width="0.12">a</text>
<rect x="368.54" y="572.7" width="6.3" height="38.5" fill="#2e2e2e"/>
<path d="M371.69 572.7V561.15M370.09 561.15H373.29" stroke="#222" stroke-width="0.7" fill="none"/>
<text class="s" x="371.69" y="558.85" font-size="6.4" text-anchor="middle" fill="#111" stroke="#111" stroke-width="0.12">a</text>
<line x1="393.17" y1="611.2" x2="393.17" y2="613" stroke="#333" stroke-width="0.6"/>
<text class="s" x="393.17" y="619.3" font-size="5.8" text-anchor="middle" fill="#111" stroke="#111" stroke-width="0.15">12</text>
<rect x="381.8" y="565" width="6.3" height="46.2" fill="#d6d6d6"/>
<path d="M384.95 565V555.38M383.35 555.38H386.55" stroke="#c0c0c0" stroke-width="0.7" fill="none"/>
<text class="s" x="384.95" y="553.08" font-size="6.4" text-anchor="middle" fill="#111" stroke="#111" stroke-width="0.12">a</text>
<rect x="390.02" y="565.96" width="6.3" height="45.24" fill="#a3a3a3"/>
<path d="M393.17 565.96V556.34M391.57 556.34H394.77" stroke="#8d8d8d" stroke-width="0.7" fill="none"/>
<text class="s" x="393.17" y="554.04" font-size="6.4" text-anchor="middle" fill="#111" stroke="#111" stroke-width="0.12">a</text>
<rect x="398.24" y="563.08" width="6.3" height="48.12" fill="#2e2e2e"/>
<path d="M401.39 563.08V551.53M399.79 551.53H402.99" stroke="#222" stroke-width="0.7" fill="none"/>
<text class="s" x="401.39" y="549.23" font-size="6.4" text-anchor="middle" fill="#111" stroke="#111" stroke-width="0.12">a</text>
<line x1="422.97" y1="611.2" x2="422.97" y2="613" stroke="#333" stroke-width="0.6"/>
<text class="s" x="423.77" y="619.3" font-size="5.8" text-anchor="middle" fill="#111" stroke="#111" stroke-width="0.15">14+rewater 7d</text>
<rect x="411.6" y="583.29" width="6.3" height="27.91" fill="#d6d6d6"/>
<path d="M414.75 583.29V574.62M413.15 574.62H416.35" stroke="#c0c0c0" stroke-width="0.7" fill="none"/>
<text class="s" x="414.75" y="572.33" font-size="6.4" text-anchor="middle" fill="#111" stroke="#111" stroke-width="0.12">b</text>
<rect x="419.82" y="590.03" width="6.3" height="21.17" fill="#a3a3a3"/>
<path d="M422.97 590.03V587.14M421.37 587.14H424.57" stroke="#8d8d8d" stroke-width="0.7" fill="none"/>
<text class="s" x="422.97" y="584.84" font-size="6.4" text-anchor="middle" fill="#111" stroke="#111" stroke-width="0.12">b</text>
<rect x="428.04" y="552.49" width="6.3" height="58.71" fill="#2e2e2e"/>
<path d="M431.19 552.49V542.86M429.59 542.86H432.79" stroke="#222" stroke-width="0.7" fill="none"/>
<text class="s" x="431.19" y="540.56" font-size="6.4" text-anchor="middle" fill="#111" stroke="#111" stroke-width="0.12">a</text>
<text transform="translate(305.8 573.1) rotate(-90)" font-family='"Liberation Sans", Arial, sans-serif' font-size="6.5" font-weight="bold" text-anchor="middle" fill="#000" stroke="#000" stroke-width="0.2">Fresh Weight(g)</text>
<text class="sb" x="378.2" y="631" font-size="6.2" text-anchor="middle" fill="#111" stroke="#111" stroke-width="0.15">NaCl(days)</text>
<rect x="442.2" y="537.35" width="8.8" height="4.3" fill="#d6d6d6"/>
<text class="s" x="455.2" y="541.7" font-size="6.3" fill="#111" stroke="#111" stroke-width="0.15">G</text>
<rect x="442.2" y="547.7" width="8.8" height="4.3" fill="#a3a3a3"/>
<text class="s" x="455.2" y="552.05" font-size="6.3" fill="#111" stroke="#111" stroke-width="0.15">G1</text>
<rect x="442.2" y="558.05" width="8.8" height="4.3" fill="#2e2e2e"/>
<text class="s" x="455.2" y="562.4" font-size="6.3" fill="#111" stroke="#111" stroke-width="0.15">GG1</text>
<text class="s" x="339.5" y="549.8" font-size="10" fill="#4a4a4a">E</text>
<rect x="494.8" y="45.7" width="51.7" height="77.1" fill="none" stroke="#666" stroke-width="0.7"/>
<line x1="494.8" y1="45.7" x2="494.8" y2="122.8" stroke="#222" stroke-width="0.8"/>
<line x1="494.8" y1="122.8" x2="546.5" y2="122.8" stroke="#222" stroke-width="0.8"/>
<line x1="493" y1="122.8" x2="494.8" y2="122.8" stroke="#333" stroke-width="0.6"/>
<text class="sb" x="492" y="124.8" font-size="5.6" text-anchor="end" fill="#222">0</text>
<line x1="493" y1="90.67" x2="494.8" y2="90.67" stroke="#333" stroke-width="0.6"/>
<text class="sb" x="492" y="92.67" font-size="5.6" text-anchor="end" fill="#222">50</text>
<line x1="493" y1="58.55" x2="494.8" y2="58.55" stroke="#333" stroke-width="0.6"/>
<text class="sb" x="492" y="60.55" font-size="5.6" text-anchor="end" fill="#222">100</text>
<rect x="500" y="61.76" width="10.4" height="61.04" fill="#d9d9d9" stroke="#8a8a8a" stroke-width="0.6"/>
<path d="M505.2 61.76V58.55M503.2 58.55H507.2" stroke="#333" stroke-width="0.6" fill="none"/>
<text class="s" x="505.2" y="55.95" font-size="6.6" text-anchor="middle" fill="#111" stroke="#111" stroke-width="0.12">a</text>
<text class="sb" x="505.2" y="133" font-size="6" text-anchor="middle" fill="#222">D</text>
<rect x="515.3" y="116.38" width="10.4" height="6.42" fill="#808080" stroke="#505050" stroke-width="0.6"/>
<path d="M520.5 116.38V113.16M518.5 113.16H522.5" stroke="#333" stroke-width="0.6" fill="none"/>
<text class="s" x="520.5" y="110.56" font-size="6.6" text-anchor="middle" fill="#111" stroke="#111" stroke-width="0.12">b</text>
<text class="sb" x="520.5" y="133" font-size="6" text-anchor="middle" fill="#222">B1</text>
<rect x="531" y="68.19" width="10.4" height="54.61" fill="#a30808" stroke="#7a0000" stroke-width="0.6"/>
<path d="M536.2 68.19V64.97M534.2 64.97H538.2" stroke="#333" stroke-width="0.6" fill="none"/>
<text class="s" x="536.2" y="62.37" font-size="6.6" text-anchor="middle" fill="#111" stroke="#111" stroke-width="0.12">a</text>
<text class="sb" x="536.2" y="133" font-size="6" text-anchor="middle" fill="#222">DB1</text>
<text transform="translate(478.8 85.05) rotate(-90)" font-family='"Liberation Sans", Arial, sans-serif' font-size="6.5" font-weight="bold" text-anchor="middle" fill="#000" stroke="#000" stroke-width="0.2">Survive rate%</text>
<rect x="494.8" y="135.1" width="51.7" height="75.9" fill="none" stroke="#666" stroke-width="0.7"/>
<line x1="494.8" y1="135.1" x2="494.8" y2="211" stroke="#222" stroke-width="0.8"/>
<line x1="494.8" y1="211" x2="546.5" y2="211" stroke="#222" stroke-width="0.8"/>
<line x1="493" y1="211" x2="494.8" y2="211" stroke="#333" stroke-width="0.6"/>
<text class="sb" x="492" y="213" font-size="5.6" text-anchor="end" fill="#222">0</text>
<line x1="493" y1="192.03" x2="494.8" y2="192.03" stroke="#333" stroke-width="0.6"/>
<text class="sb" x="492" y="194.03" font-size="5.6" text-anchor="end" fill="#222">25</text>
<line x1="493" y1="173.05" x2="494.8" y2="173.05" stroke="#333" stroke-width="0.6"/>
<text class="sb" x="492" y="175.05" font-size="5.6" text-anchor="end" fill="#222">50</text>
<line x1="493" y1="154.07" x2="494.8" y2="154.07" stroke="#333" stroke-width="0.6"/>
<text class="sb" x="492" y="156.07" font-size="5.6" text-anchor="end" fill="#222">75</text>
<line x1="493" y1="135.1" x2="494.8" y2="135.1" stroke="#333" stroke-width="0.6"/>
<text class="sb" x="492" y="137.1" font-size="5.6" text-anchor="end" fill="#222">100</text>
<rect x="500" y="200.37" width="10.4" height="10.63" fill="#d9d9d9" stroke="#8a8a8a" stroke-width="0.6"/>
<path d="M505.2 200.37V198.48M503.2 198.48H507.2" stroke="#333" stroke-width="0.6" fill="none"/>
<text class="s" x="505.2" y="195.88" font-size="6.6" text-anchor="middle" fill="#111" stroke="#111" stroke-width="0.12">b</text>
<text class="sb" x="505.2" y="221.2" font-size="6" text-anchor="middle" fill="#222">B</text>
<rect x="515.3" y="199.62" width="10.4" height="11.38" fill="#808080" stroke="#505050" stroke-width="0.6"/>
<path d="M520.5 199.62V198.86M518.5 198.86H522.5" stroke="#333" stroke-width="0.6" fill="none"/>
<text class="s" x="520.5" y="196.26" font-size="6.6" text-anchor="middle" fill="#111" stroke="#111" stroke-width="0.12">b</text>
<text class="sb" x="520.5" y="221.2" font-size="6" text-anchor="middle" fill="#222">B1</text>
<rect x="531" y="157.11" width="10.4" height="53.89" fill="#a30808" stroke="#7a0000" stroke-width="0.6"/>
<path d="M536.2 157.11V152.56M534.2 152.56H538.2" stroke="#333" stroke-width="0.6" fill="none"/>
<text class="s" x="536.2" y="149.96" font-size="6.6" text-anchor="middle" fill="#111" stroke="#111" stroke-width="0.12">a</text>
<text class="sb" x="536.2" y="221.2" font-size="6" text-anchor="middle" fill="#222">BB1</text>
<text transform="translate(478.8 173.85) rotate(-90)" font-family='"Liberation Sans", Arial, sans-serif' font-size="6.5" font-weight="bold" text-anchor="middle" fill="#000" stroke="#000" stroke-width="0.2">Survive rate%</text>
<rect x="494.8" y="224.2" width="51.7" height="77.4" fill="none" stroke="#666" stroke-width="0.7"/>
<line x1="494.8" y1="224.2" x2="494.8" y2="301.6" stroke="#222" stroke-width="0.8"/>
<line x1="494.8" y1="301.6" x2="546.5" y2="301.6" stroke="#222" stroke-width="0.8"/>
<line x1="493" y1="301.6" x2="494.8" y2="301.6" stroke="#333" stroke-width="0.6"/>
<text class="sb" x="492" y="303.6" font-size="5.6" text-anchor="end" fill="#222">0</text>
<line x1="493" y1="282.25" x2="494.8" y2="282.25" stroke="#333" stroke-width="0.6"/>
<text class="sb" x="492" y="284.25" font-size="5.6" text-anchor="end" fill="#222">20</text>
<line x1="493" y1="262.9" x2="494.8" y2="262.9" stroke="#333" stroke-width="0.6"/>
<text class="sb" x="492" y="264.9" font-size="5.6" text-anchor="end" fill="#222">40</text>
<line x1="493" y1="243.55" x2="494.8" y2="243.55" stroke="#333" stroke-width="0.6"/>
<text class="sb" x="492" y="245.55" font-size="5.6" text-anchor="end" fill="#222">60</text>
<line x1="493" y1="224.2" x2="494.8" y2="224.2" stroke="#333" stroke-width="0.6"/>
<text class="sb" x="492" y="226.2" font-size="5.6" text-anchor="end" fill="#222">80</text>
<rect x="500" y="295.8" width="10.4" height="5.81" fill="#d9d9d9" stroke="#8a8a8a" stroke-width="0.6"/>
<path d="M505.2 295.8V293.86M503.2 293.86H507.2" stroke="#333" stroke-width="0.6" fill="none"/>
<text class="s" x="505.2" y="291.26" font-size="6.6" text-anchor="middle" fill="#111" stroke="#111" stroke-width="0.12">b</text>
<text class="sb" x="505.2" y="311.8" font-size="6" text-anchor="middle" fill="#222">E</text>
<rect x="515.3" y="281.28" width="10.4" height="20.32" fill="#808080" stroke="#505050" stroke-width="0.6"/>
<path d="M520.5 281.28V278.38M518.5 278.38H522.5" stroke="#333" stroke-width="0.6" fill="none"/>
<text class="s" x="520.5" y="275.78" font-size="6.6" text-anchor="middle" fill="#111" stroke="#111" stroke-width="0.12">b</text>
<text class="sb" x="520.5" y="311.8" font-size="6" text-anchor="middle" fill="#222">B1</text>
<rect x="531" y="240.65" width="10.4" height="60.95" fill="#a30808" stroke="#7a0000" stroke-width="0.6"/>
<path d="M536.2 240.65V238.71M534.2 238.71H538.2" stroke="#333" stroke-width="0.6" fill="none"/>
<text class="s" x="536.2" y="236.11" font-size="6.6" text-anchor="middle" fill="#111" stroke="#111" stroke-width="0.12">a</text>
<text class="sb" x="536.2" y="311.8" font-size="6" text-anchor="middle" fill="#222">EB1</text>
<text transform="translate(478.8 263.7) rotate(-90)" font-family='"Liberation Sans", Arial, sans-serif' font-size="6.5" font-weight="bold" text-anchor="middle" fill="#000" stroke="#000" stroke-width="0.2">Survive rate%</text>
<rect x="494.8" y="351.3" width="51.7" height="77.7" fill="none" stroke="#666" stroke-width="0.7"/>
<line x1="494.8" y1="351.3" x2="494.8" y2="429" stroke="#222" stroke-width="0.8"/>
<line x1="494.8" y1="429" x2="546.5" y2="429" stroke="#222" stroke-width="0.8"/>
<line x1="493" y1="429" x2="494.8" y2="429" stroke="#333" stroke-width="0.6"/>
<text class="sb" x="492" y="431" font-size="5.6" text-anchor="end" fill="#222">0</text>
<line x1="493" y1="409.57" x2="494.8" y2="409.57" stroke="#333" stroke-width="0.6"/>
<text class="sb" x="492" y="411.57" font-size="5.6" text-anchor="end" fill="#222">25</text>
<line x1="493" y1="390.15" x2="494.8" y2="390.15" stroke="#333" stroke-width="0.6"/>
<text class="sb" x="492" y="392.15" font-size="5.6" text-anchor="end" fill="#222">50</text>
<line x1="493" y1="370.73" x2="494.8" y2="370.73" stroke="#333" stroke-width="0.6"/>
<text class="sb" x="492" y="372.73" font-size="5.6" text-anchor="end" fill="#222">75</text>
<line x1="493" y1="351.3" x2="494.8" y2="351.3" stroke="#333" stroke-width="0.6"/>
<text class="sb" x="492" y="353.3" font-size="5.6" text-anchor="end" fill="#222">100</text>
<rect x="500" y="401.03" width="10.4" height="27.97" fill="#f1e6c6" stroke="#a8986a" stroke-width="0.6"/>
<path d="M505.2 401.03V397.14M503.2 397.14H507.2" stroke="#333" stroke-width="0.6" fill="none"/>
<text class="s" x="505.2" y="394.54" font-size="6.6" text-anchor="middle" fill="#111" stroke="#111" stroke-width="0.12">b</text>
<text class="sb" x="505.2" y="439.2" font-size="6" text-anchor="middle" fill="#222">G</text>
<rect x="515.3" y="419.68" width="10.4" height="9.32" fill="#c2b07a" stroke="#8a7a48" stroke-width="0.6"/>
<path d="M520.5 419.68V416.57M518.5 416.57H522.5" stroke="#333" stroke-width="0.6" fill="none"/>
<text class="s" x="520.5" y="413.97" font-size="6.6" text-anchor="middle" fill="#111" stroke="#111" stroke-width="0.12">c</text>
<text class="sb" x="520.5" y="439.2" font-size="6" text-anchor="middle" fill="#222">D1</text>
<rect x="531" y="365.29" width="10.4" height="63.71" fill="#c55a0e" stroke="#8a3a00" stroke-width="0.6"/>
<path d="M536.2 365.29V361.4M534.2 361.4H538.2" stroke="#333" stroke-width="0.6" fill="none"/>
<text class="s" x="536.2" y="358.8" font-size="6.6" text-anchor="middle" fill="#111" stroke="#111" stroke-width="0.12">a</text>
<text class="sb" x="536.2" y="439.2" font-size="6" text-anchor="middle" fill="#222">GD1</text>
<text transform="translate(478.8 390.95) rotate(-90)" font-family='"Liberation Sans", Arial, sans-serif' font-size="6.5" font-weight="bold" text-anchor="middle" fill="#000" stroke="#000" stroke-width="0.2">Survive rate%</text>
<rect x="494.8" y="442.3" width="51.7" height="77" fill="none" stroke="#666" stroke-width="0.7"/>
<line x1="494.8" y1="442.3" x2="494.8" y2="519.3" stroke="#222" stroke-width="0.8"/>
<line x1="494.8" y1="519.3" x2="546.5" y2="519.3" stroke="#222" stroke-width="0.8"/>
<line x1="493" y1="519.3" x2="494.8" y2="519.3" stroke="#333" stroke-width="0.6"/>
<text class="sb" x="492" y="521.3" font-size="5.6" text-anchor="end" fill="#222">0</text>
<line x1="493" y1="500.05" x2="494.8" y2="500.05" stroke="#333" stroke-width="0.6"/>
<text class="sb" x="492" y="502.05" font-size="5.6" text-anchor="end" fill="#222">25</text>
<line x1="493" y1="480.8" x2="494.8" y2="480.8" stroke="#333" stroke-width="0.6"/>
<text class="sb" x="492" y="482.8" font-size="5.6" text-anchor="end" fill="#222">50</text>
<line x1="493" y1="461.55" x2="494.8" y2="461.55" stroke="#333" stroke-width="0.6"/>
<text class="sb" x="492" y="463.55" font-size="5.6" text-anchor="end" fill="#222">75</text>
<line x1="493" y1="442.3" x2="494.8" y2="442.3" stroke="#333" stroke-width="0.6"/>
<text class="sb" x="492" y="444.3" font-size="5.6" text-anchor="end" fill="#222">100</text>
<rect x="500" y="499.28" width="10.4" height="20.02" fill="#f1e6c6" stroke="#a8986a" stroke-width="0.6"/>
<path d="M505.2 499.28V495.43M503.2 495.43H507.2" stroke="#333" stroke-width="0.6" fill="none"/>
<text class="s" x="505.2" y="492.83" font-size="6.6" text-anchor="middle" fill="#111" stroke="#111" stroke-width="0.12">b</text>
<text class="sb" x="505.2" y="529.5" font-size="6" text-anchor="middle" fill="#222">G</text>
<rect x="515.3" y="506.98" width="10.4" height="12.32" fill="#c2b07a" stroke="#8a7a48" stroke-width="0.6"/>
<path d="M520.5 506.98V503.9M518.5 503.9H522.5" stroke="#333" stroke-width="0.6" fill="none"/>
<text class="s" x="520.5" y="501.3" font-size="6.6" text-anchor="middle" fill="#111" stroke="#111" stroke-width="0.12">bc</text>
<text class="sb" x="520.5" y="529.5" font-size="6" text-anchor="middle" fill="#222">E1</text>
<rect x="531" y="485.42" width="10.4" height="33.88" fill="#c55a0e" stroke="#8a3a00" stroke-width="0.6"/>
<path d="M536.2 485.42V480.8M534.2 480.8H538.2" stroke="#333" stroke-width="0.6" fill="none"/>
<text class="s" x="536.2" y="478.2" font-size="6.6" text-anchor="middle" fill="#111" stroke="#111" stroke-width="0.12">a</text>
<text class="sb" x="536.2" y="529.5" font-size="6" text-anchor="middle" fill="#222">GE1</text>
<text transform="translate(478.8 481.6) rotate(-90)" font-family='"Liberation Sans", Arial, sans-serif' font-size="6.5" font-weight="bold" text-anchor="middle" fill="#000" stroke="#000" stroke-width="0.2">Survive rate%</text>
<rect x="494.8" y="533.2" width="51.7" height="77.6" fill="none" stroke="#666" stroke-width="0.7"/>
<line x1="494.8" y1="533.2" x2="494.8" y2="610.8" stroke="#222" stroke-width="0.8"/>
<line x1="494.8" y1="610.8" x2="546.5" y2="610.8" stroke="#222" stroke-width="0.8"/>
<line x1="493" y1="610.8" x2="494.8" y2="610.8" stroke="#333" stroke-width="0.6"/>
<text class="sb" x="492" y="612.8" font-size="5.6" text-anchor="end" fill="#222">0</text>
<line x1="493" y1="591.4" x2="494.8" y2="591.4" stroke="#333" stroke-width="0.6"/>
<text class="sb" x="492" y="593.4" font-size="5.6" text-anchor="end" fill="#222">25</text>
<line x1="493" y1="572" x2="494.8" y2="572" stroke="#333" stroke-width="0.6"/>
<text class="sb" x="492" y="574" font-size="5.6" text-anchor="end" fill="#222">50</text>
<line x1="493" y1="552.6" x2="494.8" y2="552.6" stroke="#333" stroke-width="0.6"/>
<text class="sb" x="492" y="554.6" font-size="5.6" text-anchor="end" fill="#222">75</text>
<line x1="493" y1="533.2" x2="494.8" y2="533.2" stroke="#333" stroke-width="0.6"/>
<text class="sb" x="492" y="535.2" font-size="5.6" text-anchor="end" fill="#222">100</text>
<rect x="500" y="592.18" width="10.4" height="18.62" fill="#f1e6c6" stroke="#a8986a" stroke-width="0.6"/>
<path d="M505.2 592.18V589.07M503.2 589.07H507.2" stroke="#333" stroke-width="0.6" fill="none"/>
<text class="s" x="505.2" y="586.47" font-size="6.6" text-anchor="middle" fill="#111" stroke="#111" stroke-width="0.12">b</text>
<text class="sb" x="505.2" y="621" font-size="6" text-anchor="middle" fill="#222">G</text>
<rect x="515.3" y="603.04" width="10.4" height="7.76" fill="#c2b07a" stroke="#8a7a48" stroke-width="0.6"/>
<path d="M520.5 603.04V599.94M518.5 599.94H522.5" stroke="#333" stroke-width="0.6" fill="none"/>
<text class="s" x="520.5" y="597.34" font-size="6.6" text-anchor="middle" fill="#111" stroke="#111" stroke-width="0.12">c</text>
<text class="sb" x="520.5" y="621" font-size="6" text-anchor="middle" fill="#222">G1</text>
<rect x="531" y="586.74" width="10.4" height="24.06" fill="#c55a0e" stroke="#8a3a00" stroke-width="0.6"/>
<path d="M536.2 586.74V582.86M534.2 582.86H538.2" stroke="#333" stroke-width="0.6" fill="none"/>
<text class="s" x="536.2" y="580.26" font-size="6.6" text-anchor="middle" fill="#111" stroke="#111" stroke-width="0.12">a</text>
<text class="sb" x="536.2" y="621" font-size="6" text-anchor="middle" fill="#222">GG1</text>
<text transform="translate(478.8 572.8) rotate(-90)" font-family='"Liberation Sans", Arial, sans-serif' font-size="6.5" font-weight="bold" text-anchor="middle" fill="#000" stroke="#000" stroke-width="0.2">Survive rate%</text>
<text class="r" x="506.3" y="550.2" font-size="14" fill="#222">F</text>
</svg>
</body></html>
